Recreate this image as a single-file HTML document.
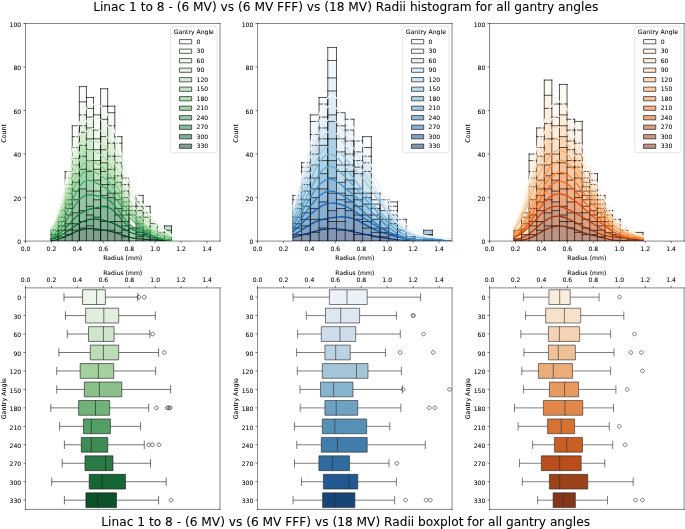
<!DOCTYPE html>
<html><head><meta charset="utf-8"><title>Radii</title><style>html,body{margin:0;padding:0;background:#fff;overflow:hidden}svg{display:block}</style></head><body>
<svg width="685" height="529" viewBox="0 0 1122.95 867.21" version="1.1">
 
 <defs>
  <style type="text/css">*{stroke-linejoin: round; stroke-linecap: butt}</style>
 </defs>
 <g id="figure_1">
  <g id="patch_1">
   <path d="M 0 867.21 
L 1122.95 867.21 
L 1122.95 0 
L 0 0 
z
" style="fill: #ffffff"/>
  </g>
  <g id="axes_1">
   <g id="patch_2">
    <path d="M 41.80 395.24 
L 360.65 395.24 
L 360.65 38.52 
L 41.80 38.52 
z
" style="fill: #ffffff"/>
   </g>
   <g id="patch_3">
    <path d="M 106.84 395.24 
L 118.46 395.24 
L 118.46 384.54 
L 106.84 384.54 
z
" clip-path="url(#pce05e1e68a)" style="fill: #00441b; fill-opacity: 0.5"/>
   </g>
   <g id="patch_4">
    <path d="M 118.46 395.24 
L 130.08 395.24 
L 130.08 377.40 
L 118.46 377.40 
z
" clip-path="url(#pce05e1e68a)" style="fill: #00441b; fill-opacity: 0.5"/>
   </g>
   <g id="patch_5">
    <path d="M 130.08 395.24 
L 141.70 395.24 
L 141.70 373.84 
L 130.08 373.84 
z
" clip-path="url(#pce05e1e68a)" style="fill: #00441b; fill-opacity: 0.5"/>
   </g>
   <g id="patch_6">
    <path d="M 141.70 395.24 
L 153.32 395.24 
L 153.32 370.27 
L 141.70 370.27 
z
" clip-path="url(#pce05e1e68a)" style="fill: #00441b; fill-opacity: 0.5"/>
   </g>
   <g id="patch_7">
    <path d="M 153.32 395.24 
L 164.94 395.24 
L 164.94 377.40 
L 153.32 377.40 
z
" clip-path="url(#pce05e1e68a)" style="fill: #00441b; fill-opacity: 0.5"/>
   </g>
   <g id="patch_8">
    <path d="M 164.94 395.24 
L 176.56 395.24 
L 176.56 377.40 
L 164.94 377.40 
z
" clip-path="url(#pce05e1e68a)" style="fill: #00441b; fill-opacity: 0.5"/>
   </g>
   <g id="patch_9">
    <path d="M 176.56 395.24 
L 188.18 395.24 
L 188.18 377.40 
L 176.56 377.40 
z
" clip-path="url(#pce05e1e68a)" style="fill: #00441b; fill-opacity: 0.5"/>
   </g>
   <g id="patch_10">
    <path d="M 188.18 395.24 
L 199.80 395.24 
L 199.80 380.97 
L 188.18 380.97 
z
" clip-path="url(#pce05e1e68a)" style="fill: #00441b; fill-opacity: 0.5"/>
   </g>
   <g id="patch_11">
    <path d="M 199.80 395.24 
L 211.42 395.24 
L 211.42 388.11 
L 199.80 388.11 
z
" clip-path="url(#pce05e1e68a)" style="fill: #00441b; fill-opacity: 0.5"/>
   </g>
   <g id="patch_12">
    <path d="M 223.04 395.24 
L 234.66 395.24 
L 234.66 388.11 
L 223.04 388.11 
z
" clip-path="url(#pce05e1e68a)" style="fill: #00441b; fill-opacity: 0.5"/>
   </g>
   <g id="patch_13">
    <path d="M 246.28 395.24 
L 257.90 395.24 
L 257.90 391.67 
L 246.28 391.67 
z
" clip-path="url(#pce05e1e68a)" style="fill: #00441b; fill-opacity: 0.5"/>
   </g>
   <g id="patch_14">
    <path d="M 95.22 395.24 
L 106.84 395.24 
L 106.84 388.11 
L 95.22 388.11 
z
" clip-path="url(#pce05e1e68a)" style="fill: #006227; fill-opacity: 0.5"/>
   </g>
   <g id="patch_15">
    <path d="M 106.84 384.54 
L 118.46 384.54 
L 118.46 377.40 
L 106.84 377.40 
z
" clip-path="url(#pce05e1e68a)" style="fill: #006227; fill-opacity: 0.5"/>
   </g>
   <g id="patch_16">
    <path d="M 118.46 377.40 
L 130.08 377.40 
L 130.08 366.70 
L 118.46 366.70 
z
" clip-path="url(#pce05e1e68a)" style="fill: #006227; fill-opacity: 0.5"/>
   </g>
   <g id="patch_17">
    <path d="M 130.08 373.84 
L 141.70 373.84 
L 141.70 363.14 
L 130.08 363.14 
z
" clip-path="url(#pce05e1e68a)" style="fill: #006227; fill-opacity: 0.5"/>
   </g>
   <g id="patch_18">
    <path d="M 141.70 370.27 
L 153.32 370.27 
L 153.32 352.43 
L 141.70 352.43 
z
" clip-path="url(#pce05e1e68a)" style="fill: #006227; fill-opacity: 0.5"/>
   </g>
   <g id="patch_19">
    <path d="M 153.32 377.40 
L 164.94 377.40 
L 164.94 356.00 
L 153.32 356.00 
z
" clip-path="url(#pce05e1e68a)" style="fill: #006227; fill-opacity: 0.5"/>
   </g>
   <g id="patch_20">
    <path d="M 164.94 377.40 
L 176.56 377.40 
L 176.56 363.14 
L 164.94 363.14 
z
" clip-path="url(#pce05e1e68a)" style="fill: #006227; fill-opacity: 0.5"/>
   </g>
   <g id="patch_21">
    <path d="M 176.56 377.40 
L 188.18 377.40 
L 188.18 363.14 
L 176.56 363.14 
z
" clip-path="url(#pce05e1e68a)" style="fill: #006227; fill-opacity: 0.5"/>
   </g>
   <g id="patch_22">
    <path d="M 188.18 380.97 
L 199.80 380.97 
L 199.80 363.14 
L 188.18 363.14 
z
" clip-path="url(#pce05e1e68a)" style="fill: #006227; fill-opacity: 0.5"/>
   </g>
   <g id="patch_23">
    <path d="M 199.80 388.11 
L 211.42 388.11 
L 211.42 377.40 
L 199.80 377.40 
z
" clip-path="url(#pce05e1e68a)" style="fill: #006227; fill-opacity: 0.5"/>
   </g>
   <g id="patch_24">
    <path d="M 223.04 388.11 
L 234.66 388.11 
L 234.66 380.97 
L 223.04 380.97 
z
" clip-path="url(#pce05e1e68a)" style="fill: #006227; fill-opacity: 0.5"/>
   </g>
   <g id="patch_25">
    <path d="M 234.66 395.24 
L 246.28 395.24 
L 246.28 384.54 
L 234.66 384.54 
z
" clip-path="url(#pce05e1e68a)" style="fill: #006227; fill-opacity: 0.5"/>
   </g>
   <g id="patch_26">
    <path d="M 257.90 395.24 
L 269.52 395.24 
L 269.52 391.67 
L 257.90 391.67 
z
" clip-path="url(#pce05e1e68a)" style="fill: #006227; fill-opacity: 0.5"/>
   </g>
   <g id="patch_27">
    <path d="M 106.84 377.40 
L 118.46 377.40 
L 118.46 366.70 
L 106.84 366.70 
z
" clip-path="url(#pce05e1e68a)" style="fill: #107a37; fill-opacity: 0.5"/>
   </g>
   <g id="patch_28">
    <path d="M 118.46 366.70 
L 130.08 366.70 
L 130.08 348.87 
L 118.46 348.87 
z
" clip-path="url(#pce05e1e68a)" style="fill: #107a37; fill-opacity: 0.5"/>
   </g>
   <g id="patch_29">
    <path d="M 130.08 363.14 
L 141.70 363.14 
L 141.70 345.30 
L 130.08 345.30 
z
" clip-path="url(#pce05e1e68a)" style="fill: #107a37; fill-opacity: 0.5"/>
   </g>
   <g id="patch_30">
    <path d="M 141.70 352.43 
L 153.32 352.43 
L 153.32 338.17 
L 141.70 338.17 
z
" clip-path="url(#pce05e1e68a)" style="fill: #107a37; fill-opacity: 0.5"/>
   </g>
   <g id="patch_31">
    <path d="M 153.32 356.00 
L 164.94 356.00 
L 164.94 341.73 
L 153.32 341.73 
z
" clip-path="url(#pce05e1e68a)" style="fill: #107a37; fill-opacity: 0.5"/>
   </g>
   <g id="patch_32">
    <path d="M 164.94 363.14 
L 176.56 363.14 
L 176.56 338.17 
L 164.94 338.17 
z
" clip-path="url(#pce05e1e68a)" style="fill: #107a37; fill-opacity: 0.5"/>
   </g>
   <g id="patch_33">
    <path d="M 176.56 363.14 
L 188.18 363.14 
L 188.18 323.90 
L 176.56 323.90 
z
" clip-path="url(#pce05e1e68a)" style="fill: #107a37; fill-opacity: 0.5"/>
   </g>
   <g id="patch_34">
    <path d="M 188.18 363.14 
L 199.80 363.14 
L 199.80 352.43 
L 188.18 352.43 
z
" clip-path="url(#pce05e1e68a)" style="fill: #107a37; fill-opacity: 0.5"/>
   </g>
   <g id="patch_35">
    <path d="M 199.80 377.40 
L 211.42 377.40 
L 211.42 370.27 
L 199.80 370.27 
z
" clip-path="url(#pce05e1e68a)" style="fill: #107a37; fill-opacity: 0.5"/>
   </g>
   <g id="patch_36">
    <path d="M 223.04 380.97 
L 234.66 380.97 
L 234.66 373.84 
L 223.04 373.84 
z
" clip-path="url(#pce05e1e68a)" style="fill: #107a37; fill-opacity: 0.5"/>
   </g>
   <g id="patch_37">
    <path d="M 234.66 384.54 
L 246.28 384.54 
L 246.28 377.40 
L 234.66 377.40 
z
" clip-path="url(#pce05e1e68a)" style="fill: #107a37; fill-opacity: 0.5"/>
   </g>
   <g id="patch_38">
    <path d="M 106.84 366.70 
L 118.46 366.70 
L 118.46 352.43 
L 106.84 352.43 
z
" clip-path="url(#pce05e1e68a)" style="fill: #289049; fill-opacity: 0.5"/>
   </g>
   <g id="patch_39">
    <path d="M 118.46 348.87 
L 130.08 348.87 
L 130.08 327.46 
L 118.46 327.46 
z
" clip-path="url(#pce05e1e68a)" style="fill: #289049; fill-opacity: 0.5"/>
   </g>
   <g id="patch_40">
    <path d="M 130.08 345.30 
L 141.70 345.30 
L 141.70 309.63 
L 130.08 309.63 
z
" clip-path="url(#pce05e1e68a)" style="fill: #289049; fill-opacity: 0.5"/>
   </g>
   <g id="patch_41">
    <path d="M 141.70 338.17 
L 153.32 338.17 
L 153.32 313.2 
L 141.70 313.2 
z
" clip-path="url(#pce05e1e68a)" style="fill: #289049; fill-opacity: 0.5"/>
   </g>
   <g id="patch_42">
    <path d="M 153.32 341.73 
L 164.94 341.73 
L 164.94 327.46 
L 153.32 327.46 
z
" clip-path="url(#pce05e1e68a)" style="fill: #289049; fill-opacity: 0.5"/>
   </g>
   <g id="patch_43">
    <path d="M 164.94 338.17 
L 176.56 338.17 
L 176.56 320.33 
L 164.94 320.33 
z
" clip-path="url(#pce05e1e68a)" style="fill: #289049; fill-opacity: 0.5"/>
   </g>
   <g id="patch_44">
    <path d="M 176.56 323.90 
L 188.18 323.90 
L 188.18 316.76 
L 176.56 316.76 
z
" clip-path="url(#pce05e1e68a)" style="fill: #289049; fill-opacity: 0.5"/>
   </g>
   <g id="patch_45">
    <path d="M 188.18 352.43 
L 199.80 352.43 
L 199.80 341.73 
L 188.18 341.73 
z
" clip-path="url(#pce05e1e68a)" style="fill: #289049; fill-opacity: 0.5"/>
   </g>
   <g id="patch_46">
    <path d="M 199.80 370.27 
L 211.42 370.27 
L 211.42 363.14 
L 199.80 363.14 
z
" clip-path="url(#pce05e1e68a)" style="fill: #289049; fill-opacity: 0.5"/>
   </g>
   <g id="patch_47">
    <path d="M 223.04 373.84 
L 234.66 373.84 
L 234.66 366.70 
L 223.04 366.70 
z
" clip-path="url(#pce05e1e68a)" style="fill: #289049; fill-opacity: 0.5"/>
   </g>
   <g id="patch_48">
    <path d="M 95.22 388.11 
L 106.84 388.11 
L 106.84 377.40 
L 95.22 377.40 
z
" clip-path="url(#pce05e1e68a)" style="fill: #3fa85b; fill-opacity: 0.5"/>
   </g>
   <g id="patch_49">
    <path d="M 106.84 352.43 
L 118.46 352.43 
L 118.46 341.73 
L 106.84 341.73 
z
" clip-path="url(#pce05e1e68a)" style="fill: #3fa85b; fill-opacity: 0.5"/>
   </g>
   <g id="patch_50">
    <path d="M 118.46 327.46 
L 130.08 327.46 
L 130.08 313.2 
L 118.46 313.2 
z
" clip-path="url(#pce05e1e68a)" style="fill: #3fa85b; fill-opacity: 0.5"/>
   </g>
   <g id="patch_51">
    <path d="M 130.08 309.63 
L 141.70 309.63 
L 141.70 277.52 
L 130.08 277.52 
z
" clip-path="url(#pce05e1e68a)" style="fill: #3fa85b; fill-opacity: 0.5"/>
   </g>
   <g id="patch_52">
    <path d="M 141.70 313.2 
L 153.32 313.2 
L 153.32 281.09 
L 141.70 281.09 
z
" clip-path="url(#pce05e1e68a)" style="fill: #3fa85b; fill-opacity: 0.5"/>
   </g>
   <g id="patch_53">
    <path d="M 153.32 327.46 
L 164.94 327.46 
L 164.94 313.2 
L 153.32 313.2 
z
" clip-path="url(#pce05e1e68a)" style="fill: #3fa85b; fill-opacity: 0.5"/>
   </g>
   <g id="patch_54">
    <path d="M 164.94 320.33 
L 176.56 320.33 
L 176.56 302.49 
L 164.94 302.49 
z
" clip-path="url(#pce05e1e68a)" style="fill: #3fa85b; fill-opacity: 0.5"/>
   </g>
   <g id="patch_55">
    <path d="M 176.56 316.76 
L 188.18 316.76 
L 188.18 302.49 
L 176.56 302.49 
z
" clip-path="url(#pce05e1e68a)" style="fill: #3fa85b; fill-opacity: 0.5"/>
   </g>
   <g id="patch_56">
    <path d="M 188.18 341.73 
L 199.80 341.73 
L 199.80 327.46 
L 188.18 327.46 
z
" clip-path="url(#pce05e1e68a)" style="fill: #3fa85b; fill-opacity: 0.5"/>
   </g>
   <g id="patch_57">
    <path d="M 199.80 363.14 
L 211.42 363.14 
L 211.42 352.43 
L 199.80 352.43 
z
" clip-path="url(#pce05e1e68a)" style="fill: #3fa85b; fill-opacity: 0.5"/>
   </g>
   <g id="patch_58">
    <path d="M 211.42 395.24 
L 223.04 395.24 
L 223.04 373.84 
L 211.42 373.84 
z
" clip-path="url(#pce05e1e68a)" style="fill: #3fa85b; fill-opacity: 0.5"/>
   </g>
   <g id="patch_59">
    <path d="M 83.60 395.24 
L 95.22 395.24 
L 95.22 384.54 
L 83.60 384.54 
z
" clip-path="url(#pce05e1e68a)" style="fill: #62bb6d; fill-opacity: 0.5"/>
   </g>
   <g id="patch_60">
    <path d="M 95.22 377.40 
L 106.84 377.40 
L 106.84 370.27 
L 95.22 370.27 
z
" clip-path="url(#pce05e1e68a)" style="fill: #62bb6d; fill-opacity: 0.5"/>
   </g>
   <g id="patch_61">
    <path d="M 106.84 341.73 
L 118.46 341.73 
L 118.46 334.60 
L 106.84 334.60 
z
" clip-path="url(#pce05e1e68a)" style="fill: #62bb6d; fill-opacity: 0.5"/>
   </g>
   <g id="patch_62">
    <path d="M 118.46 313.2 
L 130.08 313.2 
L 130.08 298.93 
L 118.46 298.93 
z
" clip-path="url(#pce05e1e68a)" style="fill: #62bb6d; fill-opacity: 0.5"/>
   </g>
   <g id="patch_63">
    <path d="M 130.08 277.52 
L 141.70 277.52 
L 141.70 256.12 
L 130.08 256.12 
z
" clip-path="url(#pce05e1e68a)" style="fill: #62bb6d; fill-opacity: 0.5"/>
   </g>
   <g id="patch_64">
    <path d="M 141.70 281.09 
L 153.32 281.09 
L 153.32 263.25 
L 141.70 263.25 
z
" clip-path="url(#pce05e1e68a)" style="fill: #62bb6d; fill-opacity: 0.5"/>
   </g>
   <g id="patch_65">
    <path d="M 153.32 313.2 
L 164.94 313.2 
L 164.94 295.36 
L 153.32 295.36 
z
" clip-path="url(#pce05e1e68a)" style="fill: #62bb6d; fill-opacity: 0.5"/>
   </g>
   <g id="patch_66">
    <path d="M 164.94 302.49 
L 176.56 302.49 
L 176.56 281.09 
L 164.94 281.09 
z
" clip-path="url(#pce05e1e68a)" style="fill: #62bb6d; fill-opacity: 0.5"/>
   </g>
   <g id="patch_67">
    <path d="M 176.56 302.49 
L 188.18 302.49 
L 188.18 291.79 
L 176.56 291.79 
z
" clip-path="url(#pce05e1e68a)" style="fill: #62bb6d; fill-opacity: 0.5"/>
   </g>
   <g id="patch_68">
    <path d="M 188.18 327.46 
L 199.80 327.46 
L 199.80 316.76 
L 188.18 316.76 
z
" clip-path="url(#pce05e1e68a)" style="fill: #62bb6d; fill-opacity: 0.5"/>
   </g>
   <g id="patch_69">
    <path d="M 199.80 352.43 
L 211.42 352.43 
L 211.42 345.30 
L 199.80 345.30 
z
" clip-path="url(#pce05e1e68a)" style="fill: #62bb6d; fill-opacity: 0.5"/>
   </g>
   <g id="patch_70">
    <path d="M 223.04 366.70 
L 234.66 366.70 
L 234.66 356.00 
L 223.04 356.00 
z
" clip-path="url(#pce05e1e68a)" style="fill: #62bb6d; fill-opacity: 0.5"/>
   </g>
   <g id="patch_71">
    <path d="M 269.52 395.24 
L 281.14 395.24 
L 281.14 377.40 
L 269.52 377.40 
z
" clip-path="url(#pce05e1e68a)" style="fill: #62bb6d; fill-opacity: 0.5"/>
   </g>
   <g id="patch_72">
    <path d="M 83.60 384.54 
L 95.22 384.54 
L 95.22 377.40 
L 83.60 377.40 
z
" clip-path="url(#pce05e1e68a)" style="fill: #84cc83; fill-opacity: 0.5"/>
   </g>
   <g id="patch_73">
    <path d="M 95.22 370.27 
L 106.84 370.27 
L 106.84 363.14 
L 95.22 363.14 
z
" clip-path="url(#pce05e1e68a)" style="fill: #84cc83; fill-opacity: 0.5"/>
   </g>
   <g id="patch_74">
    <path d="M 106.84 334.60 
L 118.46 334.60 
L 118.46 327.46 
L 106.84 327.46 
z
" clip-path="url(#pce05e1e68a)" style="fill: #84cc83; fill-opacity: 0.5"/>
   </g>
   <g id="patch_75">
    <path d="M 118.46 298.93 
L 130.08 298.93 
L 130.08 284.66 
L 118.46 284.66 
z
" clip-path="url(#pce05e1e68a)" style="fill: #84cc83; fill-opacity: 0.5"/>
   </g>
   <g id="patch_76">
    <path d="M 130.08 256.12 
L 141.70 256.12 
L 141.70 238.28 
L 130.08 238.28 
z
" clip-path="url(#pce05e1e68a)" style="fill: #84cc83; fill-opacity: 0.5"/>
   </g>
   <g id="patch_77">
    <path d="M 141.70 263.25 
L 153.32 263.25 
L 153.32 245.42 
L 141.70 245.42 
z
" clip-path="url(#pce05e1e68a)" style="fill: #84cc83; fill-opacity: 0.5"/>
   </g>
   <g id="patch_78">
    <path d="M 153.32 295.36 
L 164.94 295.36 
L 164.94 277.52 
L 153.32 277.52 
z
" clip-path="url(#pce05e1e68a)" style="fill: #84cc83; fill-opacity: 0.5"/>
   </g>
   <g id="patch_79">
    <path d="M 164.94 281.09 
L 176.56 281.09 
L 176.56 266.82 
L 164.94 266.82 
z
" clip-path="url(#pce05e1e68a)" style="fill: #84cc83; fill-opacity: 0.5"/>
   </g>
   <g id="patch_80">
    <path d="M 176.56 291.79 
L 188.18 291.79 
L 188.18 277.52 
L 176.56 277.52 
z
" clip-path="url(#pce05e1e68a)" style="fill: #84cc83; fill-opacity: 0.5"/>
   </g>
   <g id="patch_81">
    <path d="M 188.18 316.76 
L 199.80 316.76 
L 199.80 298.93 
L 188.18 298.93 
z
" clip-path="url(#pce05e1e68a)" style="fill: #84cc83; fill-opacity: 0.5"/>
   </g>
   <g id="patch_82">
    <path d="M 199.80 345.30 
L 211.42 345.30 
L 211.42 338.17 
L 199.80 338.17 
z
" clip-path="url(#pce05e1e68a)" style="fill: #84cc83; fill-opacity: 0.5"/>
   </g>
   <g id="patch_83">
    <path d="M 257.90 391.67 
L 269.52 391.67 
L 269.52 380.97 
L 257.90 380.97 
z
" clip-path="url(#pce05e1e68a)" style="fill: #84cc83; fill-opacity: 0.5"/>
   </g>
   <g id="patch_84">
    <path d="M 269.52 377.40 
L 281.14 377.40 
L 281.14 370.27 
L 269.52 370.27 
z
" clip-path="url(#pce05e1e68a)" style="fill: #84cc83; fill-opacity: 0.5"/>
   </g>
   <g id="patch_85">
    <path d="M 95.22 363.14 
L 106.84 363.14 
L 106.84 356.00 
L 95.22 356.00 
z
" clip-path="url(#pce05e1e68a)" style="fill: #a4da9e; fill-opacity: 0.5"/>
   </g>
   <g id="patch_86">
    <path d="M 106.84 327.46 
L 118.46 327.46 
L 118.46 316.76 
L 106.84 316.76 
z
" clip-path="url(#pce05e1e68a)" style="fill: #a4da9e; fill-opacity: 0.5"/>
   </g>
   <g id="patch_87">
    <path d="M 118.46 284.66 
L 130.08 284.66 
L 130.08 270.39 
L 118.46 270.39 
z
" clip-path="url(#pce05e1e68a)" style="fill: #a4da9e; fill-opacity: 0.5"/>
   </g>
   <g id="patch_88">
    <path d="M 130.08 238.28 
L 141.70 238.28 
L 141.70 216.88 
L 130.08 216.88 
z
" clip-path="url(#pce05e1e68a)" style="fill: #a4da9e; fill-opacity: 0.5"/>
   </g>
   <g id="patch_89">
    <path d="M 141.70 245.42 
L 153.32 245.42 
L 153.32 227.58 
L 141.70 227.58 
z
" clip-path="url(#pce05e1e68a)" style="fill: #a4da9e; fill-opacity: 0.5"/>
   </g>
   <g id="patch_90">
    <path d="M 153.32 277.52 
L 164.94 277.52 
L 164.94 263.25 
L 153.32 263.25 
z
" clip-path="url(#pce05e1e68a)" style="fill: #a4da9e; fill-opacity: 0.5"/>
   </g>
   <g id="patch_91">
    <path d="M 164.94 266.82 
L 176.56 266.82 
L 176.56 245.42 
L 164.94 245.42 
z
" clip-path="url(#pce05e1e68a)" style="fill: #a4da9e; fill-opacity: 0.5"/>
   </g>
   <g id="patch_92">
    <path d="M 176.56 277.52 
L 188.18 277.52 
L 188.18 256.12 
L 176.56 256.12 
z
" clip-path="url(#pce05e1e68a)" style="fill: #a4da9e; fill-opacity: 0.5"/>
   </g>
   <g id="patch_93">
    <path d="M 188.18 298.93 
L 199.80 298.93 
L 199.80 288.22 
L 188.18 288.22 
z
" clip-path="url(#pce05e1e68a)" style="fill: #a4da9e; fill-opacity: 0.5"/>
   </g>
   <g id="patch_94">
    <path d="M 199.80 338.17 
L 211.42 338.17 
L 211.42 331.03 
L 199.80 331.03 
z
" clip-path="url(#pce05e1e68a)" style="fill: #a4da9e; fill-opacity: 0.5"/>
   </g>
   <g id="patch_95">
    <path d="M 223.04 356.00 
L 234.66 356.00 
L 234.66 345.30 
L 223.04 345.30 
z
" clip-path="url(#pce05e1e68a)" style="fill: #a4da9e; fill-opacity: 0.5"/>
   </g>
   <g id="patch_96">
    <path d="M 95.22 356.00 
L 106.84 356.00 
L 106.84 345.30 
L 95.22 345.30 
z
" clip-path="url(#pce05e1e68a)" style="fill: #c1e6ba; fill-opacity: 0.5"/>
   </g>
   <g id="patch_97">
    <path d="M 106.84 316.76 
L 118.46 316.76 
L 118.46 309.63 
L 106.84 309.63 
z
" clip-path="url(#pce05e1e68a)" style="fill: #c1e6ba; fill-opacity: 0.5"/>
   </g>
   <g id="patch_98">
    <path d="M 118.46 270.39 
L 130.08 270.39 
L 130.08 259.69 
L 118.46 259.69 
z
" clip-path="url(#pce05e1e68a)" style="fill: #c1e6ba; fill-opacity: 0.5"/>
   </g>
   <g id="patch_99">
    <path d="M 130.08 216.88 
L 141.70 216.88 
L 141.70 206.18 
L 130.08 206.18 
z
" clip-path="url(#pce05e1e68a)" style="fill: #c1e6ba; fill-opacity: 0.5"/>
   </g>
   <g id="patch_100">
    <path d="M 141.70 227.58 
L 153.32 227.58 
L 153.32 209.75 
L 141.70 209.75 
z
" clip-path="url(#pce05e1e68a)" style="fill: #c1e6ba; fill-opacity: 0.5"/>
   </g>
   <g id="patch_101">
    <path d="M 153.32 263.25 
L 164.94 263.25 
L 164.94 245.42 
L 153.32 245.42 
z
" clip-path="url(#pce05e1e68a)" style="fill: #c1e6ba; fill-opacity: 0.5"/>
   </g>
   <g id="patch_102">
    <path d="M 164.94 245.42 
L 176.56 245.42 
L 176.56 224.01 
L 164.94 224.01 
z
" clip-path="url(#pce05e1e68a)" style="fill: #c1e6ba; fill-opacity: 0.5"/>
   </g>
   <g id="patch_103">
    <path d="M 176.56 256.12 
L 188.18 256.12 
L 188.18 234.72 
L 176.56 234.72 
z
" clip-path="url(#pce05e1e68a)" style="fill: #c1e6ba; fill-opacity: 0.5"/>
   </g>
   <g id="patch_104">
    <path d="M 188.18 288.22 
L 199.80 288.22 
L 199.80 266.82 
L 188.18 266.82 
z
" clip-path="url(#pce05e1e68a)" style="fill: #c1e6ba; fill-opacity: 0.5"/>
   </g>
   <g id="patch_105">
    <path d="M 199.80 331.03 
L 211.42 331.03 
L 211.42 323.90 
L 199.80 323.90 
z
" clip-path="url(#pce05e1e68a)" style="fill: #c1e6ba; fill-opacity: 0.5"/>
   </g>
   <g id="patch_106">
    <path d="M 223.04 345.30 
L 234.66 345.30 
L 234.66 338.17 
L 223.04 338.17 
z
" clip-path="url(#pce05e1e68a)" style="fill: #c1e6ba; fill-opacity: 0.5"/>
   </g>
   <g id="patch_107">
    <path d="M 234.66 377.40 
L 246.28 377.40 
L 246.28 356.00 
L 234.66 356.00 
z
" clip-path="url(#pce05e1e68a)" style="fill: #c1e6ba; fill-opacity: 0.5"/>
   </g>
   <g id="patch_108">
    <path d="M 106.84 309.63 
L 118.46 309.63 
L 118.46 302.49 
L 106.84 302.49 
z
" clip-path="url(#pce05e1e68a)" style="fill: #d8f0d2; fill-opacity: 0.5"/>
   </g>
   <g id="patch_109">
    <path d="M 118.46 259.69 
L 130.08 259.69 
L 130.08 241.85 
L 118.46 241.85 
z
" clip-path="url(#pce05e1e68a)" style="fill: #d8f0d2; fill-opacity: 0.5"/>
   </g>
   <g id="patch_110">
    <path d="M 130.08 206.18 
L 141.70 206.18 
L 141.70 188.34 
L 130.08 188.34 
z
" clip-path="url(#pce05e1e68a)" style="fill: #d8f0d2; fill-opacity: 0.5"/>
   </g>
   <g id="patch_111">
    <path d="M 141.70 209.75 
L 153.32 209.75 
L 153.32 191.91 
L 141.70 191.91 
z
" clip-path="url(#pce05e1e68a)" style="fill: #d8f0d2; fill-opacity: 0.5"/>
   </g>
   <g id="patch_112">
    <path d="M 153.32 245.42 
L 164.94 245.42 
L 164.94 227.58 
L 153.32 227.58 
z
" clip-path="url(#pce05e1e68a)" style="fill: #d8f0d2; fill-opacity: 0.5"/>
   </g>
   <g id="patch_113">
    <path d="M 164.94 224.01 
L 176.56 224.01 
L 176.56 195.48 
L 164.94 195.48 
z
" clip-path="url(#pce05e1e68a)" style="fill: #d8f0d2; fill-opacity: 0.5"/>
   </g>
   <g id="patch_114">
    <path d="M 176.56 234.72 
L 188.18 234.72 
L 188.18 206.18 
L 176.56 206.18 
z
" clip-path="url(#pce05e1e68a)" style="fill: #d8f0d2; fill-opacity: 0.5"/>
   </g>
   <g id="patch_115">
    <path d="M 188.18 266.82 
L 199.80 266.82 
L 199.80 256.12 
L 188.18 256.12 
z
" clip-path="url(#pce05e1e68a)" style="fill: #d8f0d2; fill-opacity: 0.5"/>
   </g>
   <g id="patch_116">
    <path d="M 199.80 323.90 
L 211.42 323.90 
L 211.42 313.2 
L 199.80 313.2 
z
" clip-path="url(#pce05e1e68a)" style="fill: #d8f0d2; fill-opacity: 0.5"/>
   </g>
   <g id="patch_117">
    <path d="M 211.42 373.84 
L 223.04 373.84 
L 223.04 352.43 
L 211.42 352.43 
z
" clip-path="url(#pce05e1e68a)" style="fill: #d8f0d2; fill-opacity: 0.5"/>
   </g>
   <g id="patch_118">
    <path d="M 223.04 338.17 
L 234.66 338.17 
L 234.66 331.03 
L 223.04 331.03 
z
" clip-path="url(#pce05e1e68a)" style="fill: #d8f0d2; fill-opacity: 0.5"/>
   </g>
   <g id="patch_119">
    <path d="M 234.66 356.00 
L 246.28 356.00 
L 246.28 348.87 
L 234.66 348.87 
z
" clip-path="url(#pce05e1e68a)" style="fill: #d8f0d2; fill-opacity: 0.5"/>
   </g>
   <g id="patch_120">
    <path d="M 246.28 391.67 
L 257.90 391.67 
L 257.90 366.70 
L 246.28 366.70 
z
" clip-path="url(#pce05e1e68a)" style="fill: #d8f0d2; fill-opacity: 0.5"/>
   </g>
   <g id="patch_121">
    <path d="M 106.84 302.49 
L 118.46 302.49 
L 118.46 291.79 
L 106.84 291.79 
z
" clip-path="url(#pce05e1e68a)" style="fill: #eaf7e6; fill-opacity: 0.5"/>
   </g>
   <g id="patch_122">
    <path d="M 118.46 241.85 
L 130.08 241.85 
L 130.08 224.01 
L 118.46 224.01 
z
" clip-path="url(#pce05e1e68a)" style="fill: #eaf7e6; fill-opacity: 0.5"/>
   </g>
   <g id="patch_123">
    <path d="M 130.08 188.34 
L 141.70 188.34 
L 141.70 166.94 
L 130.08 166.94 
z
" clip-path="url(#pce05e1e68a)" style="fill: #eaf7e6; fill-opacity: 0.5"/>
   </g>
   <g id="patch_124">
    <path d="M 141.70 191.91 
L 153.32 191.91 
L 153.32 177.64 
L 141.70 177.64 
z
" clip-path="url(#pce05e1e68a)" style="fill: #eaf7e6; fill-opacity: 0.5"/>
   </g>
   <g id="patch_125">
    <path d="M 153.32 227.58 
L 164.94 227.58 
L 164.94 213.31 
L 153.32 213.31 
z
" clip-path="url(#pce05e1e68a)" style="fill: #eaf7e6; fill-opacity: 0.5"/>
   </g>
   <g id="patch_126">
    <path d="M 164.94 195.48 
L 176.56 195.48 
L 176.56 174.07 
L 164.94 174.07 
z
" clip-path="url(#pce05e1e68a)" style="fill: #eaf7e6; fill-opacity: 0.5"/>
   </g>
   <g id="patch_127">
    <path d="M 176.56 206.18 
L 188.18 206.18 
L 188.18 184.78 
L 176.56 184.78 
z
" clip-path="url(#pce05e1e68a)" style="fill: #eaf7e6; fill-opacity: 0.5"/>
   </g>
   <g id="patch_128">
    <path d="M 188.18 256.12 
L 199.80 256.12 
L 199.80 234.72 
L 188.18 234.72 
z
" clip-path="url(#pce05e1e68a)" style="fill: #eaf7e6; fill-opacity: 0.5"/>
   </g>
   <g id="patch_129">
    <path d="M 199.80 313.2 
L 211.42 313.2 
L 211.42 302.49 
L 199.80 302.49 
z
" clip-path="url(#pce05e1e68a)" style="fill: #eaf7e6; fill-opacity: 0.5"/>
   </g>
   <g id="patch_130">
    <path d="M 211.42 352.43 
L 223.04 352.43 
L 223.04 345.30 
L 211.42 345.30 
z
" clip-path="url(#pce05e1e68a)" style="fill: #eaf7e6; fill-opacity: 0.5"/>
   </g>
   <g id="patch_131">
    <path d="M 223.04 331.03 
L 234.66 331.03 
L 234.66 320.33 
L 223.04 320.33 
z
" clip-path="url(#pce05e1e68a)" style="fill: #eaf7e6; fill-opacity: 0.5"/>
   </g>
   <g id="patch_132">
    <path d="M 234.66 348.87 
L 246.28 348.87 
L 246.28 338.17 
L 234.66 338.17 
z
" clip-path="url(#pce05e1e68a)" style="fill: #eaf7e6; fill-opacity: 0.5"/>
   </g>
   <g id="patch_133">
    <path d="M 106.84 291.79 
L 118.46 291.79 
L 118.46 281.09 
L 106.84 281.09 
z
" clip-path="url(#pce05e1e68a)" style="fill: #f7fcf5; fill-opacity: 0.5"/>
   </g>
   <g id="patch_134">
    <path d="M 118.46 224.01 
L 130.08 224.01 
L 130.08 206.18 
L 118.46 206.18 
z
" clip-path="url(#pce05e1e68a)" style="fill: #f7fcf5; fill-opacity: 0.5"/>
   </g>
   <g id="patch_135">
    <path d="M 130.08 166.94 
L 141.70 166.94 
L 141.70 141.97 
L 130.08 141.97 
z
" clip-path="url(#pce05e1e68a)" style="fill: #f7fcf5; fill-opacity: 0.5"/>
   </g>
   <g id="patch_136">
    <path d="M 141.70 177.64 
L 153.32 177.64 
L 153.32 159.80 
L 141.70 159.80 
z
" clip-path="url(#pce05e1e68a)" style="fill: #f7fcf5; fill-opacity: 0.5"/>
   </g>
   <g id="patch_137">
    <path d="M 153.32 213.31 
L 164.94 213.31 
L 164.94 188.34 
L 153.32 188.34 
z
" clip-path="url(#pce05e1e68a)" style="fill: #f7fcf5; fill-opacity: 0.5"/>
   </g>
   <g id="patch_138">
    <path d="M 164.94 174.07 
L 176.56 174.07 
L 176.56 145.54 
L 164.94 145.54 
z
" clip-path="url(#pce05e1e68a)" style="fill: #f7fcf5; fill-opacity: 0.5"/>
   </g>
   <g id="patch_139">
    <path d="M 176.56 184.78 
L 188.18 184.78 
L 188.18 174.07 
L 176.56 174.07 
z
" clip-path="url(#pce05e1e68a)" style="fill: #f7fcf5; fill-opacity: 0.5"/>
   </g>
   <g id="patch_140">
    <path d="M 188.18 234.72 
L 199.80 234.72 
L 199.80 224.01 
L 188.18 224.01 
z
" clip-path="url(#pce05e1e68a)" style="fill: #f7fcf5; fill-opacity: 0.5"/>
   </g>
   <g id="patch_141">
    <path d="M 199.80 302.49 
L 211.42 302.49 
L 211.42 291.79 
L 199.80 291.79 
z
" clip-path="url(#pce05e1e68a)" style="fill: #f7fcf5; fill-opacity: 0.5"/>
   </g>
   <g id="patch_142">
    <path d="M 211.42 345.30 
L 223.04 345.30 
L 223.04 338.17 
L 211.42 338.17 
z
" clip-path="url(#pce05e1e68a)" style="fill: #f7fcf5; fill-opacity: 0.5"/>
   </g>
   <g id="LineCollection_1">
    <path d="M 83.60 395.24 
L 95.22 395.24 
" clip-path="url(#pce05e1e68a)" style="fill: none; stroke: #000000; stroke-width: 1.1; stroke-linecap: square"/>
    <path d="M 83.60 384.54 
L 95.22 384.54 
" clip-path="url(#pce05e1e68a)" style="fill: none; stroke: #000000; stroke-width: 1.1; stroke-linecap: square"/>
    <path d="M 83.60 377.40 
L 95.22 377.40 
" clip-path="url(#pce05e1e68a)" style="fill: none; stroke: #000000; stroke-width: 1.1; stroke-linecap: square"/>
    <path d="M 95.22 395.24 
L 106.84 395.24 
" clip-path="url(#pce05e1e68a)" style="fill: none; stroke: #000000; stroke-width: 1.1; stroke-linecap: square"/>
    <path d="M 95.22 388.11 
L 106.84 388.11 
" clip-path="url(#pce05e1e68a)" style="fill: none; stroke: #000000; stroke-width: 1.1; stroke-linecap: square"/>
    <path d="M 95.22 377.40 
L 106.84 377.40 
" clip-path="url(#pce05e1e68a)" style="fill: none; stroke: #000000; stroke-width: 1.1; stroke-linecap: square"/>
    <path d="M 95.22 370.27 
L 106.84 370.27 
" clip-path="url(#pce05e1e68a)" style="fill: none; stroke: #000000; stroke-width: 1.1; stroke-linecap: square"/>
    <path d="M 95.22 363.14 
L 106.84 363.14 
" clip-path="url(#pce05e1e68a)" style="fill: none; stroke: #000000; stroke-width: 1.1; stroke-linecap: square"/>
    <path d="M 95.22 356.00 
L 106.84 356.00 
" clip-path="url(#pce05e1e68a)" style="fill: none; stroke: #000000; stroke-width: 1.1; stroke-linecap: square"/>
    <path d="M 95.22 345.30 
L 106.84 345.30 
" clip-path="url(#pce05e1e68a)" style="fill: none; stroke: #000000; stroke-width: 1.1; stroke-linecap: square"/>
    <path d="M 106.84 395.24 
L 118.46 395.24 
" clip-path="url(#pce05e1e68a)" style="fill: none; stroke: #000000; stroke-width: 1.1; stroke-linecap: square"/>
    <path d="M 106.84 384.54 
L 118.46 384.54 
" clip-path="url(#pce05e1e68a)" style="fill: none; stroke: #000000; stroke-width: 1.1; stroke-linecap: square"/>
    <path d="M 106.84 377.40 
L 118.46 377.40 
" clip-path="url(#pce05e1e68a)" style="fill: none; stroke: #000000; stroke-width: 1.1; stroke-linecap: square"/>
    <path d="M 106.84 366.70 
L 118.46 366.70 
" clip-path="url(#pce05e1e68a)" style="fill: none; stroke: #000000; stroke-width: 1.1; stroke-linecap: square"/>
    <path d="M 106.84 352.43 
L 118.46 352.43 
" clip-path="url(#pce05e1e68a)" style="fill: none; stroke: #000000; stroke-width: 1.1; stroke-linecap: square"/>
    <path d="M 106.84 341.73 
L 118.46 341.73 
" clip-path="url(#pce05e1e68a)" style="fill: none; stroke: #000000; stroke-width: 1.1; stroke-linecap: square"/>
    <path d="M 106.84 334.60 
L 118.46 334.60 
" clip-path="url(#pce05e1e68a)" style="fill: none; stroke: #000000; stroke-width: 1.1; stroke-linecap: square"/>
    <path d="M 106.84 327.46 
L 118.46 327.46 
" clip-path="url(#pce05e1e68a)" style="fill: none; stroke: #000000; stroke-width: 1.1; stroke-linecap: square"/>
    <path d="M 106.84 316.76 
L 118.46 316.76 
" clip-path="url(#pce05e1e68a)" style="fill: none; stroke: #000000; stroke-width: 1.1; stroke-linecap: square"/>
    <path d="M 106.84 309.63 
L 118.46 309.63 
" clip-path="url(#pce05e1e68a)" style="fill: none; stroke: #000000; stroke-width: 1.1; stroke-linecap: square"/>
    <path d="M 106.84 302.49 
L 118.46 302.49 
" clip-path="url(#pce05e1e68a)" style="fill: none; stroke: #000000; stroke-width: 1.1; stroke-linecap: square"/>
    <path d="M 106.84 291.79 
L 118.46 291.79 
" clip-path="url(#pce05e1e68a)" style="fill: none; stroke: #000000; stroke-width: 1.1; stroke-linecap: square"/>
    <path d="M 106.84 281.09 
L 118.46 281.09 
" clip-path="url(#pce05e1e68a)" style="fill: none; stroke: #000000; stroke-width: 1.1; stroke-linecap: square"/>
    <path d="M 118.46 395.24 
L 130.08 395.24 
" clip-path="url(#pce05e1e68a)" style="fill: none; stroke: #000000; stroke-width: 1.1; stroke-linecap: square"/>
    <path d="M 118.46 377.40 
L 130.08 377.40 
" clip-path="url(#pce05e1e68a)" style="fill: none; stroke: #000000; stroke-width: 1.1; stroke-linecap: square"/>
    <path d="M 118.46 366.70 
L 130.08 366.70 
" clip-path="url(#pce05e1e68a)" style="fill: none; stroke: #000000; stroke-width: 1.1; stroke-linecap: square"/>
    <path d="M 118.46 348.87 
L 130.08 348.87 
" clip-path="url(#pce05e1e68a)" style="fill: none; stroke: #000000; stroke-width: 1.1; stroke-linecap: square"/>
    <path d="M 118.46 327.46 
L 130.08 327.46 
" clip-path="url(#pce05e1e68a)" style="fill: none; stroke: #000000; stroke-width: 1.1; stroke-linecap: square"/>
    <path d="M 118.46 313.2 
L 130.08 313.2 
" clip-path="url(#pce05e1e68a)" style="fill: none; stroke: #000000; stroke-width: 1.1; stroke-linecap: square"/>
    <path d="M 118.46 298.93 
L 130.08 298.93 
" clip-path="url(#pce05e1e68a)" style="fill: none; stroke: #000000; stroke-width: 1.1; stroke-linecap: square"/>
    <path d="M 118.46 284.66 
L 130.08 284.66 
" clip-path="url(#pce05e1e68a)" style="fill: none; stroke: #000000; stroke-width: 1.1; stroke-linecap: square"/>
    <path d="M 118.46 270.39 
L 130.08 270.39 
" clip-path="url(#pce05e1e68a)" style="fill: none; stroke: #000000; stroke-width: 1.1; stroke-linecap: square"/>
    <path d="M 118.46 259.69 
L 130.08 259.69 
" clip-path="url(#pce05e1e68a)" style="fill: none; stroke: #000000; stroke-width: 1.1; stroke-linecap: square"/>
    <path d="M 118.46 241.85 
L 130.08 241.85 
" clip-path="url(#pce05e1e68a)" style="fill: none; stroke: #000000; stroke-width: 1.1; stroke-linecap: square"/>
    <path d="M 118.46 224.01 
L 130.08 224.01 
" clip-path="url(#pce05e1e68a)" style="fill: none; stroke: #000000; stroke-width: 1.1; stroke-linecap: square"/>
    <path d="M 118.46 206.18 
L 130.08 206.18 
" clip-path="url(#pce05e1e68a)" style="fill: none; stroke: #000000; stroke-width: 1.1; stroke-linecap: square"/>
    <path d="M 130.08 395.24 
L 141.70 395.24 
" clip-path="url(#pce05e1e68a)" style="fill: none; stroke: #000000; stroke-width: 1.1; stroke-linecap: square"/>
    <path d="M 130.08 373.84 
L 141.70 373.84 
" clip-path="url(#pce05e1e68a)" style="fill: none; stroke: #000000; stroke-width: 1.1; stroke-linecap: square"/>
    <path d="M 130.08 363.14 
L 141.70 363.14 
" clip-path="url(#pce05e1e68a)" style="fill: none; stroke: #000000; stroke-width: 1.1; stroke-linecap: square"/>
    <path d="M 130.08 345.30 
L 141.70 345.30 
" clip-path="url(#pce05e1e68a)" style="fill: none; stroke: #000000; stroke-width: 1.1; stroke-linecap: square"/>
    <path d="M 130.08 309.63 
L 141.70 309.63 
" clip-path="url(#pce05e1e68a)" style="fill: none; stroke: #000000; stroke-width: 1.1; stroke-linecap: square"/>
    <path d="M 130.08 277.52 
L 141.70 277.52 
" clip-path="url(#pce05e1e68a)" style="fill: none; stroke: #000000; stroke-width: 1.1; stroke-linecap: square"/>
    <path d="M 130.08 256.12 
L 141.70 256.12 
" clip-path="url(#pce05e1e68a)" style="fill: none; stroke: #000000; stroke-width: 1.1; stroke-linecap: square"/>
    <path d="M 130.08 238.28 
L 141.70 238.28 
" clip-path="url(#pce05e1e68a)" style="fill: none; stroke: #000000; stroke-width: 1.1; stroke-linecap: square"/>
    <path d="M 130.08 216.88 
L 141.70 216.88 
" clip-path="url(#pce05e1e68a)" style="fill: none; stroke: #000000; stroke-width: 1.1; stroke-linecap: square"/>
    <path d="M 130.08 206.18 
L 141.70 206.18 
" clip-path="url(#pce05e1e68a)" style="fill: none; stroke: #000000; stroke-width: 1.1; stroke-linecap: square"/>
    <path d="M 130.08 188.34 
L 141.70 188.34 
" clip-path="url(#pce05e1e68a)" style="fill: none; stroke: #000000; stroke-width: 1.1; stroke-linecap: square"/>
    <path d="M 130.08 166.94 
L 141.70 166.94 
" clip-path="url(#pce05e1e68a)" style="fill: none; stroke: #000000; stroke-width: 1.1; stroke-linecap: square"/>
    <path d="M 130.08 141.97 
L 141.70 141.97 
" clip-path="url(#pce05e1e68a)" style="fill: none; stroke: #000000; stroke-width: 1.1; stroke-linecap: square"/>
    <path d="M 141.70 395.24 
L 153.32 395.24 
" clip-path="url(#pce05e1e68a)" style="fill: none; stroke: #000000; stroke-width: 1.1; stroke-linecap: square"/>
    <path d="M 141.70 370.27 
L 153.32 370.27 
" clip-path="url(#pce05e1e68a)" style="fill: none; stroke: #000000; stroke-width: 1.1; stroke-linecap: square"/>
    <path d="M 141.70 352.43 
L 153.32 352.43 
" clip-path="url(#pce05e1e68a)" style="fill: none; stroke: #000000; stroke-width: 1.1; stroke-linecap: square"/>
    <path d="M 141.70 338.17 
L 153.32 338.17 
" clip-path="url(#pce05e1e68a)" style="fill: none; stroke: #000000; stroke-width: 1.1; stroke-linecap: square"/>
    <path d="M 141.70 313.2 
L 153.32 313.2 
" clip-path="url(#pce05e1e68a)" style="fill: none; stroke: #000000; stroke-width: 1.1; stroke-linecap: square"/>
    <path d="M 141.70 281.09 
L 153.32 281.09 
" clip-path="url(#pce05e1e68a)" style="fill: none; stroke: #000000; stroke-width: 1.1; stroke-linecap: square"/>
    <path d="M 141.70 263.25 
L 153.32 263.25 
" clip-path="url(#pce05e1e68a)" style="fill: none; stroke: #000000; stroke-width: 1.1; stroke-linecap: square"/>
    <path d="M 141.70 245.42 
L 153.32 245.42 
" clip-path="url(#pce05e1e68a)" style="fill: none; stroke: #000000; stroke-width: 1.1; stroke-linecap: square"/>
    <path d="M 141.70 227.58 
L 153.32 227.58 
" clip-path="url(#pce05e1e68a)" style="fill: none; stroke: #000000; stroke-width: 1.1; stroke-linecap: square"/>
    <path d="M 141.70 209.75 
L 153.32 209.75 
" clip-path="url(#pce05e1e68a)" style="fill: none; stroke: #000000; stroke-width: 1.1; stroke-linecap: square"/>
    <path d="M 141.70 191.91 
L 153.32 191.91 
" clip-path="url(#pce05e1e68a)" style="fill: none; stroke: #000000; stroke-width: 1.1; stroke-linecap: square"/>
    <path d="M 141.70 177.64 
L 153.32 177.64 
" clip-path="url(#pce05e1e68a)" style="fill: none; stroke: #000000; stroke-width: 1.1; stroke-linecap: square"/>
    <path d="M 141.70 159.80 
L 153.32 159.80 
" clip-path="url(#pce05e1e68a)" style="fill: none; stroke: #000000; stroke-width: 1.1; stroke-linecap: square"/>
    <path d="M 153.32 395.24 
L 164.94 395.24 
" clip-path="url(#pce05e1e68a)" style="fill: none; stroke: #000000; stroke-width: 1.1; stroke-linecap: square"/>
    <path d="M 153.32 377.40 
L 164.94 377.40 
" clip-path="url(#pce05e1e68a)" style="fill: none; stroke: #000000; stroke-width: 1.1; stroke-linecap: square"/>
    <path d="M 153.32 356.00 
L 164.94 356.00 
" clip-path="url(#pce05e1e68a)" style="fill: none; stroke: #000000; stroke-width: 1.1; stroke-linecap: square"/>
    <path d="M 153.32 341.73 
L 164.94 341.73 
" clip-path="url(#pce05e1e68a)" style="fill: none; stroke: #000000; stroke-width: 1.1; stroke-linecap: square"/>
    <path d="M 153.32 327.46 
L 164.94 327.46 
" clip-path="url(#pce05e1e68a)" style="fill: none; stroke: #000000; stroke-width: 1.1; stroke-linecap: square"/>
    <path d="M 153.32 313.2 
L 164.94 313.2 
" clip-path="url(#pce05e1e68a)" style="fill: none; stroke: #000000; stroke-width: 1.1; stroke-linecap: square"/>
    <path d="M 153.32 295.36 
L 164.94 295.36 
" clip-path="url(#pce05e1e68a)" style="fill: none; stroke: #000000; stroke-width: 1.1; stroke-linecap: square"/>
    <path d="M 153.32 277.52 
L 164.94 277.52 
" clip-path="url(#pce05e1e68a)" style="fill: none; stroke: #000000; stroke-width: 1.1; stroke-linecap: square"/>
    <path d="M 153.32 263.25 
L 164.94 263.25 
" clip-path="url(#pce05e1e68a)" style="fill: none; stroke: #000000; stroke-width: 1.1; stroke-linecap: square"/>
    <path d="M 153.32 245.42 
L 164.94 245.42 
" clip-path="url(#pce05e1e68a)" style="fill: none; stroke: #000000; stroke-width: 1.1; stroke-linecap: square"/>
    <path d="M 153.32 227.58 
L 164.94 227.58 
" clip-path="url(#pce05e1e68a)" style="fill: none; stroke: #000000; stroke-width: 1.1; stroke-linecap: square"/>
    <path d="M 153.32 213.31 
L 164.94 213.31 
" clip-path="url(#pce05e1e68a)" style="fill: none; stroke: #000000; stroke-width: 1.1; stroke-linecap: square"/>
    <path d="M 153.32 188.34 
L 164.94 188.34 
" clip-path="url(#pce05e1e68a)" style="fill: none; stroke: #000000; stroke-width: 1.1; stroke-linecap: square"/>
    <path d="M 164.94 395.24 
L 176.56 395.24 
" clip-path="url(#pce05e1e68a)" style="fill: none; stroke: #000000; stroke-width: 1.1; stroke-linecap: square"/>
    <path d="M 164.94 377.40 
L 176.56 377.40 
" clip-path="url(#pce05e1e68a)" style="fill: none; stroke: #000000; stroke-width: 1.1; stroke-linecap: square"/>
    <path d="M 164.94 363.14 
L 176.56 363.14 
" clip-path="url(#pce05e1e68a)" style="fill: none; stroke: #000000; stroke-width: 1.1; stroke-linecap: square"/>
    <path d="M 164.94 338.17 
L 176.56 338.17 
" clip-path="url(#pce05e1e68a)" style="fill: none; stroke: #000000; stroke-width: 1.1; stroke-linecap: square"/>
    <path d="M 164.94 320.33 
L 176.56 320.33 
" clip-path="url(#pce05e1e68a)" style="fill: none; stroke: #000000; stroke-width: 1.1; stroke-linecap: square"/>
    <path d="M 164.94 302.49 
L 176.56 302.49 
" clip-path="url(#pce05e1e68a)" style="fill: none; stroke: #000000; stroke-width: 1.1; stroke-linecap: square"/>
    <path d="M 164.94 281.09 
L 176.56 281.09 
" clip-path="url(#pce05e1e68a)" style="fill: none; stroke: #000000; stroke-width: 1.1; stroke-linecap: square"/>
    <path d="M 164.94 266.82 
L 176.56 266.82 
" clip-path="url(#pce05e1e68a)" style="fill: none; stroke: #000000; stroke-width: 1.1; stroke-linecap: square"/>
    <path d="M 164.94 245.42 
L 176.56 245.42 
" clip-path="url(#pce05e1e68a)" style="fill: none; stroke: #000000; stroke-width: 1.1; stroke-linecap: square"/>
    <path d="M 164.94 224.01 
L 176.56 224.01 
" clip-path="url(#pce05e1e68a)" style="fill: none; stroke: #000000; stroke-width: 1.1; stroke-linecap: square"/>
    <path d="M 164.94 195.48 
L 176.56 195.48 
" clip-path="url(#pce05e1e68a)" style="fill: none; stroke: #000000; stroke-width: 1.1; stroke-linecap: square"/>
    <path d="M 164.94 174.07 
L 176.56 174.07 
" clip-path="url(#pce05e1e68a)" style="fill: none; stroke: #000000; stroke-width: 1.1; stroke-linecap: square"/>
    <path d="M 164.94 145.54 
L 176.56 145.54 
" clip-path="url(#pce05e1e68a)" style="fill: none; stroke: #000000; stroke-width: 1.1; stroke-linecap: square"/>
    <path d="M 176.56 395.24 
L 188.18 395.24 
" clip-path="url(#pce05e1e68a)" style="fill: none; stroke: #000000; stroke-width: 1.1; stroke-linecap: square"/>
    <path d="M 176.56 377.40 
L 188.18 377.40 
" clip-path="url(#pce05e1e68a)" style="fill: none; stroke: #000000; stroke-width: 1.1; stroke-linecap: square"/>
    <path d="M 176.56 363.14 
L 188.18 363.14 
" clip-path="url(#pce05e1e68a)" style="fill: none; stroke: #000000; stroke-width: 1.1; stroke-linecap: square"/>
    <path d="M 176.56 323.90 
L 188.18 323.90 
" clip-path="url(#pce05e1e68a)" style="fill: none; stroke: #000000; stroke-width: 1.1; stroke-linecap: square"/>
    <path d="M 176.56 316.76 
L 188.18 316.76 
" clip-path="url(#pce05e1e68a)" style="fill: none; stroke: #000000; stroke-width: 1.1; stroke-linecap: square"/>
    <path d="M 176.56 302.49 
L 188.18 302.49 
" clip-path="url(#pce05e1e68a)" style="fill: none; stroke: #000000; stroke-width: 1.1; stroke-linecap: square"/>
    <path d="M 176.56 291.79 
L 188.18 291.79 
" clip-path="url(#pce05e1e68a)" style="fill: none; stroke: #000000; stroke-width: 1.1; stroke-linecap: square"/>
    <path d="M 176.56 277.52 
L 188.18 277.52 
" clip-path="url(#pce05e1e68a)" style="fill: none; stroke: #000000; stroke-width: 1.1; stroke-linecap: square"/>
    <path d="M 176.56 256.12 
L 188.18 256.12 
" clip-path="url(#pce05e1e68a)" style="fill: none; stroke: #000000; stroke-width: 1.1; stroke-linecap: square"/>
    <path d="M 176.56 234.72 
L 188.18 234.72 
" clip-path="url(#pce05e1e68a)" style="fill: none; stroke: #000000; stroke-width: 1.1; stroke-linecap: square"/>
    <path d="M 176.56 206.18 
L 188.18 206.18 
" clip-path="url(#pce05e1e68a)" style="fill: none; stroke: #000000; stroke-width: 1.1; stroke-linecap: square"/>
    <path d="M 176.56 184.78 
L 188.18 184.78 
" clip-path="url(#pce05e1e68a)" style="fill: none; stroke: #000000; stroke-width: 1.1; stroke-linecap: square"/>
    <path d="M 176.56 174.07 
L 188.18 174.07 
" clip-path="url(#pce05e1e68a)" style="fill: none; stroke: #000000; stroke-width: 1.1; stroke-linecap: square"/>
    <path d="M 188.18 395.24 
L 199.80 395.24 
" clip-path="url(#pce05e1e68a)" style="fill: none; stroke: #000000; stroke-width: 1.1; stroke-linecap: square"/>
    <path d="M 188.18 380.97 
L 199.80 380.97 
" clip-path="url(#pce05e1e68a)" style="fill: none; stroke: #000000; stroke-width: 1.1; stroke-linecap: square"/>
    <path d="M 188.18 363.14 
L 199.80 363.14 
" clip-path="url(#pce05e1e68a)" style="fill: none; stroke: #000000; stroke-width: 1.1; stroke-linecap: square"/>
    <path d="M 188.18 352.43 
L 199.80 352.43 
" clip-path="url(#pce05e1e68a)" style="fill: none; stroke: #000000; stroke-width: 1.1; stroke-linecap: square"/>
    <path d="M 188.18 341.73 
L 199.80 341.73 
" clip-path="url(#pce05e1e68a)" style="fill: none; stroke: #000000; stroke-width: 1.1; stroke-linecap: square"/>
    <path d="M 188.18 327.46 
L 199.80 327.46 
" clip-path="url(#pce05e1e68a)" style="fill: none; stroke: #000000; stroke-width: 1.1; stroke-linecap: square"/>
    <path d="M 188.18 316.76 
L 199.80 316.76 
" clip-path="url(#pce05e1e68a)" style="fill: none; stroke: #000000; stroke-width: 1.1; stroke-linecap: square"/>
    <path d="M 188.18 298.93 
L 199.80 298.93 
" clip-path="url(#pce05e1e68a)" style="fill: none; stroke: #000000; stroke-width: 1.1; stroke-linecap: square"/>
    <path d="M 188.18 288.22 
L 199.80 288.22 
" clip-path="url(#pce05e1e68a)" style="fill: none; stroke: #000000; stroke-width: 1.1; stroke-linecap: square"/>
    <path d="M 188.18 266.82 
L 199.80 266.82 
" clip-path="url(#pce05e1e68a)" style="fill: none; stroke: #000000; stroke-width: 1.1; stroke-linecap: square"/>
    <path d="M 188.18 256.12 
L 199.80 256.12 
" clip-path="url(#pce05e1e68a)" style="fill: none; stroke: #000000; stroke-width: 1.1; stroke-linecap: square"/>
    <path d="M 188.18 234.72 
L 199.80 234.72 
" clip-path="url(#pce05e1e68a)" style="fill: none; stroke: #000000; stroke-width: 1.1; stroke-linecap: square"/>
    <path d="M 188.18 224.01 
L 199.80 224.01 
" clip-path="url(#pce05e1e68a)" style="fill: none; stroke: #000000; stroke-width: 1.1; stroke-linecap: square"/>
    <path d="M 199.80 395.24 
L 211.42 395.24 
" clip-path="url(#pce05e1e68a)" style="fill: none; stroke: #000000; stroke-width: 1.1; stroke-linecap: square"/>
    <path d="M 199.80 388.11 
L 211.42 388.11 
" clip-path="url(#pce05e1e68a)" style="fill: none; stroke: #000000; stroke-width: 1.1; stroke-linecap: square"/>
    <path d="M 199.80 377.40 
L 211.42 377.40 
" clip-path="url(#pce05e1e68a)" style="fill: none; stroke: #000000; stroke-width: 1.1; stroke-linecap: square"/>
    <path d="M 199.80 370.27 
L 211.42 370.27 
" clip-path="url(#pce05e1e68a)" style="fill: none; stroke: #000000; stroke-width: 1.1; stroke-linecap: square"/>
    <path d="M 199.80 363.14 
L 211.42 363.14 
" clip-path="url(#pce05e1e68a)" style="fill: none; stroke: #000000; stroke-width: 1.1; stroke-linecap: square"/>
    <path d="M 199.80 352.43 
L 211.42 352.43 
" clip-path="url(#pce05e1e68a)" style="fill: none; stroke: #000000; stroke-width: 1.1; stroke-linecap: square"/>
    <path d="M 199.80 345.30 
L 211.42 345.30 
" clip-path="url(#pce05e1e68a)" style="fill: none; stroke: #000000; stroke-width: 1.1; stroke-linecap: square"/>
    <path d="M 199.80 338.17 
L 211.42 338.17 
" clip-path="url(#pce05e1e68a)" style="fill: none; stroke: #000000; stroke-width: 1.1; stroke-linecap: square"/>
    <path d="M 199.80 331.03 
L 211.42 331.03 
" clip-path="url(#pce05e1e68a)" style="fill: none; stroke: #000000; stroke-width: 1.1; stroke-linecap: square"/>
    <path d="M 199.80 323.90 
L 211.42 323.90 
" clip-path="url(#pce05e1e68a)" style="fill: none; stroke: #000000; stroke-width: 1.1; stroke-linecap: square"/>
    <path d="M 199.80 313.2 
L 211.42 313.2 
" clip-path="url(#pce05e1e68a)" style="fill: none; stroke: #000000; stroke-width: 1.1; stroke-linecap: square"/>
    <path d="M 199.80 302.49 
L 211.42 302.49 
" clip-path="url(#pce05e1e68a)" style="fill: none; stroke: #000000; stroke-width: 1.1; stroke-linecap: square"/>
    <path d="M 199.80 291.79 
L 211.42 291.79 
" clip-path="url(#pce05e1e68a)" style="fill: none; stroke: #000000; stroke-width: 1.1; stroke-linecap: square"/>
    <path d="M 211.42 395.24 
L 223.04 395.24 
" clip-path="url(#pce05e1e68a)" style="fill: none; stroke: #000000; stroke-width: 1.1; stroke-linecap: square"/>
    <path d="M 211.42 373.84 
L 223.04 373.84 
" clip-path="url(#pce05e1e68a)" style="fill: none; stroke: #000000; stroke-width: 1.1; stroke-linecap: square"/>
    <path d="M 211.42 352.43 
L 223.04 352.43 
" clip-path="url(#pce05e1e68a)" style="fill: none; stroke: #000000; stroke-width: 1.1; stroke-linecap: square"/>
    <path d="M 211.42 345.30 
L 223.04 345.30 
" clip-path="url(#pce05e1e68a)" style="fill: none; stroke: #000000; stroke-width: 1.1; stroke-linecap: square"/>
    <path d="M 211.42 338.17 
L 223.04 338.17 
" clip-path="url(#pce05e1e68a)" style="fill: none; stroke: #000000; stroke-width: 1.1; stroke-linecap: square"/>
    <path d="M 223.04 395.24 
L 234.66 395.24 
" clip-path="url(#pce05e1e68a)" style="fill: none; stroke: #000000; stroke-width: 1.1; stroke-linecap: square"/>
    <path d="M 223.04 388.11 
L 234.66 388.11 
" clip-path="url(#pce05e1e68a)" style="fill: none; stroke: #000000; stroke-width: 1.1; stroke-linecap: square"/>
    <path d="M 223.04 380.97 
L 234.66 380.97 
" clip-path="url(#pce05e1e68a)" style="fill: none; stroke: #000000; stroke-width: 1.1; stroke-linecap: square"/>
    <path d="M 223.04 373.84 
L 234.66 373.84 
" clip-path="url(#pce05e1e68a)" style="fill: none; stroke: #000000; stroke-width: 1.1; stroke-linecap: square"/>
    <path d="M 223.04 366.70 
L 234.66 366.70 
" clip-path="url(#pce05e1e68a)" style="fill: none; stroke: #000000; stroke-width: 1.1; stroke-linecap: square"/>
    <path d="M 223.04 356.00 
L 234.66 356.00 
" clip-path="url(#pce05e1e68a)" style="fill: none; stroke: #000000; stroke-width: 1.1; stroke-linecap: square"/>
    <path d="M 223.04 345.30 
L 234.66 345.30 
" clip-path="url(#pce05e1e68a)" style="fill: none; stroke: #000000; stroke-width: 1.1; stroke-linecap: square"/>
    <path d="M 223.04 338.17 
L 234.66 338.17 
" clip-path="url(#pce05e1e68a)" style="fill: none; stroke: #000000; stroke-width: 1.1; stroke-linecap: square"/>
    <path d="M 223.04 331.03 
L 234.66 331.03 
" clip-path="url(#pce05e1e68a)" style="fill: none; stroke: #000000; stroke-width: 1.1; stroke-linecap: square"/>
    <path d="M 223.04 320.33 
L 234.66 320.33 
" clip-path="url(#pce05e1e68a)" style="fill: none; stroke: #000000; stroke-width: 1.1; stroke-linecap: square"/>
    <path d="M 234.66 395.24 
L 246.28 395.24 
" clip-path="url(#pce05e1e68a)" style="fill: none; stroke: #000000; stroke-width: 1.1; stroke-linecap: square"/>
    <path d="M 234.66 384.54 
L 246.28 384.54 
" clip-path="url(#pce05e1e68a)" style="fill: none; stroke: #000000; stroke-width: 1.1; stroke-linecap: square"/>
    <path d="M 234.66 377.40 
L 246.28 377.40 
" clip-path="url(#pce05e1e68a)" style="fill: none; stroke: #000000; stroke-width: 1.1; stroke-linecap: square"/>
    <path d="M 234.66 356.00 
L 246.28 356.00 
" clip-path="url(#pce05e1e68a)" style="fill: none; stroke: #000000; stroke-width: 1.1; stroke-linecap: square"/>
    <path d="M 234.66 348.87 
L 246.28 348.87 
" clip-path="url(#pce05e1e68a)" style="fill: none; stroke: #000000; stroke-width: 1.1; stroke-linecap: square"/>
    <path d="M 234.66 338.17 
L 246.28 338.17 
" clip-path="url(#pce05e1e68a)" style="fill: none; stroke: #000000; stroke-width: 1.1; stroke-linecap: square"/>
    <path d="M 246.28 395.24 
L 257.90 395.24 
" clip-path="url(#pce05e1e68a)" style="fill: none; stroke: #000000; stroke-width: 1.1; stroke-linecap: square"/>
    <path d="M 246.28 391.67 
L 257.90 391.67 
" clip-path="url(#pce05e1e68a)" style="fill: none; stroke: #000000; stroke-width: 1.1; stroke-linecap: square"/>
    <path d="M 246.28 366.70 
L 257.90 366.70 
" clip-path="url(#pce05e1e68a)" style="fill: none; stroke: #000000; stroke-width: 1.1; stroke-linecap: square"/>
    <path d="M 257.90 395.24 
L 269.52 395.24 
" clip-path="url(#pce05e1e68a)" style="fill: none; stroke: #000000; stroke-width: 1.1; stroke-linecap: square"/>
    <path d="M 257.90 391.67 
L 269.52 391.67 
" clip-path="url(#pce05e1e68a)" style="fill: none; stroke: #000000; stroke-width: 1.1; stroke-linecap: square"/>
    <path d="M 257.90 380.97 
L 269.52 380.97 
" clip-path="url(#pce05e1e68a)" style="fill: none; stroke: #000000; stroke-width: 1.1; stroke-linecap: square"/>
    <path d="M 269.52 395.24 
L 281.14 395.24 
" clip-path="url(#pce05e1e68a)" style="fill: none; stroke: #000000; stroke-width: 1.1; stroke-linecap: square"/>
    <path d="M 269.52 377.40 
L 281.14 377.40 
" clip-path="url(#pce05e1e68a)" style="fill: none; stroke: #000000; stroke-width: 1.1; stroke-linecap: square"/>
    <path d="M 269.52 370.27 
L 281.14 370.27 
" clip-path="url(#pce05e1e68a)" style="fill: none; stroke: #000000; stroke-width: 1.1; stroke-linecap: square"/>
    <path d="M 83.60 395.24 
L 83.60 377.40 
" clip-path="url(#pce05e1e68a)" style="fill: none; stroke: #000000; stroke-width: 1.1; stroke-linecap: square"/>
    <path d="M 95.22 395.24 
L 95.22 377.40 
" clip-path="url(#pce05e1e68a)" style="fill: none; stroke: #000000; stroke-width: 1.1; stroke-linecap: square"/>
    <path d="M 95.22 395.24 
L 95.22 345.30 
" clip-path="url(#pce05e1e68a)" style="fill: none; stroke: #000000; stroke-width: 1.1; stroke-linecap: square"/>
    <path d="M 106.84 395.24 
L 106.84 281.09 
" clip-path="url(#pce05e1e68a)" style="fill: none; stroke: #000000; stroke-width: 1.1; stroke-linecap: square"/>
    <path d="M 118.46 395.24 
L 118.46 206.18 
" clip-path="url(#pce05e1e68a)" style="fill: none; stroke: #000000; stroke-width: 1.1; stroke-linecap: square"/>
    <path d="M 130.08 395.24 
L 130.08 206.18 
" clip-path="url(#pce05e1e68a)" style="fill: none; stroke: #000000; stroke-width: 1.1; stroke-linecap: square"/>
    <path d="M 130.08 395.24 
L 130.08 141.97 
" clip-path="url(#pce05e1e68a)" style="fill: none; stroke: #000000; stroke-width: 1.1; stroke-linecap: square"/>
    <path d="M 141.70 395.24 
L 141.70 141.97 
" clip-path="url(#pce05e1e68a)" style="fill: none; stroke: #000000; stroke-width: 1.1; stroke-linecap: square"/>
    <path d="M 153.32 395.24 
L 153.32 159.80 
" clip-path="url(#pce05e1e68a)" style="fill: none; stroke: #000000; stroke-width: 1.1; stroke-linecap: square"/>
    <path d="M 164.94 395.24 
L 164.94 188.34 
" clip-path="url(#pce05e1e68a)" style="fill: none; stroke: #000000; stroke-width: 1.1; stroke-linecap: square"/>
    <path d="M 164.94 395.24 
L 164.94 145.54 
" clip-path="url(#pce05e1e68a)" style="fill: none; stroke: #000000; stroke-width: 1.1; stroke-linecap: square"/>
    <path d="M 176.56 395.24 
L 176.56 145.54 
" clip-path="url(#pce05e1e68a)" style="fill: none; stroke: #000000; stroke-width: 1.1; stroke-linecap: square"/>
    <path d="M 188.18 395.24 
L 188.18 174.07 
" clip-path="url(#pce05e1e68a)" style="fill: none; stroke: #000000; stroke-width: 1.1; stroke-linecap: square"/>
    <path d="M 199.80 395.24 
L 199.80 224.01 
" clip-path="url(#pce05e1e68a)" style="fill: none; stroke: #000000; stroke-width: 1.1; stroke-linecap: square"/>
    <path d="M 211.42 395.24 
L 211.42 291.79 
" clip-path="url(#pce05e1e68a)" style="fill: none; stroke: #000000; stroke-width: 1.1; stroke-linecap: square"/>
    <path d="M 211.42 395.24 
L 211.42 338.17 
" clip-path="url(#pce05e1e68a)" style="fill: none; stroke: #000000; stroke-width: 1.1; stroke-linecap: square"/>
    <path d="M 223.04 395.24 
L 223.04 320.33 
" clip-path="url(#pce05e1e68a)" style="fill: none; stroke: #000000; stroke-width: 1.1; stroke-linecap: square"/>
    <path d="M 234.66 395.24 
L 234.66 320.33 
" clip-path="url(#pce05e1e68a)" style="fill: none; stroke: #000000; stroke-width: 1.1; stroke-linecap: square"/>
    <path d="M 246.28 395.24 
L 246.28 338.17 
" clip-path="url(#pce05e1e68a)" style="fill: none; stroke: #000000; stroke-width: 1.1; stroke-linecap: square"/>
    <path d="M 246.28 395.24 
L 246.28 366.70 
" clip-path="url(#pce05e1e68a)" style="fill: none; stroke: #000000; stroke-width: 1.1; stroke-linecap: square"/>
    <path d="M 257.90 395.24 
L 257.90 366.70 
" clip-path="url(#pce05e1e68a)" style="fill: none; stroke: #000000; stroke-width: 1.1; stroke-linecap: square"/>
    <path d="M 269.52 395.24 
L 269.52 370.27 
" clip-path="url(#pce05e1e68a)" style="fill: none; stroke: #000000; stroke-width: 1.1; stroke-linecap: square"/>
    <path d="M 281.14 395.24 
L 281.14 370.27 
" clip-path="url(#pce05e1e68a)" style="fill: none; stroke: #000000; stroke-width: 1.1; stroke-linecap: square"/>
   </g>
   <g id="matplotlib.axis_1">
    <g id="xtick_1">
     <g id="line2d_1">
      <defs>
       <path id="m1504cfccaf" d="M 0 0 
L 0 3.5 
" style="stroke: #000000; stroke-width: 0.8"/>
      </defs>
      <g>
       <use href="#m1504cfccaf" x="41.80" y="395.24" style="stroke: #000000; stroke-width: 0.8"/>
      </g>
     </g>
     <g id="text_1">
      <text style="stroke: #000; stroke-width: 0.10; font-size: 10px; font-family: 'DejaVu Sans', sans-serif; text-anchor: middle" x="41.80" y="410.83" transform="rotate(-0 41.80 410.83)">0.0</text>
     </g>
    </g>
    <g id="xtick_2">
     <g id="line2d_2">
      <g>
       <use href="#m1504cfccaf" x="84.31" y="395.24" style="stroke: #000000; stroke-width: 0.8"/>
      </g>
     </g>
     <g id="text_2">
      <text style="stroke: #000; stroke-width: 0.10; font-size: 10px; font-family: 'DejaVu Sans', sans-serif; text-anchor: middle" x="84.32" y="410.83" transform="rotate(-0 84.32 410.83)">0.2</text>
     </g>
    </g>
    <g id="xtick_3">
     <g id="line2d_3">
      <g>
       <use href="#m1504cfccaf" x="126.83" y="395.24" style="stroke: #000000; stroke-width: 0.8"/>
      </g>
     </g>
     <g id="text_3">
      <text style="stroke: #000; stroke-width: 0.10; font-size: 10px; font-family: 'DejaVu Sans', sans-serif; text-anchor: middle" x="126.83" y="410.83" transform="rotate(-0 126.83 410.83)">0.4</text>
     </g>
    </g>
    <g id="xtick_4">
     <g id="line2d_4">
      <g>
       <use href="#m1504cfccaf" x="169.34" y="395.24" style="stroke: #000000; stroke-width: 0.8"/>
      </g>
     </g>
     <g id="text_4">
      <text style="stroke: #000; stroke-width: 0.10; font-size: 10px; font-family: 'DejaVu Sans', sans-serif; text-anchor: middle" x="169.34" y="410.83" transform="rotate(-0 169.34 410.83)">0.6</text>
     </g>
    </g>
    <g id="xtick_5">
     <g id="line2d_5">
      <g>
       <use href="#m1504cfccaf" x="211.85" y="395.24" style="stroke: #000000; stroke-width: 0.8"/>
      </g>
     </g>
     <g id="text_5">
      <text style="stroke: #000; stroke-width: 0.10; font-size: 10px; font-family: 'DejaVu Sans', sans-serif; text-anchor: middle" x="211.86" y="410.83" transform="rotate(-0 211.86 410.83)">0.8</text>
     </g>
    </g>
    <g id="xtick_6">
     <g id="line2d_6">
      <g>
       <use href="#m1504cfccaf" x="254.37" y="395.24" style="stroke: #000000; stroke-width: 0.8"/>
      </g>
     </g>
     <g id="text_6">
      <text style="stroke: #000; stroke-width: 0.10; font-size: 10px; font-family: 'DejaVu Sans', sans-serif; text-anchor: middle" x="254.37" y="410.83" transform="rotate(-0 254.37 410.83)">1.0</text>
     </g>
    </g>
    <g id="xtick_7">
     <g id="line2d_7">
      <g>
       <use href="#m1504cfccaf" x="296.88" y="395.24" style="stroke: #000000; stroke-width: 0.8"/>
      </g>
     </g>
     <g id="text_7">
      <text style="stroke: #000; stroke-width: 0.10; font-size: 10px; font-family: 'DejaVu Sans', sans-serif; text-anchor: middle" x="296.89" y="410.83" transform="rotate(-0 296.89 410.83)">1.2</text>
     </g>
    </g>
    <g id="xtick_8">
     <g id="line2d_8">
      <g>
       <use href="#m1504cfccaf" x="339.39" y="395.24" style="stroke: #000000; stroke-width: 0.8"/>
      </g>
     </g>
     <g id="text_8">
      <text style="stroke: #000; stroke-width: 0.10; font-size: 10px; font-family: 'DejaVu Sans', sans-serif; text-anchor: middle" x="339.40" y="410.83" transform="rotate(-0 339.40 410.83)">1.4</text>
     </g>
    </g>
    <g id="text_9">
     <text style="stroke: #000; stroke-width: 0.10; font-size: 10px; font-family: 'DejaVu Sans', sans-serif; text-anchor: middle" x="201.23" y="426.06" transform="rotate(-0 201.23 426.06)">Radius (mm)</text>
    </g>
   </g>
   <g id="matplotlib.axis_2">
    <g id="ytick_1">
     <g id="line2d_9">
      <defs>
       <path id="m5d545ce8f8" d="M 0 0 
L -3.5 0 
" style="stroke: #000000; stroke-width: 0.8"/>
      </defs>
      <g>
       <use href="#m5d545ce8f8" x="41.80" y="395.24" style="stroke: #000000; stroke-width: 0.8"/>
      </g>
     </g>
     <g id="text_10">
      <text style="stroke: #000; stroke-width: 0.10; font-size: 10px; font-family: 'DejaVu Sans', sans-serif; text-anchor: end" x="34.80" y="400.68" transform="rotate(-0 34.80 400.68)">0</text>
     </g>
    </g>
    <g id="ytick_2">
     <g id="line2d_10">
      <g>
       <use href="#m5d545ce8f8" x="41.80" y="323.90" style="stroke: #000000; stroke-width: 0.8"/>
      </g>
     </g>
     <g id="text_11">
      <text style="stroke: #000; stroke-width: 0.10; font-size: 10px; font-family: 'DejaVu Sans', sans-serif; text-anchor: end" x="34.80" y="329.34" transform="rotate(-0 34.80 329.34)">20</text>
     </g>
    </g>
    <g id="ytick_3">
     <g id="line2d_11">
      <g>
       <use href="#m5d545ce8f8" x="41.80" y="252.55" style="stroke: #000000; stroke-width: 0.8"/>
      </g>
     </g>
     <g id="text_12">
      <text style="stroke: #000; stroke-width: 0.10; font-size: 10px; font-family: 'DejaVu Sans', sans-serif; text-anchor: end" x="34.80" y="258.00" transform="rotate(-0 34.80 258.00)">40</text>
     </g>
    </g>
    <g id="ytick_4">
     <g id="line2d_12">
      <g>
       <use href="#m5d545ce8f8" x="41.80" y="181.21" style="stroke: #000000; stroke-width: 0.8"/>
      </g>
     </g>
     <g id="text_13">
      <text style="stroke: #000; stroke-width: 0.10; font-size: 10px; font-family: 'DejaVu Sans', sans-serif; text-anchor: end" x="34.80" y="186.65" transform="rotate(-0 34.80 186.65)">60</text>
     </g>
    </g>
    <g id="ytick_5">
     <g id="line2d_13">
      <g>
       <use href="#m5d545ce8f8" x="41.80" y="109.86" style="stroke: #000000; stroke-width: 0.8"/>
      </g>
     </g>
     <g id="text_14">
      <text style="stroke: #000; stroke-width: 0.10; font-size: 10px; font-family: 'DejaVu Sans', sans-serif; text-anchor: end" x="34.80" y="115.31" transform="rotate(-0 34.80 115.31)">80</text>
     </g>
    </g>
    <g id="ytick_6">
     <g id="line2d_14">
      <g>
       <use href="#m5d545ce8f8" x="41.80" y="38.52" style="stroke: #000000; stroke-width: 0.8"/>
      </g>
     </g>
     <g id="text_15">
      <text style="stroke: #000; stroke-width: 0.10; font-size: 10px; font-family: 'DejaVu Sans', sans-serif; text-anchor: end" x="34.80" y="43.96" transform="rotate(-0 34.80 43.96)">100</text>
     </g>
    </g>
    <g id="text_16">
     <text style="stroke: #000; stroke-width: 0.10; font-size: 10.40px; font-family: 'DejaVu Sans', sans-serif; text-anchor: middle" x="10.13" y="218.52" transform="rotate(-90 10.13 218.52)">Count</text>
    </g>
   </g>
   <g id="line2d_15">
    <path d="M 83.60 394.45 
L 87.57 393.95 
L 91.54 393.22 
L 95.51 392.24 
L 99.48 390.98 
L 103.45 389.47 
L 108.42 387.29 
L 116.36 383.44 
L 122.32 380.64 
L 126.29 378.97 
L 130.26 377.54 
L 134.23 376.39 
L 137.21 375.73 
L 140.18 375.25 
L 143.16 374.94 
L 147.13 374.79 
L 151.10 374.88 
L 156.07 375.28 
L 162.02 376.00 
L 170.96 377.34 
L 177.91 378.60 
L 182.87 379.69 
L 187.83 381.01 
L 192.80 382.54 
L 200.74 385.27 
L 207.69 387.58 
L 212.65 388.97 
L 216.62 389.89 
L 221.58 390.77 
L 226.55 391.41 
L 233.49 392.06 
L 250.37 393.31 
L 270.22 394.64 
L 279.16 395.00 
L 281.14 395.05 
L 281.14 395.05 
" clip-path="url(#pce05e1e68a)" style="fill: none; stroke: #00441b; stroke-width: 2; stroke-linecap: square"/>
   </g>
   <g id="line2d_16">
    <path d="M 83.60 392.41 
L 87.57 391.31 
L 90.55 390.28 
L 93.53 389.07 
L 97.50 387.18 
L 101.47 384.98 
L 105.44 382.51 
L 110.40 379.14 
L 124.30 369.48 
L 128.27 367.03 
L 132.24 364.85 
L 135.22 363.43 
L 138.20 362.21 
L 141.18 361.20 
L 144.15 360.41 
L 147.13 359.84 
L 150.11 359.48 
L 153.09 359.32 
L 156.07 359.34 
L 160.04 359.61 
L 164.01 360.11 
L 168.97 360.99 
L 173.93 362.15 
L 177.91 363.29 
L 181.88 364.65 
L 185.85 366.24 
L 189.82 368.07 
L 194.78 370.66 
L 202.72 375.16 
L 208.68 378.40 
L 212.65 380.31 
L 216.62 381.94 
L 220.59 383.28 
L 224.56 384.36 
L 229.52 385.45 
L 237.47 386.87 
L 249.38 389.02 
L 268.24 392.55 
L 274.19 393.42 
L 280.15 394.08 
L 281.14 394.17 
L 281.14 394.17 
" clip-path="url(#pce05e1e68a)" style="fill: none; stroke: #006227; stroke-width: 2; stroke-linecap: square"/>
   </g>
   <g id="line2d_17">
    <path d="M 83.60 391.66 
L 86.58 390.50 
L 89.56 389.07 
L 92.54 387.32 
L 95.51 385.26 
L 98.49 382.87 
L 101.47 380.17 
L 104.45 377.21 
L 108.42 372.95 
L 120.33 359.79 
L 124.30 355.90 
L 127.28 353.29 
L 130.26 350.97 
L 133.23 348.96 
L 136.21 347.24 
L 139.19 345.79 
L 142.17 344.58 
L 146.14 343.25 
L 151.10 341.90 
L 157.06 340.53 
L 162.02 339.55 
L 165.99 338.98 
L 168.97 338.78 
L 171.95 338.87 
L 173.93 339.14 
L 175.92 339.60 
L 177.91 340.27 
L 179.89 341.17 
L 181.88 342.30 
L 183.86 343.65 
L 185.85 345.23 
L 188.82 347.97 
L 191.80 351.09 
L 195.77 355.62 
L 203.71 364.83 
L 206.69 367.95 
L 209.67 370.75 
L 212.65 373.18 
L 215.63 375.21 
L 218.60 376.87 
L 221.58 378.20 
L 224.56 379.26 
L 228.53 380.39 
L 242.43 384.01 
L 248.38 385.94 
L 260.30 389.92 
L 265.26 391.32 
L 270.22 392.46 
L 275.19 393.34 
L 280.15 393.99 
L 281.14 394.09 
L 281.14 394.09 
" clip-path="url(#pce05e1e68a)" style="fill: none; stroke: #107a37; stroke-width: 2; stroke-linecap: square"/>
   </g>
   <g id="line2d_18">
    <path d="M 83.60 390.88 
L 85.59 389.88 
L 87.57 388.69 
L 89.56 387.30 
L 91.54 385.69 
L 93.53 383.84 
L 95.51 381.75 
L 97.50 379.42 
L 100.48 375.47 
L 103.45 371.01 
L 106.43 366.12 
L 110.40 359.13 
L 120.33 341.32 
L 123.31 336.50 
L 126.29 332.16 
L 128.27 329.59 
L 130.26 327.30 
L 132.24 325.31 
L 134.23 323.63 
L 136.21 322.25 
L 138.20 321.17 
L 140.18 320.38 
L 142.17 319.84 
L 144.15 319.54 
L 146.14 319.42 
L 149.12 319.55 
L 152.10 319.91 
L 157.06 320.79 
L 164.01 322.24 
L 167.98 323.26 
L 170.96 324.24 
L 173.93 325.50 
L 175.92 326.55 
L 177.91 327.78 
L 179.89 329.20 
L 181.88 330.84 
L 183.86 332.68 
L 186.84 335.82 
L 189.82 339.35 
L 193.79 344.53 
L 205.70 360.58 
L 208.68 364.07 
L 211.66 367.14 
L 214.63 369.78 
L 216.62 371.30 
L 219.60 373.22 
L 222.58 374.79 
L 225.55 376.10 
L 230.52 377.94 
L 238.46 380.83 
L 244.41 383.27 
L 256.33 388.27 
L 261.29 390.03 
L 265.26 391.22 
L 269.23 392.21 
L 273.20 393.00 
L 278.16 393.75 
L 281.14 394.09 
L 281.14 394.09 
" clip-path="url(#pce05e1e68a)" style="fill: none; stroke: #289049; stroke-width: 2; stroke-linecap: square"/>
   </g>
   <g id="line2d_19">
    <path d="M 83.60 388.40 
L 85.59 386.93 
L 87.57 385.24 
L 89.56 383.29 
L 91.54 381.09 
L 93.53 378.61 
L 95.51 375.85 
L 97.50 372.81 
L 100.48 367.76 
L 103.45 362.14 
L 106.43 356.03 
L 110.40 347.32 
L 122.32 320.54 
L 125.29 314.58 
L 128.27 309.26 
L 130.26 306.13 
L 132.24 303.38 
L 134.23 301.04 
L 136.21 299.11 
L 138.20 297.61 
L 140.18 296.53 
L 142.17 295.85 
L 144.15 295.54 
L 146.14 295.55 
L 148.12 295.84 
L 150.11 296.37 
L 153.09 297.49 
L 157.06 299.35 
L 165.00 303.46 
L 169.96 306.21 
L 172.94 308.05 
L 175.92 310.16 
L 178.90 312.59 
L 181.88 315.40 
L 184.85 318.62 
L 187.83 322.22 
L 190.81 326.14 
L 194.78 331.75 
L 205.70 347.52 
L 209.67 352.72 
L 212.65 356.29 
L 215.63 359.56 
L 218.60 362.53 
L 221.58 365.24 
L 225.55 368.54 
L 230.52 372.29 
L 236.47 376.49 
L 242.43 380.42 
L 247.39 383.42 
L 251.36 385.59 
L 255.33 387.51 
L 259.30 389.17 
L 263.27 390.56 
L 267.25 391.70 
L 271.22 392.61 
L 275.19 393.32 
L 280.15 393.98 
L 281.14 394.08 
L 281.14 394.08 
" clip-path="url(#pce05e1e68a)" style="fill: none; stroke: #3fa85b; stroke-width: 2; stroke-linecap: square"/>
   </g>
   <g id="line2d_20">
    <path d="M 83.60 383.51 
L 85.59 381.69 
L 87.57 379.62 
L 89.56 377.29 
L 91.54 374.69 
L 93.53 371.82 
L 95.51 368.65 
L 98.49 363.38 
L 101.47 357.50 
L 104.45 351.06 
L 108.42 341.78 
L 113.38 329.47 
L 120.33 312.22 
L 123.31 305.31 
L 126.29 298.95 
L 128.27 295.11 
L 130.26 291.62 
L 132.24 288.54 
L 134.23 285.88 
L 136.21 283.68 
L 138.20 281.92 
L 140.18 280.61 
L 142.17 279.74 
L 144.15 279.26 
L 146.14 279.14 
L 148.12 279.34 
L 150.11 279.81 
L 152.10 280.50 
L 155.07 281.84 
L 159.04 283.98 
L 164.01 286.98 
L 167.98 289.59 
L 170.96 291.75 
L 173.93 294.16 
L 176.91 296.90 
L 179.89 300.03 
L 182.87 303.59 
L 185.85 307.57 
L 188.82 311.93 
L 192.80 318.21 
L 199.74 329.81 
L 204.71 337.93 
L 208.68 343.98 
L 211.66 348.16 
L 214.63 352.00 
L 217.61 355.51 
L 220.59 358.71 
L 223.57 361.64 
L 227.54 365.22 
L 231.51 368.50 
L 236.47 372.32 
L 241.44 375.85 
L 245.41 378.43 
L 249.38 380.76 
L 253.35 382.80 
L 257.32 384.56 
L 261.29 386.03 
L 265.26 387.26 
L 269.23 388.27 
L 274.19 389.32 
L 280.15 390.35 
L 281.14 390.50 
L 281.14 390.50 
" clip-path="url(#pce05e1e68a)" style="fill: none; stroke: #62bb6d; stroke-width: 2; stroke-linecap: square"/>
   </g>
   <g id="line2d_21">
    <path d="M 83.60 379.46 
L 85.59 377.28 
L 87.57 374.85 
L 89.56 372.15 
L 91.54 369.17 
L 93.53 365.90 
L 96.51 360.44 
L 99.48 354.34 
L 102.46 347.62 
L 105.44 340.37 
L 109.41 330.05 
L 123.31 293.01 
L 126.29 286.07 
L 128.27 281.86 
L 130.26 278.03 
L 132.24 274.62 
L 134.23 271.66 
L 136.21 269.17 
L 138.20 267.16 
L 140.18 265.63 
L 142.17 264.55 
L 144.15 263.90 
L 146.14 263.64 
L 148.12 263.73 
L 150.11 264.12 
L 152.10 264.75 
L 154.08 265.58 
L 157.06 267.10 
L 161.03 269.47 
L 165.00 272.14 
L 168.97 275.12 
L 171.95 277.65 
L 174.93 280.51 
L 177.91 283.78 
L 180.88 287.51 
L 183.86 291.73 
L 186.84 296.42 
L 189.82 301.52 
L 193.79 308.82 
L 207.69 335.06 
L 210.66 340.11 
L 213.64 344.79 
L 216.62 349.08 
L 219.60 352.99 
L 222.58 356.54 
L 225.55 359.77 
L 228.53 362.72 
L 232.50 366.29 
L 236.47 369.51 
L 240.44 372.41 
L 244.41 374.99 
L 248.38 377.25 
L 252.36 379.18 
L 256.33 380.82 
L 260.30 382.20 
L 265.26 383.66 
L 271.22 385.16 
L 281.14 387.44 
L 281.14 387.44 
" clip-path="url(#pce05e1e68a)" style="fill: none; stroke: #84cc83; stroke-width: 2; stroke-linecap: square"/>
   </g>
   <g id="line2d_22">
    <path d="M 83.60 377.49 
L 85.59 374.94 
L 87.57 372.09 
L 89.56 368.93 
L 91.54 365.45 
L 93.53 361.64 
L 96.51 355.31 
L 99.48 348.27 
L 102.46 340.57 
L 105.44 332.30 
L 109.41 320.60 
L 122.32 281.76 
L 125.29 273.78 
L 128.27 266.59 
L 130.26 262.32 
L 132.24 258.52 
L 134.23 255.22 
L 136.21 252.44 
L 138.20 250.18 
L 140.18 248.44 
L 142.17 247.20 
L 144.15 246.42 
L 146.14 246.06 
L 148.12 246.07 
L 150.11 246.39 
L 152.10 246.97 
L 154.08 247.75 
L 157.06 249.20 
L 160.04 250.90 
L 164.01 253.46 
L 166.99 255.62 
L 169.96 258.07 
L 172.94 260.91 
L 174.93 263.07 
L 176.91 265.47 
L 178.90 268.14 
L 180.88 271.09 
L 182.87 274.32 
L 185.85 279.68 
L 188.82 285.59 
L 192.80 294.15 
L 199.74 309.99 
L 204.71 321.05 
L 208.68 329.25 
L 211.66 334.90 
L 214.63 340.05 
L 217.61 344.73 
L 220.59 348.96 
L 223.57 352.79 
L 226.55 356.29 
L 230.52 360.56 
L 234.49 364.48 
L 238.46 368.09 
L 242.43 371.39 
L 246.40 374.35 
L 249.38 376.33 
L 252.36 378.08 
L 255.33 379.61 
L 258.31 380.95 
L 262.28 382.45 
L 266.25 383.71 
L 271.22 385.06 
L 280.15 387.20 
L 281.14 387.43 
L 281.14 387.43 
" clip-path="url(#pce05e1e68a)" style="fill: none; stroke: #a4da9e; stroke-width: 2; stroke-linecap: square"/>
   </g>
   <g id="line2d_23">
    <path d="M 83.60 374.93 
L 85.59 372.03 
L 87.57 368.81 
L 89.56 365.27 
L 91.54 361.39 
L 94.52 354.94 
L 97.50 347.74 
L 100.48 339.84 
L 103.45 331.32 
L 107.43 319.16 
L 113.38 299.91 
L 119.34 280.65 
L 123.31 268.57 
L 126.29 260.25 
L 129.26 252.76 
L 131.25 248.31 
L 133.23 244.34 
L 135.22 240.87 
L 137.21 237.93 
L 139.19 235.50 
L 141.18 233.58 
L 143.16 232.14 
L 145.15 231.15 
L 147.13 230.56 
L 149.12 230.31 
L 151.10 230.37 
L 153.09 230.67 
L 155.07 231.17 
L 158.05 232.22 
L 161.03 233.56 
L 164.01 235.15 
L 166.99 237.06 
L 168.97 238.54 
L 170.96 240.23 
L 172.94 242.17 
L 174.93 244.38 
L 176.91 246.90 
L 178.90 249.74 
L 180.88 252.93 
L 182.87 256.47 
L 184.85 260.34 
L 187.83 266.73 
L 190.81 273.73 
L 194.78 283.72 
L 204.71 309.25 
L 207.69 316.31 
L 210.66 322.83 
L 213.64 328.77 
L 216.62 334.08 
L 219.60 338.81 
L 222.58 343.03 
L 225.55 346.81 
L 228.53 350.27 
L 232.50 354.54 
L 237.47 359.55 
L 243.42 365.22 
L 248.38 369.61 
L 252.36 372.82 
L 256.33 375.71 
L 260.30 378.24 
L 264.27 380.43 
L 268.24 382.30 
L 272.21 383.92 
L 277.17 385.66 
L 281.14 386.88 
L 281.14 386.88 
" clip-path="url(#pce05e1e68a)" style="fill: none; stroke: #c1e6ba; stroke-width: 2; stroke-linecap: square"/>
   </g>
   <g id="line2d_24">
    <path d="M 83.60 373.92 
L 85.59 370.80 
L 87.57 367.31 
L 89.56 363.46 
L 91.54 359.23 
L 93.53 354.61 
L 96.51 346.98 
L 99.48 338.52 
L 102.46 329.31 
L 105.44 319.45 
L 109.41 305.54 
L 122.32 259.42 
L 125.29 249.83 
L 128.27 241.08 
L 130.26 235.81 
L 132.24 231.03 
L 134.23 226.77 
L 136.21 223.06 
L 138.20 219.89 
L 140.18 217.26 
L 142.17 215.15 
L 144.15 213.52 
L 146.14 212.33 
L 148.12 211.53 
L 150.11 211.07 
L 152.10 210.89 
L 154.08 210.95 
L 156.07 211.21 
L 158.05 211.64 
L 161.03 212.57 
L 163.02 213.38 
L 165.00 214.37 
L 166.99 215.54 
L 168.97 216.95 
L 170.96 218.63 
L 172.94 220.61 
L 174.93 222.94 
L 176.91 225.63 
L 178.90 228.72 
L 180.88 232.21 
L 182.87 236.10 
L 184.85 240.36 
L 187.83 247.41 
L 190.81 255.11 
L 194.78 266.07 
L 203.71 291.10 
L 206.69 298.85 
L 209.67 306.04 
L 212.65 312.61 
L 215.63 318.51 
L 218.60 323.78 
L 221.58 328.47 
L 224.56 332.67 
L 227.54 336.50 
L 231.51 341.19 
L 236.47 346.69 
L 245.41 356.19 
L 252.36 363.29 
L 257.32 368.05 
L 261.29 371.61 
L 265.26 374.89 
L 269.23 377.85 
L 273.20 380.50 
L 277.17 382.83 
L 281.14 384.87 
L 281.14 384.87 
" clip-path="url(#pce05e1e68a)" style="fill: none; stroke: #d8f0d2; stroke-width: 2; stroke-linecap: square"/>
   </g>
   <g id="line2d_25">
    <path d="M 83.60 372.89 
L 85.59 369.50 
L 87.57 365.72 
L 89.56 361.51 
L 91.54 356.87 
L 93.53 351.79 
L 95.51 346.28 
L 98.49 337.20 
L 101.47 327.23 
L 104.45 316.48 
L 108.42 301.18 
L 116.36 269.15 
L 120.33 253.55 
L 123.31 242.52 
L 126.29 232.33 
L 128.27 226.11 
L 130.26 220.40 
L 132.24 215.26 
L 134.23 210.70 
L 136.21 206.74 
L 138.20 203.38 
L 140.18 200.60 
L 142.17 198.37 
L 144.15 196.64 
L 146.14 195.37 
L 148.12 194.50 
L 150.11 193.95 
L 152.10 193.69 
L 154.08 193.65 
L 156.07 193.79 
L 159.04 194.28 
L 162.02 195.08 
L 164.01 195.81 
L 165.99 196.71 
L 167.98 197.83 
L 169.96 199.22 
L 171.95 200.92 
L 173.93 202.97 
L 175.92 205.42 
L 177.91 208.30 
L 179.89 211.63 
L 181.88 215.42 
L 183.86 219.66 
L 185.85 224.32 
L 188.82 232.05 
L 191.80 240.50 
L 195.77 252.50 
L 203.71 276.87 
L 206.69 285.44 
L 209.67 293.41 
L 212.65 300.71 
L 215.63 307.28 
L 218.60 313.16 
L 221.58 318.41 
L 224.56 323.14 
L 227.54 327.48 
L 231.51 332.88 
L 239.45 343.17 
L 251.36 358.34 
L 256.33 364.26 
L 260.30 368.63 
L 264.27 372.60 
L 267.25 375.29 
L 270.22 377.73 
L 273.20 379.93 
L 276.18 381.88 
L 279.16 383.62 
L 281.14 384.67 
L 281.14 384.67 
" clip-path="url(#pce05e1e68a)" style="fill: none; stroke: #eaf7e6; stroke-width: 2; stroke-linecap: square"/>
   </g>
   <g id="line2d_26">
    <path d="M 83.60 372.42 
L 85.59 368.86 
L 87.57 364.85 
L 89.56 360.36 
L 91.54 355.36 
L 93.53 349.86 
L 95.51 343.83 
L 97.50 337.28 
L 100.48 326.54 
L 103.45 314.78 
L 106.43 302.16 
L 110.40 284.38 
L 120.33 239.22 
L 123.31 226.72 
L 126.29 215.21 
L 128.27 208.21 
L 130.26 201.81 
L 132.24 196.06 
L 134.23 190.98 
L 136.21 186.56 
L 138.20 182.81 
L 140.18 179.70 
L 142.17 177.18 
L 144.15 175.19 
L 146.14 173.68 
L 148.12 172.59 
L 150.11 171.84 
L 152.10 171.39 
L 154.08 171.19 
L 156.07 171.21 
L 158.05 171.44 
L 160.04 171.88 
L 162.02 172.55 
L 164.01 173.47 
L 165.99 174.68 
L 167.98 176.22 
L 169.96 178.14 
L 171.95 180.47 
L 173.93 183.25 
L 175.92 186.50 
L 177.91 190.22 
L 179.89 194.42 
L 181.88 199.08 
L 183.86 204.17 
L 186.84 212.53 
L 189.82 221.60 
L 193.79 234.46 
L 204.71 270.46 
L 208.68 282.47 
L 211.66 290.78 
L 214.63 298.43 
L 217.61 305.40 
L 220.59 311.74 
L 223.57 317.50 
L 226.55 322.78 
L 229.52 327.67 
L 233.49 333.77 
L 238.46 340.94 
L 244.41 349.15 
L 250.37 356.97 
L 254.34 361.88 
L 258.31 366.46 
L 262.28 370.65 
L 265.26 373.52 
L 268.24 376.13 
L 271.22 378.49 
L 274.19 380.60 
L 277.17 382.48 
L 280.15 384.15 
L 281.14 384.67 
L 281.14 384.67 
" clip-path="url(#pce05e1e68a)" style="fill: none; stroke: #f7fcf5; stroke-width: 2; stroke-linecap: square"/>
   </g>
   <g id="patch_143">
    <path d="M 41.80 395.24 
L 41.80 38.52 
" style="fill: none; stroke: #000000; stroke-width: 0.8; stroke-linejoin: miter; stroke-linecap: square"/>
   </g>
   <g id="patch_144">
    <path d="M 360.65 395.24 
L 360.65 38.52 
" style="fill: none; stroke: #000000; stroke-width: 0.8; stroke-linejoin: miter; stroke-linecap: square"/>
   </g>
   <g id="patch_145">
    <path d="M 41.80 395.24 
L 360.65 395.24 
" style="fill: none; stroke: #000000; stroke-width: 0.8; stroke-linejoin: miter; stroke-linecap: square"/>
   </g>
   <g id="patch_146">
    <path d="M 41.80 38.52 
L 360.65 38.52 
" style="fill: none; stroke: #000000; stroke-width: 0.8; stroke-linejoin: miter; stroke-linecap: square"/>
   </g>
   <g id="legend_1">
    <g id="patch_147">
     <path d="M 281.85 250.30 
L 353.65 250.30 
Q 355.65 250.30 355.65 248.30 
L 355.65 45.52 
Q 355.65 43.52 353.65 43.52 
L 281.85 43.52 
Q 279.85 43.52 279.85 45.52 
L 279.85 248.30 
Q 279.85 250.30 281.85 250.30 
z
" style="fill: #ffffff; opacity: 0.8; stroke: #cccccc; stroke-linejoin: miter"/>
    </g>
    <g id="text_17">
     <text style="stroke: #000; stroke-width: 0.10; font-size: 10px; font-family: 'DejaVu Sans', sans-serif; text-anchor: start" x="284.86" y="56.12" transform="rotate(-0 284.86 56.12)">Gantry Angle</text>
    </g>
    <g id="patch_148">
     <path d="M 294.21 71.86 
L 314.21 71.86 
L 314.21 64.86 
L 294.21 64.86 
z
" style="fill: #f7fcf5; fill-opacity: 0.5; stroke: #000000; stroke-linejoin: miter"/>
    </g>
    <g id="text_18">
     <text style="stroke: #000; stroke-width: 0.10; font-size: 10px; font-family: 'DejaVu Sans', sans-serif; text-anchor: start" x="322.21" y="71.87" transform="rotate(-0 322.21 71.87)">0</text>
    </g>
    <g id="patch_149">
     <path d="M 294.21 87.44 
L 314.21 87.44 
L 314.21 80.44 
L 294.21 80.44 
z
" style="fill: #eaf7e6; fill-opacity: 0.5; stroke: #000000; stroke-linejoin: miter"/>
    </g>
    <g id="text_19">
     <text style="stroke: #000; stroke-width: 0.10; font-size: 10px; font-family: 'DejaVu Sans', sans-serif; text-anchor: start" x="322.21" y="87.44" transform="rotate(-0 322.21 87.44)">30</text>
    </g>
    <g id="patch_150">
     <path d="M 294.21 103.02 
L 314.21 103.02 
L 314.21 96.02 
L 294.21 96.02 
z
" style="fill: #d8f0d2; fill-opacity: 0.5; stroke: #000000; stroke-linejoin: miter"/>
    </g>
    <g id="text_20">
     <text style="stroke: #000; stroke-width: 0.10; font-size: 10px; font-family: 'DejaVu Sans', sans-serif; text-anchor: start" x="322.21" y="103.02" transform="rotate(-0 322.21 103.02)">60</text>
    </g>
    <g id="patch_151">
     <path d="M 294.21 118.59 
L 314.21 118.59 
L 314.21 111.59 
L 294.21 111.59 
z
" style="fill: #c1e6ba; fill-opacity: 0.5; stroke: #000000; stroke-linejoin: miter"/>
    </g>
    <g id="text_21">
     <text style="stroke: #000; stroke-width: 0.10; font-size: 10px; font-family: 'DejaVu Sans', sans-serif; text-anchor: start" x="322.21" y="118.60" transform="rotate(-0 322.21 118.60)">90</text>
    </g>
    <g id="patch_152">
     <path d="M 294.21 134.17 
L 314.21 134.17 
L 314.21 127.17 
L 294.21 127.17 
z
" style="fill: #a4da9e; fill-opacity: 0.5; stroke: #000000; stroke-linejoin: miter"/>
    </g>
    <g id="text_22">
     <text style="stroke: #000; stroke-width: 0.10; font-size: 10px; font-family: 'DejaVu Sans', sans-serif; text-anchor: start" x="322.21" y="134.18" transform="rotate(-0 322.21 134.18)">120</text>
    </g>
    <g id="patch_153">
     <path d="M 294.21 149.75 
L 314.21 149.75 
L 314.21 142.75 
L 294.21 142.75 
z
" style="fill: #84cc83; fill-opacity: 0.5; stroke: #000000; stroke-linejoin: miter"/>
    </g>
    <g id="text_23">
     <text style="stroke: #000; stroke-width: 0.10; font-size: 10px; font-family: 'DejaVu Sans', sans-serif; text-anchor: start" x="322.21" y="149.76" transform="rotate(-0 322.21 149.76)">150</text>
    </g>
    <g id="patch_154">
     <path d="M 294.21 165.33 
L 314.21 165.33 
L 314.21 158.33 
L 294.21 158.33 
z
" style="fill: #62bb6d; fill-opacity: 0.5; stroke: #000000; stroke-linejoin: miter"/>
    </g>
    <g id="text_24">
     <text style="stroke: #000; stroke-width: 0.10; font-size: 10px; font-family: 'DejaVu Sans', sans-serif; text-anchor: start" x="322.21" y="165.33" transform="rotate(-0 322.21 165.33)">180</text>
    </g>
    <g id="patch_155">
     <path d="M 294.21 180.91 
L 314.21 180.91 
L 314.21 173.91 
L 294.21 173.91 
z
" style="fill: #3fa85b; fill-opacity: 0.5; stroke: #000000; stroke-linejoin: miter"/>
    </g>
    <g id="text_25">
     <text style="stroke: #000; stroke-width: 0.10; font-size: 10px; font-family: 'DejaVu Sans', sans-serif; text-anchor: start" x="322.21" y="180.91" transform="rotate(-0 322.21 180.91)">210</text>
    </g>
    <g id="patch_156">
     <path d="M 294.21 196.49 
L 314.21 196.49 
L 314.21 189.49 
L 294.21 189.49 
z
" style="fill: #289049; fill-opacity: 0.5; stroke: #000000; stroke-linejoin: miter"/>
    </g>
    <g id="text_26">
     <text style="stroke: #000; stroke-width: 0.10; font-size: 10px; font-family: 'DejaVu Sans', sans-serif; text-anchor: start" x="322.21" y="196.49" transform="rotate(-0 322.21 196.49)">240</text>
    </g>
    <g id="patch_157">
     <path d="M 294.21 212.06 
L 314.21 212.06 
L 314.21 205.06 
L 294.21 205.06 
z
" style="fill: #107a37; fill-opacity: 0.5; stroke: #000000; stroke-linejoin: miter"/>
    </g>
    <g id="text_27">
     <text style="stroke: #000; stroke-width: 0.10; font-size: 10px; font-family: 'DejaVu Sans', sans-serif; text-anchor: start" x="322.21" y="212.07" transform="rotate(-0 322.21 212.07)">270</text>
    </g>
    <g id="patch_158">
     <path d="M 294.21 227.64 
L 314.21 227.64 
L 314.21 220.64 
L 294.21 220.64 
z
" style="fill: #006227; fill-opacity: 0.5; stroke: #000000; stroke-linejoin: miter"/>
    </g>
    <g id="text_28">
     <text style="stroke: #000; stroke-width: 0.10; font-size: 10px; font-family: 'DejaVu Sans', sans-serif; text-anchor: start" x="322.21" y="227.65" transform="rotate(-0 322.21 227.65)">300</text>
    </g>
    <g id="patch_159">
     <path d="M 294.21 243.22 
L 314.21 243.22 
L 314.21 236.22 
L 294.21 236.22 
z
" style="fill: #00441b; fill-opacity: 0.5; stroke: #000000; stroke-linejoin: miter"/>
    </g>
    <g id="text_29">
     <text style="stroke: #000; stroke-width: 0.10; font-size: 10px; font-family: 'DejaVu Sans', sans-serif; text-anchor: start" x="322.21" y="243.22" transform="rotate(-0 322.21 243.22)">330</text>
    </g>
   </g>
  </g>
  <g id="axes_2">
   <g id="patch_160">
    <path d="M 41.80 835.08 
L 360.65 835.08 
L 360.65 471.96 
L 41.80 471.96 
z
" style="fill: #ffffff"/>
   </g>
   <g id="matplotlib.axis_3">
    <g id="xtick_9">
     <g id="line2d_27">
      <defs>
       <path id="m92da7aff10" d="M 0 0 
L 0 -3.5 
" style="stroke: #000000; stroke-width: 0.8"/>
      </defs>
      <g>
       <use href="#m92da7aff10" x="41.80" y="471.96" style="stroke: #000000; stroke-width: 0.8"/>
      </g>
     </g>
     <g id="text_30">
      <text style="stroke: #000; stroke-width: 0.10; font-size: 10px; font-family: 'DejaVu Sans', sans-serif; text-anchor: middle" x="41.80" y="462.72" transform="rotate(-0 41.80 462.72)">0.0</text>
     </g>
    </g>
    <g id="xtick_10">
     <g id="line2d_28">
      <g>
       <use href="#m92da7aff10" x="84.31" y="471.96" style="stroke: #000000; stroke-width: 0.8"/>
      </g>
     </g>
     <g id="text_31">
      <text style="stroke: #000; stroke-width: 0.10; font-size: 10px; font-family: 'DejaVu Sans', sans-serif; text-anchor: middle" x="84.32" y="462.72" transform="rotate(-0 84.32 462.72)">0.2</text>
     </g>
    </g>
    <g id="xtick_11">
     <g id="line2d_29">
      <g>
       <use href="#m92da7aff10" x="126.83" y="471.96" style="stroke: #000000; stroke-width: 0.8"/>
      </g>
     </g>
     <g id="text_32">
      <text style="stroke: #000; stroke-width: 0.10; font-size: 10px; font-family: 'DejaVu Sans', sans-serif; text-anchor: middle" x="126.83" y="462.72" transform="rotate(-0 126.83 462.72)">0.4</text>
     </g>
    </g>
    <g id="xtick_12">
     <g id="line2d_30">
      <g>
       <use href="#m92da7aff10" x="169.34" y="471.96" style="stroke: #000000; stroke-width: 0.8"/>
      </g>
     </g>
     <g id="text_33">
      <text style="stroke: #000; stroke-width: 0.10; font-size: 10px; font-family: 'DejaVu Sans', sans-serif; text-anchor: middle" x="169.34" y="462.72" transform="rotate(-0 169.34 462.72)">0.6</text>
     </g>
    </g>
    <g id="xtick_13">
     <g id="line2d_31">
      <g>
       <use href="#m92da7aff10" x="211.85" y="471.96" style="stroke: #000000; stroke-width: 0.8"/>
      </g>
     </g>
     <g id="text_34">
      <text style="stroke: #000; stroke-width: 0.10; font-size: 10px; font-family: 'DejaVu Sans', sans-serif; text-anchor: middle" x="211.86" y="462.72" transform="rotate(-0 211.86 462.72)">0.8</text>
     </g>
    </g>
    <g id="xtick_14">
     <g id="line2d_32">
      <g>
       <use href="#m92da7aff10" x="254.37" y="471.96" style="stroke: #000000; stroke-width: 0.8"/>
      </g>
     </g>
     <g id="text_35">
      <text style="stroke: #000; stroke-width: 0.10; font-size: 10px; font-family: 'DejaVu Sans', sans-serif; text-anchor: middle" x="254.37" y="462.72" transform="rotate(-0 254.37 462.72)">1.0</text>
     </g>
    </g>
    <g id="xtick_15">
     <g id="line2d_33">
      <g>
       <use href="#m92da7aff10" x="296.88" y="471.96" style="stroke: #000000; stroke-width: 0.8"/>
      </g>
     </g>
     <g id="text_36">
      <text style="stroke: #000; stroke-width: 0.10; font-size: 10px; font-family: 'DejaVu Sans', sans-serif; text-anchor: middle" x="296.89" y="462.72" transform="rotate(-0 296.89 462.72)">1.2</text>
     </g>
    </g>
    <g id="xtick_16">
     <g id="line2d_34">
      <g>
       <use href="#m92da7aff10" x="339.39" y="471.96" style="stroke: #000000; stroke-width: 0.8"/>
      </g>
     </g>
     <g id="text_37">
      <text style="stroke: #000; stroke-width: 0.10; font-size: 10px; font-family: 'DejaVu Sans', sans-serif; text-anchor: middle" x="339.40" y="462.72" transform="rotate(-0 339.40 462.72)">1.4</text>
     </g>
    </g>
    <g id="text_38">
     <text style="stroke: #000; stroke-width: 0.10; font-size: 10px; font-family: 'DejaVu Sans', sans-serif; text-anchor: middle" x="201.23" y="450.63" transform="rotate(-0 201.23 450.63)">Radius (mm)</text>
    </g>
   </g>
   <g id="matplotlib.axis_4">
    <g id="ytick_7">
     <g id="line2d_35">
      <g>
       <use href="#m5d545ce8f8" x="41.80" y="487.09" style="stroke: #000000; stroke-width: 0.8"/>
      </g>
     </g>
     <g id="text_39">
      <text style="stroke: #000; stroke-width: 0.10; font-size: 10px; font-family: 'DejaVu Sans', sans-serif; text-anchor: end" x="34.80" y="492.37" transform="rotate(-0 34.80 492.37)">0</text>
     </g>
    </g>
    <g id="ytick_8">
     <g id="line2d_36">
      <g>
       <use href="#m5d545ce8f8" x="41.80" y="517.35" style="stroke: #000000; stroke-width: 0.8"/>
      </g>
     </g>
     <g id="text_40">
      <text style="stroke: #000; stroke-width: 0.10; font-size: 10px; font-family: 'DejaVu Sans', sans-serif; text-anchor: end" x="34.80" y="522.63" transform="rotate(-0 34.80 522.63)">30</text>
     </g>
    </g>
    <g id="ytick_9">
     <g id="line2d_37">
      <g>
       <use href="#m5d545ce8f8" x="41.80" y="547.61" style="stroke: #000000; stroke-width: 0.8"/>
      </g>
     </g>
     <g id="text_41">
      <text style="stroke: #000; stroke-width: 0.10; font-size: 10px; font-family: 'DejaVu Sans', sans-serif; text-anchor: end" x="34.80" y="552.89" transform="rotate(-0 34.80 552.89)">60</text>
     </g>
    </g>
    <g id="ytick_10">
     <g id="line2d_38">
      <g>
       <use href="#m5d545ce8f8" x="41.80" y="577.87" style="stroke: #000000; stroke-width: 0.8"/>
      </g>
     </g>
     <g id="text_42">
      <text style="stroke: #000; stroke-width: 0.10; font-size: 10px; font-family: 'DejaVu Sans', sans-serif; text-anchor: end" x="34.80" y="583.15" transform="rotate(-0 34.80 583.15)">90</text>
     </g>
    </g>
    <g id="ytick_11">
     <g id="line2d_39">
      <g>
       <use href="#m5d545ce8f8" x="41.80" y="608.13" style="stroke: #000000; stroke-width: 0.8"/>
      </g>
     </g>
     <g id="text_43">
      <text style="stroke: #000; stroke-width: 0.10; font-size: 10px; font-family: 'DejaVu Sans', sans-serif; text-anchor: end" x="34.80" y="613.41" transform="rotate(-0 34.80 613.41)">120</text>
     </g>
    </g>
    <g id="ytick_12">
     <g id="line2d_40">
      <g>
       <use href="#m5d545ce8f8" x="41.80" y="638.39" style="stroke: #000000; stroke-width: 0.8"/>
      </g>
     </g>
     <g id="text_44">
      <text style="stroke: #000; stroke-width: 0.10; font-size: 10px; font-family: 'DejaVu Sans', sans-serif; text-anchor: end" x="34.80" y="643.67" transform="rotate(-0 34.80 643.67)">150</text>
     </g>
    </g>
    <g id="ytick_13">
     <g id="line2d_41">
      <g>
       <use href="#m5d545ce8f8" x="41.80" y="668.65" style="stroke: #000000; stroke-width: 0.8"/>
      </g>
     </g>
     <g id="text_45">
      <text style="stroke: #000; stroke-width: 0.10; font-size: 10px; font-family: 'DejaVu Sans', sans-serif; text-anchor: end" x="34.80" y="673.93" transform="rotate(-0 34.80 673.93)">180</text>
     </g>
    </g>
    <g id="ytick_14">
     <g id="line2d_42">
      <g>
       <use href="#m5d545ce8f8" x="41.80" y="698.91" style="stroke: #000000; stroke-width: 0.8"/>
      </g>
     </g>
     <g id="text_46">
      <text style="stroke: #000; stroke-width: 0.10; font-size: 10px; font-family: 'DejaVu Sans', sans-serif; text-anchor: end" x="34.80" y="704.19" transform="rotate(-0 34.80 704.19)">210</text>
     </g>
    </g>
    <g id="ytick_15">
     <g id="line2d_43">
      <g>
       <use href="#m5d545ce8f8" x="41.80" y="729.17" style="stroke: #000000; stroke-width: 0.8"/>
      </g>
     </g>
     <g id="text_47">
      <text style="stroke: #000; stroke-width: 0.10; font-size: 10px; font-family: 'DejaVu Sans', sans-serif; text-anchor: end" x="34.80" y="734.45" transform="rotate(-0 34.80 734.45)">240</text>
     </g>
    </g>
    <g id="ytick_16">
     <g id="line2d_44">
      <g>
       <use href="#m5d545ce8f8" x="41.80" y="759.43" style="stroke: #000000; stroke-width: 0.8"/>
      </g>
     </g>
     <g id="text_48">
      <text style="stroke: #000; stroke-width: 0.10; font-size: 10px; font-family: 'DejaVu Sans', sans-serif; text-anchor: end" x="34.80" y="764.71" transform="rotate(-0 34.80 764.71)">270</text>
     </g>
    </g>
    <g id="ytick_17">
     <g id="line2d_45">
      <g>
       <use href="#m5d545ce8f8" x="41.80" y="789.69" style="stroke: #000000; stroke-width: 0.8"/>
      </g>
     </g>
     <g id="text_49">
      <text style="stroke: #000; stroke-width: 0.10; font-size: 10px; font-family: 'DejaVu Sans', sans-serif; text-anchor: end" x="34.80" y="794.97" transform="rotate(-0 34.80 794.97)">300</text>
     </g>
    </g>
    <g id="ytick_18">
     <g id="line2d_46">
      <g>
       <use href="#m5d545ce8f8" x="41.80" y="819.95" style="stroke: #000000; stroke-width: 0.8"/>
      </g>
     </g>
     <g id="text_50">
      <text style="stroke: #000; stroke-width: 0.10; font-size: 10px; font-family: 'DejaVu Sans', sans-serif; text-anchor: end" x="34.80" y="825.23" transform="rotate(-0 34.80 825.23)">330</text>
     </g>
    </g>
    <g id="text_51">
     <text style="stroke: #000; stroke-width: 0.10; font-size: 10.30px; font-family: 'DejaVu Sans', sans-serif; text-anchor: middle" x="9.96" y="653.52" transform="rotate(-90 9.96 653.52)">Gantry Angle</text>
    </g>
   </g>
   <g id="patch_161">
    <path d="M 135.40 474.99 
L 135.40 499.20 
L 172.78 499.20 
L 172.78 474.99 
L 135.40 474.99 
z
" clip-path="url(#pdde371724e)" style="fill: #edf6ea; stroke: #1c1c1c; stroke-linejoin: miter"/>
   </g>
   <g id="line2d_47">
    <path d="M 135.40 487.09 
L 104.91 487.09 
" clip-path="url(#pdde371724e)" style="fill: none; stroke: #1c1c1c"/>
   </g>
   <g id="line2d_48">
    <path d="M 172.78 487.09 
L 225.90 487.09 
" clip-path="url(#pdde371724e)" style="fill: none; stroke: #1c1c1c"/>
   </g>
   <g id="line2d_49">
    <path d="M 104.91 481.04 
L 104.91 493.14 
" clip-path="url(#pdde371724e)" style="fill: none; stroke: #1c1c1c; stroke-linecap: square"/>
   </g>
   <g id="line2d_50">
    <path d="M 225.90 481.04 
L 225.90 493.14 
" clip-path="url(#pdde371724e)" style="fill: none; stroke: #1c1c1c; stroke-linecap: square"/>
   </g>
   <g id="line2d_51">
    <defs>
     <path id="m97e8ec0f62" d="M 0 3 
C 0.79 3 1.55 2.68 2.12 2.12 
C 2.68 1.55 3 0.79 3 0 
C 3 -0.79 2.68 -1.55 2.12 -2.12 
C 1.55 -2.68 0.79 -3 0 -3 
C -0.79 -3 -1.55 -2.68 -2.12 -2.12 
C -2.68 -1.55 -3 -0.79 -3 0 
C -3 0.79 -2.68 1.55 -2.12 2.12 
C -1.55 2.68 -0.79 3 0 3 
z
" style="stroke: #1c1c1c"/>
    </defs>
    <g clip-path="url(#pdde371724e)">
     <use href="#m97e8ec0f62" x="227.70" y="487.09" style="fill-opacity: 0; stroke: #1c1c1c"/>
     <use href="#m97e8ec0f62" x="236.55" y="487.09" style="fill-opacity: 0; stroke: #1c1c1c"/>
    </g>
   </g>
   <g id="patch_162">
    <path d="M 140.40 505.25 
L 140.40 529.46 
L 194.59 529.46 
L 194.59 505.25 
L 140.40 505.25 
z
" clip-path="url(#pdde371724e)" style="fill: #e0efdc; stroke: #1c1c1c; stroke-linejoin: miter"/>
   </g>
   <g id="line2d_52">
    <path d="M 140.40 517.35 
L 107.37 517.35 
" clip-path="url(#pdde371724e)" style="fill: none; stroke: #1c1c1c"/>
   </g>
   <g id="line2d_53">
    <path d="M 194.59 517.35 
L 254.59 517.35 
" clip-path="url(#pdde371724e)" style="fill: none; stroke: #1c1c1c"/>
   </g>
   <g id="line2d_54">
    <path d="M 107.37 511.30 
L 107.37 523.40 
" clip-path="url(#pdde371724e)" style="fill: none; stroke: #1c1c1c; stroke-linecap: square"/>
   </g>
   <g id="line2d_55">
    <path d="M 254.59 511.30 
L 254.59 523.40 
" clip-path="url(#pdde371724e)" style="fill: none; stroke: #1c1c1c; stroke-linecap: square"/>
   </g>
   <g id="line2d_56"/>
   <g id="patch_163">
    <path d="M 145.08 535.51 
L 145.08 559.71 
L 187.04 559.71 
L 187.04 535.51 
L 145.08 535.51 
z
" clip-path="url(#pdde371724e)" style="fill: #cfe6ca; stroke: #1c1c1c; stroke-linejoin: miter"/>
   </g>
   <g id="line2d_57">
    <path d="M 145.08 547.61 
L 110.32 547.61 
" clip-path="url(#pdde371724e)" style="fill: none; stroke: #1c1c1c"/>
   </g>
   <g id="line2d_58">
    <path d="M 187.04 547.61 
L 245.57 547.61 
" clip-path="url(#pdde371724e)" style="fill: none; stroke: #1c1c1c"/>
   </g>
   <g id="line2d_59">
    <path d="M 110.32 541.56 
L 110.32 553.66 
" clip-path="url(#pdde371724e)" style="fill: none; stroke: #1c1c1c; stroke-linecap: square"/>
   </g>
   <g id="line2d_60">
    <path d="M 245.57 541.56 
L 245.57 553.66 
" clip-path="url(#pdde371724e)" style="fill: none; stroke: #1c1c1c; stroke-linecap: square"/>
   </g>
   <g id="line2d_61">
    <g clip-path="url(#pdde371724e)">
     <use href="#m97e8ec0f62" x="250.32" y="547.61" style="fill-opacity: 0; stroke: #1c1c1c"/>
    </g>
   </g>
   <g id="patch_164">
    <path d="M 147.95 565.77 
L 147.95 589.97 
L 194.59 589.97 
L 194.59 565.77 
L 147.95 565.77 
z
" clip-path="url(#pdde371724e)" style="fill: #bbdcb6; stroke: #1c1c1c; stroke-linejoin: miter"/>
   </g>
   <g id="line2d_62">
    <path d="M 147.95 577.87 
L 96.55 577.87 
" clip-path="url(#pdde371724e)" style="fill: none; stroke: #1c1c1c"/>
   </g>
   <g id="line2d_63">
    <path d="M 194.59 577.87 
L 260 577.87 
" clip-path="url(#pdde371724e)" style="fill: none; stroke: #1c1c1c"/>
   </g>
   <g id="line2d_64">
    <path d="M 96.55 571.82 
L 96.55 583.92 
" clip-path="url(#pdde371724e)" style="fill: none; stroke: #1c1c1c; stroke-linecap: square"/>
   </g>
   <g id="line2d_65">
    <path d="M 260 571.82 
L 260 583.92 
" clip-path="url(#pdde371724e)" style="fill: none; stroke: #1c1c1c; stroke-linecap: square"/>
   </g>
   <g id="line2d_66">
    <g clip-path="url(#pdde371724e)">
     <use href="#m97e8ec0f62" x="269.34" y="577.87" style="fill-opacity: 0; stroke: #1c1c1c"/>
    </g>
   </g>
   <g id="patch_165">
    <path d="M 131.47 596.03 
L 131.47 620.23 
L 186.39 620.23 
L 186.39 596.03 
L 131.47 596.03 
z
" clip-path="url(#pdde371724e)" style="fill: #a4d0a0; stroke: #1c1c1c; stroke-linejoin: miter"/>
   </g>
   <g id="line2d_67">
    <path d="M 131.47 608.13 
L 93.03 608.13 
" clip-path="url(#pdde371724e)" style="fill: none; stroke: #1c1c1c"/>
   </g>
   <g id="line2d_68">
    <path d="M 186.39 608.13 
L 255.24 608.13 
" clip-path="url(#pdde371724e)" style="fill: none; stroke: #1c1c1c"/>
   </g>
   <g id="line2d_69">
    <path d="M 93.03 602.08 
L 93.03 614.18 
" clip-path="url(#pdde371724e)" style="fill: none; stroke: #1c1c1c; stroke-linecap: square"/>
   </g>
   <g id="line2d_70">
    <path d="M 255.24 602.08 
L 255.24 614.18 
" clip-path="url(#pdde371724e)" style="fill: none; stroke: #1c1c1c; stroke-linecap: square"/>
   </g>
   <g id="line2d_71"/>
   <g id="patch_166">
    <path d="M 138.19 626.29 
L 138.19 650.49 
L 199.67 650.49 
L 199.67 626.29 
L 138.19 626.29 
z
" clip-path="url(#pdde371724e)" style="fill: #8ac18a; stroke: #1c1c1c; stroke-linejoin: miter"/>
   </g>
   <g id="line2d_72">
    <path d="M 138.19 638.39 
L 93.03 638.39 
" clip-path="url(#pdde371724e)" style="fill: none; stroke: #1c1c1c"/>
   </g>
   <g id="line2d_73">
    <path d="M 199.67 638.39 
L 279.67 638.39 
" clip-path="url(#pdde371724e)" style="fill: none; stroke: #1c1c1c"/>
   </g>
   <g id="line2d_74">
    <path d="M 93.03 632.34 
L 93.03 644.44 
" clip-path="url(#pdde371724e)" style="fill: none; stroke: #1c1c1c; stroke-linecap: square"/>
   </g>
   <g id="line2d_75">
    <path d="M 279.67 632.34 
L 279.67 644.44 
" clip-path="url(#pdde371724e)" style="fill: none; stroke: #1c1c1c; stroke-linecap: square"/>
   </g>
   <g id="line2d_76"/>
   <g id="patch_167">
    <path d="M 128.85 656.55 
L 128.85 680.75 
L 179.83 680.75 
L 179.83 656.55 
L 128.85 656.55 
z
" clip-path="url(#pdde371724e)" style="fill: #70b277; stroke: #1c1c1c; stroke-linejoin: miter"/>
   </g>
   <g id="line2d_77">
    <path d="M 128.85 668.65 
L 83.27 668.65 
" clip-path="url(#pdde371724e)" style="fill: none; stroke: #1c1c1c"/>
   </g>
   <g id="line2d_78">
    <path d="M 179.83 668.65 
L 243.77 668.65 
" clip-path="url(#pdde371724e)" style="fill: none; stroke: #1c1c1c"/>
   </g>
   <g id="line2d_79">
    <path d="M 83.27 662.60 
L 83.27 674.70 
" clip-path="url(#pdde371724e)" style="fill: none; stroke: #1c1c1c; stroke-linecap: square"/>
   </g>
   <g id="line2d_80">
    <path d="M 243.77 662.60 
L 243.77 674.70 
" clip-path="url(#pdde371724e)" style="fill: none; stroke: #1c1c1c; stroke-linecap: square"/>
   </g>
   <g id="line2d_81">
    <g clip-path="url(#pdde371724e)">
     <use href="#m97e8ec0f62" x="256.39" y="668.65" style="fill-opacity: 0; stroke: #1c1c1c"/>
     <use href="#m97e8ec0f62" x="274.26" y="668.65" style="fill-opacity: 0; stroke: #1c1c1c"/>
     <use href="#m97e8ec0f62" x="276.88" y="668.65" style="fill-opacity: 0; stroke: #1c1c1c"/>
     <use href="#m97e8ec0f62" x="279.01" y="668.65" style="fill-opacity: 0; stroke: #1c1c1c"/>
    </g>
   </g>
   <g id="patch_168">
    <path d="M 136.88 686.81 
L 136.88 711.01 
L 180.98 711.01 
L 180.98 686.81 
L 136.88 686.81 
z
" clip-path="url(#pdde371724e)" style="fill: #52a065; stroke: #1c1c1c; stroke-linejoin: miter"/>
   </g>
   <g id="line2d_82">
    <path d="M 136.88 698.91 
L 97.70 698.91 
" clip-path="url(#pdde371724e)" style="fill: none; stroke: #1c1c1c"/>
   </g>
   <g id="line2d_83">
    <path d="M 180.98 698.91 
L 230.49 698.91 
" clip-path="url(#pdde371724e)" style="fill: none; stroke: #1c1c1c"/>
   </g>
   <g id="line2d_84">
    <path d="M 97.70 692.86 
L 97.70 704.96 
" clip-path="url(#pdde371724e)" style="fill: none; stroke: #1c1c1c; stroke-linecap: square"/>
   </g>
   <g id="line2d_85">
    <path d="M 230.49 692.86 
L 230.49 704.96 
" clip-path="url(#pdde371724e)" style="fill: none; stroke: #1c1c1c; stroke-linecap: square"/>
   </g>
   <g id="line2d_86"/>
   <g id="patch_169">
    <path d="M 133.27 717.06 
L 133.27 741.27 
L 176.72 741.27 
L 176.72 717.06 
L 133.27 717.06 
z
" clip-path="url(#pdde371724e)" style="fill: #3e8c55; stroke: #1c1c1c; stroke-linejoin: miter"/>
   </g>
   <g id="line2d_87">
    <path d="M 133.27 729.17 
L 105.57 729.17 
" clip-path="url(#pdde371724e)" style="fill: none; stroke: #1c1c1c"/>
   </g>
   <g id="line2d_88">
    <path d="M 176.72 729.17 
L 236.55 729.17 
" clip-path="url(#pdde371724e)" style="fill: none; stroke: #1c1c1c"/>
   </g>
   <g id="line2d_89">
    <path d="M 105.57 723.12 
L 105.57 735.22 
" clip-path="url(#pdde371724e)" style="fill: none; stroke: #1c1c1c; stroke-linecap: square"/>
   </g>
   <g id="line2d_90">
    <path d="M 236.55 723.12 
L 236.55 735.22 
" clip-path="url(#pdde371724e)" style="fill: none; stroke: #1c1c1c; stroke-linecap: square"/>
   </g>
   <g id="line2d_91">
    <g clip-path="url(#pdde371724e)">
     <use href="#m97e8ec0f62" x="243.77" y="729.17" style="fill-opacity: 0; stroke: #1c1c1c"/>
     <use href="#m97e8ec0f62" x="249.83" y="729.17" style="fill-opacity: 0; stroke: #1c1c1c"/>
     <use href="#m97e8ec0f62" x="260.65" y="729.17" style="fill-opacity: 0; stroke: #1c1c1c"/>
    </g>
   </g>
   <g id="patch_170">
    <path d="M 139.34 747.32 
L 139.34 771.53 
L 185.24 771.53 
L 185.24 747.32 
L 139.34 747.32 
z
" clip-path="url(#pdde371724e)" style="fill: #2b7945; stroke: #1c1c1c; stroke-linejoin: miter"/>
   </g>
   <g id="line2d_92">
    <path d="M 139.34 759.43 
L 101.96 759.43 
" clip-path="url(#pdde371724e)" style="fill: none; stroke: #1c1c1c"/>
   </g>
   <g id="line2d_93">
    <path d="M 185.24 759.43 
L 246.72 759.43 
" clip-path="url(#pdde371724e)" style="fill: none; stroke: #1c1c1c"/>
   </g>
   <g id="line2d_94">
    <path d="M 101.96 753.38 
L 101.96 765.48 
" clip-path="url(#pdde371724e)" style="fill: none; stroke: #1c1c1c; stroke-linecap: square"/>
   </g>
   <g id="line2d_95">
    <path d="M 246.72 753.38 
L 246.72 765.48 
" clip-path="url(#pdde371724e)" style="fill: none; stroke: #1c1c1c; stroke-linecap: square"/>
   </g>
   <g id="line2d_96"/>
   <g id="patch_171">
    <path d="M 146.22 777.58 
L 146.22 801.79 
L 205.73 801.79 
L 205.73 777.58 
L 146.22 777.58 
z
" clip-path="url(#pdde371724e)" style="fill: #156635; stroke: #1c1c1c; stroke-linejoin: miter"/>
   </g>
   <g id="line2d_97">
    <path d="M 146.22 789.69 
L 84.75 789.69 
" clip-path="url(#pdde371724e)" style="fill: none; stroke: #1c1c1c"/>
   </g>
   <g id="line2d_98">
    <path d="M 205.73 789.69 
L 272.45 789.69 
" clip-path="url(#pdde371724e)" style="fill: none; stroke: #1c1c1c"/>
   </g>
   <g id="line2d_99">
    <path d="M 84.75 783.64 
L 84.75 795.74 
" clip-path="url(#pdde371724e)" style="fill: none; stroke: #1c1c1c; stroke-linecap: square"/>
   </g>
   <g id="line2d_100">
    <path d="M 272.45 783.64 
L 272.45 795.74 
" clip-path="url(#pdde371724e)" style="fill: none; stroke: #1c1c1c; stroke-linecap: square"/>
   </g>
   <g id="line2d_101"/>
   <g id="patch_172">
    <path d="M 140.81 807.84 
L 140.81 832.05 
L 190.98 832.05 
L 190.98 807.84 
L 140.81 807.84 
z
" clip-path="url(#pdde371724e)" style="fill: #0c5127; stroke: #1c1c1c; stroke-linejoin: miter"/>
   </g>
   <g id="line2d_102">
    <path d="M 140.81 819.95 
L 105.57 819.95 
" clip-path="url(#pdde371724e)" style="fill: none; stroke: #1c1c1c"/>
   </g>
   <g id="line2d_103">
    <path d="M 190.98 819.95 
L 260 819.95 
" clip-path="url(#pdde371724e)" style="fill: none; stroke: #1c1c1c"/>
   </g>
   <g id="line2d_104">
    <path d="M 105.57 813.90 
L 105.57 826.00 
" clip-path="url(#pdde371724e)" style="fill: none; stroke: #1c1c1c; stroke-linecap: square"/>
   </g>
   <g id="line2d_105">
    <path d="M 260 813.90 
L 260 826.00 
" clip-path="url(#pdde371724e)" style="fill: none; stroke: #1c1c1c; stroke-linecap: square"/>
   </g>
   <g id="line2d_106">
    <g clip-path="url(#pdde371724e)">
     <use href="#m97e8ec0f62" x="280.32" y="819.95" style="fill-opacity: 0; stroke: #1c1c1c"/>
    </g>
   </g>
   <g id="line2d_107">
    <path d="M 158.36 474.99 
L 158.36 499.20 
" clip-path="url(#pdde371724e)" style="fill: none; stroke: #1c1c1c"/>
   </g>
   <g id="line2d_108">
    <path d="M 170.16 505.25 
L 170.16 529.46 
" clip-path="url(#pdde371724e)" style="fill: none; stroke: #1c1c1c"/>
   </g>
   <g id="line2d_109">
    <path d="M 169.50 535.51 
L 169.50 559.71 
" clip-path="url(#pdde371724e)" style="fill: none; stroke: #1c1c1c"/>
   </g>
   <g id="line2d_110">
    <path d="M 169.50 565.77 
L 169.50 589.97 
" clip-path="url(#pdde371724e)" style="fill: none; stroke: #1c1c1c"/>
   </g>
   <g id="line2d_111">
    <path d="M 161.22 596.03 
L 161.22 620.23 
" clip-path="url(#pdde371724e)" style="fill: none; stroke: #1c1c1c"/>
   </g>
   <g id="line2d_112">
    <path d="M 162.95 626.29 
L 162.95 650.49 
" clip-path="url(#pdde371724e)" style="fill: none; stroke: #1c1c1c"/>
   </g>
   <g id="line2d_113">
    <path d="M 156.55 656.55 
L 156.55 680.75 
" clip-path="url(#pdde371724e)" style="fill: none; stroke: #1c1c1c"/>
   </g>
   <g id="line2d_114">
    <path d="M 149.67 686.81 
L 149.67 711.01 
" clip-path="url(#pdde371724e)" style="fill: none; stroke: #1c1c1c"/>
   </g>
   <g id="line2d_115">
    <path d="M 149.67 717.06 
L 149.67 741.27 
" clip-path="url(#pdde371724e)" style="fill: none; stroke: #1c1c1c"/>
   </g>
   <g id="line2d_116">
    <path d="M 173.11 747.32 
L 173.11 771.53 
" clip-path="url(#pdde371724e)" style="fill: none; stroke: #1c1c1c"/>
   </g>
   <g id="line2d_117">
    <path d="M 167.37 777.58 
L 167.37 801.79 
" clip-path="url(#pdde371724e)" style="fill: none; stroke: #1c1c1c"/>
   </g>
   <g id="line2d_118">
    <path d="M 160.16 807.84 
L 160.16 832.05 
" clip-path="url(#pdde371724e)" style="fill: none; stroke: #1c1c1c"/>
   </g>
   <g id="patch_173">
    <path d="M 41.80 835.08 
L 41.80 471.96 
" style="fill: none; stroke: #000000; stroke-width: 0.8; stroke-linejoin: miter; stroke-linecap: square"/>
   </g>
   <g id="patch_174">
    <path d="M 360.65 835.08 
L 360.65 471.96 
" style="fill: none; stroke: #000000; stroke-width: 0.8; stroke-linejoin: miter; stroke-linecap: square"/>
   </g>
   <g id="patch_175">
    <path d="M 41.80 835.08 
L 360.65 835.08 
" style="fill: none; stroke: #000000; stroke-width: 0.8; stroke-linejoin: miter; stroke-linecap: square"/>
   </g>
   <g id="patch_176">
    <path d="M 41.80 471.96 
L 360.65 471.96 
" style="fill: none; stroke: #000000; stroke-width: 0.8; stroke-linejoin: miter; stroke-linecap: square"/>
   </g>
  </g>
  <g id="axes_3">
   <g id="patch_177">
    <path d="M 422.21 395.24 
L 741.06 395.24 
L 741.06 38.52 
L 422.21 38.52 
z
" style="fill: #ffffff"/>
   </g>
   <g id="patch_178">
    <path d="M 480.16 395.24 
L 494.45 395.24 
L 494.45 384.54 
L 480.16 384.54 
z
" clip-path="url(#p01abf23111)" style="fill: #08306b; fill-opacity: 0.5"/>
   </g>
   <g id="patch_179">
    <path d="M 494.45 395.24 
L 508.74 395.24 
L 508.74 384.54 
L 494.45 384.54 
z
" clip-path="url(#p01abf23111)" style="fill: #08306b; fill-opacity: 0.5"/>
   </g>
   <g id="patch_180">
    <path d="M 508.74 395.24 
L 523.03 395.24 
L 523.03 380.97 
L 508.74 380.97 
z
" clip-path="url(#p01abf23111)" style="fill: #08306b; fill-opacity: 0.5"/>
   </g>
   <g id="patch_181">
    <path d="M 523.03 395.24 
L 537.32 395.24 
L 537.32 373.84 
L 523.03 373.84 
z
" clip-path="url(#p01abf23111)" style="fill: #08306b; fill-opacity: 0.5"/>
   </g>
   <g id="patch_182">
    <path d="M 537.32 395.24 
L 551.61 395.24 
L 551.61 363.14 
L 537.32 363.14 
z
" clip-path="url(#p01abf23111)" style="fill: #08306b; fill-opacity: 0.5"/>
   </g>
   <g id="patch_183">
    <path d="M 551.61 395.24 
L 565.90 395.24 
L 565.90 377.40 
L 551.61 377.40 
z
" clip-path="url(#p01abf23111)" style="fill: #08306b; fill-opacity: 0.5"/>
   </g>
   <g id="patch_184">
    <path d="M 565.90 395.24 
L 580.19 395.24 
L 580.19 377.40 
L 565.90 377.40 
z
" clip-path="url(#p01abf23111)" style="fill: #08306b; fill-opacity: 0.5"/>
   </g>
   <g id="patch_185">
    <path d="M 580.19 395.24 
L 594.48 395.24 
L 594.48 384.54 
L 580.19 384.54 
z
" clip-path="url(#p01abf23111)" style="fill: #08306b; fill-opacity: 0.5"/>
   </g>
   <g id="patch_186">
    <path d="M 594.48 395.24 
L 608.77 395.24 
L 608.77 384.54 
L 594.48 384.54 
z
" clip-path="url(#p01abf23111)" style="fill: #08306b; fill-opacity: 0.5"/>
   </g>
   <g id="patch_187">
    <path d="M 608.77 395.24 
L 623.06 395.24 
L 623.06 388.11 
L 608.77 388.11 
z
" clip-path="url(#p01abf23111)" style="fill: #08306b; fill-opacity: 0.5"/>
   </g>
   <g id="patch_188">
    <path d="M 623.06 395.24 
L 637.34 395.24 
L 637.34 388.11 
L 623.06 388.11 
z
" clip-path="url(#p01abf23111)" style="fill: #08306b; fill-opacity: 0.5"/>
   </g>
   <g id="patch_189">
    <path d="M 694.50 395.24 
L 708.79 395.24 
L 708.79 384.54 
L 694.50 384.54 
z
" clip-path="url(#p01abf23111)" style="fill: #08306b; fill-opacity: 0.5"/>
   </g>
   <g id="patch_190">
    <path d="M 494.45 384.54 
L 508.74 384.54 
L 508.74 370.27 
L 494.45 370.27 
z
" clip-path="url(#p01abf23111)" style="fill: #08488e; fill-opacity: 0.5"/>
   </g>
   <g id="patch_191">
    <path d="M 508.74 380.97 
L 523.03 380.97 
L 523.03 359.57 
L 508.74 359.57 
z
" clip-path="url(#p01abf23111)" style="fill: #08488e; fill-opacity: 0.5"/>
   </g>
   <g id="patch_192">
    <path d="M 523.03 373.84 
L 537.32 373.84 
L 537.32 359.57 
L 523.03 359.57 
z
" clip-path="url(#p01abf23111)" style="fill: #08488e; fill-opacity: 0.5"/>
   </g>
   <g id="patch_193">
    <path d="M 537.32 363.14 
L 551.61 363.14 
L 551.61 345.30 
L 537.32 345.30 
z
" clip-path="url(#p01abf23111)" style="fill: #08488e; fill-opacity: 0.5"/>
   </g>
   <g id="patch_194">
    <path d="M 551.61 377.40 
L 565.90 377.40 
L 565.90 363.14 
L 551.61 363.14 
z
" clip-path="url(#p01abf23111)" style="fill: #08488e; fill-opacity: 0.5"/>
   </g>
   <g id="patch_195">
    <path d="M 565.90 377.40 
L 580.19 377.40 
L 580.19 345.30 
L 565.90 345.30 
z
" clip-path="url(#p01abf23111)" style="fill: #08488e; fill-opacity: 0.5"/>
   </g>
   <g id="patch_196">
    <path d="M 580.19 384.54 
L 594.48 384.54 
L 594.48 359.57 
L 580.19 359.57 
z
" clip-path="url(#p01abf23111)" style="fill: #08488e; fill-opacity: 0.5"/>
   </g>
   <g id="patch_197">
    <path d="M 594.48 384.54 
L 608.77 384.54 
L 608.77 373.84 
L 594.48 373.84 
z
" clip-path="url(#p01abf23111)" style="fill: #08488e; fill-opacity: 0.5"/>
   </g>
   <g id="patch_198">
    <path d="M 608.77 388.11 
L 623.06 388.11 
L 623.06 380.97 
L 608.77 380.97 
z
" clip-path="url(#p01abf23111)" style="fill: #08488e; fill-opacity: 0.5"/>
   </g>
   <g id="patch_199">
    <path d="M 623.06 388.11 
L 637.34 388.11 
L 637.34 380.97 
L 623.06 380.97 
z
" clip-path="url(#p01abf23111)" style="fill: #08488e; fill-opacity: 0.5"/>
   </g>
   <g id="patch_200">
    <path d="M 637.34 395.24 
L 651.63 395.24 
L 651.63 384.54 
L 637.34 384.54 
z
" clip-path="url(#p01abf23111)" style="fill: #08488e; fill-opacity: 0.5"/>
   </g>
   <g id="patch_201">
    <path d="M 480.16 384.54 
L 494.45 384.54 
L 494.45 373.84 
L 480.16 373.84 
z
" clip-path="url(#p01abf23111)" style="fill: #135fa7; fill-opacity: 0.5"/>
   </g>
   <g id="patch_202">
    <path d="M 494.45 370.27 
L 508.74 370.27 
L 508.74 359.57 
L 494.45 359.57 
z
" clip-path="url(#p01abf23111)" style="fill: #135fa7; fill-opacity: 0.5"/>
   </g>
   <g id="patch_203">
    <path d="M 508.74 359.57 
L 523.03 359.57 
L 523.03 341.73 
L 508.74 341.73 
z
" clip-path="url(#p01abf23111)" style="fill: #135fa7; fill-opacity: 0.5"/>
   </g>
   <g id="patch_204">
    <path d="M 523.03 359.57 
L 537.32 359.57 
L 537.32 331.03 
L 523.03 331.03 
z
" clip-path="url(#p01abf23111)" style="fill: #135fa7; fill-opacity: 0.5"/>
   </g>
   <g id="patch_205">
    <path d="M 537.32 345.30 
L 551.61 345.30 
L 551.61 316.76 
L 537.32 316.76 
z
" clip-path="url(#p01abf23111)" style="fill: #135fa7; fill-opacity: 0.5"/>
   </g>
   <g id="patch_206">
    <path d="M 551.61 363.14 
L 565.90 363.14 
L 565.90 341.73 
L 551.61 341.73 
z
" clip-path="url(#p01abf23111)" style="fill: #135fa7; fill-opacity: 0.5"/>
   </g>
   <g id="patch_207">
    <path d="M 565.90 345.30 
L 580.19 345.30 
L 580.19 331.03 
L 565.90 331.03 
z
" clip-path="url(#p01abf23111)" style="fill: #135fa7; fill-opacity: 0.5"/>
   </g>
   <g id="patch_208">
    <path d="M 580.19 359.57 
L 594.48 359.57 
L 594.48 352.43 
L 580.19 352.43 
z
" clip-path="url(#p01abf23111)" style="fill: #135fa7; fill-opacity: 0.5"/>
   </g>
   <g id="patch_209">
    <path d="M 594.48 373.84 
L 608.77 373.84 
L 608.77 363.14 
L 594.48 363.14 
z
" clip-path="url(#p01abf23111)" style="fill: #135fa7; fill-opacity: 0.5"/>
   </g>
   <g id="patch_210">
    <path d="M 608.77 380.97 
L 623.06 380.97 
L 623.06 373.84 
L 608.77 373.84 
z
" clip-path="url(#p01abf23111)" style="fill: #135fa7; fill-opacity: 0.5"/>
   </g>
   <g id="patch_211">
    <path d="M 623.06 380.97 
L 637.34 380.97 
L 637.34 373.84 
L 623.06 373.84 
z
" clip-path="url(#p01abf23111)" style="fill: #135fa7; fill-opacity: 0.5"/>
   </g>
   <g id="patch_212">
    <path d="M 480.16 373.84 
L 494.45 373.84 
L 494.45 366.70 
L 480.16 366.70 
z
" clip-path="url(#p01abf23111)" style="fill: #2676b8; fill-opacity: 0.5"/>
   </g>
   <g id="patch_213">
    <path d="M 494.45 359.57 
L 508.74 359.57 
L 508.74 348.87 
L 494.45 348.87 
z
" clip-path="url(#p01abf23111)" style="fill: #2676b8; fill-opacity: 0.5"/>
   </g>
   <g id="patch_214">
    <path d="M 508.74 341.73 
L 523.03 341.73 
L 523.03 323.90 
L 508.74 323.90 
z
" clip-path="url(#p01abf23111)" style="fill: #2676b8; fill-opacity: 0.5"/>
   </g>
   <g id="patch_215">
    <path d="M 523.03 331.03 
L 537.32 331.03 
L 537.32 309.63 
L 523.03 309.63 
z
" clip-path="url(#p01abf23111)" style="fill: #2676b8; fill-opacity: 0.5"/>
   </g>
   <g id="patch_216">
    <path d="M 537.32 316.76 
L 551.61 316.76 
L 551.61 291.79 
L 537.32 291.79 
z
" clip-path="url(#p01abf23111)" style="fill: #2676b8; fill-opacity: 0.5"/>
   </g>
   <g id="patch_217">
    <path d="M 551.61 341.73 
L 565.90 341.73 
L 565.90 327.46 
L 551.61 327.46 
z
" clip-path="url(#p01abf23111)" style="fill: #2676b8; fill-opacity: 0.5"/>
   </g>
   <g id="patch_218">
    <path d="M 565.90 331.03 
L 580.19 331.03 
L 580.19 320.33 
L 565.90 320.33 
z
" clip-path="url(#p01abf23111)" style="fill: #2676b8; fill-opacity: 0.5"/>
   </g>
   <g id="patch_219">
    <path d="M 580.19 352.43 
L 594.48 352.43 
L 594.48 338.17 
L 580.19 338.17 
z
" clip-path="url(#p01abf23111)" style="fill: #2676b8; fill-opacity: 0.5"/>
   </g>
   <g id="patch_220">
    <path d="M 594.48 363.14 
L 608.77 363.14 
L 608.77 352.43 
L 594.48 352.43 
z
" clip-path="url(#p01abf23111)" style="fill: #2676b8; fill-opacity: 0.5"/>
   </g>
   <g id="patch_221">
    <path d="M 480.16 366.70 
L 494.45 366.70 
L 494.45 356.00 
L 480.16 356.00 
z
" clip-path="url(#p01abf23111)" style="fill: #3f8fc5; fill-opacity: 0.5"/>
   </g>
   <g id="patch_222">
    <path d="M 494.45 348.87 
L 508.74 348.87 
L 508.74 338.17 
L 494.45 338.17 
z
" clip-path="url(#p01abf23111)" style="fill: #3f8fc5; fill-opacity: 0.5"/>
   </g>
   <g id="patch_223">
    <path d="M 508.74 323.90 
L 523.03 323.90 
L 523.03 309.63 
L 508.74 309.63 
z
" clip-path="url(#p01abf23111)" style="fill: #3f8fc5; fill-opacity: 0.5"/>
   </g>
   <g id="patch_224">
    <path d="M 523.03 309.63 
L 537.32 309.63 
L 537.32 284.66 
L 523.03 284.66 
z
" clip-path="url(#p01abf23111)" style="fill: #3f8fc5; fill-opacity: 0.5"/>
   </g>
   <g id="patch_225">
    <path d="M 537.32 291.79 
L 551.61 291.79 
L 551.61 263.25 
L 537.32 263.25 
z
" clip-path="url(#p01abf23111)" style="fill: #3f8fc5; fill-opacity: 0.5"/>
   </g>
   <g id="patch_226">
    <path d="M 551.61 327.46 
L 565.90 327.46 
L 565.90 316.76 
L 551.61 316.76 
z
" clip-path="url(#p01abf23111)" style="fill: #3f8fc5; fill-opacity: 0.5"/>
   </g>
   <g id="patch_227">
    <path d="M 565.90 320.33 
L 580.19 320.33 
L 580.19 309.63 
L 565.90 309.63 
z
" clip-path="url(#p01abf23111)" style="fill: #3f8fc5; fill-opacity: 0.5"/>
   </g>
   <g id="patch_228">
    <path d="M 580.19 338.17 
L 594.48 338.17 
L 594.48 327.46 
L 580.19 327.46 
z
" clip-path="url(#p01abf23111)" style="fill: #3f8fc5; fill-opacity: 0.5"/>
   </g>
   <g id="patch_229">
    <path d="M 594.48 352.43 
L 608.77 352.43 
L 608.77 334.60 
L 594.48 334.60 
z
" clip-path="url(#p01abf23111)" style="fill: #3f8fc5; fill-opacity: 0.5"/>
   </g>
   <g id="patch_230">
    <path d="M 608.77 373.84 
L 623.06 373.84 
L 623.06 359.57 
L 608.77 359.57 
z
" clip-path="url(#p01abf23111)" style="fill: #3f8fc5; fill-opacity: 0.5"/>
   </g>
   <g id="patch_231">
    <path d="M 623.06 373.84 
L 637.34 373.84 
L 637.34 359.57 
L 623.06 359.57 
z
" clip-path="url(#p01abf23111)" style="fill: #3f8fc5; fill-opacity: 0.5"/>
   </g>
   <g id="patch_232">
    <path d="M 494.45 338.17 
L 508.74 338.17 
L 508.74 327.46 
L 494.45 327.46 
z
" clip-path="url(#p01abf23111)" style="fill: #5ca4d0; fill-opacity: 0.5"/>
   </g>
   <g id="patch_233">
    <path d="M 508.74 309.63 
L 523.03 309.63 
L 523.03 291.79 
L 508.74 291.79 
z
" clip-path="url(#p01abf23111)" style="fill: #5ca4d0; fill-opacity: 0.5"/>
   </g>
   <g id="patch_234">
    <path d="M 523.03 284.66 
L 537.32 284.66 
L 537.32 263.25 
L 523.03 263.25 
z
" clip-path="url(#p01abf23111)" style="fill: #5ca4d0; fill-opacity: 0.5"/>
   </g>
   <g id="patch_235">
    <path d="M 537.32 263.25 
L 551.61 263.25 
L 551.61 227.58 
L 537.32 227.58 
z
" clip-path="url(#p01abf23111)" style="fill: #5ca4d0; fill-opacity: 0.5"/>
   </g>
   <g id="patch_236">
    <path d="M 551.61 316.76 
L 565.90 316.76 
L 565.90 298.93 
L 551.61 298.93 
z
" clip-path="url(#p01abf23111)" style="fill: #5ca4d0; fill-opacity: 0.5"/>
   </g>
   <g id="patch_237">
    <path d="M 565.90 309.63 
L 580.19 309.63 
L 580.19 295.36 
L 565.90 295.36 
z
" clip-path="url(#p01abf23111)" style="fill: #5ca4d0; fill-opacity: 0.5"/>
   </g>
   <g id="patch_238">
    <path d="M 580.19 327.46 
L 594.48 327.46 
L 594.48 316.76 
L 580.19 316.76 
z
" clip-path="url(#p01abf23111)" style="fill: #5ca4d0; fill-opacity: 0.5"/>
   </g>
   <g id="patch_239">
    <path d="M 594.48 334.60 
L 608.77 334.60 
L 608.77 323.90 
L 594.48 323.90 
z
" clip-path="url(#p01abf23111)" style="fill: #5ca4d0; fill-opacity: 0.5"/>
   </g>
   <g id="patch_240">
    <path d="M 608.77 359.57 
L 623.06 359.57 
L 623.06 352.43 
L 608.77 352.43 
z
" clip-path="url(#p01abf23111)" style="fill: #5ca4d0; fill-opacity: 0.5"/>
   </g>
   <g id="patch_241">
    <path d="M 637.34 384.54 
L 651.63 384.54 
L 651.63 366.70 
L 637.34 366.70 
z
" clip-path="url(#p01abf23111)" style="fill: #5ca4d0; fill-opacity: 0.5"/>
   </g>
   <g id="patch_242">
    <path d="M 694.50 384.54 
L 708.79 384.54 
L 708.79 377.40 
L 694.50 377.40 
z
" clip-path="url(#p01abf23111)" style="fill: #5ca4d0; fill-opacity: 0.5"/>
   </g>
   <g id="patch_243">
    <path d="M 708.79 395.24 
L 723.08 395.24 
L 723.08 391.67 
L 708.79 391.67 
z
" clip-path="url(#p01abf23111)" style="fill: #5ca4d0; fill-opacity: 0.5"/>
   </g>
   <g id="patch_244">
    <path d="M 494.45 327.46 
L 508.74 327.46 
L 508.74 313.2 
L 494.45 313.2 
z
" clip-path="url(#p01abf23111)" style="fill: #7db8da; fill-opacity: 0.5"/>
   </g>
   <g id="patch_245">
    <path d="M 508.74 291.79 
L 523.03 291.79 
L 523.03 270.39 
L 508.74 270.39 
z
" clip-path="url(#p01abf23111)" style="fill: #7db8da; fill-opacity: 0.5"/>
   </g>
   <g id="patch_246">
    <path d="M 523.03 263.25 
L 537.32 263.25 
L 537.32 238.28 
L 523.03 238.28 
z
" clip-path="url(#p01abf23111)" style="fill: #7db8da; fill-opacity: 0.5"/>
   </g>
   <g id="patch_247">
    <path d="M 537.32 227.58 
L 551.61 227.58 
L 551.61 199.04 
L 537.32 199.04 
z
" clip-path="url(#p01abf23111)" style="fill: #7db8da; fill-opacity: 0.5"/>
   </g>
   <g id="patch_248">
    <path d="M 551.61 298.93 
L 565.90 298.93 
L 565.90 281.09 
L 551.61 281.09 
z
" clip-path="url(#p01abf23111)" style="fill: #7db8da; fill-opacity: 0.5"/>
   </g>
   <g id="patch_249">
    <path d="M 565.90 295.36 
L 580.19 295.36 
L 580.19 281.09 
L 565.90 281.09 
z
" clip-path="url(#p01abf23111)" style="fill: #7db8da; fill-opacity: 0.5"/>
   </g>
   <g id="patch_250">
    <path d="M 580.19 316.76 
L 594.48 316.76 
L 594.48 309.63 
L 580.19 309.63 
z
" clip-path="url(#p01abf23111)" style="fill: #7db8da; fill-opacity: 0.5"/>
   </g>
   <g id="patch_251">
    <path d="M 594.48 323.90 
L 608.77 323.90 
L 608.77 316.76 
L 594.48 316.76 
z
" clip-path="url(#p01abf23111)" style="fill: #7db8da; fill-opacity: 0.5"/>
   </g>
   <g id="patch_252">
    <path d="M 637.34 366.70 
L 651.63 366.70 
L 651.63 359.57 
L 637.34 359.57 
z
" clip-path="url(#p01abf23111)" style="fill: #7db8da; fill-opacity: 0.5"/>
   </g>
   <g id="patch_253">
    <path d="M 651.63 395.24 
L 665.92 395.24 
L 665.92 377.40 
L 651.63 377.40 
z
" clip-path="url(#p01abf23111)" style="fill: #7db8da; fill-opacity: 0.5"/>
   </g>
   <g id="patch_254">
    <path d="M 723.08 395.24 
L 737.37 395.24 
L 737.37 391.67 
L 723.08 391.67 
z
" clip-path="url(#p01abf23111)" style="fill: #7db8da; fill-opacity: 0.5"/>
   </g>
   <g id="patch_255">
    <path d="M 480.16 356.00 
L 494.45 356.00 
L 494.45 341.73 
L 480.16 341.73 
z
" clip-path="url(#p01abf23111)" style="fill: #a1cbe2; fill-opacity: 0.5"/>
   </g>
   <g id="patch_256">
    <path d="M 494.45 313.2 
L 508.74 313.2 
L 508.74 302.49 
L 494.45 302.49 
z
" clip-path="url(#p01abf23111)" style="fill: #a1cbe2; fill-opacity: 0.5"/>
   </g>
   <g id="patch_257">
    <path d="M 508.74 270.39 
L 523.03 270.39 
L 523.03 252.55 
L 508.74 252.55 
z
" clip-path="url(#p01abf23111)" style="fill: #a1cbe2; fill-opacity: 0.5"/>
   </g>
   <g id="patch_258">
    <path d="M 523.03 238.28 
L 537.32 238.28 
L 537.32 227.58 
L 523.03 227.58 
z
" clip-path="url(#p01abf23111)" style="fill: #a1cbe2; fill-opacity: 0.5"/>
   </g>
   <g id="patch_259">
    <path d="M 537.32 199.04 
L 551.61 199.04 
L 551.61 188.34 
L 537.32 188.34 
z
" clip-path="url(#p01abf23111)" style="fill: #a1cbe2; fill-opacity: 0.5"/>
   </g>
   <g id="patch_260">
    <path d="M 551.61 281.09 
L 565.90 281.09 
L 565.90 270.39 
L 551.61 270.39 
z
" clip-path="url(#p01abf23111)" style="fill: #a1cbe2; fill-opacity: 0.5"/>
   </g>
   <g id="patch_261">
    <path d="M 565.90 281.09 
L 580.19 281.09 
L 580.19 270.39 
L 565.90 270.39 
z
" clip-path="url(#p01abf23111)" style="fill: #a1cbe2; fill-opacity: 0.5"/>
   </g>
   <g id="patch_262">
    <path d="M 580.19 309.63 
L 594.48 309.63 
L 594.48 284.66 
L 580.19 284.66 
z
" clip-path="url(#p01abf23111)" style="fill: #a1cbe2; fill-opacity: 0.5"/>
   </g>
   <g id="patch_263">
    <path d="M 594.48 316.76 
L 608.77 316.76 
L 608.77 281.09 
L 594.48 281.09 
z
" clip-path="url(#p01abf23111)" style="fill: #a1cbe2; fill-opacity: 0.5"/>
   </g>
   <g id="patch_264">
    <path d="M 608.77 352.43 
L 623.06 352.43 
L 623.06 341.73 
L 608.77 341.73 
z
" clip-path="url(#p01abf23111)" style="fill: #a1cbe2; fill-opacity: 0.5"/>
   </g>
   <g id="patch_265">
    <path d="M 623.06 359.57 
L 637.34 359.57 
L 637.34 345.30 
L 623.06 345.30 
z
" clip-path="url(#p01abf23111)" style="fill: #a1cbe2; fill-opacity: 0.5"/>
   </g>
   <g id="patch_266">
    <path d="M 637.34 359.57 
L 651.63 359.57 
L 651.63 352.43 
L 637.34 352.43 
z
" clip-path="url(#p01abf23111)" style="fill: #a1cbe2; fill-opacity: 0.5"/>
   </g>
   <g id="patch_267">
    <path d="M 480.16 341.73 
L 494.45 341.73 
L 494.45 334.60 
L 480.16 334.60 
z
" clip-path="url(#p01abf23111)" style="fill: #bfd8ed; fill-opacity: 0.5"/>
   </g>
   <g id="patch_268">
    <path d="M 494.45 302.49 
L 508.74 302.49 
L 508.74 291.79 
L 494.45 291.79 
z
" clip-path="url(#p01abf23111)" style="fill: #bfd8ed; fill-opacity: 0.5"/>
   </g>
   <g id="patch_269">
    <path d="M 508.74 252.55 
L 523.03 252.55 
L 523.03 238.28 
L 508.74 238.28 
z
" clip-path="url(#p01abf23111)" style="fill: #bfd8ed; fill-opacity: 0.5"/>
   </g>
   <g id="patch_270">
    <path d="M 523.03 227.58 
L 537.32 227.58 
L 537.32 209.75 
L 523.03 209.75 
z
" clip-path="url(#p01abf23111)" style="fill: #bfd8ed; fill-opacity: 0.5"/>
   </g>
   <g id="patch_271">
    <path d="M 537.32 188.34 
L 551.61 188.34 
L 551.61 149.10 
L 537.32 149.10 
z
" clip-path="url(#p01abf23111)" style="fill: #bfd8ed; fill-opacity: 0.5"/>
   </g>
   <g id="patch_272">
    <path d="M 551.61 270.39 
L 565.90 270.39 
L 565.90 248.99 
L 551.61 248.99 
z
" clip-path="url(#p01abf23111)" style="fill: #bfd8ed; fill-opacity: 0.5"/>
   </g>
   <g id="patch_273">
    <path d="M 565.90 270.39 
L 580.19 270.39 
L 580.19 252.55 
L 565.90 252.55 
z
" clip-path="url(#p01abf23111)" style="fill: #bfd8ed; fill-opacity: 0.5"/>
   </g>
   <g id="patch_274">
    <path d="M 580.19 284.66 
L 594.48 284.66 
L 594.48 273.96 
L 580.19 273.96 
z
" clip-path="url(#p01abf23111)" style="fill: #bfd8ed; fill-opacity: 0.5"/>
   </g>
   <g id="patch_275">
    <path d="M 594.48 281.09 
L 608.77 281.09 
L 608.77 266.82 
L 594.48 266.82 
z
" clip-path="url(#p01abf23111)" style="fill: #bfd8ed; fill-opacity: 0.5"/>
   </g>
   <g id="patch_276">
    <path d="M 608.77 341.73 
L 623.06 341.73 
L 623.06 334.60 
L 608.77 334.60 
z
" clip-path="url(#p01abf23111)" style="fill: #bfd8ed; fill-opacity: 0.5"/>
   </g>
   <g id="patch_277">
    <path d="M 480.16 334.60 
L 494.45 334.60 
L 494.45 327.46 
L 480.16 327.46 
z
" clip-path="url(#p01abf23111)" style="fill: #d3e4f3; fill-opacity: 0.5"/>
   </g>
   <g id="patch_278">
    <path d="M 494.45 291.79 
L 508.74 291.79 
L 508.74 281.09 
L 494.45 281.09 
z
" clip-path="url(#p01abf23111)" style="fill: #d3e4f3; fill-opacity: 0.5"/>
   </g>
   <g id="patch_279">
    <path d="M 508.74 238.28 
L 523.03 238.28 
L 523.03 220.45 
L 508.74 220.45 
z
" clip-path="url(#p01abf23111)" style="fill: #d3e4f3; fill-opacity: 0.5"/>
   </g>
   <g id="patch_280">
    <path d="M 523.03 209.75 
L 537.32 209.75 
L 537.32 191.91 
L 523.03 191.91 
z
" clip-path="url(#p01abf23111)" style="fill: #d3e4f3; fill-opacity: 0.5"/>
   </g>
   <g id="patch_281">
    <path d="M 537.32 149.10 
L 551.61 149.10 
L 551.61 127.70 
L 537.32 127.70 
z
" clip-path="url(#p01abf23111)" style="fill: #d3e4f3; fill-opacity: 0.5"/>
   </g>
   <g id="patch_282">
    <path d="M 551.61 248.99 
L 565.90 248.99 
L 565.90 227.58 
L 551.61 227.58 
z
" clip-path="url(#p01abf23111)" style="fill: #d3e4f3; fill-opacity: 0.5"/>
   </g>
   <g id="patch_283">
    <path d="M 565.90 252.55 
L 580.19 252.55 
L 580.19 231.15 
L 565.90 231.15 
z
" clip-path="url(#p01abf23111)" style="fill: #d3e4f3; fill-opacity: 0.5"/>
   </g>
   <g id="patch_284">
    <path d="M 580.19 273.96 
L 594.48 273.96 
L 594.48 263.25 
L 580.19 263.25 
z
" clip-path="url(#p01abf23111)" style="fill: #d3e4f3; fill-opacity: 0.5"/>
   </g>
   <g id="patch_285">
    <path d="M 594.48 266.82 
L 608.77 266.82 
L 608.77 256.12 
L 594.48 256.12 
z
" clip-path="url(#p01abf23111)" style="fill: #d3e4f3; fill-opacity: 0.5"/>
   </g>
   <g id="patch_286">
    <path d="M 608.77 334.60 
L 623.06 334.60 
L 623.06 327.46 
L 608.77 327.46 
z
" clip-path="url(#p01abf23111)" style="fill: #d3e4f3; fill-opacity: 0.5"/>
   </g>
   <g id="patch_287">
    <path d="M 637.34 352.43 
L 651.63 352.43 
L 651.63 345.30 
L 637.34 345.30 
z
" clip-path="url(#p01abf23111)" style="fill: #d3e4f3; fill-opacity: 0.5"/>
   </g>
   <g id="patch_288">
    <path d="M 494.45 281.09 
L 508.74 281.09 
L 508.74 273.96 
L 494.45 273.96 
z
" clip-path="url(#p01abf23111)" style="fill: #e5eff9; fill-opacity: 0.5"/>
   </g>
   <g id="patch_289">
    <path d="M 508.74 220.45 
L 523.03 220.45 
L 523.03 199.04 
L 508.74 199.04 
z
" clip-path="url(#p01abf23111)" style="fill: #e5eff9; fill-opacity: 0.5"/>
   </g>
   <g id="patch_290">
    <path d="M 523.03 191.91 
L 537.32 191.91 
L 537.32 170.51 
L 523.03 170.51 
z
" clip-path="url(#p01abf23111)" style="fill: #e5eff9; fill-opacity: 0.5"/>
   </g>
   <g id="patch_291">
    <path d="M 537.32 127.70 
L 551.61 127.70 
L 551.61 99.16 
L 537.32 99.16 
z
" clip-path="url(#p01abf23111)" style="fill: #e5eff9; fill-opacity: 0.5"/>
   </g>
   <g id="patch_292">
    <path d="M 551.61 227.58 
L 565.90 227.58 
L 565.90 206.18 
L 551.61 206.18 
z
" clip-path="url(#p01abf23111)" style="fill: #e5eff9; fill-opacity: 0.5"/>
   </g>
   <g id="patch_293">
    <path d="M 565.90 231.15 
L 580.19 231.15 
L 580.19 213.31 
L 565.90 213.31 
z
" clip-path="url(#p01abf23111)" style="fill: #e5eff9; fill-opacity: 0.5"/>
   </g>
   <g id="patch_294">
    <path d="M 580.19 263.25 
L 594.48 263.25 
L 594.48 248.99 
L 580.19 248.99 
z
" clip-path="url(#p01abf23111)" style="fill: #e5eff9; fill-opacity: 0.5"/>
   </g>
   <g id="patch_295">
    <path d="M 594.48 256.12 
L 608.77 256.12 
L 608.77 241.85 
L 594.48 241.85 
z
" clip-path="url(#p01abf23111)" style="fill: #e5eff9; fill-opacity: 0.5"/>
   </g>
   <g id="patch_296">
    <path d="M 608.77 327.46 
L 623.06 327.46 
L 623.06 316.76 
L 608.77 316.76 
z
" clip-path="url(#p01abf23111)" style="fill: #e5eff9; fill-opacity: 0.5"/>
   </g>
   <g id="patch_297">
    <path d="M 623.06 345.30 
L 637.34 345.30 
L 637.34 327.46 
L 623.06 327.46 
z
" clip-path="url(#p01abf23111)" style="fill: #e5eff9; fill-opacity: 0.5"/>
   </g>
   <g id="patch_298">
    <path d="M 637.34 345.30 
L 651.63 345.30 
L 651.63 338.17 
L 637.34 338.17 
z
" clip-path="url(#p01abf23111)" style="fill: #e5eff9; fill-opacity: 0.5"/>
   </g>
   <g id="patch_299">
    <path d="M 665.92 395.24 
L 680.21 395.24 
L 680.21 391.67 
L 665.92 391.67 
z
" clip-path="url(#p01abf23111)" style="fill: #e5eff9; fill-opacity: 0.5"/>
   </g>
   <g id="patch_300">
    <path d="M 480.16 327.46 
L 494.45 327.46 
L 494.45 320.33 
L 480.16 320.33 
z
" clip-path="url(#p01abf23111)" style="fill: #f7fbff; fill-opacity: 0.5"/>
   </g>
   <g id="patch_301">
    <path d="M 494.45 273.96 
L 508.74 273.96 
L 508.74 266.82 
L 494.45 266.82 
z
" clip-path="url(#p01abf23111)" style="fill: #f7fbff; fill-opacity: 0.5"/>
   </g>
   <g id="patch_302">
    <path d="M 508.74 199.04 
L 523.03 199.04 
L 523.03 188.34 
L 508.74 188.34 
z
" clip-path="url(#p01abf23111)" style="fill: #f7fbff; fill-opacity: 0.5"/>
   </g>
   <g id="patch_303">
    <path d="M 523.03 170.51 
L 537.32 170.51 
L 537.32 159.80 
L 523.03 159.80 
z
" clip-path="url(#p01abf23111)" style="fill: #f7fbff; fill-opacity: 0.5"/>
   </g>
   <g id="patch_304">
    <path d="M 537.32 99.16 
L 551.61 99.16 
L 551.61 77.76 
L 537.32 77.76 
z
" clip-path="url(#p01abf23111)" style="fill: #f7fbff; fill-opacity: 0.5"/>
   </g>
   <g id="patch_305">
    <path d="M 551.61 206.18 
L 565.90 206.18 
L 565.90 184.78 
L 551.61 184.78 
z
" clip-path="url(#p01abf23111)" style="fill: #f7fbff; fill-opacity: 0.5"/>
   </g>
   <g id="patch_306">
    <path d="M 565.90 213.31 
L 580.19 213.31 
L 580.19 195.48 
L 565.90 195.48 
z
" clip-path="url(#p01abf23111)" style="fill: #f7fbff; fill-opacity: 0.5"/>
   </g>
   <g id="patch_307">
    <path d="M 580.19 248.99 
L 594.48 248.99 
L 594.48 231.15 
L 580.19 231.15 
z
" clip-path="url(#p01abf23111)" style="fill: #f7fbff; fill-opacity: 0.5"/>
   </g>
   <g id="patch_308">
    <path d="M 594.48 241.85 
L 608.77 241.85 
L 608.77 224.01 
L 594.48 224.01 
z
" clip-path="url(#p01abf23111)" style="fill: #f7fbff; fill-opacity: 0.5"/>
   </g>
   <g id="patch_309">
    <path d="M 637.34 338.17 
L 651.63 338.17 
L 651.63 331.03 
L 637.34 331.03 
z
" clip-path="url(#p01abf23111)" style="fill: #f7fbff; fill-opacity: 0.5"/>
   </g>
   <g id="patch_310">
    <path d="M 651.63 377.40 
L 665.92 377.40 
L 665.92 359.57 
L 651.63 359.57 
z
" clip-path="url(#p01abf23111)" style="fill: #f7fbff; fill-opacity: 0.5"/>
   </g>
   <g id="patch_311">
    <path d="M 665.92 391.67 
L 680.21 391.67 
L 680.21 388.11 
L 665.92 388.11 
z
" clip-path="url(#p01abf23111)" style="fill: #f7fbff; fill-opacity: 0.5"/>
   </g>
   <g id="LineCollection_2">
    <path d="M 480.16 395.24 
L 494.45 395.24 
" clip-path="url(#p01abf23111)" style="fill: none; stroke: #000000; stroke-width: 1.1; stroke-linecap: square"/>
    <path d="M 480.16 384.54 
L 494.45 384.54 
" clip-path="url(#p01abf23111)" style="fill: none; stroke: #000000; stroke-width: 1.1; stroke-linecap: square"/>
    <path d="M 480.16 373.84 
L 494.45 373.84 
" clip-path="url(#p01abf23111)" style="fill: none; stroke: #000000; stroke-width: 1.1; stroke-linecap: square"/>
    <path d="M 480.16 366.70 
L 494.45 366.70 
" clip-path="url(#p01abf23111)" style="fill: none; stroke: #000000; stroke-width: 1.1; stroke-linecap: square"/>
    <path d="M 480.16 356.00 
L 494.45 356.00 
" clip-path="url(#p01abf23111)" style="fill: none; stroke: #000000; stroke-width: 1.1; stroke-linecap: square"/>
    <path d="M 480.16 341.73 
L 494.45 341.73 
" clip-path="url(#p01abf23111)" style="fill: none; stroke: #000000; stroke-width: 1.1; stroke-linecap: square"/>
    <path d="M 480.16 334.60 
L 494.45 334.60 
" clip-path="url(#p01abf23111)" style="fill: none; stroke: #000000; stroke-width: 1.1; stroke-linecap: square"/>
    <path d="M 480.16 327.46 
L 494.45 327.46 
" clip-path="url(#p01abf23111)" style="fill: none; stroke: #000000; stroke-width: 1.1; stroke-linecap: square"/>
    <path d="M 480.16 320.33 
L 494.45 320.33 
" clip-path="url(#p01abf23111)" style="fill: none; stroke: #000000; stroke-width: 1.1; stroke-linecap: square"/>
    <path d="M 494.45 395.24 
L 508.74 395.24 
" clip-path="url(#p01abf23111)" style="fill: none; stroke: #000000; stroke-width: 1.1; stroke-linecap: square"/>
    <path d="M 494.45 384.54 
L 508.74 384.54 
" clip-path="url(#p01abf23111)" style="fill: none; stroke: #000000; stroke-width: 1.1; stroke-linecap: square"/>
    <path d="M 494.45 370.27 
L 508.74 370.27 
" clip-path="url(#p01abf23111)" style="fill: none; stroke: #000000; stroke-width: 1.1; stroke-linecap: square"/>
    <path d="M 494.45 359.57 
L 508.74 359.57 
" clip-path="url(#p01abf23111)" style="fill: none; stroke: #000000; stroke-width: 1.1; stroke-linecap: square"/>
    <path d="M 494.45 348.87 
L 508.74 348.87 
" clip-path="url(#p01abf23111)" style="fill: none; stroke: #000000; stroke-width: 1.1; stroke-linecap: square"/>
    <path d="M 494.45 338.17 
L 508.74 338.17 
" clip-path="url(#p01abf23111)" style="fill: none; stroke: #000000; stroke-width: 1.1; stroke-linecap: square"/>
    <path d="M 494.45 327.46 
L 508.74 327.46 
" clip-path="url(#p01abf23111)" style="fill: none; stroke: #000000; stroke-width: 1.1; stroke-linecap: square"/>
    <path d="M 494.45 313.2 
L 508.74 313.2 
" clip-path="url(#p01abf23111)" style="fill: none; stroke: #000000; stroke-width: 1.1; stroke-linecap: square"/>
    <path d="M 494.45 302.49 
L 508.74 302.49 
" clip-path="url(#p01abf23111)" style="fill: none; stroke: #000000; stroke-width: 1.1; stroke-linecap: square"/>
    <path d="M 494.45 291.79 
L 508.74 291.79 
" clip-path="url(#p01abf23111)" style="fill: none; stroke: #000000; stroke-width: 1.1; stroke-linecap: square"/>
    <path d="M 494.45 281.09 
L 508.74 281.09 
" clip-path="url(#p01abf23111)" style="fill: none; stroke: #000000; stroke-width: 1.1; stroke-linecap: square"/>
    <path d="M 494.45 273.96 
L 508.74 273.96 
" clip-path="url(#p01abf23111)" style="fill: none; stroke: #000000; stroke-width: 1.1; stroke-linecap: square"/>
    <path d="M 494.45 266.82 
L 508.74 266.82 
" clip-path="url(#p01abf23111)" style="fill: none; stroke: #000000; stroke-width: 1.1; stroke-linecap: square"/>
    <path d="M 508.74 395.24 
L 523.03 395.24 
" clip-path="url(#p01abf23111)" style="fill: none; stroke: #000000; stroke-width: 1.1; stroke-linecap: square"/>
    <path d="M 508.74 380.97 
L 523.03 380.97 
" clip-path="url(#p01abf23111)" style="fill: none; stroke: #000000; stroke-width: 1.1; stroke-linecap: square"/>
    <path d="M 508.74 359.57 
L 523.03 359.57 
" clip-path="url(#p01abf23111)" style="fill: none; stroke: #000000; stroke-width: 1.1; stroke-linecap: square"/>
    <path d="M 508.74 341.73 
L 523.03 341.73 
" clip-path="url(#p01abf23111)" style="fill: none; stroke: #000000; stroke-width: 1.1; stroke-linecap: square"/>
    <path d="M 508.74 323.90 
L 523.03 323.90 
" clip-path="url(#p01abf23111)" style="fill: none; stroke: #000000; stroke-width: 1.1; stroke-linecap: square"/>
    <path d="M 508.74 309.63 
L 523.03 309.63 
" clip-path="url(#p01abf23111)" style="fill: none; stroke: #000000; stroke-width: 1.1; stroke-linecap: square"/>
    <path d="M 508.74 291.79 
L 523.03 291.79 
" clip-path="url(#p01abf23111)" style="fill: none; stroke: #000000; stroke-width: 1.1; stroke-linecap: square"/>
    <path d="M 508.74 270.39 
L 523.03 270.39 
" clip-path="url(#p01abf23111)" style="fill: none; stroke: #000000; stroke-width: 1.1; stroke-linecap: square"/>
    <path d="M 508.74 252.55 
L 523.03 252.55 
" clip-path="url(#p01abf23111)" style="fill: none; stroke: #000000; stroke-width: 1.1; stroke-linecap: square"/>
    <path d="M 508.74 238.28 
L 523.03 238.28 
" clip-path="url(#p01abf23111)" style="fill: none; stroke: #000000; stroke-width: 1.1; stroke-linecap: square"/>
    <path d="M 508.74 220.45 
L 523.03 220.45 
" clip-path="url(#p01abf23111)" style="fill: none; stroke: #000000; stroke-width: 1.1; stroke-linecap: square"/>
    <path d="M 508.74 199.04 
L 523.03 199.04 
" clip-path="url(#p01abf23111)" style="fill: none; stroke: #000000; stroke-width: 1.1; stroke-linecap: square"/>
    <path d="M 508.74 188.34 
L 523.03 188.34 
" clip-path="url(#p01abf23111)" style="fill: none; stroke: #000000; stroke-width: 1.1; stroke-linecap: square"/>
    <path d="M 523.03 395.24 
L 537.32 395.24 
" clip-path="url(#p01abf23111)" style="fill: none; stroke: #000000; stroke-width: 1.1; stroke-linecap: square"/>
    <path d="M 523.03 373.84 
L 537.32 373.84 
" clip-path="url(#p01abf23111)" style="fill: none; stroke: #000000; stroke-width: 1.1; stroke-linecap: square"/>
    <path d="M 523.03 359.57 
L 537.32 359.57 
" clip-path="url(#p01abf23111)" style="fill: none; stroke: #000000; stroke-width: 1.1; stroke-linecap: square"/>
    <path d="M 523.03 331.03 
L 537.32 331.03 
" clip-path="url(#p01abf23111)" style="fill: none; stroke: #000000; stroke-width: 1.1; stroke-linecap: square"/>
    <path d="M 523.03 309.63 
L 537.32 309.63 
" clip-path="url(#p01abf23111)" style="fill: none; stroke: #000000; stroke-width: 1.1; stroke-linecap: square"/>
    <path d="M 523.03 284.66 
L 537.32 284.66 
" clip-path="url(#p01abf23111)" style="fill: none; stroke: #000000; stroke-width: 1.1; stroke-linecap: square"/>
    <path d="M 523.03 263.25 
L 537.32 263.25 
" clip-path="url(#p01abf23111)" style="fill: none; stroke: #000000; stroke-width: 1.1; stroke-linecap: square"/>
    <path d="M 523.03 238.28 
L 537.32 238.28 
" clip-path="url(#p01abf23111)" style="fill: none; stroke: #000000; stroke-width: 1.1; stroke-linecap: square"/>
    <path d="M 523.03 227.58 
L 537.32 227.58 
" clip-path="url(#p01abf23111)" style="fill: none; stroke: #000000; stroke-width: 1.1; stroke-linecap: square"/>
    <path d="M 523.03 209.75 
L 537.32 209.75 
" clip-path="url(#p01abf23111)" style="fill: none; stroke: #000000; stroke-width: 1.1; stroke-linecap: square"/>
    <path d="M 523.03 191.91 
L 537.32 191.91 
" clip-path="url(#p01abf23111)" style="fill: none; stroke: #000000; stroke-width: 1.1; stroke-linecap: square"/>
    <path d="M 523.03 170.51 
L 537.32 170.51 
" clip-path="url(#p01abf23111)" style="fill: none; stroke: #000000; stroke-width: 1.1; stroke-linecap: square"/>
    <path d="M 523.03 159.80 
L 537.32 159.80 
" clip-path="url(#p01abf23111)" style="fill: none; stroke: #000000; stroke-width: 1.1; stroke-linecap: square"/>
    <path d="M 537.32 395.24 
L 551.61 395.24 
" clip-path="url(#p01abf23111)" style="fill: none; stroke: #000000; stroke-width: 1.1; stroke-linecap: square"/>
    <path d="M 537.32 363.14 
L 551.61 363.14 
" clip-path="url(#p01abf23111)" style="fill: none; stroke: #000000; stroke-width: 1.1; stroke-linecap: square"/>
    <path d="M 537.32 345.30 
L 551.61 345.30 
" clip-path="url(#p01abf23111)" style="fill: none; stroke: #000000; stroke-width: 1.1; stroke-linecap: square"/>
    <path d="M 537.32 316.76 
L 551.61 316.76 
" clip-path="url(#p01abf23111)" style="fill: none; stroke: #000000; stroke-width: 1.1; stroke-linecap: square"/>
    <path d="M 537.32 291.79 
L 551.61 291.79 
" clip-path="url(#p01abf23111)" style="fill: none; stroke: #000000; stroke-width: 1.1; stroke-linecap: square"/>
    <path d="M 537.32 263.25 
L 551.61 263.25 
" clip-path="url(#p01abf23111)" style="fill: none; stroke: #000000; stroke-width: 1.1; stroke-linecap: square"/>
    <path d="M 537.32 227.58 
L 551.61 227.58 
" clip-path="url(#p01abf23111)" style="fill: none; stroke: #000000; stroke-width: 1.1; stroke-linecap: square"/>
    <path d="M 537.32 199.04 
L 551.61 199.04 
" clip-path="url(#p01abf23111)" style="fill: none; stroke: #000000; stroke-width: 1.1; stroke-linecap: square"/>
    <path d="M 537.32 188.34 
L 551.61 188.34 
" clip-path="url(#p01abf23111)" style="fill: none; stroke: #000000; stroke-width: 1.1; stroke-linecap: square"/>
    <path d="M 537.32 149.10 
L 551.61 149.10 
" clip-path="url(#p01abf23111)" style="fill: none; stroke: #000000; stroke-width: 1.1; stroke-linecap: square"/>
    <path d="M 537.32 127.70 
L 551.61 127.70 
" clip-path="url(#p01abf23111)" style="fill: none; stroke: #000000; stroke-width: 1.1; stroke-linecap: square"/>
    <path d="M 537.32 99.16 
L 551.61 99.16 
" clip-path="url(#p01abf23111)" style="fill: none; stroke: #000000; stroke-width: 1.1; stroke-linecap: square"/>
    <path d="M 537.32 77.76 
L 551.61 77.76 
" clip-path="url(#p01abf23111)" style="fill: none; stroke: #000000; stroke-width: 1.1; stroke-linecap: square"/>
    <path d="M 551.61 395.24 
L 565.90 395.24 
" clip-path="url(#p01abf23111)" style="fill: none; stroke: #000000; stroke-width: 1.1; stroke-linecap: square"/>
    <path d="M 551.61 377.40 
L 565.90 377.40 
" clip-path="url(#p01abf23111)" style="fill: none; stroke: #000000; stroke-width: 1.1; stroke-linecap: square"/>
    <path d="M 551.61 363.14 
L 565.90 363.14 
" clip-path="url(#p01abf23111)" style="fill: none; stroke: #000000; stroke-width: 1.1; stroke-linecap: square"/>
    <path d="M 551.61 341.73 
L 565.90 341.73 
" clip-path="url(#p01abf23111)" style="fill: none; stroke: #000000; stroke-width: 1.1; stroke-linecap: square"/>
    <path d="M 551.61 327.46 
L 565.90 327.46 
" clip-path="url(#p01abf23111)" style="fill: none; stroke: #000000; stroke-width: 1.1; stroke-linecap: square"/>
    <path d="M 551.61 316.76 
L 565.90 316.76 
" clip-path="url(#p01abf23111)" style="fill: none; stroke: #000000; stroke-width: 1.1; stroke-linecap: square"/>
    <path d="M 551.61 298.93 
L 565.90 298.93 
" clip-path="url(#p01abf23111)" style="fill: none; stroke: #000000; stroke-width: 1.1; stroke-linecap: square"/>
    <path d="M 551.61 281.09 
L 565.90 281.09 
" clip-path="url(#p01abf23111)" style="fill: none; stroke: #000000; stroke-width: 1.1; stroke-linecap: square"/>
    <path d="M 551.61 270.39 
L 565.90 270.39 
" clip-path="url(#p01abf23111)" style="fill: none; stroke: #000000; stroke-width: 1.1; stroke-linecap: square"/>
    <path d="M 551.61 248.99 
L 565.90 248.99 
" clip-path="url(#p01abf23111)" style="fill: none; stroke: #000000; stroke-width: 1.1; stroke-linecap: square"/>
    <path d="M 551.61 227.58 
L 565.90 227.58 
" clip-path="url(#p01abf23111)" style="fill: none; stroke: #000000; stroke-width: 1.1; stroke-linecap: square"/>
    <path d="M 551.61 206.18 
L 565.90 206.18 
" clip-path="url(#p01abf23111)" style="fill: none; stroke: #000000; stroke-width: 1.1; stroke-linecap: square"/>
    <path d="M 551.61 184.78 
L 565.90 184.78 
" clip-path="url(#p01abf23111)" style="fill: none; stroke: #000000; stroke-width: 1.1; stroke-linecap: square"/>
    <path d="M 565.90 395.24 
L 580.19 395.24 
" clip-path="url(#p01abf23111)" style="fill: none; stroke: #000000; stroke-width: 1.1; stroke-linecap: square"/>
    <path d="M 565.90 377.40 
L 580.19 377.40 
" clip-path="url(#p01abf23111)" style="fill: none; stroke: #000000; stroke-width: 1.1; stroke-linecap: square"/>
    <path d="M 565.90 345.30 
L 580.19 345.30 
" clip-path="url(#p01abf23111)" style="fill: none; stroke: #000000; stroke-width: 1.1; stroke-linecap: square"/>
    <path d="M 565.90 331.03 
L 580.19 331.03 
" clip-path="url(#p01abf23111)" style="fill: none; stroke: #000000; stroke-width: 1.1; stroke-linecap: square"/>
    <path d="M 565.90 320.33 
L 580.19 320.33 
" clip-path="url(#p01abf23111)" style="fill: none; stroke: #000000; stroke-width: 1.1; stroke-linecap: square"/>
    <path d="M 565.90 309.63 
L 580.19 309.63 
" clip-path="url(#p01abf23111)" style="fill: none; stroke: #000000; stroke-width: 1.1; stroke-linecap: square"/>
    <path d="M 565.90 295.36 
L 580.19 295.36 
" clip-path="url(#p01abf23111)" style="fill: none; stroke: #000000; stroke-width: 1.1; stroke-linecap: square"/>
    <path d="M 565.90 281.09 
L 580.19 281.09 
" clip-path="url(#p01abf23111)" style="fill: none; stroke: #000000; stroke-width: 1.1; stroke-linecap: square"/>
    <path d="M 565.90 270.39 
L 580.19 270.39 
" clip-path="url(#p01abf23111)" style="fill: none; stroke: #000000; stroke-width: 1.1; stroke-linecap: square"/>
    <path d="M 565.90 252.55 
L 580.19 252.55 
" clip-path="url(#p01abf23111)" style="fill: none; stroke: #000000; stroke-width: 1.1; stroke-linecap: square"/>
    <path d="M 565.90 231.15 
L 580.19 231.15 
" clip-path="url(#p01abf23111)" style="fill: none; stroke: #000000; stroke-width: 1.1; stroke-linecap: square"/>
    <path d="M 565.90 213.31 
L 580.19 213.31 
" clip-path="url(#p01abf23111)" style="fill: none; stroke: #000000; stroke-width: 1.1; stroke-linecap: square"/>
    <path d="M 565.90 195.48 
L 580.19 195.48 
" clip-path="url(#p01abf23111)" style="fill: none; stroke: #000000; stroke-width: 1.1; stroke-linecap: square"/>
    <path d="M 580.19 395.24 
L 594.48 395.24 
" clip-path="url(#p01abf23111)" style="fill: none; stroke: #000000; stroke-width: 1.1; stroke-linecap: square"/>
    <path d="M 580.19 384.54 
L 594.48 384.54 
" clip-path="url(#p01abf23111)" style="fill: none; stroke: #000000; stroke-width: 1.1; stroke-linecap: square"/>
    <path d="M 580.19 359.57 
L 594.48 359.57 
" clip-path="url(#p01abf23111)" style="fill: none; stroke: #000000; stroke-width: 1.1; stroke-linecap: square"/>
    <path d="M 580.19 352.43 
L 594.48 352.43 
" clip-path="url(#p01abf23111)" style="fill: none; stroke: #000000; stroke-width: 1.1; stroke-linecap: square"/>
    <path d="M 580.19 338.17 
L 594.48 338.17 
" clip-path="url(#p01abf23111)" style="fill: none; stroke: #000000; stroke-width: 1.1; stroke-linecap: square"/>
    <path d="M 580.19 327.46 
L 594.48 327.46 
" clip-path="url(#p01abf23111)" style="fill: none; stroke: #000000; stroke-width: 1.1; stroke-linecap: square"/>
    <path d="M 580.19 316.76 
L 594.48 316.76 
" clip-path="url(#p01abf23111)" style="fill: none; stroke: #000000; stroke-width: 1.1; stroke-linecap: square"/>
    <path d="M 580.19 309.63 
L 594.48 309.63 
" clip-path="url(#p01abf23111)" style="fill: none; stroke: #000000; stroke-width: 1.1; stroke-linecap: square"/>
    <path d="M 580.19 284.66 
L 594.48 284.66 
" clip-path="url(#p01abf23111)" style="fill: none; stroke: #000000; stroke-width: 1.1; stroke-linecap: square"/>
    <path d="M 580.19 273.96 
L 594.48 273.96 
" clip-path="url(#p01abf23111)" style="fill: none; stroke: #000000; stroke-width: 1.1; stroke-linecap: square"/>
    <path d="M 580.19 263.25 
L 594.48 263.25 
" clip-path="url(#p01abf23111)" style="fill: none; stroke: #000000; stroke-width: 1.1; stroke-linecap: square"/>
    <path d="M 580.19 248.99 
L 594.48 248.99 
" clip-path="url(#p01abf23111)" style="fill: none; stroke: #000000; stroke-width: 1.1; stroke-linecap: square"/>
    <path d="M 580.19 231.15 
L 594.48 231.15 
" clip-path="url(#p01abf23111)" style="fill: none; stroke: #000000; stroke-width: 1.1; stroke-linecap: square"/>
    <path d="M 594.48 395.24 
L 608.77 395.24 
" clip-path="url(#p01abf23111)" style="fill: none; stroke: #000000; stroke-width: 1.1; stroke-linecap: square"/>
    <path d="M 594.48 384.54 
L 608.77 384.54 
" clip-path="url(#p01abf23111)" style="fill: none; stroke: #000000; stroke-width: 1.1; stroke-linecap: square"/>
    <path d="M 594.48 373.84 
L 608.77 373.84 
" clip-path="url(#p01abf23111)" style="fill: none; stroke: #000000; stroke-width: 1.1; stroke-linecap: square"/>
    <path d="M 594.48 363.14 
L 608.77 363.14 
" clip-path="url(#p01abf23111)" style="fill: none; stroke: #000000; stroke-width: 1.1; stroke-linecap: square"/>
    <path d="M 594.48 352.43 
L 608.77 352.43 
" clip-path="url(#p01abf23111)" style="fill: none; stroke: #000000; stroke-width: 1.1; stroke-linecap: square"/>
    <path d="M 594.48 334.60 
L 608.77 334.60 
" clip-path="url(#p01abf23111)" style="fill: none; stroke: #000000; stroke-width: 1.1; stroke-linecap: square"/>
    <path d="M 594.48 323.90 
L 608.77 323.90 
" clip-path="url(#p01abf23111)" style="fill: none; stroke: #000000; stroke-width: 1.1; stroke-linecap: square"/>
    <path d="M 594.48 316.76 
L 608.77 316.76 
" clip-path="url(#p01abf23111)" style="fill: none; stroke: #000000; stroke-width: 1.1; stroke-linecap: square"/>
    <path d="M 594.48 281.09 
L 608.77 281.09 
" clip-path="url(#p01abf23111)" style="fill: none; stroke: #000000; stroke-width: 1.1; stroke-linecap: square"/>
    <path d="M 594.48 266.82 
L 608.77 266.82 
" clip-path="url(#p01abf23111)" style="fill: none; stroke: #000000; stroke-width: 1.1; stroke-linecap: square"/>
    <path d="M 594.48 256.12 
L 608.77 256.12 
" clip-path="url(#p01abf23111)" style="fill: none; stroke: #000000; stroke-width: 1.1; stroke-linecap: square"/>
    <path d="M 594.48 241.85 
L 608.77 241.85 
" clip-path="url(#p01abf23111)" style="fill: none; stroke: #000000; stroke-width: 1.1; stroke-linecap: square"/>
    <path d="M 594.48 224.01 
L 608.77 224.01 
" clip-path="url(#p01abf23111)" style="fill: none; stroke: #000000; stroke-width: 1.1; stroke-linecap: square"/>
    <path d="M 608.77 395.24 
L 623.06 395.24 
" clip-path="url(#p01abf23111)" style="fill: none; stroke: #000000; stroke-width: 1.1; stroke-linecap: square"/>
    <path d="M 608.77 388.11 
L 623.06 388.11 
" clip-path="url(#p01abf23111)" style="fill: none; stroke: #000000; stroke-width: 1.1; stroke-linecap: square"/>
    <path d="M 608.77 380.97 
L 623.06 380.97 
" clip-path="url(#p01abf23111)" style="fill: none; stroke: #000000; stroke-width: 1.1; stroke-linecap: square"/>
    <path d="M 608.77 373.84 
L 623.06 373.84 
" clip-path="url(#p01abf23111)" style="fill: none; stroke: #000000; stroke-width: 1.1; stroke-linecap: square"/>
    <path d="M 608.77 359.57 
L 623.06 359.57 
" clip-path="url(#p01abf23111)" style="fill: none; stroke: #000000; stroke-width: 1.1; stroke-linecap: square"/>
    <path d="M 608.77 352.43 
L 623.06 352.43 
" clip-path="url(#p01abf23111)" style="fill: none; stroke: #000000; stroke-width: 1.1; stroke-linecap: square"/>
    <path d="M 608.77 341.73 
L 623.06 341.73 
" clip-path="url(#p01abf23111)" style="fill: none; stroke: #000000; stroke-width: 1.1; stroke-linecap: square"/>
    <path d="M 608.77 334.60 
L 623.06 334.60 
" clip-path="url(#p01abf23111)" style="fill: none; stroke: #000000; stroke-width: 1.1; stroke-linecap: square"/>
    <path d="M 608.77 327.46 
L 623.06 327.46 
" clip-path="url(#p01abf23111)" style="fill: none; stroke: #000000; stroke-width: 1.1; stroke-linecap: square"/>
    <path d="M 608.77 316.76 
L 623.06 316.76 
" clip-path="url(#p01abf23111)" style="fill: none; stroke: #000000; stroke-width: 1.1; stroke-linecap: square"/>
    <path d="M 623.06 395.24 
L 637.34 395.24 
" clip-path="url(#p01abf23111)" style="fill: none; stroke: #000000; stroke-width: 1.1; stroke-linecap: square"/>
    <path d="M 623.06 388.11 
L 637.34 388.11 
" clip-path="url(#p01abf23111)" style="fill: none; stroke: #000000; stroke-width: 1.1; stroke-linecap: square"/>
    <path d="M 623.06 380.97 
L 637.34 380.97 
" clip-path="url(#p01abf23111)" style="fill: none; stroke: #000000; stroke-width: 1.1; stroke-linecap: square"/>
    <path d="M 623.06 373.84 
L 637.34 373.84 
" clip-path="url(#p01abf23111)" style="fill: none; stroke: #000000; stroke-width: 1.1; stroke-linecap: square"/>
    <path d="M 623.06 359.57 
L 637.34 359.57 
" clip-path="url(#p01abf23111)" style="fill: none; stroke: #000000; stroke-width: 1.1; stroke-linecap: square"/>
    <path d="M 623.06 345.30 
L 637.34 345.30 
" clip-path="url(#p01abf23111)" style="fill: none; stroke: #000000; stroke-width: 1.1; stroke-linecap: square"/>
    <path d="M 623.06 327.46 
L 637.34 327.46 
" clip-path="url(#p01abf23111)" style="fill: none; stroke: #000000; stroke-width: 1.1; stroke-linecap: square"/>
    <path d="M 637.34 395.24 
L 651.63 395.24 
" clip-path="url(#p01abf23111)" style="fill: none; stroke: #000000; stroke-width: 1.1; stroke-linecap: square"/>
    <path d="M 637.34 384.54 
L 651.63 384.54 
" clip-path="url(#p01abf23111)" style="fill: none; stroke: #000000; stroke-width: 1.1; stroke-linecap: square"/>
    <path d="M 637.34 366.70 
L 651.63 366.70 
" clip-path="url(#p01abf23111)" style="fill: none; stroke: #000000; stroke-width: 1.1; stroke-linecap: square"/>
    <path d="M 637.34 359.57 
L 651.63 359.57 
" clip-path="url(#p01abf23111)" style="fill: none; stroke: #000000; stroke-width: 1.1; stroke-linecap: square"/>
    <path d="M 637.34 352.43 
L 651.63 352.43 
" clip-path="url(#p01abf23111)" style="fill: none; stroke: #000000; stroke-width: 1.1; stroke-linecap: square"/>
    <path d="M 637.34 345.30 
L 651.63 345.30 
" clip-path="url(#p01abf23111)" style="fill: none; stroke: #000000; stroke-width: 1.1; stroke-linecap: square"/>
    <path d="M 637.34 338.17 
L 651.63 338.17 
" clip-path="url(#p01abf23111)" style="fill: none; stroke: #000000; stroke-width: 1.1; stroke-linecap: square"/>
    <path d="M 637.34 331.03 
L 651.63 331.03 
" clip-path="url(#p01abf23111)" style="fill: none; stroke: #000000; stroke-width: 1.1; stroke-linecap: square"/>
    <path d="M 651.63 395.24 
L 665.92 395.24 
" clip-path="url(#p01abf23111)" style="fill: none; stroke: #000000; stroke-width: 1.1; stroke-linecap: square"/>
    <path d="M 651.63 377.40 
L 665.92 377.40 
" clip-path="url(#p01abf23111)" style="fill: none; stroke: #000000; stroke-width: 1.1; stroke-linecap: square"/>
    <path d="M 651.63 359.57 
L 665.92 359.57 
" clip-path="url(#p01abf23111)" style="fill: none; stroke: #000000; stroke-width: 1.1; stroke-linecap: square"/>
    <path d="M 665.92 395.24 
L 680.21 395.24 
" clip-path="url(#p01abf23111)" style="fill: none; stroke: #000000; stroke-width: 1.1; stroke-linecap: square"/>
    <path d="M 665.92 391.67 
L 680.21 391.67 
" clip-path="url(#p01abf23111)" style="fill: none; stroke: #000000; stroke-width: 1.1; stroke-linecap: square"/>
    <path d="M 665.92 388.11 
L 680.21 388.11 
" clip-path="url(#p01abf23111)" style="fill: none; stroke: #000000; stroke-width: 1.1; stroke-linecap: square"/>
    <path d="M 694.50 395.24 
L 708.79 395.24 
" clip-path="url(#p01abf23111)" style="fill: none; stroke: #000000; stroke-width: 1.1; stroke-linecap: square"/>
    <path d="M 694.50 384.54 
L 708.79 384.54 
" clip-path="url(#p01abf23111)" style="fill: none; stroke: #000000; stroke-width: 1.1; stroke-linecap: square"/>
    <path d="M 694.50 377.40 
L 708.79 377.40 
" clip-path="url(#p01abf23111)" style="fill: none; stroke: #000000; stroke-width: 1.1; stroke-linecap: square"/>
    <path d="M 708.79 395.24 
L 723.08 395.24 
" clip-path="url(#p01abf23111)" style="fill: none; stroke: #000000; stroke-width: 1.1; stroke-linecap: square"/>
    <path d="M 708.79 391.67 
L 723.08 391.67 
" clip-path="url(#p01abf23111)" style="fill: none; stroke: #000000; stroke-width: 1.1; stroke-linecap: square"/>
    <path d="M 723.08 395.24 
L 737.37 395.24 
" clip-path="url(#p01abf23111)" style="fill: none; stroke: #000000; stroke-width: 1.1; stroke-linecap: square"/>
    <path d="M 723.08 391.67 
L 737.37 391.67 
" clip-path="url(#p01abf23111)" style="fill: none; stroke: #000000; stroke-width: 1.1; stroke-linecap: square"/>
    <path d="M 480.16 395.24 
L 480.16 320.33 
" clip-path="url(#p01abf23111)" style="fill: none; stroke: #000000; stroke-width: 1.1; stroke-linecap: square"/>
    <path d="M 494.45 395.24 
L 494.45 266.82 
" clip-path="url(#p01abf23111)" style="fill: none; stroke: #000000; stroke-width: 1.1; stroke-linecap: square"/>
    <path d="M 508.74 395.24 
L 508.74 266.82 
" clip-path="url(#p01abf23111)" style="fill: none; stroke: #000000; stroke-width: 1.1; stroke-linecap: square"/>
    <path d="M 508.74 395.24 
L 508.74 188.34 
" clip-path="url(#p01abf23111)" style="fill: none; stroke: #000000; stroke-width: 1.1; stroke-linecap: square"/>
    <path d="M 523.03 395.24 
L 523.03 159.80 
" clip-path="url(#p01abf23111)" style="fill: none; stroke: #000000; stroke-width: 1.1; stroke-linecap: square"/>
    <path d="M 537.32 395.24 
L 537.32 159.80 
" clip-path="url(#p01abf23111)" style="fill: none; stroke: #000000; stroke-width: 1.1; stroke-linecap: square"/>
    <path d="M 537.32 395.24 
L 537.32 77.76 
" clip-path="url(#p01abf23111)" style="fill: none; stroke: #000000; stroke-width: 1.1; stroke-linecap: square"/>
    <path d="M 551.61 395.24 
L 551.61 77.76 
" clip-path="url(#p01abf23111)" style="fill: none; stroke: #000000; stroke-width: 1.1; stroke-linecap: square"/>
    <path d="M 565.90 395.24 
L 565.90 184.78 
" clip-path="url(#p01abf23111)" style="fill: none; stroke: #000000; stroke-width: 1.1; stroke-linecap: square"/>
    <path d="M 580.19 395.24 
L 580.19 195.48 
" clip-path="url(#p01abf23111)" style="fill: none; stroke: #000000; stroke-width: 1.1; stroke-linecap: square"/>
    <path d="M 580.19 395.24 
L 580.19 231.15 
" clip-path="url(#p01abf23111)" style="fill: none; stroke: #000000; stroke-width: 1.1; stroke-linecap: square"/>
    <path d="M 594.48 395.24 
L 594.48 224.01 
" clip-path="url(#p01abf23111)" style="fill: none; stroke: #000000; stroke-width: 1.1; stroke-linecap: square"/>
    <path d="M 608.77 395.24 
L 608.77 224.01 
" clip-path="url(#p01abf23111)" style="fill: none; stroke: #000000; stroke-width: 1.1; stroke-linecap: square"/>
    <path d="M 623.06 395.24 
L 623.06 316.76 
" clip-path="url(#p01abf23111)" style="fill: none; stroke: #000000; stroke-width: 1.1; stroke-linecap: square"/>
    <path d="M 623.06 395.24 
L 623.06 327.46 
" clip-path="url(#p01abf23111)" style="fill: none; stroke: #000000; stroke-width: 1.1; stroke-linecap: square"/>
    <path d="M 637.34 395.24 
L 637.34 327.46 
" clip-path="url(#p01abf23111)" style="fill: none; stroke: #000000; stroke-width: 1.1; stroke-linecap: square"/>
    <path d="M 651.63 395.24 
L 651.63 331.03 
" clip-path="url(#p01abf23111)" style="fill: none; stroke: #000000; stroke-width: 1.1; stroke-linecap: square"/>
    <path d="M 651.63 395.24 
L 651.63 359.57 
" clip-path="url(#p01abf23111)" style="fill: none; stroke: #000000; stroke-width: 1.1; stroke-linecap: square"/>
    <path d="M 665.92 395.24 
L 665.92 359.57 
" clip-path="url(#p01abf23111)" style="fill: none; stroke: #000000; stroke-width: 1.1; stroke-linecap: square"/>
    <path d="M 680.21 395.24 
L 680.21 388.11 
" clip-path="url(#p01abf23111)" style="fill: none; stroke: #000000; stroke-width: 1.1; stroke-linecap: square"/>
    <path d="M 694.50 395.24 
L 694.50 377.40 
" clip-path="url(#p01abf23111)" style="fill: none; stroke: #000000; stroke-width: 1.1; stroke-linecap: square"/>
    <path d="M 708.79 395.24 
L 708.79 377.40 
" clip-path="url(#p01abf23111)" style="fill: none; stroke: #000000; stroke-width: 1.1; stroke-linecap: square"/>
    <path d="M 723.08 395.24 
L 723.08 391.67 
" clip-path="url(#p01abf23111)" style="fill: none; stroke: #000000; stroke-width: 1.1; stroke-linecap: square"/>
    <path d="M 723.08 395.24 
L 723.08 391.67 
" clip-path="url(#p01abf23111)" style="fill: none; stroke: #000000; stroke-width: 1.1; stroke-linecap: square"/>
    <path d="M 737.37 395.24 
L 737.37 391.67 
" clip-path="url(#p01abf23111)" style="fill: none; stroke: #000000; stroke-width: 1.1; stroke-linecap: square"/>
   </g>
   <g id="matplotlib.axis_5">
    <g id="xtick_17">
     <g id="line2d_119">
      <g>
       <use href="#m1504cfccaf" x="422.21" y="395.24" style="stroke: #000000; stroke-width: 0.8"/>
      </g>
     </g>
     <g id="text_52">
      <text style="stroke: #000; stroke-width: 0.10; font-size: 10px; font-family: 'DejaVu Sans', sans-serif; text-anchor: middle" x="422.21" y="410.83" transform="rotate(-0 422.21 410.83)">0.0</text>
     </g>
    </g>
    <g id="xtick_18">
     <g id="line2d_120">
      <g>
       <use href="#m1504cfccaf" x="464.72" y="395.24" style="stroke: #000000; stroke-width: 0.8"/>
      </g>
     </g>
     <g id="text_53">
      <text style="stroke: #000; stroke-width: 0.10; font-size: 10px; font-family: 'DejaVu Sans', sans-serif; text-anchor: middle" x="464.73" y="410.83" transform="rotate(-0 464.73 410.83)">0.2</text>
     </g>
    </g>
    <g id="xtick_19">
     <g id="line2d_121">
      <g>
       <use href="#m1504cfccaf" x="507.24" y="395.24" style="stroke: #000000; stroke-width: 0.8"/>
      </g>
     </g>
     <g id="text_54">
      <text style="stroke: #000; stroke-width: 0.10; font-size: 10px; font-family: 'DejaVu Sans', sans-serif; text-anchor: middle" x="507.24" y="410.83" transform="rotate(-0 507.24 410.83)">0.4</text>
     </g>
    </g>
    <g id="xtick_20">
     <g id="line2d_122">
      <g>
       <use href="#m1504cfccaf" x="549.75" y="395.24" style="stroke: #000000; stroke-width: 0.8"/>
      </g>
     </g>
     <g id="text_55">
      <text style="stroke: #000; stroke-width: 0.10; font-size: 10px; font-family: 'DejaVu Sans', sans-serif; text-anchor: middle" x="549.75" y="410.83" transform="rotate(-0 549.75 410.83)">0.6</text>
     </g>
    </g>
    <g id="xtick_21">
     <g id="line2d_123">
      <g>
       <use href="#m1504cfccaf" x="592.26" y="395.24" style="stroke: #000000; stroke-width: 0.8"/>
      </g>
     </g>
     <g id="text_56">
      <text style="stroke: #000; stroke-width: 0.10; font-size: 10px; font-family: 'DejaVu Sans', sans-serif; text-anchor: middle" x="592.27" y="410.83" transform="rotate(-0 592.27 410.83)">0.8</text>
     </g>
    </g>
    <g id="xtick_22">
     <g id="line2d_124">
      <g>
       <use href="#m1504cfccaf" x="634.78" y="395.24" style="stroke: #000000; stroke-width: 0.8"/>
      </g>
     </g>
     <g id="text_57">
      <text style="stroke: #000; stroke-width: 0.10; font-size: 10px; font-family: 'DejaVu Sans', sans-serif; text-anchor: middle" x="634.78" y="410.83" transform="rotate(-0 634.78 410.83)">1.0</text>
     </g>
    </g>
    <g id="xtick_23">
     <g id="line2d_125">
      <g>
       <use href="#m1504cfccaf" x="677.29" y="395.24" style="stroke: #000000; stroke-width: 0.8"/>
      </g>
     </g>
     <g id="text_58">
      <text style="stroke: #000; stroke-width: 0.10; font-size: 10px; font-family: 'DejaVu Sans', sans-serif; text-anchor: middle" x="677.30" y="410.83" transform="rotate(-0 677.30 410.83)">1.2</text>
     </g>
    </g>
    <g id="xtick_24">
     <g id="line2d_126">
      <g>
       <use href="#m1504cfccaf" x="719.80" y="395.24" style="stroke: #000000; stroke-width: 0.8"/>
      </g>
     </g>
     <g id="text_59">
      <text style="stroke: #000; stroke-width: 0.10; font-size: 10px; font-family: 'DejaVu Sans', sans-serif; text-anchor: middle" x="719.81" y="410.83" transform="rotate(-0 719.81 410.83)">1.4</text>
     </g>
    </g>
    <g id="text_60">
     <text style="stroke: #000; stroke-width: 0.10; font-size: 10px; font-family: 'DejaVu Sans', sans-serif; text-anchor: middle" x="581.64" y="426.06" transform="rotate(-0 581.64 426.06)">Radius (mm)</text>
    </g>
   </g>
   <g id="matplotlib.axis_6">
    <g id="ytick_19">
     <g id="line2d_127">
      <g>
       <use href="#m5d545ce8f8" x="422.21" y="395.24" style="stroke: #000000; stroke-width: 0.8"/>
      </g>
     </g>
     <g id="text_61">
      <text style="stroke: #000; stroke-width: 0.10; font-size: 10px; font-family: 'DejaVu Sans', sans-serif; text-anchor: end" x="415.21" y="400.68" transform="rotate(-0 415.21 400.68)">0</text>
     </g>
    </g>
    <g id="ytick_20">
     <g id="line2d_128">
      <g>
       <use href="#m5d545ce8f8" x="422.21" y="323.90" style="stroke: #000000; stroke-width: 0.8"/>
      </g>
     </g>
     <g id="text_62">
      <text style="stroke: #000; stroke-width: 0.10; font-size: 10px; font-family: 'DejaVu Sans', sans-serif; text-anchor: end" x="415.21" y="329.34" transform="rotate(-0 415.21 329.34)">20</text>
     </g>
    </g>
    <g id="ytick_21">
     <g id="line2d_129">
      <g>
       <use href="#m5d545ce8f8" x="422.21" y="252.55" style="stroke: #000000; stroke-width: 0.8"/>
      </g>
     </g>
     <g id="text_63">
      <text style="stroke: #000; stroke-width: 0.10; font-size: 10px; font-family: 'DejaVu Sans', sans-serif; text-anchor: end" x="415.21" y="258.00" transform="rotate(-0 415.21 258.00)">40</text>
     </g>
    </g>
    <g id="ytick_22">
     <g id="line2d_130">
      <g>
       <use href="#m5d545ce8f8" x="422.21" y="181.21" style="stroke: #000000; stroke-width: 0.8"/>
      </g>
     </g>
     <g id="text_64">
      <text style="stroke: #000; stroke-width: 0.10; font-size: 10px; font-family: 'DejaVu Sans', sans-serif; text-anchor: end" x="415.21" y="186.65" transform="rotate(-0 415.21 186.65)">60</text>
     </g>
    </g>
    <g id="ytick_23">
     <g id="line2d_131">
      <g>
       <use href="#m5d545ce8f8" x="422.21" y="109.86" style="stroke: #000000; stroke-width: 0.8"/>
      </g>
     </g>
     <g id="text_65">
      <text style="stroke: #000; stroke-width: 0.10; font-size: 10px; font-family: 'DejaVu Sans', sans-serif; text-anchor: end" x="415.21" y="115.31" transform="rotate(-0 415.21 115.31)">80</text>
     </g>
    </g>
    <g id="ytick_24">
     <g id="line2d_132">
      <g>
       <use href="#m5d545ce8f8" x="422.21" y="38.52" style="stroke: #000000; stroke-width: 0.8"/>
      </g>
     </g>
     <g id="text_66">
      <text style="stroke: #000; stroke-width: 0.10; font-size: 10px; font-family: 'DejaVu Sans', sans-serif; text-anchor: end" x="415.21" y="43.96" transform="rotate(-0 415.21 43.96)">100</text>
     </g>
    </g>
    <g id="text_67">
     <text style="stroke: #000; stroke-width: 0.10; font-size: 10.40px; font-family: 'DejaVu Sans', sans-serif; text-anchor: middle" x="390.54" y="218.52" transform="rotate(-90 390.54 218.52)">Count</text>
    </g>
   </g>
   <g id="line2d_133">
    <path d="M 480.16 389.14 
L 487.91 387.18 
L 498.25 384.32 
L 517.64 378.88 
L 524.10 377.31 
L 529.28 376.26 
L 534.45 375.47 
L 538.32 375.07 
L 542.20 374.84 
L 546.08 374.80 
L 549.96 374.94 
L 555.13 375.40 
L 560.30 376.11 
L 566.76 377.29 
L 575.81 379.25 
L 595.19 383.54 
L 606.83 385.84 
L 622.34 388.66 
L 635.26 390.81 
L 643.02 391.90 
L 649.48 392.64 
L 655.94 393.17 
L 662.41 393.47 
L 668.87 393.54 
L 676.62 393.40 
L 701.18 392.70 
L 708.94 392.83 
L 717.98 393.23 
L 737.37 394.39 
L 737.37 394.39 
" clip-path="url(#p01abf23111)" style="fill: none; stroke: #08306b; stroke-width: 2; stroke-linecap: square"/>
   </g>
   <g id="line2d_134">
    <path d="M 480.16 385.61 
L 484.04 383.54 
L 489.21 380.46 
L 495.67 376.29 
L 504.72 370.42 
L 509.89 367.37 
L 513.76 365.33 
L 517.64 363.53 
L 521.52 361.98 
L 525.40 360.67 
L 529.28 359.58 
L 534.45 358.41 
L 539.62 357.51 
L 546.08 356.64 
L 552.54 356.01 
L 557.71 355.71 
L 561.59 355.65 
L 565.47 355.79 
L 569.34 356.17 
L 573.22 356.84 
L 577.10 357.84 
L 580.98 359.16 
L 584.85 360.79 
L 588.73 362.69 
L 593.90 365.50 
L 606.83 372.75 
L 612.00 375.32 
L 617.17 377.57 
L 622.34 379.52 
L 627.51 381.24 
L 635.26 383.58 
L 652.07 388.34 
L 658.53 389.95 
L 663.70 391.01 
L 668.87 391.81 
L 674.04 392.34 
L 679.21 392.62 
L 685.67 392.72 
L 707.64 392.78 
L 716.69 393.16 
L 737.37 394.39 
L 737.37 394.39 
" clip-path="url(#p01abf23111)" style="fill: none; stroke: #08488e; stroke-width: 2; stroke-linecap: square"/>
   </g>
   <g id="line2d_135">
    <path d="M 480.16 379.81 
L 484.04 376.54 
L 487.91 372.99 
L 493.08 367.95 
L 511.18 349.82 
L 515.06 346.34 
L 518.93 343.17 
L 522.81 340.37 
L 525.40 338.73 
L 527.98 337.29 
L 530.57 336.05 
L 533.15 335.03 
L 535.74 334.22 
L 538.32 333.62 
L 540.91 333.22 
L 543.49 333.02 
L 546.08 333.00 
L 548.66 333.16 
L 551.25 333.48 
L 555.13 334.25 
L 559.00 335.32 
L 562.88 336.67 
L 566.76 338.29 
L 570.64 340.17 
L 574.51 342.29 
L 578.39 344.62 
L 583.56 348.03 
L 590.02 352.59 
L 601.66 360.86 
L 606.83 364.29 
L 612.00 367.46 
L 617.17 370.39 
L 623.63 373.78 
L 632.68 378.23 
L 643.02 383.08 
L 649.48 385.88 
L 654.65 387.87 
L 658.53 389.15 
L 662.41 390.24 
L 666.28 391.10 
L 670.16 391.76 
L 674.04 392.21 
L 679.21 392.56 
L 685.67 392.70 
L 710.23 392.86 
L 719.28 393.31 
L 737.37 394.39 
L 737.37 394.39 
" clip-path="url(#p01abf23111)" style="fill: none; stroke: #135fa7; stroke-width: 2; stroke-linecap: square"/>
   </g>
   <g id="line2d_136">
    <path d="M 480.16 375.32 
L 484.04 370.91 
L 487.91 366.13 
L 493.08 359.35 
L 502.13 346.93 
L 508.59 338.21 
L 512.47 333.26 
L 516.35 328.66 
L 520.23 324.49 
L 522.81 322.01 
L 525.40 319.80 
L 527.98 317.88 
L 530.57 316.27 
L 533.15 315.00 
L 535.74 314.06 
L 538.32 313.46 
L 540.91 313.20 
L 543.49 313.26 
L 546.08 313.62 
L 548.66 314.25 
L 551.25 315.13 
L 553.83 316.22 
L 557.71 318.17 
L 561.59 320.40 
L 566.76 323.67 
L 571.93 327.18 
L 577.10 330.93 
L 582.27 334.95 
L 587.44 339.31 
L 592.61 344.00 
L 599.07 350.22 
L 609.41 360.21 
L 614.58 364.83 
L 618.46 368.00 
L 622.34 370.91 
L 626.21 373.56 
L 630.09 375.99 
L 635.26 378.95 
L 640.43 381.65 
L 645.60 384.12 
L 650.77 386.36 
L 655.94 388.30 
L 659.82 389.53 
L 663.70 390.55 
L 667.58 391.34 
L 671.45 391.93 
L 675.33 392.33 
L 680.50 392.61 
L 686.96 392.70 
L 707.64 392.78 
L 716.69 393.16 
L 737.37 394.39 
L 737.37 394.39 
" clip-path="url(#p01abf23111)" style="fill: none; stroke: #2676b8; stroke-width: 2; stroke-linecap: square"/>
   </g>
   <g id="line2d_137">
    <path d="M 480.16 369.51 
L 484.04 364.06 
L 487.91 358.19 
L 493.08 349.90 
L 502.13 334.75 
L 508.59 324.06 
L 512.47 317.95 
L 516.35 312.24 
L 518.93 308.72 
L 521.52 305.49 
L 524.10 302.57 
L 526.69 300.02 
L 529.28 297.87 
L 531.86 296.14 
L 534.45 294.86 
L 537.03 294.04 
L 538.32 293.81 
L 540.91 293.66 
L 543.49 293.96 
L 546.08 294.65 
L 548.66 295.70 
L 551.25 297.07 
L 553.83 298.69 
L 557.71 301.49 
L 562.88 305.62 
L 588.73 327.11 
L 593.90 331.76 
L 600.36 337.93 
L 610.70 348.26 
L 618.46 355.90 
L 624.92 361.96 
L 631.38 367.72 
L 637.85 373.18 
L 643.02 377.27 
L 646.90 380.12 
L 650.77 382.73 
L 654.65 385.05 
L 658.53 387.05 
L 662.41 388.72 
L 666.28 390.04 
L 670.16 391.03 
L 674.04 391.73 
L 677.92 392.19 
L 683.09 392.51 
L 689.55 392.63 
L 707.64 392.77 
L 716.69 393.16 
L 737.37 394.39 
L 737.37 394.39 
" clip-path="url(#p01abf23111)" style="fill: none; stroke: #3f8fc5; stroke-width: 2; stroke-linecap: square"/>
   </g>
   <g id="line2d_138">
    <path d="M 480.16 365.37 
L 484.04 358.97 
L 487.91 352.04 
L 491.79 344.68 
L 496.96 334.41 
L 511.18 305.83 
L 515.06 298.62 
L 518.93 291.99 
L 521.52 287.98 
L 524.10 284.35 
L 526.69 281.15 
L 529.28 278.43 
L 531.86 276.23 
L 533.15 275.33 
L 534.45 274.56 
L 535.74 273.94 
L 537.03 273.45 
L 538.32 273.10 
L 539.62 272.89 
L 540.91 272.82 
L 542.20 272.88 
L 543.49 273.07 
L 544.79 273.38 
L 547.37 274.36 
L 549.96 275.76 
L 552.54 277.54 
L 555.13 279.62 
L 557.71 281.94 
L 561.59 285.75 
L 568.05 292.53 
L 593.90 320.26 
L 602.95 330.54 
L 613.29 342.27 
L 619.75 349.22 
L 626.21 355.79 
L 632.68 362.01 
L 639.14 367.92 
L 644.31 372.37 
L 649.48 376.50 
L 653.36 379.30 
L 657.24 381.79 
L 661.11 383.94 
L 664.99 385.72 
L 667.58 386.71 
L 671.45 387.89 
L 675.33 388.74 
L 679.21 389.31 
L 683.09 389.65 
L 688.26 389.86 
L 710.23 390.39 
L 716.69 390.91 
L 725.74 391.90 
L 737.37 393.24 
L 737.37 393.24 
" clip-path="url(#p01abf23111)" style="fill: none; stroke: #5ca4d0; stroke-width: 2; stroke-linecap: square"/>
   </g>
   <g id="line2d_139">
    <path d="M 480.16 360.19 
L 484.04 352.70 
L 487.91 344.57 
L 491.79 335.93 
L 496.96 323.87 
L 509.89 293.25 
L 513.76 284.67 
L 517.64 276.73 
L 520.23 271.88 
L 522.81 267.48 
L 525.40 263.56 
L 527.98 260.18 
L 530.57 257.39 
L 531.86 256.22 
L 533.15 255.21 
L 534.45 254.37 
L 535.74 253.68 
L 537.03 253.16 
L 538.32 252.80 
L 539.62 252.60 
L 540.91 252.56 
L 542.20 252.67 
L 543.49 252.94 
L 544.79 253.35 
L 546.08 253.90 
L 547.37 254.59 
L 549.96 256.33 
L 552.54 258.52 
L 555.13 261.07 
L 557.71 263.93 
L 561.59 268.63 
L 566.76 275.36 
L 608.12 330.41 
L 613.29 336.76 
L 618.46 342.68 
L 623.63 348.16 
L 628.80 353.24 
L 633.97 358.00 
L 640.43 363.60 
L 645.60 367.82 
L 650.77 371.78 
L 654.65 374.52 
L 658.53 377.03 
L 662.41 379.27 
L 666.28 381.23 
L 670.16 382.90 
L 674.04 384.28 
L 677.92 385.39 
L 681.79 386.27 
L 685.67 386.95 
L 690.84 387.63 
L 698.60 388.36 
L 714.11 389.72 
L 725.74 391.03 
L 737.37 392.40 
L 737.37 392.40 
" clip-path="url(#p01abf23111)" style="fill: none; stroke: #7db8da; stroke-width: 2; stroke-linecap: square"/>
   </g>
   <g id="line2d_140">
    <path d="M 480.16 353.46 
L 484.04 345.03 
L 487.91 335.98 
L 493.08 323.25 
L 508.59 284.21 
L 512.47 275.19 
L 516.35 266.85 
L 518.93 261.76 
L 521.52 257.11 
L 524.10 252.96 
L 526.69 249.35 
L 529.28 246.31 
L 531.86 243.89 
L 533.15 242.91 
L 534.45 242.09 
L 535.74 241.43 
L 537.03 240.92 
L 538.32 240.58 
L 539.62 240.38 
L 540.91 240.34 
L 542.20 240.45 
L 543.49 240.69 
L 544.79 241.07 
L 546.08 241.58 
L 548.66 242.95 
L 551.25 244.74 
L 553.83 246.88 
L 556.42 249.28 
L 560.30 253.24 
L 566.76 260.30 
L 587.44 283.26 
L 592.61 289.55 
L 596.49 294.58 
L 601.66 301.69 
L 608.12 311.03 
L 619.75 327.93 
L 624.92 335.08 
L 630.09 341.92 
L 635.26 348.43 
L 640.43 354.64 
L 645.60 360.51 
L 649.48 364.65 
L 653.36 368.51 
L 657.24 372.04 
L 661.11 375.21 
L 664.99 377.99 
L 667.58 379.62 
L 670.16 381.07 
L 672.75 382.34 
L 676.62 383.94 
L 680.50 385.21 
L 684.38 386.19 
L 688.26 386.94 
L 693.43 387.69 
L 701.18 388.49 
L 717.98 390.13 
L 737.37 392.40 
L 737.37 392.40 
" clip-path="url(#p01abf23111)" style="fill: none; stroke: #a1cbe2; stroke-width: 2; stroke-linecap: square"/>
   </g>
   <g id="line2d_141">
    <path d="M 480.16 349.11 
L 484.04 339.62 
L 487.91 329.45 
L 493.08 315.18 
L 511.18 264.37 
L 515.06 254.36 
L 518.93 245.02 
L 521.52 239.27 
L 524.10 233.97 
L 526.69 229.19 
L 529.28 225.00 
L 531.86 221.47 
L 533.15 219.97 
L 534.45 218.66 
L 535.74 217.53 
L 537.03 216.61 
L 538.32 215.88 
L 539.62 215.35 
L 540.91 215.02 
L 542.20 214.90 
L 543.49 214.97 
L 544.79 215.24 
L 546.08 215.69 
L 547.37 216.33 
L 548.66 217.14 
L 549.96 218.10 
L 552.54 220.48 
L 555.13 223.36 
L 557.71 226.63 
L 561.59 232.05 
L 568.05 241.66 
L 574.51 251.18 
L 580.98 260.32 
L 591.32 274.85 
L 596.49 282.58 
L 601.66 290.83 
L 606.83 299.56 
L 624.92 330.85 
L 630.09 339.02 
L 633.97 344.75 
L 637.85 350.15 
L 641.72 355.21 
L 645.60 359.93 
L 649.48 364.30 
L 653.36 368.31 
L 657.24 371.94 
L 661.11 375.16 
L 663.70 377.08 
L 666.28 378.81 
L 668.87 380.35 
L 671.45 381.72 
L 674.04 382.91 
L 677.92 384.40 
L 681.79 385.57 
L 685.67 386.47 
L 689.55 387.15 
L 694.72 387.84 
L 702.47 388.61 
L 716.69 389.99 
L 732.20 391.80 
L 737.37 392.40 
L 737.37 392.40 
" clip-path="url(#p01abf23111)" style="fill: none; stroke: #bfd8ed; stroke-width: 2; stroke-linecap: square"/>
   </g>
   <g id="line2d_142">
    <path d="M 480.16 344.31 
L 484.04 333.77 
L 487.91 322.48 
L 493.08 306.64 
L 509.89 254.24 
L 513.76 243.02 
L 517.64 232.48 
L 520.23 225.94 
L 522.81 219.86 
L 525.40 214.30 
L 527.98 209.34 
L 530.57 205.05 
L 533.15 201.48 
L 534.45 199.99 
L 535.74 198.70 
L 537.03 197.62 
L 538.32 196.74 
L 539.62 196.08 
L 540.91 195.64 
L 542.20 195.40 
L 543.49 195.38 
L 544.79 195.56 
L 546.08 195.95 
L 547.37 196.53 
L 548.66 197.30 
L 549.96 198.24 
L 551.25 199.35 
L 553.83 202.02 
L 556.42 205.21 
L 559.00 208.81 
L 562.88 214.76 
L 568.05 223.24 
L 595.19 268.89 
L 600.36 278.33 
L 605.53 288.22 
L 622.34 320.86 
L 626.21 327.83 
L 630.09 334.41 
L 633.97 340.60 
L 637.85 346.40 
L 641.72 351.83 
L 645.60 356.91 
L 649.48 361.63 
L 653.36 366.00 
L 657.24 369.98 
L 661.11 373.55 
L 663.70 375.69 
L 666.28 377.63 
L 668.87 379.37 
L 671.45 380.91 
L 674.04 382.26 
L 676.62 383.42 
L 679.21 384.42 
L 683.09 385.62 
L 686.96 386.54 
L 690.84 387.24 
L 696.01 387.93 
L 705.06 388.83 
L 717.98 390.13 
L 737.37 392.40 
L 737.37 392.40 
" clip-path="url(#p01abf23111)" style="fill: none; stroke: #d3e4f3; stroke-width: 2; stroke-linecap: square"/>
   </g>
   <g id="line2d_143">
    <path d="M 480.16 341.62 
L 482.74 334.09 
L 486.62 321.98 
L 490.50 309.09 
L 495.67 291.07 
L 509.89 240.72 
L 513.76 227.83 
L 517.64 215.74 
L 520.23 208.23 
L 522.81 201.26 
L 525.40 194.90 
L 527.98 189.22 
L 530.57 184.31 
L 533.15 180.22 
L 534.45 178.51 
L 535.74 177.02 
L 537.03 175.77 
L 538.32 174.76 
L 539.62 173.98 
L 540.91 173.44 
L 542.20 173.15 
L 543.49 173.08 
L 544.79 173.25 
L 546.08 173.65 
L 547.37 174.26 
L 548.66 175.09 
L 549.96 176.11 
L 551.25 177.31 
L 553.83 180.24 
L 556.42 183.75 
L 559.00 187.73 
L 562.88 194.33 
L 568.05 203.79 
L 582.27 230.18 
L 593.90 251.56 
L 600.36 264.00 
L 606.83 276.99 
L 622.34 308.57 
L 627.51 318.51 
L 632.68 327.95 
L 637.85 336.88 
L 643.02 345.27 
L 646.90 351.20 
L 650.77 356.75 
L 654.65 361.90 
L 658.53 366.58 
L 661.11 369.42 
L 663.70 372.02 
L 666.28 374.38 
L 668.87 376.50 
L 671.45 378.38 
L 674.04 380.03 
L 676.62 381.47 
L 679.21 382.71 
L 681.79 383.77 
L 685.67 385.07 
L 689.55 386.08 
L 693.43 386.87 
L 698.60 387.70 
L 706.35 388.68 
L 737.37 392.39 
L 737.37 392.39 
" clip-path="url(#p01abf23111)" style="fill: none; stroke: #e5eff9; stroke-width: 2; stroke-linecap: square"/>
   </g>
   <g id="line2d_144">
    <path d="M 480.16 337.59 
L 482.74 329.63 
L 486.62 316.87 
L 490.50 303.29 
L 495.67 284.31 
L 511.18 226.56 
L 515.06 213.11 
L 518.93 200.52 
L 521.52 192.72 
L 524.10 185.49 
L 526.69 178.92 
L 529.28 173.07 
L 531.86 168.03 
L 533.15 165.83 
L 534.45 163.86 
L 535.74 162.12 
L 537.03 160.63 
L 538.32 159.37 
L 539.62 158.36 
L 540.91 157.60 
L 542.20 157.09 
L 543.49 156.82 
L 544.79 156.79 
L 546.08 157.00 
L 547.37 157.44 
L 548.66 158.10 
L 549.96 158.97 
L 551.25 160.04 
L 552.54 161.30 
L 555.13 164.32 
L 557.71 167.93 
L 560.30 172.01 
L 562.88 176.44 
L 566.76 183.56 
L 573.22 196.07 
L 584.85 219.14 
L 591.32 232.35 
L 596.49 243.33 
L 602.95 257.65 
L 619.75 295.57 
L 624.92 306.37 
L 628.80 313.99 
L 632.68 321.18 
L 636.55 327.97 
L 640.43 334.38 
L 644.31 340.45 
L 648.19 346.19 
L 652.07 351.60 
L 655.94 356.66 
L 659.82 361.34 
L 663.70 365.60 
L 667.58 369.44 
L 671.45 372.82 
L 674.04 374.84 
L 676.62 376.66 
L 680.50 379.06 
L 684.38 381.08 
L 688.26 382.77 
L 692.13 384.19 
L 696.01 385.37 
L 701.18 386.67 
L 706.35 387.75 
L 714.11 389.11 
L 724.45 390.67 
L 734.79 392.05 
L 737.37 392.36 
L 737.37 392.36 
" clip-path="url(#p01abf23111)" style="fill: none; stroke: #f7fbff; stroke-width: 2; stroke-linecap: square"/>
   </g>
   <g id="patch_312">
    <path d="M 422.21 395.24 
L 422.21 38.52 
" style="fill: none; stroke: #000000; stroke-width: 0.8; stroke-linejoin: miter; stroke-linecap: square"/>
   </g>
   <g id="patch_313">
    <path d="M 741.06 395.24 
L 741.06 38.52 
" style="fill: none; stroke: #000000; stroke-width: 0.8; stroke-linejoin: miter; stroke-linecap: square"/>
   </g>
   <g id="patch_314">
    <path d="M 422.21 395.24 
L 741.06 395.24 
" style="fill: none; stroke: #000000; stroke-width: 0.8; stroke-linejoin: miter; stroke-linecap: square"/>
   </g>
   <g id="patch_315">
    <path d="M 422.21 38.52 
L 741.06 38.52 
" style="fill: none; stroke: #000000; stroke-width: 0.8; stroke-linejoin: miter; stroke-linecap: square"/>
   </g>
   <g id="legend_2">
    <g id="patch_316">
     <path d="M 662.26 250.30 
L 734.06 250.30 
Q 736.06 250.30 736.06 248.30 
L 736.06 45.52 
Q 736.06 43.52 734.06 43.52 
L 662.26 43.52 
Q 660.26 43.52 660.26 45.52 
L 660.26 248.30 
Q 660.26 250.30 662.26 250.30 
z
" style="fill: #ffffff; opacity: 0.8; stroke: #cccccc; stroke-linejoin: miter"/>
    </g>
    <g id="text_68">
     <text style="stroke: #000; stroke-width: 0.10; font-size: 10px; font-family: 'DejaVu Sans', sans-serif; text-anchor: start" x="665.27" y="56.12" transform="rotate(-0 665.27 56.12)">Gantry Angle</text>
    </g>
    <g id="patch_317">
     <path d="M 674.62 71.86 
L 694.62 71.86 
L 694.62 64.86 
L 674.62 64.86 
z
" style="fill: #f7fbff; fill-opacity: 0.5; stroke: #000000; stroke-linejoin: miter"/>
    </g>
    <g id="text_69">
     <text style="stroke: #000; stroke-width: 0.10; font-size: 10px; font-family: 'DejaVu Sans', sans-serif; text-anchor: start" x="702.62" y="71.87" transform="rotate(-0 702.62 71.87)">0</text>
    </g>
    <g id="patch_318">
     <path d="M 674.62 87.44 
L 694.62 87.44 
L 694.62 80.44 
L 674.62 80.44 
z
" style="fill: #e5eff9; fill-opacity: 0.5; stroke: #000000; stroke-linejoin: miter"/>
    </g>
    <g id="text_70">
     <text style="stroke: #000; stroke-width: 0.10; font-size: 10px; font-family: 'DejaVu Sans', sans-serif; text-anchor: start" x="702.62" y="87.44" transform="rotate(-0 702.62 87.44)">30</text>
    </g>
    <g id="patch_319">
     <path d="M 674.62 103.02 
L 694.62 103.02 
L 694.62 96.02 
L 674.62 96.02 
z
" style="fill: #d3e4f3; fill-opacity: 0.5; stroke: #000000; stroke-linejoin: miter"/>
    </g>
    <g id="text_71">
     <text style="stroke: #000; stroke-width: 0.10; font-size: 10px; font-family: 'DejaVu Sans', sans-serif; text-anchor: start" x="702.62" y="103.02" transform="rotate(-0 702.62 103.02)">60</text>
    </g>
    <g id="patch_320">
     <path d="M 674.62 118.59 
L 694.62 118.59 
L 694.62 111.59 
L 674.62 111.59 
z
" style="fill: #bfd8ed; fill-opacity: 0.5; stroke: #000000; stroke-linejoin: miter"/>
    </g>
    <g id="text_72">
     <text style="stroke: #000; stroke-width: 0.10; font-size: 10px; font-family: 'DejaVu Sans', sans-serif; text-anchor: start" x="702.62" y="118.60" transform="rotate(-0 702.62 118.60)">90</text>
    </g>
    <g id="patch_321">
     <path d="M 674.62 134.17 
L 694.62 134.17 
L 694.62 127.17 
L 674.62 127.17 
z
" style="fill: #a1cbe2; fill-opacity: 0.5; stroke: #000000; stroke-linejoin: miter"/>
    </g>
    <g id="text_73">
     <text style="stroke: #000; stroke-width: 0.10; font-size: 10px; font-family: 'DejaVu Sans', sans-serif; text-anchor: start" x="702.62" y="134.18" transform="rotate(-0 702.62 134.18)">120</text>
    </g>
    <g id="patch_322">
     <path d="M 674.62 149.75 
L 694.62 149.75 
L 694.62 142.75 
L 674.62 142.75 
z
" style="fill: #7db8da; fill-opacity: 0.5; stroke: #000000; stroke-linejoin: miter"/>
    </g>
    <g id="text_74">
     <text style="stroke: #000; stroke-width: 0.10; font-size: 10px; font-family: 'DejaVu Sans', sans-serif; text-anchor: start" x="702.62" y="149.76" transform="rotate(-0 702.62 149.76)">150</text>
    </g>
    <g id="patch_323">
     <path d="M 674.62 165.33 
L 694.62 165.33 
L 694.62 158.33 
L 674.62 158.33 
z
" style="fill: #5ca4d0; fill-opacity: 0.5; stroke: #000000; stroke-linejoin: miter"/>
    </g>
    <g id="text_75">
     <text style="stroke: #000; stroke-width: 0.10; font-size: 10px; font-family: 'DejaVu Sans', sans-serif; text-anchor: start" x="702.62" y="165.33" transform="rotate(-0 702.62 165.33)">180</text>
    </g>
    <g id="patch_324">
     <path d="M 674.62 180.91 
L 694.62 180.91 
L 694.62 173.91 
L 674.62 173.91 
z
" style="fill: #3f8fc5; fill-opacity: 0.5; stroke: #000000; stroke-linejoin: miter"/>
    </g>
    <g id="text_76">
     <text style="stroke: #000; stroke-width: 0.10; font-size: 10px; font-family: 'DejaVu Sans', sans-serif; text-anchor: start" x="702.62" y="180.91" transform="rotate(-0 702.62 180.91)">210</text>
    </g>
    <g id="patch_325">
     <path d="M 674.62 196.49 
L 694.62 196.49 
L 694.62 189.49 
L 674.62 189.49 
z
" style="fill: #2676b8; fill-opacity: 0.5; stroke: #000000; stroke-linejoin: miter"/>
    </g>
    <g id="text_77">
     <text style="stroke: #000; stroke-width: 0.10; font-size: 10px; font-family: 'DejaVu Sans', sans-serif; text-anchor: start" x="702.62" y="196.49" transform="rotate(-0 702.62 196.49)">240</text>
    </g>
    <g id="patch_326">
     <path d="M 674.62 212.06 
L 694.62 212.06 
L 694.62 205.06 
L 674.62 205.06 
z
" style="fill: #135fa7; fill-opacity: 0.5; stroke: #000000; stroke-linejoin: miter"/>
    </g>
    <g id="text_78">
     <text style="stroke: #000; stroke-width: 0.10; font-size: 10px; font-family: 'DejaVu Sans', sans-serif; text-anchor: start" x="702.62" y="212.07" transform="rotate(-0 702.62 212.07)">270</text>
    </g>
    <g id="patch_327">
     <path d="M 674.62 227.64 
L 694.62 227.64 
L 694.62 220.64 
L 674.62 220.64 
z
" style="fill: #08488e; fill-opacity: 0.5; stroke: #000000; stroke-linejoin: miter"/>
    </g>
    <g id="text_79">
     <text style="stroke: #000; stroke-width: 0.10; font-size: 10px; font-family: 'DejaVu Sans', sans-serif; text-anchor: start" x="702.62" y="227.65" transform="rotate(-0 702.62 227.65)">300</text>
    </g>
    <g id="patch_328">
     <path d="M 674.62 243.22 
L 694.62 243.22 
L 694.62 236.22 
L 674.62 236.22 
z
" style="fill: #08306b; fill-opacity: 0.5; stroke: #000000; stroke-linejoin: miter"/>
    </g>
    <g id="text_80">
     <text style="stroke: #000; stroke-width: 0.10; font-size: 10px; font-family: 'DejaVu Sans', sans-serif; text-anchor: start" x="702.62" y="243.22" transform="rotate(-0 702.62 243.22)">330</text>
    </g>
   </g>
  </g>
  <g id="axes_4">
   <g id="patch_329">
    <path d="M 422.21 835.08 
L 741.06 835.08 
L 741.06 471.96 
L 422.21 471.96 
z
" style="fill: #ffffff"/>
   </g>
   <g id="matplotlib.axis_7">
    <g id="xtick_25">
     <g id="line2d_145">
      <g>
       <use href="#m92da7aff10" x="422.21" y="471.96" style="stroke: #000000; stroke-width: 0.8"/>
      </g>
     </g>
     <g id="text_81">
      <text style="stroke: #000; stroke-width: 0.10; font-size: 10px; font-family: 'DejaVu Sans', sans-serif; text-anchor: middle" x="422.21" y="462.72" transform="rotate(-0 422.21 462.72)">0.0</text>
     </g>
    </g>
    <g id="xtick_26">
     <g id="line2d_146">
      <g>
       <use href="#m92da7aff10" x="464.72" y="471.96" style="stroke: #000000; stroke-width: 0.8"/>
      </g>
     </g>
     <g id="text_82">
      <text style="stroke: #000; stroke-width: 0.10; font-size: 10px; font-family: 'DejaVu Sans', sans-serif; text-anchor: middle" x="464.73" y="462.72" transform="rotate(-0 464.73 462.72)">0.2</text>
     </g>
    </g>
    <g id="xtick_27">
     <g id="line2d_147">
      <g>
       <use href="#m92da7aff10" x="507.24" y="471.96" style="stroke: #000000; stroke-width: 0.8"/>
      </g>
     </g>
     <g id="text_83">
      <text style="stroke: #000; stroke-width: 0.10; font-size: 10px; font-family: 'DejaVu Sans', sans-serif; text-anchor: middle" x="507.24" y="462.72" transform="rotate(-0 507.24 462.72)">0.4</text>
     </g>
    </g>
    <g id="xtick_28">
     <g id="line2d_148">
      <g>
       <use href="#m92da7aff10" x="549.75" y="471.96" style="stroke: #000000; stroke-width: 0.8"/>
      </g>
     </g>
     <g id="text_84">
      <text style="stroke: #000; stroke-width: 0.10; font-size: 10px; font-family: 'DejaVu Sans', sans-serif; text-anchor: middle" x="549.75" y="462.72" transform="rotate(-0 549.75 462.72)">0.6</text>
     </g>
    </g>
    <g id="xtick_29">
     <g id="line2d_149">
      <g>
       <use href="#m92da7aff10" x="592.26" y="471.96" style="stroke: #000000; stroke-width: 0.8"/>
      </g>
     </g>
     <g id="text_85">
      <text style="stroke: #000; stroke-width: 0.10; font-size: 10px; font-family: 'DejaVu Sans', sans-serif; text-anchor: middle" x="592.27" y="462.72" transform="rotate(-0 592.27 462.72)">0.8</text>
     </g>
    </g>
    <g id="xtick_30">
     <g id="line2d_150">
      <g>
       <use href="#m92da7aff10" x="634.78" y="471.96" style="stroke: #000000; stroke-width: 0.8"/>
      </g>
     </g>
     <g id="text_86">
      <text style="stroke: #000; stroke-width: 0.10; font-size: 10px; font-family: 'DejaVu Sans', sans-serif; text-anchor: middle" x="634.78" y="462.72" transform="rotate(-0 634.78 462.72)">1.0</text>
     </g>
    </g>
    <g id="xtick_31">
     <g id="line2d_151">
      <g>
       <use href="#m92da7aff10" x="677.29" y="471.96" style="stroke: #000000; stroke-width: 0.8"/>
      </g>
     </g>
     <g id="text_87">
      <text style="stroke: #000; stroke-width: 0.10; font-size: 10px; font-family: 'DejaVu Sans', sans-serif; text-anchor: middle" x="677.30" y="462.72" transform="rotate(-0 677.30 462.72)">1.2</text>
     </g>
    </g>
    <g id="xtick_32">
     <g id="line2d_152">
      <g>
       <use href="#m92da7aff10" x="719.80" y="471.96" style="stroke: #000000; stroke-width: 0.8"/>
      </g>
     </g>
     <g id="text_88">
      <text style="stroke: #000; stroke-width: 0.10; font-size: 10px; font-family: 'DejaVu Sans', sans-serif; text-anchor: middle" x="719.81" y="462.72" transform="rotate(-0 719.81 462.72)">1.4</text>
     </g>
    </g>
    <g id="text_89">
     <text style="stroke: #000; stroke-width: 0.10; font-size: 10px; font-family: 'DejaVu Sans', sans-serif; text-anchor: middle" x="581.64" y="450.63" transform="rotate(-0 581.64 450.63)">Radius (mm)</text>
    </g>
   </g>
   <g id="matplotlib.axis_8">
    <g id="ytick_25">
     <g id="line2d_153">
      <g>
       <use href="#m5d545ce8f8" x="422.21" y="487.09" style="stroke: #000000; stroke-width: 0.8"/>
      </g>
     </g>
     <g id="text_90">
      <text style="stroke: #000; stroke-width: 0.10; font-size: 10px; font-family: 'DejaVu Sans', sans-serif; text-anchor: end" x="415.21" y="492.37" transform="rotate(-0 415.21 492.37)">0</text>
     </g>
    </g>
    <g id="ytick_26">
     <g id="line2d_154">
      <g>
       <use href="#m5d545ce8f8" x="422.21" y="517.35" style="stroke: #000000; stroke-width: 0.8"/>
      </g>
     </g>
     <g id="text_91">
      <text style="stroke: #000; stroke-width: 0.10; font-size: 10px; font-family: 'DejaVu Sans', sans-serif; text-anchor: end" x="415.21" y="522.63" transform="rotate(-0 415.21 522.63)">30</text>
     </g>
    </g>
    <g id="ytick_27">
     <g id="line2d_155">
      <g>
       <use href="#m5d545ce8f8" x="422.21" y="547.61" style="stroke: #000000; stroke-width: 0.8"/>
      </g>
     </g>
     <g id="text_92">
      <text style="stroke: #000; stroke-width: 0.10; font-size: 10px; font-family: 'DejaVu Sans', sans-serif; text-anchor: end" x="415.21" y="552.89" transform="rotate(-0 415.21 552.89)">60</text>
     </g>
    </g>
    <g id="ytick_28">
     <g id="line2d_156">
      <g>
       <use href="#m5d545ce8f8" x="422.21" y="577.87" style="stroke: #000000; stroke-width: 0.8"/>
      </g>
     </g>
     <g id="text_93">
      <text style="stroke: #000; stroke-width: 0.10; font-size: 10px; font-family: 'DejaVu Sans', sans-serif; text-anchor: end" x="415.21" y="583.15" transform="rotate(-0 415.21 583.15)">90</text>
     </g>
    </g>
    <g id="ytick_29">
     <g id="line2d_157">
      <g>
       <use href="#m5d545ce8f8" x="422.21" y="608.13" style="stroke: #000000; stroke-width: 0.8"/>
      </g>
     </g>
     <g id="text_94">
      <text style="stroke: #000; stroke-width: 0.10; font-size: 10px; font-family: 'DejaVu Sans', sans-serif; text-anchor: end" x="415.21" y="613.41" transform="rotate(-0 415.21 613.41)">120</text>
     </g>
    </g>
    <g id="ytick_30">
     <g id="line2d_158">
      <g>
       <use href="#m5d545ce8f8" x="422.21" y="638.39" style="stroke: #000000; stroke-width: 0.8"/>
      </g>
     </g>
     <g id="text_95">
      <text style="stroke: #000; stroke-width: 0.10; font-size: 10px; font-family: 'DejaVu Sans', sans-serif; text-anchor: end" x="415.21" y="643.67" transform="rotate(-0 415.21 643.67)">150</text>
     </g>
    </g>
    <g id="ytick_31">
     <g id="line2d_159">
      <g>
       <use href="#m5d545ce8f8" x="422.21" y="668.65" style="stroke: #000000; stroke-width: 0.8"/>
      </g>
     </g>
     <g id="text_96">
      <text style="stroke: #000; stroke-width: 0.10; font-size: 10px; font-family: 'DejaVu Sans', sans-serif; text-anchor: end" x="415.21" y="673.93" transform="rotate(-0 415.21 673.93)">180</text>
     </g>
    </g>
    <g id="ytick_32">
     <g id="line2d_160">
      <g>
       <use href="#m5d545ce8f8" x="422.21" y="698.91" style="stroke: #000000; stroke-width: 0.8"/>
      </g>
     </g>
     <g id="text_97">
      <text style="stroke: #000; stroke-width: 0.10; font-size: 10px; font-family: 'DejaVu Sans', sans-serif; text-anchor: end" x="415.21" y="704.19" transform="rotate(-0 415.21 704.19)">210</text>
     </g>
    </g>
    <g id="ytick_33">
     <g id="line2d_161">
      <g>
       <use href="#m5d545ce8f8" x="422.21" y="729.17" style="stroke: #000000; stroke-width: 0.8"/>
      </g>
     </g>
     <g id="text_98">
      <text style="stroke: #000; stroke-width: 0.10; font-size: 10px; font-family: 'DejaVu Sans', sans-serif; text-anchor: end" x="415.21" y="734.45" transform="rotate(-0 415.21 734.45)">240</text>
     </g>
    </g>
    <g id="ytick_34">
     <g id="line2d_162">
      <g>
       <use href="#m5d545ce8f8" x="422.21" y="759.43" style="stroke: #000000; stroke-width: 0.8"/>
      </g>
     </g>
     <g id="text_99">
      <text style="stroke: #000; stroke-width: 0.10; font-size: 10px; font-family: 'DejaVu Sans', sans-serif; text-anchor: end" x="415.21" y="764.71" transform="rotate(-0 415.21 764.71)">270</text>
     </g>
    </g>
    <g id="ytick_35">
     <g id="line2d_163">
      <g>
       <use href="#m5d545ce8f8" x="422.21" y="789.69" style="stroke: #000000; stroke-width: 0.8"/>
      </g>
     </g>
     <g id="text_100">
      <text style="stroke: #000; stroke-width: 0.10; font-size: 10px; font-family: 'DejaVu Sans', sans-serif; text-anchor: end" x="415.21" y="794.97" transform="rotate(-0 415.21 794.97)">300</text>
     </g>
    </g>
    <g id="ytick_36">
     <g id="line2d_164">
      <g>
       <use href="#m5d545ce8f8" x="422.21" y="819.95" style="stroke: #000000; stroke-width: 0.8"/>
      </g>
     </g>
     <g id="text_101">
      <text style="stroke: #000; stroke-width: 0.10; font-size: 10px; font-family: 'DejaVu Sans', sans-serif; text-anchor: end" x="415.21" y="825.23" transform="rotate(-0 415.21 825.23)">330</text>
     </g>
    </g>
    <g id="text_102">
     <text style="stroke: #000; stroke-width: 0.10; font-size: 10.30px; font-family: 'DejaVu Sans', sans-serif; text-anchor: middle" x="390.37" y="653.52" transform="rotate(-90 390.37 653.52)">Gantry Angle</text>
    </g>
   </g>
   <g id="patch_330">
    <path d="M 540 474.99 
L 540 499.20 
L 601.96 499.20 
L 601.96 474.99 
L 540 474.99 
z
" clip-path="url(#pe8e8a788a5)" style="fill: #eaf1f8; stroke: #2b2b2b; stroke-linejoin: miter"/>
   </g>
   <g id="line2d_165">
    <path d="M 540 487.09 
L 480.49 487.09 
" clip-path="url(#pe8e8a788a5)" style="fill: none; stroke: #2b2b2b"/>
   </g>
   <g id="line2d_166">
    <path d="M 601.96 487.09 
L 689.50 487.09 
" clip-path="url(#pe8e8a788a5)" style="fill: none; stroke: #2b2b2b"/>
   </g>
   <g id="line2d_167">
    <path d="M 480.49 481.04 
L 480.49 493.14 
" clip-path="url(#pe8e8a788a5)" style="fill: none; stroke: #2b2b2b; stroke-linecap: square"/>
   </g>
   <g id="line2d_168">
    <path d="M 689.50 481.04 
L 689.50 493.14 
" clip-path="url(#pe8e8a788a5)" style="fill: none; stroke: #2b2b2b; stroke-linecap: square"/>
   </g>
   <g id="line2d_169"/>
   <g id="patch_331">
    <path d="M 533.60 505.25 
L 533.60 529.46 
L 589.50 529.46 
L 589.50 505.25 
L 533.60 505.25 
z
" clip-path="url(#pe8e8a788a5)" style="fill: #dce7f2; stroke: #2b2b2b; stroke-linejoin: miter"/>
   </g>
   <g id="line2d_170">
    <path d="M 533.60 517.35 
L 502.13 517.35 
" clip-path="url(#pe8e8a788a5)" style="fill: none; stroke: #2b2b2b"/>
   </g>
   <g id="line2d_171">
    <path d="M 589.50 517.35 
L 649.83 517.35 
" clip-path="url(#pe8e8a788a5)" style="fill: none; stroke: #2b2b2b"/>
   </g>
   <g id="line2d_172">
    <path d="M 502.13 511.30 
L 502.13 523.40 
" clip-path="url(#pe8e8a788a5)" style="fill: none; stroke: #2b2b2b; stroke-linecap: square"/>
   </g>
   <g id="line2d_173">
    <path d="M 649.83 511.30 
L 649.83 523.40 
" clip-path="url(#pe8e8a788a5)" style="fill: none; stroke: #2b2b2b; stroke-linecap: square"/>
   </g>
   <g id="line2d_174">
    <defs>
     <path id="mb9970c75a4" d="M 0 3 
C 0.79 3 1.55 2.68 2.12 2.12 
C 2.68 1.55 3 0.79 3 0 
C 3 -0.79 2.68 -1.55 2.12 -2.12 
C 1.55 -2.68 0.79 -3 0 -3 
C -0.79 -3 -1.55 -2.68 -2.12 -2.12 
C -2.68 -1.55 -3 -0.79 -3 0 
C -3 0.79 -2.68 1.55 -2.12 2.12 
C -1.55 2.68 -0.79 3 0 3 
z
" style="stroke: #2b2b2b"/>
    </defs>
    <g clip-path="url(#pe8e8a788a5)">
     <use href="#mb9970c75a4" x="677.04" y="517.35" style="fill-opacity: 0; stroke: #2b2b2b"/>
     <use href="#mb9970c75a4" x="677.70" y="517.35" style="fill-opacity: 0; stroke: #2b2b2b"/>
    </g>
   </g>
   <g id="patch_332">
    <path d="M 526.72 535.51 
L 526.72 559.71 
L 583.11 559.71 
L 583.11 535.51 
L 526.72 535.51 
z
" clip-path="url(#pe8e8a788a5)" style="fill: #ceddeb; stroke: #2b2b2b; stroke-linejoin: miter"/>
   </g>
   <g id="line2d_175">
    <path d="M 526.72 547.61 
L 487.86 547.61 
" clip-path="url(#pe8e8a788a5)" style="fill: none; stroke: #2b2b2b"/>
   </g>
   <g id="line2d_176">
    <path d="M 583.11 547.61 
L 656.22 547.61 
" clip-path="url(#pe8e8a788a5)" style="fill: none; stroke: #2b2b2b"/>
   </g>
   <g id="line2d_177">
    <path d="M 487.86 541.56 
L 487.86 553.66 
" clip-path="url(#pe8e8a788a5)" style="fill: none; stroke: #2b2b2b; stroke-linecap: square"/>
   </g>
   <g id="line2d_178">
    <path d="M 656.22 541.56 
L 656.22 553.66 
" clip-path="url(#pe8e8a788a5)" style="fill: none; stroke: #2b2b2b; stroke-linecap: square"/>
   </g>
   <g id="line2d_179">
    <g clip-path="url(#pe8e8a788a5)">
     <use href="#mb9970c75a4" x="694.59" y="547.61" style="fill-opacity: 0; stroke: #2b2b2b"/>
    </g>
   </g>
   <g id="patch_333">
    <path d="M 532.62 565.77 
L 532.62 589.97 
L 574.09 589.97 
L 574.09 565.77 
L 532.62 565.77 
z
" clip-path="url(#pe8e8a788a5)" style="fill: #bbd2e2; stroke: #2b2b2b; stroke-linejoin: miter"/>
   </g>
   <g id="line2d_180">
    <path d="M 532.62 577.87 
L 486.22 577.87 
" clip-path="url(#pe8e8a788a5)" style="fill: none; stroke: #2b2b2b"/>
   </g>
   <g id="line2d_181">
    <path d="M 574.09 577.87 
L 631.80 577.87 
" clip-path="url(#pe8e8a788a5)" style="fill: none; stroke: #2b2b2b"/>
   </g>
   <g id="line2d_182">
    <path d="M 486.22 571.82 
L 486.22 583.92 
" clip-path="url(#pe8e8a788a5)" style="fill: none; stroke: #2b2b2b; stroke-linecap: square"/>
   </g>
   <g id="line2d_183">
    <path d="M 631.80 571.82 
L 631.80 583.92 
" clip-path="url(#pe8e8a788a5)" style="fill: none; stroke: #2b2b2b; stroke-linecap: square"/>
   </g>
   <g id="line2d_184">
    <g clip-path="url(#pe8e8a788a5)">
     <use href="#mb9970c75a4" x="655.90" y="577.87" style="fill-opacity: 0; stroke: #2b2b2b"/>
     <use href="#mb9970c75a4" x="710.16" y="577.87" style="fill-opacity: 0; stroke: #2b2b2b"/>
    </g>
   </g>
   <g id="patch_334">
    <path d="M 528.36 596.03 
L 528.36 620.23 
L 603.27 620.23 
L 603.27 596.03 
L 528.36 596.03 
z
" clip-path="url(#pe8e8a788a5)" style="fill: #a3c5d7; stroke: #2b2b2b; stroke-linejoin: miter"/>
   </g>
   <g id="line2d_185">
    <path d="M 528.36 608.13 
L 487.37 608.13 
" clip-path="url(#pe8e8a788a5)" style="fill: none; stroke: #2b2b2b"/>
   </g>
   <g id="line2d_186">
    <path d="M 603.27 608.13 
L 658.03 608.13 
" clip-path="url(#pe8e8a788a5)" style="fill: none; stroke: #2b2b2b"/>
   </g>
   <g id="line2d_187">
    <path d="M 487.37 602.08 
L 487.37 614.18 
" clip-path="url(#pe8e8a788a5)" style="fill: none; stroke: #2b2b2b; stroke-linecap: square"/>
   </g>
   <g id="line2d_188">
    <path d="M 658.03 602.08 
L 658.03 614.18 
" clip-path="url(#pe8e8a788a5)" style="fill: none; stroke: #2b2b2b; stroke-linecap: square"/>
   </g>
   <g id="line2d_189"/>
   <g id="patch_335">
    <path d="M 525.40 626.29 
L 525.40 650.49 
L 578.68 650.49 
L 578.68 626.29 
L 525.40 626.29 
z
" clip-path="url(#pe8e8a788a5)" style="fill: #86b3cd; stroke: #2b2b2b; stroke-linejoin: miter"/>
   </g>
   <g id="line2d_190">
    <path d="M 525.40 638.39 
L 491.80 638.39 
" clip-path="url(#pe8e8a788a5)" style="fill: none; stroke: #2b2b2b"/>
   </g>
   <g id="line2d_191">
    <path d="M 578.68 638.39 
L 659.67 638.39 
" clip-path="url(#pe8e8a788a5)" style="fill: none; stroke: #2b2b2b"/>
   </g>
   <g id="line2d_192">
    <path d="M 491.80 632.34 
L 491.80 644.44 
" clip-path="url(#pe8e8a788a5)" style="fill: none; stroke: #2b2b2b; stroke-linecap: square"/>
   </g>
   <g id="line2d_193">
    <path d="M 659.67 632.34 
L 659.67 644.44 
" clip-path="url(#pe8e8a788a5)" style="fill: none; stroke: #2b2b2b; stroke-linecap: square"/>
   </g>
   <g id="line2d_194">
    <g clip-path="url(#pe8e8a788a5)">
     <use href="#mb9970c75a4" x="660.98" y="638.39" style="fill-opacity: 0; stroke: #2b2b2b"/>
     <use href="#mb9970c75a4" x="736.88" y="638.39" style="fill-opacity: 0; stroke: #2b2b2b"/>
    </g>
   </g>
   <g id="patch_336">
    <path d="M 532.62 656.55 
L 532.62 680.75 
L 586.55 680.75 
L 586.55 656.55 
L 532.62 656.55 
z
" clip-path="url(#pe8e8a788a5)" style="fill: #6da2c3; stroke: #2b2b2b; stroke-linejoin: miter"/>
   </g>
   <g id="line2d_195">
    <path d="M 532.62 668.65 
L 492.13 668.65 
" clip-path="url(#pe8e8a788a5)" style="fill: none; stroke: #2b2b2b"/>
   </g>
   <g id="line2d_196">
    <path d="M 586.55 668.65 
L 657.21 668.65 
" clip-path="url(#pe8e8a788a5)" style="fill: none; stroke: #2b2b2b"/>
   </g>
   <g id="line2d_197">
    <path d="M 492.13 662.60 
L 492.13 674.70 
" clip-path="url(#pe8e8a788a5)" style="fill: none; stroke: #2b2b2b; stroke-linecap: square"/>
   </g>
   <g id="line2d_198">
    <path d="M 657.21 662.60 
L 657.21 674.70 
" clip-path="url(#pe8e8a788a5)" style="fill: none; stroke: #2b2b2b; stroke-linecap: square"/>
   </g>
   <g id="line2d_199">
    <g clip-path="url(#pe8e8a788a5)">
     <use href="#mb9970c75a4" x="703.60" y="668.65" style="fill-opacity: 0; stroke: #2b2b2b"/>
     <use href="#mb9970c75a4" x="713.11" y="668.65" style="fill-opacity: 0; stroke: #2b2b2b"/>
    </g>
   </g>
   <g id="patch_337">
    <path d="M 528.36 686.81 
L 528.36 711.01 
L 601.14 711.01 
L 601.14 686.81 
L 528.36 686.81 
z
" clip-path="url(#pe8e8a788a5)" style="fill: #5591b7; stroke: #2b2b2b; stroke-linejoin: miter"/>
   </g>
   <g id="line2d_200">
    <path d="M 528.36 698.91 
L 482.78 698.91 
" clip-path="url(#pe8e8a788a5)" style="fill: none; stroke: #2b2b2b"/>
   </g>
   <g id="line2d_201">
    <path d="M 601.14 698.91 
L 639.01 698.91 
" clip-path="url(#pe8e8a788a5)" style="fill: none; stroke: #2b2b2b"/>
   </g>
   <g id="line2d_202">
    <path d="M 482.78 692.86 
L 482.78 704.96 
" clip-path="url(#pe8e8a788a5)" style="fill: none; stroke: #2b2b2b; stroke-linecap: square"/>
   </g>
   <g id="line2d_203">
    <path d="M 639.01 692.86 
L 639.01 704.96 
" clip-path="url(#pe8e8a788a5)" style="fill: none; stroke: #2b2b2b; stroke-linecap: square"/>
   </g>
   <g id="line2d_204"/>
   <g id="patch_338">
    <path d="M 526.72 717.06 
L 526.72 741.27 
L 601.96 741.27 
L 601.96 717.06 
L 526.72 717.06 
z
" clip-path="url(#pe8e8a788a5)" style="fill: #417dab; stroke: #2b2b2b; stroke-linejoin: miter"/>
   </g>
   <g id="line2d_205">
    <path d="M 526.72 729.17 
L 486.55 729.17 
" clip-path="url(#pe8e8a788a5)" style="fill: none; stroke: #2b2b2b"/>
   </g>
   <g id="line2d_206">
    <path d="M 601.96 729.17 
L 697.21 729.17 
" clip-path="url(#pe8e8a788a5)" style="fill: none; stroke: #2b2b2b"/>
   </g>
   <g id="line2d_207">
    <path d="M 486.55 723.12 
L 486.55 735.22 
" clip-path="url(#pe8e8a788a5)" style="fill: none; stroke: #2b2b2b; stroke-linecap: square"/>
   </g>
   <g id="line2d_208">
    <path d="M 697.21 723.12 
L 697.21 735.22 
" clip-path="url(#pe8e8a788a5)" style="fill: none; stroke: #2b2b2b; stroke-linecap: square"/>
   </g>
   <g id="line2d_209"/>
   <g id="patch_339">
    <path d="M 522.78 747.32 
L 522.78 771.53 
L 573.11 771.53 
L 573.11 747.32 
L 522.78 747.32 
z
" clip-path="url(#pe8e8a788a5)" style="fill: #306b9f; stroke: #2b2b2b; stroke-linejoin: miter"/>
   </g>
   <g id="line2d_210">
    <path d="M 522.78 759.43 
L 482.78 759.43 
" clip-path="url(#pe8e8a788a5)" style="fill: none; stroke: #2b2b2b"/>
   </g>
   <g id="line2d_211">
    <path d="M 573.11 759.43 
L 637.70 759.43 
" clip-path="url(#pe8e8a788a5)" style="fill: none; stroke: #2b2b2b"/>
   </g>
   <g id="line2d_212">
    <path d="M 482.78 753.38 
L 482.78 765.48 
" clip-path="url(#pe8e8a788a5)" style="fill: none; stroke: #2b2b2b; stroke-linecap: square"/>
   </g>
   <g id="line2d_213">
    <path d="M 637.70 753.38 
L 637.70 765.48 
" clip-path="url(#pe8e8a788a5)" style="fill: none; stroke: #2b2b2b; stroke-linecap: square"/>
   </g>
   <g id="line2d_214">
    <g clip-path="url(#pe8e8a788a5)">
     <use href="#mb9970c75a4" x="650.65" y="759.43" style="fill-opacity: 0; stroke: #2b2b2b"/>
    </g>
   </g>
   <g id="patch_340">
    <path d="M 530.16 777.58 
L 530.16 801.79 
L 586.55 801.79 
L 586.55 777.58 
L 530.16 777.58 
z
" clip-path="url(#pe8e8a788a5)" style="fill: #20588f; stroke: #2b2b2b; stroke-linejoin: miter"/>
   </g>
   <g id="line2d_215">
    <path d="M 530.16 789.69 
L 494.26 789.69 
" clip-path="url(#pe8e8a788a5)" style="fill: none; stroke: #2b2b2b"/>
   </g>
   <g id="line2d_216">
    <path d="M 586.55 789.69 
L 649.83 789.69 
" clip-path="url(#pe8e8a788a5)" style="fill: none; stroke: #2b2b2b"/>
   </g>
   <g id="line2d_217">
    <path d="M 494.26 783.64 
L 494.26 795.74 
" clip-path="url(#pe8e8a788a5)" style="fill: none; stroke: #2b2b2b; stroke-linecap: square"/>
   </g>
   <g id="line2d_218">
    <path d="M 649.83 783.64 
L 649.83 795.74 
" clip-path="url(#pe8e8a788a5)" style="fill: none; stroke: #2b2b2b; stroke-linecap: square"/>
   </g>
   <g id="line2d_219"/>
   <g id="patch_341">
    <path d="M 528.85 807.84 
L 528.85 832.05 
L 581.80 832.05 
L 581.80 807.84 
L 528.85 807.84 
z
" clip-path="url(#pe8e8a788a5)" style="fill: #184578; stroke: #2b2b2b; stroke-linejoin: miter"/>
   </g>
   <g id="line2d_220">
    <path d="M 528.85 819.95 
L 480.49 819.95 
" clip-path="url(#pe8e8a788a5)" style="fill: none; stroke: #2b2b2b"/>
   </g>
   <g id="line2d_221">
    <path d="M 581.80 819.95 
L 646.88 819.95 
" clip-path="url(#pe8e8a788a5)" style="fill: none; stroke: #2b2b2b"/>
   </g>
   <g id="line2d_222">
    <path d="M 480.49 813.90 
L 480.49 826.00 
" clip-path="url(#pe8e8a788a5)" style="fill: none; stroke: #2b2b2b; stroke-linecap: square"/>
   </g>
   <g id="line2d_223">
    <path d="M 646.88 813.90 
L 646.88 826.00 
" clip-path="url(#pe8e8a788a5)" style="fill: none; stroke: #2b2b2b; stroke-linecap: square"/>
   </g>
   <g id="line2d_224">
    <g clip-path="url(#pe8e8a788a5)">
     <use href="#mb9970c75a4" x="664.91" y="819.95" style="fill-opacity: 0; stroke: #2b2b2b"/>
     <use href="#mb9970c75a4" x="698.52" y="819.95" style="fill-opacity: 0; stroke: #2b2b2b"/>
     <use href="#mb9970c75a4" x="705.40" y="819.95" style="fill-opacity: 0; stroke: #2b2b2b"/>
    </g>
   </g>
   <g id="line2d_225">
    <path d="M 568.85 474.99 
L 568.85 499.20 
" clip-path="url(#pe8e8a788a5)" style="fill: none; stroke: #2b2b2b"/>
   </g>
   <g id="line2d_226">
    <path d="M 558.52 505.25 
L 558.52 529.46 
" clip-path="url(#pe8e8a788a5)" style="fill: none; stroke: #2b2b2b"/>
   </g>
   <g id="line2d_227">
    <path d="M 557.21 535.51 
L 557.21 559.71 
" clip-path="url(#pe8e8a788a5)" style="fill: none; stroke: #2b2b2b"/>
   </g>
   <g id="line2d_228">
    <path d="M 550.32 565.77 
L 550.32 589.97 
" clip-path="url(#pe8e8a788a5)" style="fill: none; stroke: #2b2b2b"/>
   </g>
   <g id="line2d_229">
    <path d="M 584.42 596.03 
L 584.42 620.23 
" clip-path="url(#pe8e8a788a5)" style="fill: none; stroke: #2b2b2b"/>
   </g>
   <g id="line2d_230">
    <path d="M 546.88 626.29 
L 546.88 650.49 
" clip-path="url(#pe8e8a788a5)" style="fill: none; stroke: #2b2b2b"/>
   </g>
   <g id="line2d_231">
    <path d="M 551.14 656.55 
L 551.14 680.75 
" clip-path="url(#pe8e8a788a5)" style="fill: none; stroke: #2b2b2b"/>
   </g>
   <g id="line2d_232">
    <path d="M 549.01 686.81 
L 549.01 711.01 
" clip-path="url(#pe8e8a788a5)" style="fill: none; stroke: #2b2b2b"/>
   </g>
   <g id="line2d_233">
    <path d="M 553.27 717.06 
L 553.27 741.27 
" clip-path="url(#pe8e8a788a5)" style="fill: none; stroke: #2b2b2b"/>
   </g>
   <g id="line2d_234">
    <path d="M 545.08 747.32 
L 545.08 771.53 
" clip-path="url(#pe8e8a788a5)" style="fill: none; stroke: #2b2b2b"/>
   </g>
   <g id="line2d_235">
    <path d="M 571.80 777.58 
L 571.80 801.79 
" clip-path="url(#pe8e8a788a5)" style="fill: none; stroke: #2b2b2b"/>
   </g>
   <g id="line2d_236">
    <path d="M 549.01 807.84 
L 549.01 832.05 
" clip-path="url(#pe8e8a788a5)" style="fill: none; stroke: #2b2b2b"/>
   </g>
   <g id="patch_342">
    <path d="M 422.21 835.08 
L 422.21 471.96 
" style="fill: none; stroke: #000000; stroke-width: 0.8; stroke-linejoin: miter; stroke-linecap: square"/>
   </g>
   <g id="patch_343">
    <path d="M 741.06 835.08 
L 741.06 471.96 
" style="fill: none; stroke: #000000; stroke-width: 0.8; stroke-linejoin: miter; stroke-linecap: square"/>
   </g>
   <g id="patch_344">
    <path d="M 422.21 835.08 
L 741.06 835.08 
" style="fill: none; stroke: #000000; stroke-width: 0.8; stroke-linejoin: miter; stroke-linecap: square"/>
   </g>
   <g id="patch_345">
    <path d="M 422.21 471.96 
L 741.06 471.96 
" style="fill: none; stroke: #000000; stroke-width: 0.8; stroke-linejoin: miter; stroke-linecap: square"/>
   </g>
  </g>
  <g id="axes_5">
   <g id="patch_346">
    <path d="M 802.62 395.24 
L 1121.47 395.24 
L 1121.47 38.52 
L 802.62 38.52 
z
" style="fill: #ffffff"/>
   </g>
   <g id="patch_347">
    <path d="M 879.80 395.24 
L 892.25 395.24 
L 892.25 377.40 
L 879.80 377.40 
z
" clip-path="url(#p7c38246ff5)" style="fill: #7f2704; fill-opacity: 0.5"/>
   </g>
   <g id="patch_348">
    <path d="M 892.25 395.24 
L 904.70 395.24 
L 904.70 370.27 
L 892.25 370.27 
z
" clip-path="url(#p7c38246ff5)" style="fill: #7f2704; fill-opacity: 0.5"/>
   </g>
   <g id="patch_349">
    <path d="M 904.70 395.24 
L 917.15 395.24 
L 917.15 370.27 
L 904.70 370.27 
z
" clip-path="url(#p7c38246ff5)" style="fill: #7f2704; fill-opacity: 0.5"/>
   </g>
   <g id="patch_350">
    <path d="M 917.15 395.24 
L 929.60 395.24 
L 929.60 363.14 
L 917.15 363.14 
z
" clip-path="url(#p7c38246ff5)" style="fill: #7f2704; fill-opacity: 0.5"/>
   </g>
   <g id="patch_351">
    <path d="M 929.60 395.24 
L 942.05 395.24 
L 942.05 373.84 
L 929.60 373.84 
z
" clip-path="url(#p7c38246ff5)" style="fill: #7f2704; fill-opacity: 0.5"/>
   </g>
   <g id="patch_352">
    <path d="M 942.05 395.24 
L 954.50 395.24 
L 954.50 380.97 
L 942.05 380.97 
z
" clip-path="url(#p7c38246ff5)" style="fill: #7f2704; fill-opacity: 0.5"/>
   </g>
   <g id="patch_353">
    <path d="M 954.50 395.24 
L 966.95 395.24 
L 966.95 384.54 
L 954.50 384.54 
z
" clip-path="url(#p7c38246ff5)" style="fill: #7f2704; fill-opacity: 0.5"/>
   </g>
   <g id="patch_354">
    <path d="M 966.95 395.24 
L 979.40 395.24 
L 979.40 384.54 
L 966.95 384.54 
z
" clip-path="url(#p7c38246ff5)" style="fill: #7f2704; fill-opacity: 0.5"/>
   </g>
   <g id="patch_355">
    <path d="M 979.40 395.24 
L 991.85 395.24 
L 991.85 388.11 
L 979.40 388.11 
z
" clip-path="url(#p7c38246ff5)" style="fill: #7f2704; fill-opacity: 0.5"/>
   </g>
   <g id="patch_356">
    <path d="M 1041.64 395.24 
L 1054.09 395.24 
L 1054.09 388.11 
L 1041.64 388.11 
z
" clip-path="url(#p7c38246ff5)" style="fill: #7f2704; fill-opacity: 0.5"/>
   </g>
   <g id="patch_357">
    <path d="M 867.35 395.24 
L 879.80 395.24 
L 879.80 384.54 
L 867.35 384.54 
z
" clip-path="url(#p7c38246ff5)" style="fill: #9b3203; fill-opacity: 0.5"/>
   </g>
   <g id="patch_358">
    <path d="M 879.80 377.40 
L 892.25 377.40 
L 892.25 363.14 
L 879.80 363.14 
z
" clip-path="url(#p7c38246ff5)" style="fill: #9b3203; fill-opacity: 0.5"/>
   </g>
   <g id="patch_359">
    <path d="M 892.25 370.27 
L 904.70 370.27 
L 904.70 348.87 
L 892.25 348.87 
z
" clip-path="url(#p7c38246ff5)" style="fill: #9b3203; fill-opacity: 0.5"/>
   </g>
   <g id="patch_360">
    <path d="M 904.70 370.27 
L 917.15 370.27 
L 917.15 345.30 
L 904.70 345.30 
z
" clip-path="url(#p7c38246ff5)" style="fill: #9b3203; fill-opacity: 0.5"/>
   </g>
   <g id="patch_361">
    <path d="M 917.15 363.14 
L 929.60 363.14 
L 929.60 352.43 
L 917.15 352.43 
z
" clip-path="url(#p7c38246ff5)" style="fill: #9b3203; fill-opacity: 0.5"/>
   </g>
   <g id="patch_362">
    <path d="M 929.60 373.84 
L 942.05 373.84 
L 942.05 363.14 
L 929.60 363.14 
z
" clip-path="url(#p7c38246ff5)" style="fill: #9b3203; fill-opacity: 0.5"/>
   </g>
   <g id="patch_363">
    <path d="M 942.05 380.97 
L 954.50 380.97 
L 954.50 366.70 
L 942.05 366.70 
z
" clip-path="url(#p7c38246ff5)" style="fill: #9b3203; fill-opacity: 0.5"/>
   </g>
   <g id="patch_364">
    <path d="M 954.50 384.54 
L 966.95 384.54 
L 966.95 373.84 
L 954.50 373.84 
z
" clip-path="url(#p7c38246ff5)" style="fill: #9b3203; fill-opacity: 0.5"/>
   </g>
   <g id="patch_365">
    <path d="M 966.95 384.54 
L 979.40 384.54 
L 979.40 377.40 
L 966.95 377.40 
z
" clip-path="url(#p7c38246ff5)" style="fill: #9b3203; fill-opacity: 0.5"/>
   </g>
   <g id="patch_366">
    <path d="M 1004.30 395.24 
L 1016.75 395.24 
L 1016.75 384.54 
L 1004.30 384.54 
z
" clip-path="url(#p7c38246ff5)" style="fill: #9b3203; fill-opacity: 0.5"/>
   </g>
   <g id="patch_367">
    <path d="M 1016.75 395.24 
L 1029.19 395.24 
L 1029.19 388.11 
L 1016.75 388.11 
z
" clip-path="url(#p7c38246ff5)" style="fill: #9b3203; fill-opacity: 0.5"/>
   </g>
   <g id="patch_368">
    <path d="M 1029.19 395.24 
L 1041.64 395.24 
L 1041.64 391.67 
L 1029.19 391.67 
z
" clip-path="url(#p7c38246ff5)" style="fill: #9b3203; fill-opacity: 0.5"/>
   </g>
   <g id="patch_369">
    <path d="M 842.45 395.24 
L 854.90 395.24 
L 854.90 391.67 
L 842.45 391.67 
z
" clip-path="url(#p7c38246ff5)" style="fill: #bd3e02; fill-opacity: 0.5"/>
   </g>
   <g id="patch_370">
    <path d="M 854.90 395.24 
L 867.35 395.24 
L 867.35 384.54 
L 854.90 384.54 
z
" clip-path="url(#p7c38246ff5)" style="fill: #bd3e02; fill-opacity: 0.5"/>
   </g>
   <g id="patch_371">
    <path d="M 867.35 384.54 
L 879.80 384.54 
L 879.80 370.27 
L 867.35 370.27 
z
" clip-path="url(#p7c38246ff5)" style="fill: #bd3e02; fill-opacity: 0.5"/>
   </g>
   <g id="patch_372">
    <path d="M 879.80 363.14 
L 892.25 363.14 
L 892.25 345.30 
L 879.80 345.30 
z
" clip-path="url(#p7c38246ff5)" style="fill: #bd3e02; fill-opacity: 0.5"/>
   </g>
   <g id="patch_373">
    <path d="M 892.25 348.87 
L 904.70 348.87 
L 904.70 327.46 
L 892.25 327.46 
z
" clip-path="url(#p7c38246ff5)" style="fill: #bd3e02; fill-opacity: 0.5"/>
   </g>
   <g id="patch_374">
    <path d="M 904.70 345.30 
L 917.15 345.30 
L 917.15 331.03 
L 904.70 331.03 
z
" clip-path="url(#p7c38246ff5)" style="fill: #bd3e02; fill-opacity: 0.5"/>
   </g>
   <g id="patch_375">
    <path d="M 917.15 352.43 
L 929.60 352.43 
L 929.60 338.17 
L 917.15 338.17 
z
" clip-path="url(#p7c38246ff5)" style="fill: #bd3e02; fill-opacity: 0.5"/>
   </g>
   <g id="patch_376">
    <path d="M 929.60 363.14 
L 942.05 363.14 
L 942.05 348.87 
L 929.60 348.87 
z
" clip-path="url(#p7c38246ff5)" style="fill: #bd3e02; fill-opacity: 0.5"/>
   </g>
   <g id="patch_377">
    <path d="M 942.05 366.70 
L 954.50 366.70 
L 954.50 348.87 
L 942.05 348.87 
z
" clip-path="url(#p7c38246ff5)" style="fill: #bd3e02; fill-opacity: 0.5"/>
   </g>
   <g id="patch_378">
    <path d="M 954.50 373.84 
L 966.95 373.84 
L 966.95 359.57 
L 954.50 359.57 
z
" clip-path="url(#p7c38246ff5)" style="fill: #bd3e02; fill-opacity: 0.5"/>
   </g>
   <g id="patch_379">
    <path d="M 966.95 377.40 
L 979.40 377.40 
L 979.40 363.14 
L 966.95 363.14 
z
" clip-path="url(#p7c38246ff5)" style="fill: #bd3e02; fill-opacity: 0.5"/>
   </g>
   <g id="patch_380">
    <path d="M 979.40 388.11 
L 991.85 388.11 
L 991.85 377.40 
L 979.40 377.40 
z
" clip-path="url(#p7c38246ff5)" style="fill: #bd3e02; fill-opacity: 0.5"/>
   </g>
   <g id="patch_381">
    <path d="M 867.35 370.27 
L 879.80 370.27 
L 879.80 363.14 
L 867.35 363.14 
z
" clip-path="url(#p7c38246ff5)" style="fill: #dd4d04; fill-opacity: 0.5"/>
   </g>
   <g id="patch_382">
    <path d="M 879.80 345.30 
L 892.25 345.30 
L 892.25 331.03 
L 879.80 331.03 
z
" clip-path="url(#p7c38246ff5)" style="fill: #dd4d04; fill-opacity: 0.5"/>
   </g>
   <g id="patch_383">
    <path d="M 892.25 327.46 
L 904.70 327.46 
L 904.70 309.63 
L 892.25 309.63 
z
" clip-path="url(#p7c38246ff5)" style="fill: #dd4d04; fill-opacity: 0.5"/>
   </g>
   <g id="patch_384">
    <path d="M 904.70 331.03 
L 917.15 331.03 
L 917.15 313.2 
L 904.70 313.2 
z
" clip-path="url(#p7c38246ff5)" style="fill: #dd4d04; fill-opacity: 0.5"/>
   </g>
   <g id="patch_385">
    <path d="M 917.15 338.17 
L 929.60 338.17 
L 929.60 309.63 
L 917.15 309.63 
z
" clip-path="url(#p7c38246ff5)" style="fill: #dd4d04; fill-opacity: 0.5"/>
   </g>
   <g id="patch_386">
    <path d="M 929.60 348.87 
L 942.05 348.87 
L 942.05 331.03 
L 929.60 331.03 
z
" clip-path="url(#p7c38246ff5)" style="fill: #dd4d04; fill-opacity: 0.5"/>
   </g>
   <g id="patch_387">
    <path d="M 942.05 348.87 
L 954.50 348.87 
L 954.50 323.90 
L 942.05 323.90 
z
" clip-path="url(#p7c38246ff5)" style="fill: #dd4d04; fill-opacity: 0.5"/>
   </g>
   <g id="patch_388">
    <path d="M 954.50 359.57 
L 966.95 359.57 
L 966.95 348.87 
L 954.50 348.87 
z
" clip-path="url(#p7c38246ff5)" style="fill: #dd4d04; fill-opacity: 0.5"/>
   </g>
   <g id="patch_389">
    <path d="M 966.95 363.14 
L 979.40 363.14 
L 979.40 352.43 
L 966.95 352.43 
z
" clip-path="url(#p7c38246ff5)" style="fill: #dd4d04; fill-opacity: 0.5"/>
   </g>
   <g id="patch_390">
    <path d="M 979.40 377.40 
L 991.85 377.40 
L 991.85 370.27 
L 979.40 370.27 
z
" clip-path="url(#p7c38246ff5)" style="fill: #dd4d04; fill-opacity: 0.5"/>
   </g>
   <g id="patch_391">
    <path d="M 991.85 395.24 
L 1004.30 395.24 
L 1004.30 380.97 
L 991.85 380.97 
z
" clip-path="url(#p7c38246ff5)" style="fill: #dd4d04; fill-opacity: 0.5"/>
   </g>
   <g id="patch_392">
    <path d="M 867.35 363.14 
L 879.80 363.14 
L 879.80 352.43 
L 867.35 352.43 
z
" clip-path="url(#p7c38246ff5)" style="fill: #ef6612; fill-opacity: 0.5"/>
   </g>
   <g id="patch_393">
    <path d="M 879.80 331.03 
L 892.25 331.03 
L 892.25 320.33 
L 879.80 320.33 
z
" clip-path="url(#p7c38246ff5)" style="fill: #ef6612; fill-opacity: 0.5"/>
   </g>
   <g id="patch_394">
    <path d="M 892.25 309.63 
L 904.70 309.63 
L 904.70 288.22 
L 892.25 288.22 
z
" clip-path="url(#p7c38246ff5)" style="fill: #ef6612; fill-opacity: 0.5"/>
   </g>
   <g id="patch_395">
    <path d="M 904.70 313.2 
L 917.15 313.2 
L 917.15 295.36 
L 904.70 295.36 
z
" clip-path="url(#p7c38246ff5)" style="fill: #ef6612; fill-opacity: 0.5"/>
   </g>
   <g id="patch_396">
    <path d="M 917.15 309.63 
L 929.60 309.63 
L 929.60 284.66 
L 917.15 284.66 
z
" clip-path="url(#p7c38246ff5)" style="fill: #ef6612; fill-opacity: 0.5"/>
   </g>
   <g id="patch_397">
    <path d="M 929.60 331.03 
L 942.05 331.03 
L 942.05 309.63 
L 929.60 309.63 
z
" clip-path="url(#p7c38246ff5)" style="fill: #ef6612; fill-opacity: 0.5"/>
   </g>
   <g id="patch_398">
    <path d="M 942.05 323.90 
L 954.50 323.90 
L 954.50 313.2 
L 942.05 313.2 
z
" clip-path="url(#p7c38246ff5)" style="fill: #ef6612; fill-opacity: 0.5"/>
   </g>
   <g id="patch_399">
    <path d="M 954.50 348.87 
L 966.95 348.87 
L 966.95 338.17 
L 954.50 338.17 
z
" clip-path="url(#p7c38246ff5)" style="fill: #ef6612; fill-opacity: 0.5"/>
   </g>
   <g id="patch_400">
    <path d="M 966.95 352.43 
L 979.40 352.43 
L 979.40 345.30 
L 966.95 345.30 
z
" clip-path="url(#p7c38246ff5)" style="fill: #ef6612; fill-opacity: 0.5"/>
   </g>
   <g id="patch_401">
    <path d="M 979.40 370.27 
L 991.85 370.27 
L 991.85 363.14 
L 979.40 363.14 
z
" clip-path="url(#p7c38246ff5)" style="fill: #ef6612; fill-opacity: 0.5"/>
   </g>
   <g id="patch_402">
    <path d="M 842.45 391.67 
L 854.90 391.67 
L 854.90 377.40 
L 842.45 377.40 
z
" clip-path="url(#p7c38246ff5)" style="fill: #f9802d; fill-opacity: 0.5"/>
   </g>
   <g id="patch_403">
    <path d="M 867.35 352.43 
L 879.80 352.43 
L 879.80 341.73 
L 867.35 341.73 
z
" clip-path="url(#p7c38246ff5)" style="fill: #f9802d; fill-opacity: 0.5"/>
   </g>
   <g id="patch_404">
    <path d="M 879.80 320.33 
L 892.25 320.33 
L 892.25 309.63 
L 879.80 309.63 
z
" clip-path="url(#p7c38246ff5)" style="fill: #f9802d; fill-opacity: 0.5"/>
   </g>
   <g id="patch_405">
    <path d="M 892.25 288.22 
L 904.70 288.22 
L 904.70 270.39 
L 892.25 270.39 
z
" clip-path="url(#p7c38246ff5)" style="fill: #f9802d; fill-opacity: 0.5"/>
   </g>
   <g id="patch_406">
    <path d="M 904.70 295.36 
L 917.15 295.36 
L 917.15 284.66 
L 904.70 284.66 
z
" clip-path="url(#p7c38246ff5)" style="fill: #f9802d; fill-opacity: 0.5"/>
   </g>
   <g id="patch_407">
    <path d="M 917.15 284.66 
L 929.60 284.66 
L 929.60 266.82 
L 917.15 266.82 
z
" clip-path="url(#p7c38246ff5)" style="fill: #f9802d; fill-opacity: 0.5"/>
   </g>
   <g id="patch_408">
    <path d="M 929.60 309.63 
L 942.05 309.63 
L 942.05 295.36 
L 929.60 295.36 
z
" clip-path="url(#p7c38246ff5)" style="fill: #f9802d; fill-opacity: 0.5"/>
   </g>
   <g id="patch_409">
    <path d="M 942.05 313.2 
L 954.50 313.2 
L 954.50 291.79 
L 942.05 291.79 
z
" clip-path="url(#p7c38246ff5)" style="fill: #f9802d; fill-opacity: 0.5"/>
   </g>
   <g id="patch_410">
    <path d="M 954.50 338.17 
L 966.95 338.17 
L 966.95 327.46 
L 954.50 327.46 
z
" clip-path="url(#p7c38246ff5)" style="fill: #f9802d; fill-opacity: 0.5"/>
   </g>
   <g id="patch_411">
    <path d="M 966.95 345.30 
L 979.40 345.30 
L 979.40 334.60 
L 966.95 334.60 
z
" clip-path="url(#p7c38246ff5)" style="fill: #f9802d; fill-opacity: 0.5"/>
   </g>
   <g id="patch_412">
    <path d="M 979.40 363.14 
L 991.85 363.14 
L 991.85 356.00 
L 979.40 356.00 
z
" clip-path="url(#p7c38246ff5)" style="fill: #f9802d; fill-opacity: 0.5"/>
   </g>
   <g id="patch_413">
    <path d="M 991.85 380.97 
L 1004.30 380.97 
L 1004.30 370.27 
L 991.85 370.27 
z
" clip-path="url(#p7c38246ff5)" style="fill: #f9802d; fill-opacity: 0.5"/>
   </g>
   <g id="patch_414">
    <path d="M 867.35 341.73 
L 879.80 341.73 
L 879.80 327.46 
L 867.35 327.46 
z
" clip-path="url(#p7c38246ff5)" style="fill: #fd994d; fill-opacity: 0.5"/>
   </g>
   <g id="patch_415">
    <path d="M 879.80 309.63 
L 892.25 309.63 
L 892.25 295.36 
L 879.80 295.36 
z
" clip-path="url(#p7c38246ff5)" style="fill: #fd994d; fill-opacity: 0.5"/>
   </g>
   <g id="patch_416">
    <path d="M 892.25 270.39 
L 904.70 270.39 
L 904.70 252.55 
L 892.25 252.55 
z
" clip-path="url(#p7c38246ff5)" style="fill: #fd994d; fill-opacity: 0.5"/>
   </g>
   <g id="patch_417">
    <path d="M 904.70 284.66 
L 917.15 284.66 
L 917.15 266.82 
L 904.70 266.82 
z
" clip-path="url(#p7c38246ff5)" style="fill: #fd994d; fill-opacity: 0.5"/>
   </g>
   <g id="patch_418">
    <path d="M 917.15 266.82 
L 929.60 266.82 
L 929.60 241.85 
L 917.15 241.85 
z
" clip-path="url(#p7c38246ff5)" style="fill: #fd994d; fill-opacity: 0.5"/>
   </g>
   <g id="patch_419">
    <path d="M 929.60 295.36 
L 942.05 295.36 
L 942.05 273.96 
L 929.60 273.96 
z
" clip-path="url(#p7c38246ff5)" style="fill: #fd994d; fill-opacity: 0.5"/>
   </g>
   <g id="patch_420">
    <path d="M 942.05 291.79 
L 954.50 291.79 
L 954.50 273.96 
L 942.05 273.96 
z
" clip-path="url(#p7c38246ff5)" style="fill: #fd994d; fill-opacity: 0.5"/>
   </g>
   <g id="patch_421">
    <path d="M 954.50 327.46 
L 966.95 327.46 
L 966.95 320.33 
L 954.50 320.33 
z
" clip-path="url(#p7c38246ff5)" style="fill: #fd994d; fill-opacity: 0.5"/>
   </g>
   <g id="patch_422">
    <path d="M 966.95 334.60 
L 979.40 334.60 
L 979.40 327.46 
L 966.95 327.46 
z
" clip-path="url(#p7c38246ff5)" style="fill: #fd994d; fill-opacity: 0.5"/>
   </g>
   <g id="patch_423">
    <path d="M 979.40 356.00 
L 991.85 356.00 
L 991.85 348.87 
L 979.40 348.87 
z
" clip-path="url(#p7c38246ff5)" style="fill: #fd994d; fill-opacity: 0.5"/>
   </g>
   <g id="patch_424">
    <path d="M 991.85 370.27 
L 1004.30 370.27 
L 1004.30 363.14 
L 991.85 363.14 
z
" clip-path="url(#p7c38246ff5)" style="fill: #fd994d; fill-opacity: 0.5"/>
   </g>
   <g id="patch_425">
    <path d="M 1016.75 388.11 
L 1029.19 388.11 
L 1029.19 377.40 
L 1016.75 377.40 
z
" clip-path="url(#p7c38246ff5)" style="fill: #fd994d; fill-opacity: 0.5"/>
   </g>
   <g id="patch_426">
    <path d="M 854.90 384.54 
L 867.35 384.54 
L 867.35 366.70 
L 854.90 366.70 
z
" clip-path="url(#p7c38246ff5)" style="fill: #fdb170; fill-opacity: 0.5"/>
   </g>
   <g id="patch_427">
    <path d="M 867.35 327.46 
L 879.80 327.46 
L 879.80 306.06 
L 867.35 306.06 
z
" clip-path="url(#p7c38246ff5)" style="fill: #fdb170; fill-opacity: 0.5"/>
   </g>
   <g id="patch_428">
    <path d="M 879.80 295.36 
L 892.25 295.36 
L 892.25 270.39 
L 879.80 270.39 
z
" clip-path="url(#p7c38246ff5)" style="fill: #fdb170; fill-opacity: 0.5"/>
   </g>
   <g id="patch_429">
    <path d="M 892.25 252.55 
L 904.70 252.55 
L 904.70 227.58 
L 892.25 227.58 
z
" clip-path="url(#p7c38246ff5)" style="fill: #fdb170; fill-opacity: 0.5"/>
   </g>
   <g id="patch_430">
    <path d="M 904.70 266.82 
L 917.15 266.82 
L 917.15 252.55 
L 904.70 252.55 
z
" clip-path="url(#p7c38246ff5)" style="fill: #fdb170; fill-opacity: 0.5"/>
   </g>
   <g id="patch_431">
    <path d="M 917.15 241.85 
L 929.60 241.85 
L 929.60 224.01 
L 917.15 224.01 
z
" clip-path="url(#p7c38246ff5)" style="fill: #fdb170; fill-opacity: 0.5"/>
   </g>
   <g id="patch_432">
    <path d="M 929.60 273.96 
L 942.05 273.96 
L 942.05 263.25 
L 929.60 263.25 
z
" clip-path="url(#p7c38246ff5)" style="fill: #fdb170; fill-opacity: 0.5"/>
   </g>
   <g id="patch_433">
    <path d="M 942.05 273.96 
L 954.50 273.96 
L 954.50 263.25 
L 942.05 263.25 
z
" clip-path="url(#p7c38246ff5)" style="fill: #fdb170; fill-opacity: 0.5"/>
   </g>
   <g id="patch_434">
    <path d="M 954.50 320.33 
L 966.95 320.33 
L 966.95 313.2 
L 954.50 313.2 
z
" clip-path="url(#p7c38246ff5)" style="fill: #fdb170; fill-opacity: 0.5"/>
   </g>
   <g id="patch_435">
    <path d="M 966.95 327.46 
L 979.40 327.46 
L 979.40 320.33 
L 966.95 320.33 
z
" clip-path="url(#p7c38246ff5)" style="fill: #fdb170; fill-opacity: 0.5"/>
   </g>
   <g id="patch_436">
    <path d="M 979.40 348.87 
L 991.85 348.87 
L 991.85 341.73 
L 979.40 341.73 
z
" clip-path="url(#p7c38246ff5)" style="fill: #fdb170; fill-opacity: 0.5"/>
   </g>
   <g id="patch_437">
    <path d="M 1041.64 388.11 
L 1054.09 388.11 
L 1054.09 380.97 
L 1041.64 380.97 
z
" clip-path="url(#p7c38246ff5)" style="fill: #fdb170; fill-opacity: 0.5"/>
   </g>
   <g id="patch_438">
    <path d="M 867.35 306.06 
L 879.80 306.06 
L 879.80 291.79 
L 867.35 291.79 
z
" clip-path="url(#p7c38246ff5)" style="fill: #fdca99; fill-opacity: 0.5"/>
   </g>
   <g id="patch_439">
    <path d="M 879.80 270.39 
L 892.25 270.39 
L 892.25 256.12 
L 879.80 256.12 
z
" clip-path="url(#p7c38246ff5)" style="fill: #fdca99; fill-opacity: 0.5"/>
   </g>
   <g id="patch_440">
    <path d="M 892.25 227.58 
L 904.70 227.58 
L 904.70 202.61 
L 892.25 202.61 
z
" clip-path="url(#p7c38246ff5)" style="fill: #fdca99; fill-opacity: 0.5"/>
   </g>
   <g id="patch_441">
    <path d="M 904.70 252.55 
L 917.15 252.55 
L 917.15 227.58 
L 904.70 227.58 
z
" clip-path="url(#p7c38246ff5)" style="fill: #fdca99; fill-opacity: 0.5"/>
   </g>
   <g id="patch_442">
    <path d="M 917.15 224.01 
L 929.60 224.01 
L 929.60 206.18 
L 917.15 206.18 
z
" clip-path="url(#p7c38246ff5)" style="fill: #fdca99; fill-opacity: 0.5"/>
   </g>
   <g id="patch_443">
    <path d="M 929.60 263.25 
L 942.05 263.25 
L 942.05 245.42 
L 929.60 245.42 
z
" clip-path="url(#p7c38246ff5)" style="fill: #fdca99; fill-opacity: 0.5"/>
   </g>
   <g id="patch_444">
    <path d="M 942.05 263.25 
L 954.50 263.25 
L 954.50 252.55 
L 942.05 252.55 
z
" clip-path="url(#p7c38246ff5)" style="fill: #fdca99; fill-opacity: 0.5"/>
   </g>
   <g id="patch_445">
    <path d="M 954.50 313.2 
L 966.95 313.2 
L 966.95 306.06 
L 954.50 306.06 
z
" clip-path="url(#p7c38246ff5)" style="fill: #fdca99; fill-opacity: 0.5"/>
   </g>
   <g id="patch_446">
    <path d="M 966.95 320.33 
L 979.40 320.33 
L 979.40 313.2 
L 966.95 313.2 
z
" clip-path="url(#p7c38246ff5)" style="fill: #fdca99; fill-opacity: 0.5"/>
   </g>
   <g id="patch_447">
    <path d="M 979.40 341.73 
L 991.85 341.73 
L 991.85 334.60 
L 979.40 334.60 
z
" clip-path="url(#p7c38246ff5)" style="fill: #fdca99; fill-opacity: 0.5"/>
   </g>
   <g id="patch_448">
    <path d="M 991.85 363.14 
L 1004.30 363.14 
L 1004.30 352.43 
L 991.85 352.43 
z
" clip-path="url(#p7c38246ff5)" style="fill: #fdca99; fill-opacity: 0.5"/>
   </g>
   <g id="patch_449">
    <path d="M 1029.19 391.67 
L 1041.64 391.67 
L 1041.64 384.54 
L 1029.19 384.54 
z
" clip-path="url(#p7c38246ff5)" style="fill: #fdca99; fill-opacity: 0.5"/>
   </g>
   <g id="patch_450">
    <path d="M 854.90 366.70 
L 867.35 366.70 
L 867.35 356.00 
L 854.90 356.00 
z
" clip-path="url(#p7c38246ff5)" style="fill: #fedcbb; fill-opacity: 0.5"/>
   </g>
   <g id="patch_451">
    <path d="M 867.35 291.79 
L 879.80 291.79 
L 879.80 281.09 
L 867.35 281.09 
z
" clip-path="url(#p7c38246ff5)" style="fill: #fedcbb; fill-opacity: 0.5"/>
   </g>
   <g id="patch_452">
    <path d="M 879.80 256.12 
L 892.25 256.12 
L 892.25 241.85 
L 879.80 241.85 
z
" clip-path="url(#p7c38246ff5)" style="fill: #fedcbb; fill-opacity: 0.5"/>
   </g>
   <g id="patch_453">
    <path d="M 892.25 202.61 
L 904.70 202.61 
L 904.70 177.64 
L 892.25 177.64 
z
" clip-path="url(#p7c38246ff5)" style="fill: #fedcbb; fill-opacity: 0.5"/>
   </g>
   <g id="patch_454">
    <path d="M 904.70 227.58 
L 917.15 227.58 
L 917.15 206.18 
L 904.70 206.18 
z
" clip-path="url(#p7c38246ff5)" style="fill: #fedcbb; fill-opacity: 0.5"/>
   </g>
   <g id="patch_455">
    <path d="M 917.15 206.18 
L 929.60 206.18 
L 929.60 188.34 
L 917.15 188.34 
z
" clip-path="url(#p7c38246ff5)" style="fill: #fedcbb; fill-opacity: 0.5"/>
   </g>
   <g id="patch_456">
    <path d="M 929.60 245.42 
L 942.05 245.42 
L 942.05 231.15 
L 929.60 231.15 
z
" clip-path="url(#p7c38246ff5)" style="fill: #fedcbb; fill-opacity: 0.5"/>
   </g>
   <g id="patch_457">
    <path d="M 942.05 252.55 
L 954.50 252.55 
L 954.50 234.72 
L 942.05 234.72 
z
" clip-path="url(#p7c38246ff5)" style="fill: #fedcbb; fill-opacity: 0.5"/>
   </g>
   <g id="patch_458">
    <path d="M 954.50 306.06 
L 966.95 306.06 
L 966.95 298.93 
L 954.50 298.93 
z
" clip-path="url(#p7c38246ff5)" style="fill: #fedcbb; fill-opacity: 0.5"/>
   </g>
   <g id="patch_459">
    <path d="M 966.95 313.2 
L 979.40 313.2 
L 979.40 302.49 
L 966.95 302.49 
z
" clip-path="url(#p7c38246ff5)" style="fill: #fedcbb; fill-opacity: 0.5"/>
   </g>
   <g id="patch_460">
    <path d="M 979.40 334.60 
L 991.85 334.60 
L 991.85 327.46 
L 979.40 327.46 
z
" clip-path="url(#p7c38246ff5)" style="fill: #fedcbb; fill-opacity: 0.5"/>
   </g>
   <g id="patch_461">
    <path d="M 991.85 352.43 
L 1004.30 352.43 
L 1004.30 345.30 
L 991.85 345.30 
z
" clip-path="url(#p7c38246ff5)" style="fill: #fedcbb; fill-opacity: 0.5"/>
   </g>
   <g id="patch_462">
    <path d="M 854.90 356.00 
L 867.35 356.00 
L 867.35 348.87 
L 854.90 348.87 
z
" clip-path="url(#p7c38246ff5)" style="fill: #feead6; fill-opacity: 0.5"/>
   </g>
   <g id="patch_463">
    <path d="M 867.35 281.09 
L 879.80 281.09 
L 879.80 263.25 
L 867.35 263.25 
z
" clip-path="url(#p7c38246ff5)" style="fill: #feead6; fill-opacity: 0.5"/>
   </g>
   <g id="patch_464">
    <path d="M 879.80 241.85 
L 892.25 241.85 
L 892.25 224.01 
L 879.80 224.01 
z
" clip-path="url(#p7c38246ff5)" style="fill: #feead6; fill-opacity: 0.5"/>
   </g>
   <g id="patch_465">
    <path d="M 892.25 177.64 
L 904.70 177.64 
L 904.70 156.24 
L 892.25 156.24 
z
" clip-path="url(#p7c38246ff5)" style="fill: #feead6; fill-opacity: 0.5"/>
   </g>
   <g id="patch_466">
    <path d="M 904.70 206.18 
L 917.15 206.18 
L 917.15 191.91 
L 904.70 191.91 
z
" clip-path="url(#p7c38246ff5)" style="fill: #feead6; fill-opacity: 0.5"/>
   </g>
   <g id="patch_467">
    <path d="M 917.15 188.34 
L 929.60 188.34 
L 929.60 170.51 
L 917.15 170.51 
z
" clip-path="url(#p7c38246ff5)" style="fill: #feead6; fill-opacity: 0.5"/>
   </g>
   <g id="patch_468">
    <path d="M 929.60 231.15 
L 942.05 231.15 
L 942.05 213.31 
L 929.60 213.31 
z
" clip-path="url(#p7c38246ff5)" style="fill: #feead6; fill-opacity: 0.5"/>
   </g>
   <g id="patch_469">
    <path d="M 942.05 234.72 
L 954.50 234.72 
L 954.50 213.31 
L 942.05 213.31 
z
" clip-path="url(#p7c38246ff5)" style="fill: #feead6; fill-opacity: 0.5"/>
   </g>
   <g id="patch_470">
    <path d="M 954.50 298.93 
L 966.95 298.93 
L 966.95 291.79 
L 954.50 291.79 
z
" clip-path="url(#p7c38246ff5)" style="fill: #feead6; fill-opacity: 0.5"/>
   </g>
   <g id="patch_471">
    <path d="M 966.95 302.49 
L 979.40 302.49 
L 979.40 295.36 
L 966.95 295.36 
z
" clip-path="url(#p7c38246ff5)" style="fill: #feead6; fill-opacity: 0.5"/>
   </g>
   <g id="patch_472">
    <path d="M 979.40 327.46 
L 991.85 327.46 
L 991.85 320.33 
L 979.40 320.33 
z
" clip-path="url(#p7c38246ff5)" style="fill: #feead6; fill-opacity: 0.5"/>
   </g>
   <g id="patch_473">
    <path d="M 1004.30 384.54 
L 1016.75 384.54 
L 1016.75 359.57 
L 1004.30 359.57 
z
" clip-path="url(#p7c38246ff5)" style="fill: #feead6; fill-opacity: 0.5"/>
   </g>
   <g id="patch_474">
    <path d="M 867.35 263.25 
L 879.80 263.25 
L 879.80 252.55 
L 867.35 252.55 
z
" clip-path="url(#p7c38246ff5)" style="fill: #fff5eb; fill-opacity: 0.5"/>
   </g>
   <g id="patch_475">
    <path d="M 879.80 224.01 
L 892.25 224.01 
L 892.25 209.75 
L 879.80 209.75 
z
" clip-path="url(#p7c38246ff5)" style="fill: #fff5eb; fill-opacity: 0.5"/>
   </g>
   <g id="patch_476">
    <path d="M 892.25 156.24 
L 904.70 156.24 
L 904.70 131.27 
L 892.25 131.27 
z
" clip-path="url(#p7c38246ff5)" style="fill: #fff5eb; fill-opacity: 0.5"/>
   </g>
   <g id="patch_477">
    <path d="M 904.70 191.91 
L 917.15 191.91 
L 917.15 170.51 
L 904.70 170.51 
z
" clip-path="url(#p7c38246ff5)" style="fill: #fff5eb; fill-opacity: 0.5"/>
   </g>
   <g id="patch_478">
    <path d="M 917.15 170.51 
L 929.60 170.51 
L 929.60 138.40 
L 917.15 138.40 
z
" clip-path="url(#p7c38246ff5)" style="fill: #fff5eb; fill-opacity: 0.5"/>
   </g>
   <g id="patch_479">
    <path d="M 929.60 213.31 
L 942.05 213.31 
L 942.05 195.48 
L 929.60 195.48 
z
" clip-path="url(#p7c38246ff5)" style="fill: #fff5eb; fill-opacity: 0.5"/>
   </g>
   <g id="patch_480">
    <path d="M 942.05 213.31 
L 954.50 213.31 
L 954.50 199.04 
L 942.05 199.04 
z
" clip-path="url(#p7c38246ff5)" style="fill: #fff5eb; fill-opacity: 0.5"/>
   </g>
   <g id="patch_481">
    <path d="M 954.50 291.79 
L 966.95 291.79 
L 966.95 281.09 
L 954.50 281.09 
z
" clip-path="url(#p7c38246ff5)" style="fill: #fff5eb; fill-opacity: 0.5"/>
   </g>
   <g id="patch_482">
    <path d="M 966.95 295.36 
L 979.40 295.36 
L 979.40 284.66 
L 966.95 284.66 
z
" clip-path="url(#p7c38246ff5)" style="fill: #fff5eb; fill-opacity: 0.5"/>
   </g>
   <g id="LineCollection_3">
    <path d="M 842.45 395.24 
L 854.90 395.24 
" clip-path="url(#p7c38246ff5)" style="fill: none; stroke: #000000; stroke-width: 1.1; stroke-linecap: square"/>
    <path d="M 842.45 391.67 
L 854.90 391.67 
" clip-path="url(#p7c38246ff5)" style="fill: none; stroke: #000000; stroke-width: 1.1; stroke-linecap: square"/>
    <path d="M 842.45 377.40 
L 854.90 377.40 
" clip-path="url(#p7c38246ff5)" style="fill: none; stroke: #000000; stroke-width: 1.1; stroke-linecap: square"/>
    <path d="M 854.90 395.24 
L 867.35 395.24 
" clip-path="url(#p7c38246ff5)" style="fill: none; stroke: #000000; stroke-width: 1.1; stroke-linecap: square"/>
    <path d="M 854.90 384.54 
L 867.35 384.54 
" clip-path="url(#p7c38246ff5)" style="fill: none; stroke: #000000; stroke-width: 1.1; stroke-linecap: square"/>
    <path d="M 854.90 366.70 
L 867.35 366.70 
" clip-path="url(#p7c38246ff5)" style="fill: none; stroke: #000000; stroke-width: 1.1; stroke-linecap: square"/>
    <path d="M 854.90 356.00 
L 867.35 356.00 
" clip-path="url(#p7c38246ff5)" style="fill: none; stroke: #000000; stroke-width: 1.1; stroke-linecap: square"/>
    <path d="M 854.90 348.87 
L 867.35 348.87 
" clip-path="url(#p7c38246ff5)" style="fill: none; stroke: #000000; stroke-width: 1.1; stroke-linecap: square"/>
    <path d="M 867.35 395.24 
L 879.80 395.24 
" clip-path="url(#p7c38246ff5)" style="fill: none; stroke: #000000; stroke-width: 1.1; stroke-linecap: square"/>
    <path d="M 867.35 384.54 
L 879.80 384.54 
" clip-path="url(#p7c38246ff5)" style="fill: none; stroke: #000000; stroke-width: 1.1; stroke-linecap: square"/>
    <path d="M 867.35 370.27 
L 879.80 370.27 
" clip-path="url(#p7c38246ff5)" style="fill: none; stroke: #000000; stroke-width: 1.1; stroke-linecap: square"/>
    <path d="M 867.35 363.14 
L 879.80 363.14 
" clip-path="url(#p7c38246ff5)" style="fill: none; stroke: #000000; stroke-width: 1.1; stroke-linecap: square"/>
    <path d="M 867.35 352.43 
L 879.80 352.43 
" clip-path="url(#p7c38246ff5)" style="fill: none; stroke: #000000; stroke-width: 1.1; stroke-linecap: square"/>
    <path d="M 867.35 341.73 
L 879.80 341.73 
" clip-path="url(#p7c38246ff5)" style="fill: none; stroke: #000000; stroke-width: 1.1; stroke-linecap: square"/>
    <path d="M 867.35 327.46 
L 879.80 327.46 
" clip-path="url(#p7c38246ff5)" style="fill: none; stroke: #000000; stroke-width: 1.1; stroke-linecap: square"/>
    <path d="M 867.35 306.06 
L 879.80 306.06 
" clip-path="url(#p7c38246ff5)" style="fill: none; stroke: #000000; stroke-width: 1.1; stroke-linecap: square"/>
    <path d="M 867.35 291.79 
L 879.80 291.79 
" clip-path="url(#p7c38246ff5)" style="fill: none; stroke: #000000; stroke-width: 1.1; stroke-linecap: square"/>
    <path d="M 867.35 281.09 
L 879.80 281.09 
" clip-path="url(#p7c38246ff5)" style="fill: none; stroke: #000000; stroke-width: 1.1; stroke-linecap: square"/>
    <path d="M 867.35 263.25 
L 879.80 263.25 
" clip-path="url(#p7c38246ff5)" style="fill: none; stroke: #000000; stroke-width: 1.1; stroke-linecap: square"/>
    <path d="M 867.35 252.55 
L 879.80 252.55 
" clip-path="url(#p7c38246ff5)" style="fill: none; stroke: #000000; stroke-width: 1.1; stroke-linecap: square"/>
    <path d="M 879.80 395.24 
L 892.25 395.24 
" clip-path="url(#p7c38246ff5)" style="fill: none; stroke: #000000; stroke-width: 1.1; stroke-linecap: square"/>
    <path d="M 879.80 377.40 
L 892.25 377.40 
" clip-path="url(#p7c38246ff5)" style="fill: none; stroke: #000000; stroke-width: 1.1; stroke-linecap: square"/>
    <path d="M 879.80 363.14 
L 892.25 363.14 
" clip-path="url(#p7c38246ff5)" style="fill: none; stroke: #000000; stroke-width: 1.1; stroke-linecap: square"/>
    <path d="M 879.80 345.30 
L 892.25 345.30 
" clip-path="url(#p7c38246ff5)" style="fill: none; stroke: #000000; stroke-width: 1.1; stroke-linecap: square"/>
    <path d="M 879.80 331.03 
L 892.25 331.03 
" clip-path="url(#p7c38246ff5)" style="fill: none; stroke: #000000; stroke-width: 1.1; stroke-linecap: square"/>
    <path d="M 879.80 320.33 
L 892.25 320.33 
" clip-path="url(#p7c38246ff5)" style="fill: none; stroke: #000000; stroke-width: 1.1; stroke-linecap: square"/>
    <path d="M 879.80 309.63 
L 892.25 309.63 
" clip-path="url(#p7c38246ff5)" style="fill: none; stroke: #000000; stroke-width: 1.1; stroke-linecap: square"/>
    <path d="M 879.80 295.36 
L 892.25 295.36 
" clip-path="url(#p7c38246ff5)" style="fill: none; stroke: #000000; stroke-width: 1.1; stroke-linecap: square"/>
    <path d="M 879.80 270.39 
L 892.25 270.39 
" clip-path="url(#p7c38246ff5)" style="fill: none; stroke: #000000; stroke-width: 1.1; stroke-linecap: square"/>
    <path d="M 879.80 256.12 
L 892.25 256.12 
" clip-path="url(#p7c38246ff5)" style="fill: none; stroke: #000000; stroke-width: 1.1; stroke-linecap: square"/>
    <path d="M 879.80 241.85 
L 892.25 241.85 
" clip-path="url(#p7c38246ff5)" style="fill: none; stroke: #000000; stroke-width: 1.1; stroke-linecap: square"/>
    <path d="M 879.80 224.01 
L 892.25 224.01 
" clip-path="url(#p7c38246ff5)" style="fill: none; stroke: #000000; stroke-width: 1.1; stroke-linecap: square"/>
    <path d="M 879.80 209.75 
L 892.25 209.75 
" clip-path="url(#p7c38246ff5)" style="fill: none; stroke: #000000; stroke-width: 1.1; stroke-linecap: square"/>
    <path d="M 892.25 395.24 
L 904.70 395.24 
" clip-path="url(#p7c38246ff5)" style="fill: none; stroke: #000000; stroke-width: 1.1; stroke-linecap: square"/>
    <path d="M 892.25 370.27 
L 904.70 370.27 
" clip-path="url(#p7c38246ff5)" style="fill: none; stroke: #000000; stroke-width: 1.1; stroke-linecap: square"/>
    <path d="M 892.25 348.87 
L 904.70 348.87 
" clip-path="url(#p7c38246ff5)" style="fill: none; stroke: #000000; stroke-width: 1.1; stroke-linecap: square"/>
    <path d="M 892.25 327.46 
L 904.70 327.46 
" clip-path="url(#p7c38246ff5)" style="fill: none; stroke: #000000; stroke-width: 1.1; stroke-linecap: square"/>
    <path d="M 892.25 309.63 
L 904.70 309.63 
" clip-path="url(#p7c38246ff5)" style="fill: none; stroke: #000000; stroke-width: 1.1; stroke-linecap: square"/>
    <path d="M 892.25 288.22 
L 904.70 288.22 
" clip-path="url(#p7c38246ff5)" style="fill: none; stroke: #000000; stroke-width: 1.1; stroke-linecap: square"/>
    <path d="M 892.25 270.39 
L 904.70 270.39 
" clip-path="url(#p7c38246ff5)" style="fill: none; stroke: #000000; stroke-width: 1.1; stroke-linecap: square"/>
    <path d="M 892.25 252.55 
L 904.70 252.55 
" clip-path="url(#p7c38246ff5)" style="fill: none; stroke: #000000; stroke-width: 1.1; stroke-linecap: square"/>
    <path d="M 892.25 227.58 
L 904.70 227.58 
" clip-path="url(#p7c38246ff5)" style="fill: none; stroke: #000000; stroke-width: 1.1; stroke-linecap: square"/>
    <path d="M 892.25 202.61 
L 904.70 202.61 
" clip-path="url(#p7c38246ff5)" style="fill: none; stroke: #000000; stroke-width: 1.1; stroke-linecap: square"/>
    <path d="M 892.25 177.64 
L 904.70 177.64 
" clip-path="url(#p7c38246ff5)" style="fill: none; stroke: #000000; stroke-width: 1.1; stroke-linecap: square"/>
    <path d="M 892.25 156.24 
L 904.70 156.24 
" clip-path="url(#p7c38246ff5)" style="fill: none; stroke: #000000; stroke-width: 1.1; stroke-linecap: square"/>
    <path d="M 892.25 131.27 
L 904.70 131.27 
" clip-path="url(#p7c38246ff5)" style="fill: none; stroke: #000000; stroke-width: 1.1; stroke-linecap: square"/>
    <path d="M 904.70 395.24 
L 917.15 395.24 
" clip-path="url(#p7c38246ff5)" style="fill: none; stroke: #000000; stroke-width: 1.1; stroke-linecap: square"/>
    <path d="M 904.70 370.27 
L 917.15 370.27 
" clip-path="url(#p7c38246ff5)" style="fill: none; stroke: #000000; stroke-width: 1.1; stroke-linecap: square"/>
    <path d="M 904.70 345.30 
L 917.15 345.30 
" clip-path="url(#p7c38246ff5)" style="fill: none; stroke: #000000; stroke-width: 1.1; stroke-linecap: square"/>
    <path d="M 904.70 331.03 
L 917.15 331.03 
" clip-path="url(#p7c38246ff5)" style="fill: none; stroke: #000000; stroke-width: 1.1; stroke-linecap: square"/>
    <path d="M 904.70 313.2 
L 917.15 313.2 
" clip-path="url(#p7c38246ff5)" style="fill: none; stroke: #000000; stroke-width: 1.1; stroke-linecap: square"/>
    <path d="M 904.70 295.36 
L 917.15 295.36 
" clip-path="url(#p7c38246ff5)" style="fill: none; stroke: #000000; stroke-width: 1.1; stroke-linecap: square"/>
    <path d="M 904.70 284.66 
L 917.15 284.66 
" clip-path="url(#p7c38246ff5)" style="fill: none; stroke: #000000; stroke-width: 1.1; stroke-linecap: square"/>
    <path d="M 904.70 266.82 
L 917.15 266.82 
" clip-path="url(#p7c38246ff5)" style="fill: none; stroke: #000000; stroke-width: 1.1; stroke-linecap: square"/>
    <path d="M 904.70 252.55 
L 917.15 252.55 
" clip-path="url(#p7c38246ff5)" style="fill: none; stroke: #000000; stroke-width: 1.1; stroke-linecap: square"/>
    <path d="M 904.70 227.58 
L 917.15 227.58 
" clip-path="url(#p7c38246ff5)" style="fill: none; stroke: #000000; stroke-width: 1.1; stroke-linecap: square"/>
    <path d="M 904.70 206.18 
L 917.15 206.18 
" clip-path="url(#p7c38246ff5)" style="fill: none; stroke: #000000; stroke-width: 1.1; stroke-linecap: square"/>
    <path d="M 904.70 191.91 
L 917.15 191.91 
" clip-path="url(#p7c38246ff5)" style="fill: none; stroke: #000000; stroke-width: 1.1; stroke-linecap: square"/>
    <path d="M 904.70 170.51 
L 917.15 170.51 
" clip-path="url(#p7c38246ff5)" style="fill: none; stroke: #000000; stroke-width: 1.1; stroke-linecap: square"/>
    <path d="M 917.15 395.24 
L 929.60 395.24 
" clip-path="url(#p7c38246ff5)" style="fill: none; stroke: #000000; stroke-width: 1.1; stroke-linecap: square"/>
    <path d="M 917.15 363.14 
L 929.60 363.14 
" clip-path="url(#p7c38246ff5)" style="fill: none; stroke: #000000; stroke-width: 1.1; stroke-linecap: square"/>
    <path d="M 917.15 352.43 
L 929.60 352.43 
" clip-path="url(#p7c38246ff5)" style="fill: none; stroke: #000000; stroke-width: 1.1; stroke-linecap: square"/>
    <path d="M 917.15 338.17 
L 929.60 338.17 
" clip-path="url(#p7c38246ff5)" style="fill: none; stroke: #000000; stroke-width: 1.1; stroke-linecap: square"/>
    <path d="M 917.15 309.63 
L 929.60 309.63 
" clip-path="url(#p7c38246ff5)" style="fill: none; stroke: #000000; stroke-width: 1.1; stroke-linecap: square"/>
    <path d="M 917.15 284.66 
L 929.60 284.66 
" clip-path="url(#p7c38246ff5)" style="fill: none; stroke: #000000; stroke-width: 1.1; stroke-linecap: square"/>
    <path d="M 917.15 266.82 
L 929.60 266.82 
" clip-path="url(#p7c38246ff5)" style="fill: none; stroke: #000000; stroke-width: 1.1; stroke-linecap: square"/>
    <path d="M 917.15 241.85 
L 929.60 241.85 
" clip-path="url(#p7c38246ff5)" style="fill: none; stroke: #000000; stroke-width: 1.1; stroke-linecap: square"/>
    <path d="M 917.15 224.01 
L 929.60 224.01 
" clip-path="url(#p7c38246ff5)" style="fill: none; stroke: #000000; stroke-width: 1.1; stroke-linecap: square"/>
    <path d="M 917.15 206.18 
L 929.60 206.18 
" clip-path="url(#p7c38246ff5)" style="fill: none; stroke: #000000; stroke-width: 1.1; stroke-linecap: square"/>
    <path d="M 917.15 188.34 
L 929.60 188.34 
" clip-path="url(#p7c38246ff5)" style="fill: none; stroke: #000000; stroke-width: 1.1; stroke-linecap: square"/>
    <path d="M 917.15 170.51 
L 929.60 170.51 
" clip-path="url(#p7c38246ff5)" style="fill: none; stroke: #000000; stroke-width: 1.1; stroke-linecap: square"/>
    <path d="M 917.15 138.40 
L 929.60 138.40 
" clip-path="url(#p7c38246ff5)" style="fill: none; stroke: #000000; stroke-width: 1.1; stroke-linecap: square"/>
    <path d="M 929.60 395.24 
L 942.05 395.24 
" clip-path="url(#p7c38246ff5)" style="fill: none; stroke: #000000; stroke-width: 1.1; stroke-linecap: square"/>
    <path d="M 929.60 373.84 
L 942.05 373.84 
" clip-path="url(#p7c38246ff5)" style="fill: none; stroke: #000000; stroke-width: 1.1; stroke-linecap: square"/>
    <path d="M 929.60 363.14 
L 942.05 363.14 
" clip-path="url(#p7c38246ff5)" style="fill: none; stroke: #000000; stroke-width: 1.1; stroke-linecap: square"/>
    <path d="M 929.60 348.87 
L 942.05 348.87 
" clip-path="url(#p7c38246ff5)" style="fill: none; stroke: #000000; stroke-width: 1.1; stroke-linecap: square"/>
    <path d="M 929.60 331.03 
L 942.05 331.03 
" clip-path="url(#p7c38246ff5)" style="fill: none; stroke: #000000; stroke-width: 1.1; stroke-linecap: square"/>
    <path d="M 929.60 309.63 
L 942.05 309.63 
" clip-path="url(#p7c38246ff5)" style="fill: none; stroke: #000000; stroke-width: 1.1; stroke-linecap: square"/>
    <path d="M 929.60 295.36 
L 942.05 295.36 
" clip-path="url(#p7c38246ff5)" style="fill: none; stroke: #000000; stroke-width: 1.1; stroke-linecap: square"/>
    <path d="M 929.60 273.96 
L 942.05 273.96 
" clip-path="url(#p7c38246ff5)" style="fill: none; stroke: #000000; stroke-width: 1.1; stroke-linecap: square"/>
    <path d="M 929.60 263.25 
L 942.05 263.25 
" clip-path="url(#p7c38246ff5)" style="fill: none; stroke: #000000; stroke-width: 1.1; stroke-linecap: square"/>
    <path d="M 929.60 245.42 
L 942.05 245.42 
" clip-path="url(#p7c38246ff5)" style="fill: none; stroke: #000000; stroke-width: 1.1; stroke-linecap: square"/>
    <path d="M 929.60 231.15 
L 942.05 231.15 
" clip-path="url(#p7c38246ff5)" style="fill: none; stroke: #000000; stroke-width: 1.1; stroke-linecap: square"/>
    <path d="M 929.60 213.31 
L 942.05 213.31 
" clip-path="url(#p7c38246ff5)" style="fill: none; stroke: #000000; stroke-width: 1.1; stroke-linecap: square"/>
    <path d="M 929.60 195.48 
L 942.05 195.48 
" clip-path="url(#p7c38246ff5)" style="fill: none; stroke: #000000; stroke-width: 1.1; stroke-linecap: square"/>
    <path d="M 942.05 395.24 
L 954.50 395.24 
" clip-path="url(#p7c38246ff5)" style="fill: none; stroke: #000000; stroke-width: 1.1; stroke-linecap: square"/>
    <path d="M 942.05 380.97 
L 954.50 380.97 
" clip-path="url(#p7c38246ff5)" style="fill: none; stroke: #000000; stroke-width: 1.1; stroke-linecap: square"/>
    <path d="M 942.05 366.70 
L 954.50 366.70 
" clip-path="url(#p7c38246ff5)" style="fill: none; stroke: #000000; stroke-width: 1.1; stroke-linecap: square"/>
    <path d="M 942.05 348.87 
L 954.50 348.87 
" clip-path="url(#p7c38246ff5)" style="fill: none; stroke: #000000; stroke-width: 1.1; stroke-linecap: square"/>
    <path d="M 942.05 323.90 
L 954.50 323.90 
" clip-path="url(#p7c38246ff5)" style="fill: none; stroke: #000000; stroke-width: 1.1; stroke-linecap: square"/>
    <path d="M 942.05 313.2 
L 954.50 313.2 
" clip-path="url(#p7c38246ff5)" style="fill: none; stroke: #000000; stroke-width: 1.1; stroke-linecap: square"/>
    <path d="M 942.05 291.79 
L 954.50 291.79 
" clip-path="url(#p7c38246ff5)" style="fill: none; stroke: #000000; stroke-width: 1.1; stroke-linecap: square"/>
    <path d="M 942.05 273.96 
L 954.50 273.96 
" clip-path="url(#p7c38246ff5)" style="fill: none; stroke: #000000; stroke-width: 1.1; stroke-linecap: square"/>
    <path d="M 942.05 263.25 
L 954.50 263.25 
" clip-path="url(#p7c38246ff5)" style="fill: none; stroke: #000000; stroke-width: 1.1; stroke-linecap: square"/>
    <path d="M 942.05 252.55 
L 954.50 252.55 
" clip-path="url(#p7c38246ff5)" style="fill: none; stroke: #000000; stroke-width: 1.1; stroke-linecap: square"/>
    <path d="M 942.05 234.72 
L 954.50 234.72 
" clip-path="url(#p7c38246ff5)" style="fill: none; stroke: #000000; stroke-width: 1.1; stroke-linecap: square"/>
    <path d="M 942.05 213.31 
L 954.50 213.31 
" clip-path="url(#p7c38246ff5)" style="fill: none; stroke: #000000; stroke-width: 1.1; stroke-linecap: square"/>
    <path d="M 942.05 199.04 
L 954.50 199.04 
" clip-path="url(#p7c38246ff5)" style="fill: none; stroke: #000000; stroke-width: 1.1; stroke-linecap: square"/>
    <path d="M 954.50 395.24 
L 966.95 395.24 
" clip-path="url(#p7c38246ff5)" style="fill: none; stroke: #000000; stroke-width: 1.1; stroke-linecap: square"/>
    <path d="M 954.50 384.54 
L 966.95 384.54 
" clip-path="url(#p7c38246ff5)" style="fill: none; stroke: #000000; stroke-width: 1.1; stroke-linecap: square"/>
    <path d="M 954.50 373.84 
L 966.95 373.84 
" clip-path="url(#p7c38246ff5)" style="fill: none; stroke: #000000; stroke-width: 1.1; stroke-linecap: square"/>
    <path d="M 954.50 359.57 
L 966.95 359.57 
" clip-path="url(#p7c38246ff5)" style="fill: none; stroke: #000000; stroke-width: 1.1; stroke-linecap: square"/>
    <path d="M 954.50 348.87 
L 966.95 348.87 
" clip-path="url(#p7c38246ff5)" style="fill: none; stroke: #000000; stroke-width: 1.1; stroke-linecap: square"/>
    <path d="M 954.50 338.17 
L 966.95 338.17 
" clip-path="url(#p7c38246ff5)" style="fill: none; stroke: #000000; stroke-width: 1.1; stroke-linecap: square"/>
    <path d="M 954.50 327.46 
L 966.95 327.46 
" clip-path="url(#p7c38246ff5)" style="fill: none; stroke: #000000; stroke-width: 1.1; stroke-linecap: square"/>
    <path d="M 954.50 320.33 
L 966.95 320.33 
" clip-path="url(#p7c38246ff5)" style="fill: none; stroke: #000000; stroke-width: 1.1; stroke-linecap: square"/>
    <path d="M 954.50 313.2 
L 966.95 313.2 
" clip-path="url(#p7c38246ff5)" style="fill: none; stroke: #000000; stroke-width: 1.1; stroke-linecap: square"/>
    <path d="M 954.50 306.06 
L 966.95 306.06 
" clip-path="url(#p7c38246ff5)" style="fill: none; stroke: #000000; stroke-width: 1.1; stroke-linecap: square"/>
    <path d="M 954.50 298.93 
L 966.95 298.93 
" clip-path="url(#p7c38246ff5)" style="fill: none; stroke: #000000; stroke-width: 1.1; stroke-linecap: square"/>
    <path d="M 954.50 291.79 
L 966.95 291.79 
" clip-path="url(#p7c38246ff5)" style="fill: none; stroke: #000000; stroke-width: 1.1; stroke-linecap: square"/>
    <path d="M 954.50 281.09 
L 966.95 281.09 
" clip-path="url(#p7c38246ff5)" style="fill: none; stroke: #000000; stroke-width: 1.1; stroke-linecap: square"/>
    <path d="M 966.95 395.24 
L 979.40 395.24 
" clip-path="url(#p7c38246ff5)" style="fill: none; stroke: #000000; stroke-width: 1.1; stroke-linecap: square"/>
    <path d="M 966.95 384.54 
L 979.40 384.54 
" clip-path="url(#p7c38246ff5)" style="fill: none; stroke: #000000; stroke-width: 1.1; stroke-linecap: square"/>
    <path d="M 966.95 377.40 
L 979.40 377.40 
" clip-path="url(#p7c38246ff5)" style="fill: none; stroke: #000000; stroke-width: 1.1; stroke-linecap: square"/>
    <path d="M 966.95 363.14 
L 979.40 363.14 
" clip-path="url(#p7c38246ff5)" style="fill: none; stroke: #000000; stroke-width: 1.1; stroke-linecap: square"/>
    <path d="M 966.95 352.43 
L 979.40 352.43 
" clip-path="url(#p7c38246ff5)" style="fill: none; stroke: #000000; stroke-width: 1.1; stroke-linecap: square"/>
    <path d="M 966.95 345.30 
L 979.40 345.30 
" clip-path="url(#p7c38246ff5)" style="fill: none; stroke: #000000; stroke-width: 1.1; stroke-linecap: square"/>
    <path d="M 966.95 334.60 
L 979.40 334.60 
" clip-path="url(#p7c38246ff5)" style="fill: none; stroke: #000000; stroke-width: 1.1; stroke-linecap: square"/>
    <path d="M 966.95 327.46 
L 979.40 327.46 
" clip-path="url(#p7c38246ff5)" style="fill: none; stroke: #000000; stroke-width: 1.1; stroke-linecap: square"/>
    <path d="M 966.95 320.33 
L 979.40 320.33 
" clip-path="url(#p7c38246ff5)" style="fill: none; stroke: #000000; stroke-width: 1.1; stroke-linecap: square"/>
    <path d="M 966.95 313.2 
L 979.40 313.2 
" clip-path="url(#p7c38246ff5)" style="fill: none; stroke: #000000; stroke-width: 1.1; stroke-linecap: square"/>
    <path d="M 966.95 302.49 
L 979.40 302.49 
" clip-path="url(#p7c38246ff5)" style="fill: none; stroke: #000000; stroke-width: 1.1; stroke-linecap: square"/>
    <path d="M 966.95 295.36 
L 979.40 295.36 
" clip-path="url(#p7c38246ff5)" style="fill: none; stroke: #000000; stroke-width: 1.1; stroke-linecap: square"/>
    <path d="M 966.95 284.66 
L 979.40 284.66 
" clip-path="url(#p7c38246ff5)" style="fill: none; stroke: #000000; stroke-width: 1.1; stroke-linecap: square"/>
    <path d="M 979.40 395.24 
L 991.85 395.24 
" clip-path="url(#p7c38246ff5)" style="fill: none; stroke: #000000; stroke-width: 1.1; stroke-linecap: square"/>
    <path d="M 979.40 388.11 
L 991.85 388.11 
" clip-path="url(#p7c38246ff5)" style="fill: none; stroke: #000000; stroke-width: 1.1; stroke-linecap: square"/>
    <path d="M 979.40 377.40 
L 991.85 377.40 
" clip-path="url(#p7c38246ff5)" style="fill: none; stroke: #000000; stroke-width: 1.1; stroke-linecap: square"/>
    <path d="M 979.40 370.27 
L 991.85 370.27 
" clip-path="url(#p7c38246ff5)" style="fill: none; stroke: #000000; stroke-width: 1.1; stroke-linecap: square"/>
    <path d="M 979.40 363.14 
L 991.85 363.14 
" clip-path="url(#p7c38246ff5)" style="fill: none; stroke: #000000; stroke-width: 1.1; stroke-linecap: square"/>
    <path d="M 979.40 356.00 
L 991.85 356.00 
" clip-path="url(#p7c38246ff5)" style="fill: none; stroke: #000000; stroke-width: 1.1; stroke-linecap: square"/>
    <path d="M 979.40 348.87 
L 991.85 348.87 
" clip-path="url(#p7c38246ff5)" style="fill: none; stroke: #000000; stroke-width: 1.1; stroke-linecap: square"/>
    <path d="M 979.40 341.73 
L 991.85 341.73 
" clip-path="url(#p7c38246ff5)" style="fill: none; stroke: #000000; stroke-width: 1.1; stroke-linecap: square"/>
    <path d="M 979.40 334.60 
L 991.85 334.60 
" clip-path="url(#p7c38246ff5)" style="fill: none; stroke: #000000; stroke-width: 1.1; stroke-linecap: square"/>
    <path d="M 979.40 327.46 
L 991.85 327.46 
" clip-path="url(#p7c38246ff5)" style="fill: none; stroke: #000000; stroke-width: 1.1; stroke-linecap: square"/>
    <path d="M 979.40 320.33 
L 991.85 320.33 
" clip-path="url(#p7c38246ff5)" style="fill: none; stroke: #000000; stroke-width: 1.1; stroke-linecap: square"/>
    <path d="M 991.85 395.24 
L 1004.30 395.24 
" clip-path="url(#p7c38246ff5)" style="fill: none; stroke: #000000; stroke-width: 1.1; stroke-linecap: square"/>
    <path d="M 991.85 380.97 
L 1004.30 380.97 
" clip-path="url(#p7c38246ff5)" style="fill: none; stroke: #000000; stroke-width: 1.1; stroke-linecap: square"/>
    <path d="M 991.85 370.27 
L 1004.30 370.27 
" clip-path="url(#p7c38246ff5)" style="fill: none; stroke: #000000; stroke-width: 1.1; stroke-linecap: square"/>
    <path d="M 991.85 363.14 
L 1004.30 363.14 
" clip-path="url(#p7c38246ff5)" style="fill: none; stroke: #000000; stroke-width: 1.1; stroke-linecap: square"/>
    <path d="M 991.85 352.43 
L 1004.30 352.43 
" clip-path="url(#p7c38246ff5)" style="fill: none; stroke: #000000; stroke-width: 1.1; stroke-linecap: square"/>
    <path d="M 991.85 345.30 
L 1004.30 345.30 
" clip-path="url(#p7c38246ff5)" style="fill: none; stroke: #000000; stroke-width: 1.1; stroke-linecap: square"/>
    <path d="M 1004.30 395.24 
L 1016.75 395.24 
" clip-path="url(#p7c38246ff5)" style="fill: none; stroke: #000000; stroke-width: 1.1; stroke-linecap: square"/>
    <path d="M 1004.30 384.54 
L 1016.75 384.54 
" clip-path="url(#p7c38246ff5)" style="fill: none; stroke: #000000; stroke-width: 1.1; stroke-linecap: square"/>
    <path d="M 1004.30 359.57 
L 1016.75 359.57 
" clip-path="url(#p7c38246ff5)" style="fill: none; stroke: #000000; stroke-width: 1.1; stroke-linecap: square"/>
    <path d="M 1016.75 395.24 
L 1029.19 395.24 
" clip-path="url(#p7c38246ff5)" style="fill: none; stroke: #000000; stroke-width: 1.1; stroke-linecap: square"/>
    <path d="M 1016.75 388.11 
L 1029.19 388.11 
" clip-path="url(#p7c38246ff5)" style="fill: none; stroke: #000000; stroke-width: 1.1; stroke-linecap: square"/>
    <path d="M 1016.75 377.40 
L 1029.19 377.40 
" clip-path="url(#p7c38246ff5)" style="fill: none; stroke: #000000; stroke-width: 1.1; stroke-linecap: square"/>
    <path d="M 1029.19 395.24 
L 1041.64 395.24 
" clip-path="url(#p7c38246ff5)" style="fill: none; stroke: #000000; stroke-width: 1.1; stroke-linecap: square"/>
    <path d="M 1029.19 391.67 
L 1041.64 391.67 
" clip-path="url(#p7c38246ff5)" style="fill: none; stroke: #000000; stroke-width: 1.1; stroke-linecap: square"/>
    <path d="M 1029.19 384.54 
L 1041.64 384.54 
" clip-path="url(#p7c38246ff5)" style="fill: none; stroke: #000000; stroke-width: 1.1; stroke-linecap: square"/>
    <path d="M 1041.64 395.24 
L 1054.09 395.24 
" clip-path="url(#p7c38246ff5)" style="fill: none; stroke: #000000; stroke-width: 1.1; stroke-linecap: square"/>
    <path d="M 1041.64 388.11 
L 1054.09 388.11 
" clip-path="url(#p7c38246ff5)" style="fill: none; stroke: #000000; stroke-width: 1.1; stroke-linecap: square"/>
    <path d="M 1041.64 380.97 
L 1054.09 380.97 
" clip-path="url(#p7c38246ff5)" style="fill: none; stroke: #000000; stroke-width: 1.1; stroke-linecap: square"/>
    <path d="M 842.45 395.24 
L 842.45 377.40 
" clip-path="url(#p7c38246ff5)" style="fill: none; stroke: #000000; stroke-width: 1.1; stroke-linecap: square"/>
    <path d="M 854.90 395.24 
L 854.90 348.87 
" clip-path="url(#p7c38246ff5)" style="fill: none; stroke: #000000; stroke-width: 1.1; stroke-linecap: square"/>
    <path d="M 867.35 395.24 
L 867.35 252.55 
" clip-path="url(#p7c38246ff5)" style="fill: none; stroke: #000000; stroke-width: 1.1; stroke-linecap: square"/>
    <path d="M 879.80 395.24 
L 879.80 209.75 
" clip-path="url(#p7c38246ff5)" style="fill: none; stroke: #000000; stroke-width: 1.1; stroke-linecap: square"/>
    <path d="M 892.25 395.24 
L 892.25 131.27 
" clip-path="url(#p7c38246ff5)" style="fill: none; stroke: #000000; stroke-width: 1.1; stroke-linecap: square"/>
    <path d="M 904.70 395.24 
L 904.70 131.27 
" clip-path="url(#p7c38246ff5)" style="fill: none; stroke: #000000; stroke-width: 1.1; stroke-linecap: square"/>
    <path d="M 917.15 395.24 
L 917.15 138.40 
" clip-path="url(#p7c38246ff5)" style="fill: none; stroke: #000000; stroke-width: 1.1; stroke-linecap: square"/>
    <path d="M 929.60 395.24 
L 929.60 138.40 
" clip-path="url(#p7c38246ff5)" style="fill: none; stroke: #000000; stroke-width: 1.1; stroke-linecap: square"/>
    <path d="M 942.05 395.24 
L 942.05 195.48 
" clip-path="url(#p7c38246ff5)" style="fill: none; stroke: #000000; stroke-width: 1.1; stroke-linecap: square"/>
    <path d="M 954.50 395.24 
L 954.50 199.04 
" clip-path="url(#p7c38246ff5)" style="fill: none; stroke: #000000; stroke-width: 1.1; stroke-linecap: square"/>
    <path d="M 966.95 395.24 
L 966.95 281.09 
" clip-path="url(#p7c38246ff5)" style="fill: none; stroke: #000000; stroke-width: 1.1; stroke-linecap: square"/>
    <path d="M 979.40 395.24 
L 979.40 284.66 
" clip-path="url(#p7c38246ff5)" style="fill: none; stroke: #000000; stroke-width: 1.1; stroke-linecap: square"/>
    <path d="M 991.85 395.24 
L 991.85 320.33 
" clip-path="url(#p7c38246ff5)" style="fill: none; stroke: #000000; stroke-width: 1.1; stroke-linecap: square"/>
    <path d="M 1004.30 395.24 
L 1004.30 345.30 
" clip-path="url(#p7c38246ff5)" style="fill: none; stroke: #000000; stroke-width: 1.1; stroke-linecap: square"/>
    <path d="M 1016.75 395.24 
L 1016.75 359.57 
" clip-path="url(#p7c38246ff5)" style="fill: none; stroke: #000000; stroke-width: 1.1; stroke-linecap: square"/>
    <path d="M 1029.19 395.24 
L 1029.19 377.40 
" clip-path="url(#p7c38246ff5)" style="fill: none; stroke: #000000; stroke-width: 1.1; stroke-linecap: square"/>
    <path d="M 1041.64 395.24 
L 1041.64 380.97 
" clip-path="url(#p7c38246ff5)" style="fill: none; stroke: #000000; stroke-width: 1.1; stroke-linecap: square"/>
    <path d="M 1054.09 395.24 
L 1054.09 380.97 
" clip-path="url(#p7c38246ff5)" style="fill: none; stroke: #000000; stroke-width: 1.1; stroke-linecap: square"/>
   </g>
   <g id="matplotlib.axis_9">
    <g id="xtick_33">
     <g id="line2d_237">
      <g>
       <use href="#m1504cfccaf" x="802.62" y="395.24" style="stroke: #000000; stroke-width: 0.8"/>
      </g>
     </g>
     <g id="text_103">
      <text style="stroke: #000; stroke-width: 0.10; font-size: 10px; font-family: 'DejaVu Sans', sans-serif; text-anchor: middle" x="802.62" y="410.83" transform="rotate(-0 802.62 410.83)">0.0</text>
     </g>
    </g>
    <g id="xtick_34">
     <g id="line2d_238">
      <g>
       <use href="#m1504cfccaf" x="845.13" y="395.24" style="stroke: #000000; stroke-width: 0.8"/>
      </g>
     </g>
     <g id="text_104">
      <text style="stroke: #000; stroke-width: 0.10; font-size: 10px; font-family: 'DejaVu Sans', sans-serif; text-anchor: middle" x="845.14" y="410.83" transform="rotate(-0 845.14 410.83)">0.2</text>
     </g>
    </g>
    <g id="xtick_35">
     <g id="line2d_239">
      <g>
       <use href="#m1504cfccaf" x="887.65" y="395.24" style="stroke: #000000; stroke-width: 0.8"/>
      </g>
     </g>
     <g id="text_105">
      <text style="stroke: #000; stroke-width: 0.10; font-size: 10px; font-family: 'DejaVu Sans', sans-serif; text-anchor: middle" x="887.65" y="410.83" transform="rotate(-0 887.65 410.83)">0.4</text>
     </g>
    </g>
    <g id="xtick_36">
     <g id="line2d_240">
      <g>
       <use href="#m1504cfccaf" x="930.16" y="395.24" style="stroke: #000000; stroke-width: 0.8"/>
      </g>
     </g>
     <g id="text_106">
      <text style="stroke: #000; stroke-width: 0.10; font-size: 10px; font-family: 'DejaVu Sans', sans-serif; text-anchor: middle" x="930.16" y="410.83" transform="rotate(-0 930.16 410.83)">0.6</text>
     </g>
    </g>
    <g id="xtick_37">
     <g id="line2d_241">
      <g>
       <use href="#m1504cfccaf" x="972.67" y="395.24" style="stroke: #000000; stroke-width: 0.8"/>
      </g>
     </g>
     <g id="text_107">
      <text style="stroke: #000; stroke-width: 0.10; font-size: 10px; font-family: 'DejaVu Sans', sans-serif; text-anchor: middle" x="972.68" y="410.83" transform="rotate(-0 972.68 410.83)">0.8</text>
     </g>
    </g>
    <g id="xtick_38">
     <g id="line2d_242">
      <g>
       <use href="#m1504cfccaf" x="1015.19" y="395.24" style="stroke: #000000; stroke-width: 0.8"/>
      </g>
     </g>
     <g id="text_108">
      <text style="stroke: #000; stroke-width: 0.10; font-size: 10px; font-family: 'DejaVu Sans', sans-serif; text-anchor: middle" x="1015.19" y="410.83" transform="rotate(-0 1015.19 410.83)">1.0</text>
     </g>
    </g>
    <g id="xtick_39">
     <g id="line2d_243">
      <g>
       <use href="#m1504cfccaf" x="1057.70" y="395.24" style="stroke: #000000; stroke-width: 0.8"/>
      </g>
     </g>
     <g id="text_109">
      <text style="stroke: #000; stroke-width: 0.10; font-size: 10px; font-family: 'DejaVu Sans', sans-serif; text-anchor: middle" x="1057.70" y="410.83" transform="rotate(-0 1057.70 410.83)">1.2</text>
     </g>
    </g>
    <g id="xtick_40">
     <g id="line2d_244">
      <g>
       <use href="#m1504cfccaf" x="1100.21" y="395.24" style="stroke: #000000; stroke-width: 0.8"/>
      </g>
     </g>
     <g id="text_110">
      <text style="stroke: #000; stroke-width: 0.10; font-size: 10px; font-family: 'DejaVu Sans', sans-serif; text-anchor: middle" x="1100.22" y="410.83" transform="rotate(-0 1100.22 410.83)">1.4</text>
     </g>
    </g>
    <g id="text_111">
     <text style="stroke: #000; stroke-width: 0.10; font-size: 10px; font-family: 'DejaVu Sans', sans-serif; text-anchor: middle" x="962.05" y="426.06" transform="rotate(-0 962.05 426.06)">Radius (mm)</text>
    </g>
   </g>
   <g id="matplotlib.axis_10">
    <g id="ytick_37">
     <g id="line2d_245">
      <g>
       <use href="#m5d545ce8f8" x="802.62" y="395.24" style="stroke: #000000; stroke-width: 0.8"/>
      </g>
     </g>
     <g id="text_112">
      <text style="stroke: #000; stroke-width: 0.10; font-size: 10px; font-family: 'DejaVu Sans', sans-serif; text-anchor: end" x="795.62" y="400.68" transform="rotate(-0 795.62 400.68)">0</text>
     </g>
    </g>
    <g id="ytick_38">
     <g id="line2d_246">
      <g>
       <use href="#m5d545ce8f8" x="802.62" y="323.90" style="stroke: #000000; stroke-width: 0.8"/>
      </g>
     </g>
     <g id="text_113">
      <text style="stroke: #000; stroke-width: 0.10; font-size: 10px; font-family: 'DejaVu Sans', sans-serif; text-anchor: end" x="795.62" y="329.34" transform="rotate(-0 795.62 329.34)">20</text>
     </g>
    </g>
    <g id="ytick_39">
     <g id="line2d_247">
      <g>
       <use href="#m5d545ce8f8" x="802.62" y="252.55" style="stroke: #000000; stroke-width: 0.8"/>
      </g>
     </g>
     <g id="text_114">
      <text style="stroke: #000; stroke-width: 0.10; font-size: 10px; font-family: 'DejaVu Sans', sans-serif; text-anchor: end" x="795.62" y="258.00" transform="rotate(-0 795.62 258.00)">40</text>
     </g>
    </g>
    <g id="ytick_40">
     <g id="line2d_248">
      <g>
       <use href="#m5d545ce8f8" x="802.62" y="181.21" style="stroke: #000000; stroke-width: 0.8"/>
      </g>
     </g>
     <g id="text_115">
      <text style="stroke: #000; stroke-width: 0.10; font-size: 10px; font-family: 'DejaVu Sans', sans-serif; text-anchor: end" x="795.62" y="186.65" transform="rotate(-0 795.62 186.65)">60</text>
     </g>
    </g>
    <g id="ytick_41">
     <g id="line2d_249">
      <g>
       <use href="#m5d545ce8f8" x="802.62" y="109.86" style="stroke: #000000; stroke-width: 0.8"/>
      </g>
     </g>
     <g id="text_116">
      <text style="stroke: #000; stroke-width: 0.10; font-size: 10px; font-family: 'DejaVu Sans', sans-serif; text-anchor: end" x="795.62" y="115.31" transform="rotate(-0 795.62 115.31)">80</text>
     </g>
    </g>
    <g id="ytick_42">
     <g id="line2d_250">
      <g>
       <use href="#m5d545ce8f8" x="802.62" y="38.52" style="stroke: #000000; stroke-width: 0.8"/>
      </g>
     </g>
     <g id="text_117">
      <text style="stroke: #000; stroke-width: 0.10; font-size: 10px; font-family: 'DejaVu Sans', sans-serif; text-anchor: end" x="795.62" y="43.96" transform="rotate(-0 795.62 43.96)">100</text>
     </g>
    </g>
    <g id="text_118">
     <text style="stroke: #000; stroke-width: 0.10; font-size: 10.40px; font-family: 'DejaVu Sans', sans-serif; text-anchor: middle" x="770.95" y="218.52" transform="rotate(-90 770.95 218.52)">Count</text>
    </g>
   </g>
   <g id="line2d_251">
    <path d="M 842.45 394.98 
L 847.77 394.68 
L 852.03 394.26 
L 856.28 393.63 
L 860.53 392.72 
L 863.72 391.83 
L 866.91 390.74 
L 870.11 389.46 
L 874.36 387.48 
L 878.61 385.24 
L 895.63 375.95 
L 899.88 374.10 
L 903.07 372.93 
L 906.26 371.99 
L 909.46 371.27 
L 912.65 370.78 
L 915.84 370.54 
L 919.03 370.55 
L 922.22 370.79 
L 925.41 371.27 
L 928.60 371.95 
L 932.85 373.13 
L 938.17 374.91 
L 956.25 381.35 
L 962.63 383.23 
L 971.14 385.48 
L 995.60 391.63 
L 1000.92 392.69 
L 1006.24 393.51 
L 1010.49 393.95 
L 1014.74 394.22 
L 1020.06 394.31 
L 1025.38 394.18 
L 1033.89 393.71 
L 1042.39 393.28 
L 1048.78 393.19 
L 1054.09 393.32 
L 1054.09 393.32 
" clip-path="url(#p7c38246ff5)" style="fill: none; stroke: #7f2704; stroke-width: 2; stroke-linecap: square"/>
   </g>
   <g id="line2d_252">
    <path d="M 842.45 393.43 
L 846.71 392.60 
L 849.90 391.78 
L 853.09 390.77 
L 856.28 389.54 
L 859.47 388.07 
L 862.66 386.35 
L 865.85 384.36 
L 869.04 382.13 
L 873.30 378.81 
L 878.61 374.29 
L 888.19 366.02 
L 892.44 362.72 
L 895.63 360.53 
L 898.82 358.64 
L 902.01 357.08 
L 905.20 355.88 
L 907.33 355.28 
L 909.46 354.85 
L 911.58 354.57 
L 913.71 354.45 
L 915.84 354.49 
L 919.03 354.82 
L 922.22 355.45 
L 925.41 356.37 
L 928.60 357.52 
L 932.85 359.36 
L 938.17 361.99 
L 959.44 372.95 
L 966.89 376.35 
L 975.39 379.97 
L 981.77 382.48 
L 987.09 384.36 
L 992.41 385.98 
L 996.66 387.05 
L 1000.92 387.90 
L 1005.17 388.54 
L 1010.49 389.09 
L 1016.87 389.48 
L 1027.51 389.82 
L 1037.08 390.20 
L 1043.46 390.65 
L 1049.84 391.30 
L 1054.09 391.84 
L 1054.09 391.84 
" clip-path="url(#p7c38246ff5)" style="fill: none; stroke: #9b3203; stroke-width: 2; stroke-linecap: square"/>
   </g>
   <g id="line2d_253">
    <path d="M 842.45 389.52 
L 845.64 388.10 
L 848.84 386.44 
L 852.03 384.54 
L 855.22 382.38 
L 858.41 379.97 
L 861.60 377.29 
L 864.79 374.37 
L 869.04 370.13 
L 874.36 364.44 
L 883.93 354.04 
L 888.19 349.83 
L 891.38 347.00 
L 894.57 344.53 
L 896.69 343.10 
L 898.82 341.86 
L 900.95 340.81 
L 903.07 339.94 
L 905.20 339.27 
L 907.33 338.79 
L 909.46 338.48 
L 911.58 338.34 
L 913.71 338.36 
L 916.90 338.68 
L 920.09 339.30 
L 923.28 340.19 
L 926.47 341.30 
L 930.73 343.08 
L 934.98 345.11 
L 940.30 347.88 
L 948.81 352.60 
L 959.44 358.73 
L 966.89 363.25 
L 974.33 368.06 
L 990.28 378.60 
L 994.54 381.07 
L 998.79 383.24 
L 1001.98 384.63 
L 1005.17 385.81 
L 1008.36 386.79 
L 1011.55 387.58 
L 1015.81 388.38 
L 1020.06 388.94 
L 1025.38 389.41 
L 1047.71 391.05 
L 1054.09 391.83 
L 1054.09 391.83 
" clip-path="url(#p7c38246ff5)" style="fill: none; stroke: #bd3e02; stroke-width: 2; stroke-linecap: square"/>
   </g>
   <g id="line2d_254">
    <path d="M 842.45 389.02 
L 845.64 387.35 
L 848.84 385.36 
L 852.03 383.02 
L 855.22 380.30 
L 858.41 377.20 
L 861.60 373.71 
L 864.79 369.84 
L 867.98 365.65 
L 872.23 359.65 
L 887.12 338.03 
L 890.31 333.96 
L 893.50 330.29 
L 896.69 327.06 
L 898.82 325.18 
L 900.95 323.51 
L 903.07 322.06 
L 905.20 320.84 
L 907.33 319.83 
L 909.46 319.04 
L 911.58 318.45 
L 913.71 318.07 
L 915.84 317.90 
L 917.96 317.91 
L 920.09 318.11 
L 922.22 318.50 
L 924.34 319.05 
L 927.54 320.18 
L 930.73 321.64 
L 933.92 323.38 
L 937.11 325.38 
L 941.36 328.38 
L 945.61 331.67 
L 950.93 336.09 
L 958.38 342.63 
L 974.33 356.74 
L 982.84 363.89 
L 990.28 369.83 
L 995.60 373.84 
L 1000.92 377.56 
L 1005.17 380.24 
L 1009.43 382.60 
L 1012.62 384.13 
L 1015.81 385.45 
L 1019.00 386.56 
L 1022.19 387.47 
L 1026.44 388.40 
L 1030.70 389.09 
L 1037.08 389.86 
L 1051.97 391.54 
L 1054.09 391.82 
L 1054.09 391.82 
" clip-path="url(#p7c38246ff5)" style="fill: none; stroke: #dd4d04; stroke-width: 2; stroke-linecap: square"/>
   </g>
   <g id="line2d_255">
    <path d="M 842.45 388.55 
L 844.58 387.31 
L 846.71 385.88 
L 848.84 384.26 
L 850.96 382.43 
L 853.09 380.37 
L 855.22 378.08 
L 857.34 375.56 
L 860.53 371.34 
L 863.72 366.61 
L 866.91 361.43 
L 871.17 353.96 
L 876.49 344.07 
L 883.93 330.23 
L 888.19 322.87 
L 891.38 317.81 
L 894.57 313.23 
L 896.69 310.48 
L 898.82 307.99 
L 900.95 305.75 
L 903.07 303.79 
L 905.20 302.08 
L 907.33 300.65 
L 909.46 299.47 
L 911.58 298.56 
L 913.71 297.92 
L 915.84 297.53 
L 917.96 297.41 
L 920.09 297.56 
L 922.22 297.96 
L 924.34 298.62 
L 926.47 299.54 
L 928.60 300.70 
L 930.73 302.10 
L 932.85 303.71 
L 936.04 306.48 
L 939.23 309.61 
L 943.49 314.19 
L 948.81 320.31 
L 962.63 336.38 
L 970.08 344.60 
L 979.65 354.79 
L 989.22 364.69 
L 994.54 369.91 
L 998.79 373.81 
L 1001.98 376.50 
L 1005.17 378.95 
L 1008.36 381.13 
L 1011.55 383.02 
L 1014.74 384.63 
L 1017.93 385.96 
L 1021.12 387.03 
L 1024.31 387.88 
L 1028.57 388.73 
L 1033.89 389.49 
L 1044.52 390.64 
L 1053.03 391.68 
L 1054.09 391.82 
L 1054.09 391.82 
" clip-path="url(#p7c38246ff5)" style="fill: none; stroke: #ef6612; stroke-width: 2; stroke-linecap: square"/>
   </g>
   <g id="line2d_256">
    <path d="M 842.45 384.05 
L 845.64 381.63 
L 847.77 379.80 
L 849.90 377.76 
L 852.03 375.51 
L 854.15 373.03 
L 856.28 370.32 
L 859.47 365.81 
L 862.66 360.78 
L 865.85 355.25 
L 869.04 349.31 
L 873.30 340.90 
L 886.06 315.18 
L 889.25 309.33 
L 892.44 303.95 
L 895.63 299.11 
L 897.76 296.21 
L 899.88 293.58 
L 902.01 291.24 
L 904.14 289.18 
L 906.26 287.39 
L 908.39 285.89 
L 910.52 284.66 
L 912.65 283.71 
L 914.77 283.03 
L 916.90 282.63 
L 919.03 282.50 
L 921.15 282.65 
L 923.28 283.08 
L 925.41 283.77 
L 927.54 284.73 
L 929.66 285.96 
L 931.79 287.42 
L 933.92 289.12 
L 937.11 292.06 
L 940.30 295.39 
L 943.49 299.04 
L 947.74 304.26 
L 954.12 312.51 
L 967.95 330.50 
L 977.52 342.53 
L 989.22 356.87 
L 995.60 364.34 
L 999.85 369.00 
L 1003.04 372.25 
L 1006.24 375.24 
L 1009.43 377.93 
L 1012.62 380.31 
L 1015.81 382.36 
L 1019.00 384.09 
L 1022.19 385.52 
L 1025.38 386.69 
L 1028.57 387.62 
L 1032.82 388.59 
L 1038.14 389.51 
L 1048.78 391.00 
L 1054.09 391.76 
L 1054.09 391.76 
" clip-path="url(#p7c38246ff5)" style="fill: none; stroke: #f9802d; stroke-width: 2; stroke-linecap: square"/>
   </g>
   <g id="line2d_257">
    <path d="M 842.45 382.69 
L 844.58 380.83 
L 846.71 378.75 
L 848.84 376.43 
L 850.96 373.86 
L 853.09 371.02 
L 855.22 367.90 
L 857.34 364.50 
L 860.53 358.89 
L 863.72 352.69 
L 866.91 345.96 
L 871.17 336.36 
L 878.61 318.70 
L 883.93 306.30 
L 888.19 297.02 
L 891.38 290.63 
L 894.57 284.81 
L 896.69 281.29 
L 898.82 278.06 
L 900.95 275.14 
L 903.07 272.53 
L 905.20 270.23 
L 907.33 268.24 
L 909.46 266.55 
L 911.58 265.19 
L 913.71 264.13 
L 915.84 263.40 
L 917.96 262.98 
L 920.09 262.90 
L 922.22 263.14 
L 924.34 263.72 
L 926.47 264.63 
L 928.60 265.87 
L 930.73 267.43 
L 932.85 269.29 
L 934.98 271.43 
L 937.11 273.83 
L 940.30 277.86 
L 943.49 282.31 
L 947.74 288.71 
L 954.12 298.86 
L 963.69 314.10 
L 970.08 323.77 
L 976.46 332.96 
L 982.84 341.78 
L 989.22 350.27 
L 994.54 357.03 
L 998.79 362.12 
L 1003.04 366.82 
L 1006.24 370.04 
L 1009.43 372.95 
L 1012.62 375.56 
L 1015.81 377.84 
L 1019.00 379.83 
L 1022.19 381.54 
L 1025.38 383.00 
L 1028.57 384.27 
L 1032.82 385.71 
L 1038.14 387.23 
L 1045.59 389.08 
L 1054.09 390.98 
L 1054.09 390.98 
" clip-path="url(#p7c38246ff5)" style="fill: none; stroke: #fd994d; stroke-width: 2; stroke-linecap: square"/>
   </g>
   <g id="line2d_258">
    <path d="M 842.45 377.28 
L 844.58 374.69 
L 846.71 371.83 
L 848.84 368.70 
L 850.96 365.27 
L 853.09 361.56 
L 856.28 355.43 
L 859.47 348.67 
L 862.66 341.32 
L 866.91 330.79 
L 872.23 316.85 
L 879.68 297.21 
L 883.93 286.63 
L 887.12 279.28 
L 890.31 272.56 
L 892.44 268.47 
L 894.57 264.72 
L 896.69 261.31 
L 898.82 258.26 
L 900.95 255.57 
L 903.07 253.23 
L 905.20 251.24 
L 907.33 249.60 
L 909.46 248.30 
L 911.58 247.34 
L 913.71 246.70 
L 915.84 246.40 
L 917.96 246.44 
L 920.09 246.80 
L 922.22 247.51 
L 924.34 248.54 
L 926.47 249.91 
L 928.60 251.60 
L 930.73 253.60 
L 932.85 255.90 
L 934.98 258.47 
L 938.17 262.79 
L 941.36 267.58 
L 945.61 274.51 
L 950.93 283.71 
L 963.69 306.07 
L 970.08 316.69 
L 976.46 326.85 
L 983.90 338.26 
L 990.28 347.67 
L 995.60 355.12 
L 999.85 360.68 
L 1003.04 364.53 
L 1006.24 368.07 
L 1009.43 371.24 
L 1012.62 374.05 
L 1015.81 376.48 
L 1019.00 378.55 
L 1022.19 380.29 
L 1025.38 381.75 
L 1028.57 382.97 
L 1032.82 384.31 
L 1038.14 385.69 
L 1049.84 388.37 
L 1054.09 389.35 
L 1054.09 389.35 
" clip-path="url(#p7c38246ff5)" style="fill: none; stroke: #fdb170; stroke-width: 2; stroke-linecap: square"/>
   </g>
   <g id="line2d_259">
    <path d="M 842.45 375.77 
L 844.58 372.86 
L 846.71 369.65 
L 848.84 366.10 
L 850.96 362.22 
L 853.09 357.99 
L 856.28 351.00 
L 859.47 343.27 
L 862.66 334.86 
L 865.85 325.87 
L 870.11 313.23 
L 881.80 277.92 
L 884.99 269.04 
L 888.19 260.79 
L 891.38 253.32 
L 893.50 248.81 
L 895.63 244.72 
L 897.76 241.04 
L 899.88 237.79 
L 902.01 234.97 
L 904.14 232.58 
L 906.26 230.61 
L 908.39 229.07 
L 910.52 227.93 
L 912.65 227.20 
L 914.77 226.88 
L 916.90 226.95 
L 919.03 227.41 
L 921.15 228.26 
L 923.28 229.50 
L 925.41 231.11 
L 927.54 233.09 
L 929.66 235.42 
L 931.79 238.08 
L 933.92 241.04 
L 937.11 246.00 
L 940.30 251.47 
L 944.55 259.36 
L 950.93 271.90 
L 959.44 288.66 
L 964.76 298.66 
L 970.08 308.17 
L 975.39 317.22 
L 981.77 327.66 
L 989.22 339.44 
L 994.54 347.55 
L 998.79 353.70 
L 1003.04 359.42 
L 1006.24 363.34 
L 1009.43 366.89 
L 1012.62 370.05 
L 1015.81 372.80 
L 1019.00 375.16 
L 1022.19 377.15 
L 1025.38 378.83 
L 1028.57 380.25 
L 1032.82 381.83 
L 1038.14 383.51 
L 1054.09 388.14 
L 1054.09 388.14 
" clip-path="url(#p7c38246ff5)" style="fill: none; stroke: #fdca99; stroke-width: 2; stroke-linecap: square"/>
   </g>
   <g id="line2d_260">
    <path d="M 842.45 373.15 
L 844.58 369.80 
L 846.71 366.09 
L 848.84 362.01 
L 850.96 357.56 
L 853.09 352.73 
L 856.28 344.80 
L 859.47 336.07 
L 862.66 326.64 
L 866.91 313.15 
L 872.23 295.35 
L 880.74 266.83 
L 883.93 256.77 
L 887.12 247.36 
L 890.31 238.76 
L 892.44 233.55 
L 894.57 228.78 
L 896.69 224.49 
L 898.82 220.68 
L 900.95 217.38 
L 903.07 214.57 
L 905.20 212.26 
L 907.33 210.44 
L 909.46 209.11 
L 911.58 208.24 
L 913.71 207.84 
L 915.84 207.89 
L 917.96 208.37 
L 920.09 209.29 
L 922.22 210.62 
L 924.34 212.35 
L 926.47 214.48 
L 928.60 216.98 
L 930.73 219.83 
L 932.85 223.01 
L 936.04 228.32 
L 939.23 234.21 
L 942.42 240.54 
L 946.68 249.47 
L 963.69 285.85 
L 969.01 296.35 
L 974.33 306.34 
L 980.71 317.85 
L 990.28 334.62 
L 996.66 345.39 
L 1000.92 352.17 
L 1004.11 356.92 
L 1007.30 361.32 
L 1010.49 365.30 
L 1013.68 368.83 
L 1016.87 371.91 
L 1020.06 374.53 
L 1023.25 376.75 
L 1026.44 378.60 
L 1029.63 380.15 
L 1032.82 381.47 
L 1037.08 382.98 
L 1043.46 384.97 
L 1054.09 388.13 
L 1054.09 388.13 
" clip-path="url(#p7c38246ff5)" style="fill: none; stroke: #fedcbb; stroke-width: 2; stroke-linecap: square"/>
   </g>
   <g id="line2d_261">
    <path d="M 842.45 369.97 
L 844.58 366.13 
L 846.71 361.89 
L 848.84 357.25 
L 850.96 352.19 
L 853.09 346.73 
L 856.28 337.79 
L 859.47 328.01 
L 862.66 317.49 
L 866.91 302.57 
L 873.30 279.12 
L 879.68 255.93 
L 882.87 244.97 
L 886.06 234.70 
L 889.25 225.30 
L 891.38 219.59 
L 893.50 214.35 
L 895.63 209.62 
L 897.76 205.41 
L 899.88 201.73 
L 902.01 198.58 
L 904.14 195.95 
L 906.26 193.85 
L 908.39 192.25 
L 910.52 191.14 
L 911.58 190.77 
L 912.65 190.52 
L 913.71 190.38 
L 914.77 190.36 
L 915.84 190.46 
L 917.96 190.99 
L 920.09 191.96 
L 922.22 193.36 
L 924.34 195.18 
L 926.47 197.41 
L 928.60 200.04 
L 930.73 203.04 
L 932.85 206.39 
L 934.98 210.07 
L 938.17 216.14 
L 941.36 222.78 
L 945.61 232.28 
L 950.93 244.79 
L 960.50 267.46 
L 965.82 279.41 
L 970.08 288.47 
L 974.33 297.09 
L 979.65 307.33 
L 986.03 319.02 
L 992.41 330.25 
L 997.73 339.20 
L 1001.98 345.97 
L 1006.24 352.29 
L 1009.43 356.65 
L 1012.62 360.67 
L 1015.81 364.31 
L 1019.00 367.57 
L 1022.19 370.47 
L 1025.38 373.04 
L 1028.57 375.31 
L 1031.76 377.32 
L 1036.01 379.68 
L 1040.27 381.77 
L 1045.59 384.11 
L 1051.97 386.65 
L 1054.09 387.44 
L 1054.09 387.44 
" clip-path="url(#p7c38246ff5)" style="fill: none; stroke: #feead6; stroke-width: 2; stroke-linecap: square"/>
   </g>
   <g id="line2d_262">
    <path d="M 842.45 369.66 
L 844.58 365.68 
L 846.71 361.26 
L 848.84 356.38 
L 850.96 351.02 
L 853.09 345.18 
L 855.22 338.86 
L 858.41 328.49 
L 861.60 317.16 
L 864.79 304.99 
L 869.04 287.80 
L 881.80 235.12 
L 884.99 223.00 
L 888.19 211.77 
L 891.38 201.59 
L 893.50 195.45 
L 895.63 189.88 
L 897.76 184.89 
L 899.88 180.48 
L 902.01 176.67 
L 904.14 173.45 
L 906.26 170.82 
L 908.39 168.76 
L 909.46 167.94 
L 910.52 167.26 
L 911.58 166.73 
L 912.65 166.33 
L 913.71 166.08 
L 914.77 165.97 
L 915.84 166.00 
L 916.90 166.17 
L 917.96 166.48 
L 919.03 166.93 
L 920.09 167.52 
L 921.15 168.25 
L 923.28 170.14 
L 925.41 172.57 
L 927.54 175.54 
L 929.66 179.00 
L 931.79 182.92 
L 933.92 187.26 
L 937.11 194.43 
L 940.30 202.23 
L 944.55 213.29 
L 963.69 264.12 
L 969.01 277.26 
L 974.33 289.86 
L 979.65 301.95 
L 984.96 313.49 
L 989.22 322.27 
L 993.47 330.57 
L 997.73 338.35 
L 1000.92 343.79 
L 1004.11 348.89 
L 1007.30 353.61 
L 1010.49 357.94 
L 1013.68 361.88 
L 1016.87 365.42 
L 1020.06 368.57 
L 1023.25 371.36 
L 1026.44 373.83 
L 1029.63 376.01 
L 1032.82 377.94 
L 1037.08 380.23 
L 1041.33 382.26 
L 1046.65 384.55 
L 1053.03 387.05 
L 1054.09 387.44 
L 1054.09 387.44 
" clip-path="url(#p7c38246ff5)" style="fill: none; stroke: #fff5eb; stroke-width: 2; stroke-linecap: square"/>
   </g>
   <g id="patch_483">
    <path d="M 802.62 395.24 
L 802.62 38.52 
" style="fill: none; stroke: #000000; stroke-width: 0.8; stroke-linejoin: miter; stroke-linecap: square"/>
   </g>
   <g id="patch_484">
    <path d="M 1121.47 395.24 
L 1121.47 38.52 
" style="fill: none; stroke: #000000; stroke-width: 0.8; stroke-linejoin: miter; stroke-linecap: square"/>
   </g>
   <g id="patch_485">
    <path d="M 802.62 395.24 
L 1121.47 395.24 
" style="fill: none; stroke: #000000; stroke-width: 0.8; stroke-linejoin: miter; stroke-linecap: square"/>
   </g>
   <g id="patch_486">
    <path d="M 802.62 38.52 
L 1121.47 38.52 
" style="fill: none; stroke: #000000; stroke-width: 0.8; stroke-linejoin: miter; stroke-linecap: square"/>
   </g>
   <g id="legend_3">
    <g id="patch_487">
     <path d="M 1042.67 250.30 
L 1114.47 250.30 
Q 1116.47 250.30 1116.47 248.30 
L 1116.47 45.52 
Q 1116.47 43.52 1114.47 43.52 
L 1042.67 43.52 
Q 1040.67 43.52 1040.67 45.52 
L 1040.67 248.30 
Q 1040.67 250.30 1042.67 250.30 
z
" style="fill: #ffffff; opacity: 0.8; stroke: #cccccc; stroke-linejoin: miter"/>
    </g>
    <g id="text_119">
     <text style="stroke: #000; stroke-width: 0.10; font-size: 10px; font-family: 'DejaVu Sans', sans-serif; text-anchor: start" x="1045.68" y="56.12" transform="rotate(-0 1045.68 56.12)">Gantry Angle</text>
    </g>
    <g id="patch_488">
     <path d="M 1055.03 71.86 
L 1075.03 71.86 
L 1075.03 64.86 
L 1055.03 64.86 
z
" style="fill: #fff5eb; fill-opacity: 0.5; stroke: #000000; stroke-linejoin: miter"/>
    </g>
    <g id="text_120">
     <text style="stroke: #000; stroke-width: 0.10; font-size: 10px; font-family: 'DejaVu Sans', sans-serif; text-anchor: start" x="1083.03" y="71.87" transform="rotate(-0 1083.03 71.87)">0</text>
    </g>
    <g id="patch_489">
     <path d="M 1055.03 87.44 
L 1075.03 87.44 
L 1075.03 80.44 
L 1055.03 80.44 
z
" style="fill: #feead6; fill-opacity: 0.5; stroke: #000000; stroke-linejoin: miter"/>
    </g>
    <g id="text_121">
     <text style="stroke: #000; stroke-width: 0.10; font-size: 10px; font-family: 'DejaVu Sans', sans-serif; text-anchor: start" x="1083.03" y="87.44" transform="rotate(-0 1083.03 87.44)">30</text>
    </g>
    <g id="patch_490">
     <path d="M 1055.03 103.02 
L 1075.03 103.02 
L 1075.03 96.02 
L 1055.03 96.02 
z
" style="fill: #fedcbb; fill-opacity: 0.5; stroke: #000000; stroke-linejoin: miter"/>
    </g>
    <g id="text_122">
     <text style="stroke: #000; stroke-width: 0.10; font-size: 10px; font-family: 'DejaVu Sans', sans-serif; text-anchor: start" x="1083.03" y="103.02" transform="rotate(-0 1083.03 103.02)">60</text>
    </g>
    <g id="patch_491">
     <path d="M 1055.03 118.59 
L 1075.03 118.59 
L 1075.03 111.59 
L 1055.03 111.59 
z
" style="fill: #fdca99; fill-opacity: 0.5; stroke: #000000; stroke-linejoin: miter"/>
    </g>
    <g id="text_123">
     <text style="stroke: #000; stroke-width: 0.10; font-size: 10px; font-family: 'DejaVu Sans', sans-serif; text-anchor: start" x="1083.03" y="118.60" transform="rotate(-0 1083.03 118.60)">90</text>
    </g>
    <g id="patch_492">
     <path d="M 1055.03 134.17 
L 1075.03 134.17 
L 1075.03 127.17 
L 1055.03 127.17 
z
" style="fill: #fdb170; fill-opacity: 0.5; stroke: #000000; stroke-linejoin: miter"/>
    </g>
    <g id="text_124">
     <text style="stroke: #000; stroke-width: 0.10; font-size: 10px; font-family: 'DejaVu Sans', sans-serif; text-anchor: start" x="1083.03" y="134.18" transform="rotate(-0 1083.03 134.18)">120</text>
    </g>
    <g id="patch_493">
     <path d="M 1055.03 149.75 
L 1075.03 149.75 
L 1075.03 142.75 
L 1055.03 142.75 
z
" style="fill: #fd994d; fill-opacity: 0.5; stroke: #000000; stroke-linejoin: miter"/>
    </g>
    <g id="text_125">
     <text style="stroke: #000; stroke-width: 0.10; font-size: 10px; font-family: 'DejaVu Sans', sans-serif; text-anchor: start" x="1083.03" y="149.76" transform="rotate(-0 1083.03 149.76)">150</text>
    </g>
    <g id="patch_494">
     <path d="M 1055.03 165.33 
L 1075.03 165.33 
L 1075.03 158.33 
L 1055.03 158.33 
z
" style="fill: #f9802d; fill-opacity: 0.5; stroke: #000000; stroke-linejoin: miter"/>
    </g>
    <g id="text_126">
     <text style="stroke: #000; stroke-width: 0.10; font-size: 10px; font-family: 'DejaVu Sans', sans-serif; text-anchor: start" x="1083.03" y="165.33" transform="rotate(-0 1083.03 165.33)">180</text>
    </g>
    <g id="patch_495">
     <path d="M 1055.03 180.91 
L 1075.03 180.91 
L 1075.03 173.91 
L 1055.03 173.91 
z
" style="fill: #ef6612; fill-opacity: 0.5; stroke: #000000; stroke-linejoin: miter"/>
    </g>
    <g id="text_127">
     <text style="stroke: #000; stroke-width: 0.10; font-size: 10px; font-family: 'DejaVu Sans', sans-serif; text-anchor: start" x="1083.03" y="180.91" transform="rotate(-0 1083.03 180.91)">210</text>
    </g>
    <g id="patch_496">
     <path d="M 1055.03 196.49 
L 1075.03 196.49 
L 1075.03 189.49 
L 1055.03 189.49 
z
" style="fill: #dd4d04; fill-opacity: 0.5; stroke: #000000; stroke-linejoin: miter"/>
    </g>
    <g id="text_128">
     <text style="stroke: #000; stroke-width: 0.10; font-size: 10px; font-family: 'DejaVu Sans', sans-serif; text-anchor: start" x="1083.03" y="196.49" transform="rotate(-0 1083.03 196.49)">240</text>
    </g>
    <g id="patch_497">
     <path d="M 1055.03 212.06 
L 1075.03 212.06 
L 1075.03 205.06 
L 1055.03 205.06 
z
" style="fill: #bd3e02; fill-opacity: 0.5; stroke: #000000; stroke-linejoin: miter"/>
    </g>
    <g id="text_129">
     <text style="stroke: #000; stroke-width: 0.10; font-size: 10px; font-family: 'DejaVu Sans', sans-serif; text-anchor: start" x="1083.03" y="212.07" transform="rotate(-0 1083.03 212.07)">270</text>
    </g>
    <g id="patch_498">
     <path d="M 1055.03 227.64 
L 1075.03 227.64 
L 1075.03 220.64 
L 1055.03 220.64 
z
" style="fill: #9b3203; fill-opacity: 0.5; stroke: #000000; stroke-linejoin: miter"/>
    </g>
    <g id="text_130">
     <text style="stroke: #000; stroke-width: 0.10; font-size: 10px; font-family: 'DejaVu Sans', sans-serif; text-anchor: start" x="1083.03" y="227.65" transform="rotate(-0 1083.03 227.65)">300</text>
    </g>
    <g id="patch_499">
     <path d="M 1055.03 243.22 
L 1075.03 243.22 
L 1075.03 236.22 
L 1055.03 236.22 
z
" style="fill: #7f2704; fill-opacity: 0.5; stroke: #000000; stroke-linejoin: miter"/>
    </g>
    <g id="text_131">
     <text style="stroke: #000; stroke-width: 0.10; font-size: 10px; font-family: 'DejaVu Sans', sans-serif; text-anchor: start" x="1083.03" y="243.22" transform="rotate(-0 1083.03 243.22)">330</text>
    </g>
   </g>
  </g>
  <g id="axes_6">
   <g id="patch_500">
    <path d="M 802.62 835.08 
L 1121.47 835.08 
L 1121.47 471.96 
L 802.62 471.96 
z
" style="fill: #ffffff"/>
   </g>
   <g id="matplotlib.axis_11">
    <g id="xtick_41">
     <g id="line2d_263">
      <g>
       <use href="#m92da7aff10" x="802.62" y="471.96" style="stroke: #000000; stroke-width: 0.8"/>
      </g>
     </g>
     <g id="text_132">
      <text style="stroke: #000; stroke-width: 0.10; font-size: 10px; font-family: 'DejaVu Sans', sans-serif; text-anchor: middle" x="802.62" y="462.72" transform="rotate(-0 802.62 462.72)">0.0</text>
     </g>
    </g>
    <g id="xtick_42">
     <g id="line2d_264">
      <g>
       <use href="#m92da7aff10" x="845.13" y="471.96" style="stroke: #000000; stroke-width: 0.8"/>
      </g>
     </g>
     <g id="text_133">
      <text style="stroke: #000; stroke-width: 0.10; font-size: 10px; font-family: 'DejaVu Sans', sans-serif; text-anchor: middle" x="845.14" y="462.72" transform="rotate(-0 845.14 462.72)">0.2</text>
     </g>
    </g>
    <g id="xtick_43">
     <g id="line2d_265">
      <g>
       <use href="#m92da7aff10" x="887.65" y="471.96" style="stroke: #000000; stroke-width: 0.8"/>
      </g>
     </g>
     <g id="text_134">
      <text style="stroke: #000; stroke-width: 0.10; font-size: 10px; font-family: 'DejaVu Sans', sans-serif; text-anchor: middle" x="887.65" y="462.72" transform="rotate(-0 887.65 462.72)">0.4</text>
     </g>
    </g>
    <g id="xtick_44">
     <g id="line2d_266">
      <g>
       <use href="#m92da7aff10" x="930.16" y="471.96" style="stroke: #000000; stroke-width: 0.8"/>
      </g>
     </g>
     <g id="text_135">
      <text style="stroke: #000; stroke-width: 0.10; font-size: 10px; font-family: 'DejaVu Sans', sans-serif; text-anchor: middle" x="930.16" y="462.72" transform="rotate(-0 930.16 462.72)">0.6</text>
     </g>
    </g>
    <g id="xtick_45">
     <g id="line2d_267">
      <g>
       <use href="#m92da7aff10" x="972.67" y="471.96" style="stroke: #000000; stroke-width: 0.8"/>
      </g>
     </g>
     <g id="text_136">
      <text style="stroke: #000; stroke-width: 0.10; font-size: 10px; font-family: 'DejaVu Sans', sans-serif; text-anchor: middle" x="972.68" y="462.72" transform="rotate(-0 972.68 462.72)">0.8</text>
     </g>
    </g>
    <g id="xtick_46">
     <g id="line2d_268">
      <g>
       <use href="#m92da7aff10" x="1015.19" y="471.96" style="stroke: #000000; stroke-width: 0.8"/>
      </g>
     </g>
     <g id="text_137">
      <text style="stroke: #000; stroke-width: 0.10; font-size: 10px; font-family: 'DejaVu Sans', sans-serif; text-anchor: middle" x="1015.19" y="462.72" transform="rotate(-0 1015.19 462.72)">1.0</text>
     </g>
    </g>
    <g id="xtick_47">
     <g id="line2d_269">
      <g>
       <use href="#m92da7aff10" x="1057.70" y="471.96" style="stroke: #000000; stroke-width: 0.8"/>
      </g>
     </g>
     <g id="text_138">
      <text style="stroke: #000; stroke-width: 0.10; font-size: 10px; font-family: 'DejaVu Sans', sans-serif; text-anchor: middle" x="1057.70" y="462.72" transform="rotate(-0 1057.70 462.72)">1.2</text>
     </g>
    </g>
    <g id="xtick_48">
     <g id="line2d_270">
      <g>
       <use href="#m92da7aff10" x="1100.21" y="471.96" style="stroke: #000000; stroke-width: 0.8"/>
      </g>
     </g>
     <g id="text_139">
      <text style="stroke: #000; stroke-width: 0.10; font-size: 10px; font-family: 'DejaVu Sans', sans-serif; text-anchor: middle" x="1100.22" y="462.72" transform="rotate(-0 1100.22 462.72)">1.4</text>
     </g>
    </g>
    <g id="text_140">
     <text style="stroke: #000; stroke-width: 0.10; font-size: 10px; font-family: 'DejaVu Sans', sans-serif; text-anchor: middle" x="962.05" y="450.63" transform="rotate(-0 962.05 450.63)">Radius (mm)</text>
    </g>
   </g>
   <g id="matplotlib.axis_12">
    <g id="ytick_43">
     <g id="line2d_271">
      <g>
       <use href="#m5d545ce8f8" x="802.62" y="487.09" style="stroke: #000000; stroke-width: 0.8"/>
      </g>
     </g>
     <g id="text_141">
      <text style="stroke: #000; stroke-width: 0.10; font-size: 10px; font-family: 'DejaVu Sans', sans-serif; text-anchor: end" x="795.62" y="492.37" transform="rotate(-0 795.62 492.37)">0</text>
     </g>
    </g>
    <g id="ytick_44">
     <g id="line2d_272">
      <g>
       <use href="#m5d545ce8f8" x="802.62" y="517.35" style="stroke: #000000; stroke-width: 0.8"/>
      </g>
     </g>
     <g id="text_142">
      <text style="stroke: #000; stroke-width: 0.10; font-size: 10px; font-family: 'DejaVu Sans', sans-serif; text-anchor: end" x="795.62" y="522.63" transform="rotate(-0 795.62 522.63)">30</text>
     </g>
    </g>
    <g id="ytick_45">
     <g id="line2d_273">
      <g>
       <use href="#m5d545ce8f8" x="802.62" y="547.61" style="stroke: #000000; stroke-width: 0.8"/>
      </g>
     </g>
     <g id="text_143">
      <text style="stroke: #000; stroke-width: 0.10; font-size: 10px; font-family: 'DejaVu Sans', sans-serif; text-anchor: end" x="795.62" y="552.89" transform="rotate(-0 795.62 552.89)">60</text>
     </g>
    </g>
    <g id="ytick_46">
     <g id="line2d_274">
      <g>
       <use href="#m5d545ce8f8" x="802.62" y="577.87" style="stroke: #000000; stroke-width: 0.8"/>
      </g>
     </g>
     <g id="text_144">
      <text style="stroke: #000; stroke-width: 0.10; font-size: 10px; font-family: 'DejaVu Sans', sans-serif; text-anchor: end" x="795.62" y="583.15" transform="rotate(-0 795.62 583.15)">90</text>
     </g>
    </g>
    <g id="ytick_47">
     <g id="line2d_275">
      <g>
       <use href="#m5d545ce8f8" x="802.62" y="608.13" style="stroke: #000000; stroke-width: 0.8"/>
      </g>
     </g>
     <g id="text_145">
      <text style="stroke: #000; stroke-width: 0.10; font-size: 10px; font-family: 'DejaVu Sans', sans-serif; text-anchor: end" x="795.62" y="613.41" transform="rotate(-0 795.62 613.41)">120</text>
     </g>
    </g>
    <g id="ytick_48">
     <g id="line2d_276">
      <g>
       <use href="#m5d545ce8f8" x="802.62" y="638.39" style="stroke: #000000; stroke-width: 0.8"/>
      </g>
     </g>
     <g id="text_146">
      <text style="stroke: #000; stroke-width: 0.10; font-size: 10px; font-family: 'DejaVu Sans', sans-serif; text-anchor: end" x="795.62" y="643.67" transform="rotate(-0 795.62 643.67)">150</text>
     </g>
    </g>
    <g id="ytick_49">
     <g id="line2d_277">
      <g>
       <use href="#m5d545ce8f8" x="802.62" y="668.65" style="stroke: #000000; stroke-width: 0.8"/>
      </g>
     </g>
     <g id="text_147">
      <text style="stroke: #000; stroke-width: 0.10; font-size: 10px; font-family: 'DejaVu Sans', sans-serif; text-anchor: end" x="795.62" y="673.93" transform="rotate(-0 795.62 673.93)">180</text>
     </g>
    </g>
    <g id="ytick_50">
     <g id="line2d_278">
      <g>
       <use href="#m5d545ce8f8" x="802.62" y="698.91" style="stroke: #000000; stroke-width: 0.8"/>
      </g>
     </g>
     <g id="text_148">
      <text style="stroke: #000; stroke-width: 0.10; font-size: 10px; font-family: 'DejaVu Sans', sans-serif; text-anchor: end" x="795.62" y="704.19" transform="rotate(-0 795.62 704.19)">210</text>
     </g>
    </g>
    <g id="ytick_51">
     <g id="line2d_279">
      <g>
       <use href="#m5d545ce8f8" x="802.62" y="729.17" style="stroke: #000000; stroke-width: 0.8"/>
      </g>
     </g>
     <g id="text_149">
      <text style="stroke: #000; stroke-width: 0.10; font-size: 10px; font-family: 'DejaVu Sans', sans-serif; text-anchor: end" x="795.62" y="734.45" transform="rotate(-0 795.62 734.45)">240</text>
     </g>
    </g>
    <g id="ytick_52">
     <g id="line2d_280">
      <g>
       <use href="#m5d545ce8f8" x="802.62" y="759.43" style="stroke: #000000; stroke-width: 0.8"/>
      </g>
     </g>
     <g id="text_150">
      <text style="stroke: #000; stroke-width: 0.10; font-size: 10px; font-family: 'DejaVu Sans', sans-serif; text-anchor: end" x="795.62" y="764.71" transform="rotate(-0 795.62 764.71)">270</text>
     </g>
    </g>
    <g id="ytick_53">
     <g id="line2d_281">
      <g>
       <use href="#m5d545ce8f8" x="802.62" y="789.69" style="stroke: #000000; stroke-width: 0.8"/>
      </g>
     </g>
     <g id="text_151">
      <text style="stroke: #000; stroke-width: 0.10; font-size: 10px; font-family: 'DejaVu Sans', sans-serif; text-anchor: end" x="795.62" y="794.97" transform="rotate(-0 795.62 794.97)">300</text>
     </g>
    </g>
    <g id="ytick_54">
     <g id="line2d_282">
      <g>
       <use href="#m5d545ce8f8" x="802.62" y="819.95" style="stroke: #000000; stroke-width: 0.8"/>
      </g>
     </g>
     <g id="text_152">
      <text style="stroke: #000; stroke-width: 0.10; font-size: 10px; font-family: 'DejaVu Sans', sans-serif; text-anchor: end" x="795.62" y="825.23" transform="rotate(-0 795.62 825.23)">330</text>
     </g>
    </g>
    <g id="text_153">
     <text style="stroke: #000; stroke-width: 0.10; font-size: 10.30px; font-family: 'DejaVu Sans', sans-serif; text-anchor: middle" x="770.78" y="653.52" transform="rotate(-90 770.78 653.52)">Gantry Angle</text>
    </g>
   </g>
   <g id="patch_501">
    <path d="M 899.83 474.99 
L 899.83 499.20 
L 934.75 499.20 
L 934.75 474.99 
L 899.83 474.99 
z
" clip-path="url(#p30a4502b94)" style="fill: #faecde; stroke: #2e2e2e; stroke-linejoin: miter"/>
   </g>
   <g id="line2d_283">
    <path d="M 899.83 487.09 
L 858.03 487.09 
" clip-path="url(#p30a4502b94)" style="fill: none; stroke: #2e2e2e"/>
   </g>
   <g id="line2d_284">
    <path d="M 934.75 487.09 
L 982.13 487.09 
" clip-path="url(#p30a4502b94)" style="fill: none; stroke: #2e2e2e"/>
   </g>
   <g id="line2d_285">
    <path d="M 858.03 481.04 
L 858.03 493.14 
" clip-path="url(#p30a4502b94)" style="fill: none; stroke: #2e2e2e; stroke-linecap: square"/>
   </g>
   <g id="line2d_286">
    <path d="M 982.13 481.04 
L 982.13 493.14 
" clip-path="url(#p30a4502b94)" style="fill: none; stroke: #2e2e2e; stroke-linecap: square"/>
   </g>
   <g id="line2d_287">
    <defs>
     <path id="m573439f9e9" d="M 0 3 
C 0.79 3 1.55 2.68 2.12 2.12 
C 2.68 1.55 3 0.79 3 0 
C 3 -0.79 2.68 -1.55 2.12 -2.12 
C 1.55 -2.68 0.79 -3 0 -3 
C -0.79 -3 -1.55 -2.68 -2.12 -2.12 
C -2.68 -1.55 -3 -0.79 -3 0 
C -3 0.79 -2.68 1.55 -2.12 2.12 
C -1.55 2.68 -0.79 3 0 3 
z
" style="stroke: #2e2e2e"/>
    </defs>
    <g clip-path="url(#p30a4502b94)">
     <use href="#m573439f9e9" x="1015.73" y="487.09" style="fill-opacity: 0; stroke: #2e2e2e"/>
    </g>
   </g>
   <g id="patch_502">
    <path d="M 894.59 505.25 
L 894.59 529.46 
L 951.96 529.46 
L 951.96 505.25 
L 894.59 505.25 
z
" clip-path="url(#p30a4502b94)" style="fill: #f7e1cb; stroke: #2e2e2e; stroke-linejoin: miter"/>
   </g>
   <g id="line2d_288">
    <path d="M 894.59 517.35 
L 861.47 517.35 
" clip-path="url(#p30a4502b94)" style="fill: none; stroke: #2e2e2e"/>
   </g>
   <g id="line2d_289">
    <path d="M 951.96 517.35 
L 1022.62 517.35 
" clip-path="url(#p30a4502b94)" style="fill: none; stroke: #2e2e2e"/>
   </g>
   <g id="line2d_290">
    <path d="M 861.47 511.30 
L 861.47 523.40 
" clip-path="url(#p30a4502b94)" style="fill: none; stroke: #2e2e2e; stroke-linecap: square"/>
   </g>
   <g id="line2d_291">
    <path d="M 1022.62 511.30 
L 1022.62 523.40 
" clip-path="url(#p30a4502b94)" style="fill: none; stroke: #2e2e2e; stroke-linecap: square"/>
   </g>
   <g id="line2d_292"/>
   <g id="patch_503">
    <path d="M 899.01 535.51 
L 899.01 559.71 
L 950.16 559.71 
L 950.16 535.51 
L 899.01 535.51 
z
" clip-path="url(#p30a4502b94)" style="fill: #f3d3b3; stroke: #2e2e2e; stroke-linejoin: miter"/>
   </g>
   <g id="line2d_293">
    <path d="M 899.01 547.61 
L 853.77 547.61 
" clip-path="url(#p30a4502b94)" style="fill: none; stroke: #2e2e2e"/>
   </g>
   <g id="line2d_294">
    <path d="M 950.16 547.61 
L 1000.98 547.61 
" clip-path="url(#p30a4502b94)" style="fill: none; stroke: #2e2e2e"/>
   </g>
   <g id="line2d_295">
    <path d="M 853.77 541.56 
L 853.77 553.66 
" clip-path="url(#p30a4502b94)" style="fill: none; stroke: #2e2e2e; stroke-linecap: square"/>
   </g>
   <g id="line2d_296">
    <path d="M 1000.98 541.56 
L 1000.98 553.66 
" clip-path="url(#p30a4502b94)" style="fill: none; stroke: #2e2e2e; stroke-linecap: square"/>
   </g>
   <g id="line2d_297">
    <g clip-path="url(#p30a4502b94)">
     <use href="#m573439f9e9" x="1040.16" y="547.61" style="fill-opacity: 0; stroke: #2e2e2e"/>
    </g>
   </g>
   <g id="patch_504">
    <path d="M 899.01 565.77 
L 899.01 589.97 
L 943.27 589.97 
L 943.27 565.77 
L 899.01 565.77 
z
" clip-path="url(#p30a4502b94)" style="fill: #efc198; stroke: #2e2e2e; stroke-linejoin: miter"/>
   </g>
   <g id="line2d_298">
    <path d="M 899.01 577.87 
L 858.85 577.87 
" clip-path="url(#p30a4502b94)" style="fill: none; stroke: #2e2e2e"/>
   </g>
   <g id="line2d_299">
    <path d="M 943.27 577.87 
L 1006.55 577.87 
" clip-path="url(#p30a4502b94)" style="fill: none; stroke: #2e2e2e"/>
   </g>
   <g id="line2d_300">
    <path d="M 858.85 571.82 
L 858.85 583.92 
" clip-path="url(#p30a4502b94)" style="fill: none; stroke: #2e2e2e; stroke-linecap: square"/>
   </g>
   <g id="line2d_301">
    <path d="M 1006.55 571.82 
L 1006.55 583.92 
" clip-path="url(#p30a4502b94)" style="fill: none; stroke: #2e2e2e; stroke-linecap: square"/>
   </g>
   <g id="line2d_302">
    <g clip-path="url(#p30a4502b94)">
     <use href="#m573439f9e9" x="1034.26" y="577.87" style="fill-opacity: 0; stroke: #2e2e2e"/>
     <use href="#m573439f9e9" x="1051.47" y="577.87" style="fill-opacity: 0; stroke: #2e2e2e"/>
    </g>
   </g>
   <g id="patch_505">
    <path d="M 882.62 596.03 
L 882.62 620.23 
L 938.52 620.23 
L 938.52 596.03 
L 882.62 596.03 
z
" clip-path="url(#p30a4502b94)" style="fill: #eaad7a; stroke: #2e2e2e; stroke-linejoin: miter"/>
   </g>
   <g id="line2d_303">
    <path d="M 882.62 608.13 
L 855.40 608.13 
" clip-path="url(#p30a4502b94)" style="fill: none; stroke: #2e2e2e"/>
   </g>
   <g id="line2d_304">
    <path d="M 938.52 608.13 
L 1000.98 608.13 
" clip-path="url(#p30a4502b94)" style="fill: none; stroke: #2e2e2e"/>
   </g>
   <g id="line2d_305">
    <path d="M 855.40 602.08 
L 855.40 614.18 
" clip-path="url(#p30a4502b94)" style="fill: none; stroke: #2e2e2e; stroke-linecap: square"/>
   </g>
   <g id="line2d_306">
    <path d="M 1000.98 602.08 
L 1000.98 614.18 
" clip-path="url(#p30a4502b94)" style="fill: none; stroke: #2e2e2e; stroke-linecap: square"/>
   </g>
   <g id="line2d_307">
    <g clip-path="url(#p30a4502b94)">
     <use href="#m573439f9e9" x="1053.11" y="608.13" style="fill-opacity: 0; stroke: #2e2e2e"/>
    </g>
   </g>
   <g id="patch_506">
    <path d="M 900.65 626.29 
L 900.65 650.49 
L 948.52 650.49 
L 948.52 626.29 
L 900.65 626.29 
z
" clip-path="url(#p30a4502b94)" style="fill: #e79a60; stroke: #2e2e2e; stroke-linejoin: miter"/>
   </g>
   <g id="line2d_308">
    <path d="M 900.65 638.39 
L 858.03 638.39 
" clip-path="url(#p30a4502b94)" style="fill: none; stroke: #2e2e2e"/>
   </g>
   <g id="line2d_309">
    <path d="M 948.52 638.39 
L 1009.67 638.39 
" clip-path="url(#p30a4502b94)" style="fill: none; stroke: #2e2e2e"/>
   </g>
   <g id="line2d_310">
    <path d="M 858.03 632.34 
L 858.03 644.44 
" clip-path="url(#p30a4502b94)" style="fill: none; stroke: #2e2e2e; stroke-linecap: square"/>
   </g>
   <g id="line2d_311">
    <path d="M 1009.67 632.34 
L 1009.67 644.44 
" clip-path="url(#p30a4502b94)" style="fill: none; stroke: #2e2e2e; stroke-linecap: square"/>
   </g>
   <g id="line2d_312">
    <g clip-path="url(#p30a4502b94)">
     <use href="#m573439f9e9" x="1028.19" y="638.39" style="fill-opacity: 0; stroke: #2e2e2e"/>
    </g>
   </g>
   <g id="patch_507">
    <path d="M 890.81 656.55 
L 890.81 680.75 
L 955.40 680.75 
L 955.40 656.55 
L 890.81 656.55 
z
" clip-path="url(#p30a4502b94)" style="fill: #e08749; stroke: #2e2e2e; stroke-linejoin: miter"/>
   </g>
   <g id="line2d_313">
    <path d="M 890.81 668.65 
L 843.44 668.65 
" clip-path="url(#p30a4502b94)" style="fill: none; stroke: #2e2e2e"/>
   </g>
   <g id="line2d_314">
    <path d="M 955.40 668.65 
L 1005.73 668.65 
" clip-path="url(#p30a4502b94)" style="fill: none; stroke: #2e2e2e"/>
   </g>
   <g id="line2d_315">
    <path d="M 843.44 662.60 
L 843.44 674.70 
" clip-path="url(#p30a4502b94)" style="fill: none; stroke: #2e2e2e; stroke-linecap: square"/>
   </g>
   <g id="line2d_316">
    <path d="M 1005.73 662.60 
L 1005.73 674.70 
" clip-path="url(#p30a4502b94)" style="fill: none; stroke: #2e2e2e; stroke-linecap: square"/>
   </g>
   <g id="line2d_317"/>
   <g id="patch_508">
    <path d="M 897.70 686.81 
L 897.70 711.01 
L 941.96 711.01 
L 941.96 686.81 
L 897.70 686.81 
z
" clip-path="url(#p30a4502b94)" style="fill: #d67232; stroke: #2e2e2e; stroke-linejoin: miter"/>
   </g>
   <g id="line2d_318">
    <path d="M 897.70 698.91 
L 849.34 698.91 
" clip-path="url(#p30a4502b94)" style="fill: none; stroke: #2e2e2e"/>
   </g>
   <g id="line2d_319">
    <path d="M 941.96 698.91 
L 998.85 698.91 
" clip-path="url(#p30a4502b94)" style="fill: none; stroke: #2e2e2e"/>
   </g>
   <g id="line2d_320">
    <path d="M 849.34 692.86 
L 849.34 704.96 
" clip-path="url(#p30a4502b94)" style="fill: none; stroke: #2e2e2e; stroke-linecap: square"/>
   </g>
   <g id="line2d_321">
    <path d="M 998.85 692.86 
L 998.85 704.96 
" clip-path="url(#p30a4502b94)" style="fill: none; stroke: #2e2e2e; stroke-linecap: square"/>
   </g>
   <g id="line2d_322">
    <g clip-path="url(#p30a4502b94)">
     <use href="#m573439f9e9" x="1015.24" y="698.91" style="fill-opacity: 0; stroke: #2e2e2e"/>
    </g>
   </g>
   <g id="patch_509">
    <path d="M 908.85 717.06 
L 908.85 741.27 
L 954.91 741.27 
L 954.91 717.06 
L 908.85 717.06 
z
" clip-path="url(#p30a4502b94)" style="fill: #c85f24; stroke: #2e2e2e; stroke-linejoin: miter"/>
   </g>
   <g id="line2d_323">
    <path d="M 908.85 729.17 
L 873.11 729.17 
" clip-path="url(#p30a4502b94)" style="fill: none; stroke: #2e2e2e"/>
   </g>
   <g id="line2d_324">
    <path d="M 954.91 729.17 
L 1004.42 729.17 
" clip-path="url(#p30a4502b94)" style="fill: none; stroke: #2e2e2e"/>
   </g>
   <g id="line2d_325">
    <path d="M 873.11 723.12 
L 873.11 735.22 
" clip-path="url(#p30a4502b94)" style="fill: none; stroke: #2e2e2e; stroke-linecap: square"/>
   </g>
   <g id="line2d_326">
    <path d="M 1004.42 723.12 
L 1004.42 735.22 
" clip-path="url(#p30a4502b94)" style="fill: none; stroke: #2e2e2e; stroke-linecap: square"/>
   </g>
   <g id="line2d_327">
    <g clip-path="url(#p30a4502b94)">
     <use href="#m573439f9e9" x="1024.75" y="729.17" style="fill-opacity: 0; stroke: #2e2e2e"/>
    </g>
   </g>
   <g id="patch_510">
    <path d="M 887.37 747.32 
L 887.37 771.53 
L 952.78 771.53 
L 952.78 747.32 
L 887.37 747.32 
z
" clip-path="url(#p30a4502b94)" style="fill: #b74e1b; stroke: #2e2e2e; stroke-linejoin: miter"/>
   </g>
   <g id="line2d_328">
    <path d="M 887.37 759.43 
L 851.63 759.43 
" clip-path="url(#p30a4502b94)" style="fill: none; stroke: #2e2e2e"/>
   </g>
   <g id="line2d_329">
    <path d="M 952.78 759.43 
L 991.47 759.43 
" clip-path="url(#p30a4502b94)" style="fill: none; stroke: #2e2e2e"/>
   </g>
   <g id="line2d_330">
    <path d="M 851.63 753.38 
L 851.63 765.48 
" clip-path="url(#p30a4502b94)" style="fill: none; stroke: #2e2e2e; stroke-linecap: square"/>
   </g>
   <g id="line2d_331">
    <path d="M 991.47 753.38 
L 991.47 765.48 
" clip-path="url(#p30a4502b94)" style="fill: none; stroke: #2e2e2e; stroke-linecap: square"/>
   </g>
   <g id="line2d_332"/>
   <g id="patch_511">
    <path d="M 900.65 777.58 
L 900.65 801.79 
L 963.60 801.79 
L 963.60 777.58 
L 900.65 777.58 
z
" clip-path="url(#p30a4502b94)" style="fill: #9c4218; stroke: #2e2e2e; stroke-linejoin: miter"/>
   </g>
   <g id="line2d_333">
    <path d="M 900.65 789.69 
L 856.22 789.69 
" clip-path="url(#p30a4502b94)" style="fill: none; stroke: #2e2e2e"/>
   </g>
   <g id="line2d_334">
    <path d="M 963.60 789.69 
L 1038.03 789.69 
" clip-path="url(#p30a4502b94)" style="fill: none; stroke: #2e2e2e"/>
   </g>
   <g id="line2d_335">
    <path d="M 856.22 783.64 
L 856.22 795.74 
" clip-path="url(#p30a4502b94)" style="fill: none; stroke: #2e2e2e; stroke-linecap: square"/>
   </g>
   <g id="line2d_336">
    <path d="M 1038.03 783.64 
L 1038.03 795.74 
" clip-path="url(#p30a4502b94)" style="fill: none; stroke: #2e2e2e; stroke-linecap: square"/>
   </g>
   <g id="line2d_337"/>
   <g id="patch_512">
    <path d="M 906.72 807.84 
L 906.72 832.05 
L 943.27 832.05 
L 943.27 807.84 
L 906.72 807.84 
z
" clip-path="url(#p30a4502b94)" style="fill: #843716; stroke: #2e2e2e; stroke-linejoin: miter"/>
   </g>
   <g id="line2d_338">
    <path d="M 906.72 819.95 
L 881.31 819.95 
" clip-path="url(#p30a4502b94)" style="fill: none; stroke: #2e2e2e"/>
   </g>
   <g id="line2d_339">
    <path d="M 943.27 819.95 
L 995.90 819.95 
" clip-path="url(#p30a4502b94)" style="fill: none; stroke: #2e2e2e"/>
   </g>
   <g id="line2d_340">
    <path d="M 881.31 813.90 
L 881.31 826.00 
" clip-path="url(#p30a4502b94)" style="fill: none; stroke: #2e2e2e; stroke-linecap: square"/>
   </g>
   <g id="line2d_341">
    <path d="M 995.90 813.90 
L 995.90 826.00 
" clip-path="url(#p30a4502b94)" style="fill: none; stroke: #2e2e2e; stroke-linecap: square"/>
   </g>
   <g id="line2d_342">
    <g clip-path="url(#p30a4502b94)">
     <use href="#m573439f9e9" x="1041.96" y="819.95" style="fill-opacity: 0; stroke: #2e2e2e"/>
     <use href="#m573439f9e9" x="1053.11" y="819.95" style="fill-opacity: 0; stroke: #2e2e2e"/>
    </g>
   </g>
   <g id="line2d_343">
    <path d="M 917.54 474.99 
L 917.54 499.20 
" clip-path="url(#p30a4502b94)" style="fill: none; stroke: #2e2e2e"/>
   </g>
   <g id="line2d_344">
    <path d="M 925.24 505.25 
L 925.24 529.46 
" clip-path="url(#p30a4502b94)" style="fill: none; stroke: #2e2e2e"/>
   </g>
   <g id="line2d_345">
    <path d="M 917.04 535.51 
L 917.04 559.71 
" clip-path="url(#p30a4502b94)" style="fill: none; stroke: #2e2e2e"/>
   </g>
   <g id="line2d_346">
    <path d="M 915.24 565.77 
L 915.24 589.97 
" clip-path="url(#p30a4502b94)" style="fill: none; stroke: #2e2e2e"/>
   </g>
   <g id="line2d_347">
    <path d="M 907.04 596.03 
L 907.04 620.23 
" clip-path="url(#p30a4502b94)" style="fill: none; stroke: #2e2e2e"/>
   </g>
   <g id="line2d_348">
    <path d="M 925.57 626.29 
L 925.57 650.49 
" clip-path="url(#p30a4502b94)" style="fill: none; stroke: #2e2e2e"/>
   </g>
   <g id="line2d_349">
    <path d="M 926.06 656.55 
L 926.06 680.75 
" clip-path="url(#p30a4502b94)" style="fill: none; stroke: #2e2e2e"/>
   </g>
   <g id="line2d_350">
    <path d="M 920 686.81 
L 920 711.01 
" clip-path="url(#p30a4502b94)" style="fill: none; stroke: #2e2e2e"/>
   </g>
   <g id="line2d_351">
    <path d="M 929.01 717.06 
L 929.01 741.27 
" clip-path="url(#p30a4502b94)" style="fill: none; stroke: #2e2e2e"/>
   </g>
   <g id="line2d_352">
    <path d="M 917.54 747.32 
L 917.54 771.53 
" clip-path="url(#p30a4502b94)" style="fill: none; stroke: #2e2e2e"/>
   </g>
   <g id="line2d_353">
    <path d="M 917.54 777.58 
L 917.54 801.79 
" clip-path="url(#p30a4502b94)" style="fill: none; stroke: #2e2e2e"/>
   </g>
   <g id="line2d_354">
    <path d="M 922.62 807.84 
L 922.62 832.05 
" clip-path="url(#p30a4502b94)" style="fill: none; stroke: #2e2e2e"/>
   </g>
   <g id="patch_513">
    <path d="M 802.62 835.08 
L 802.62 471.96 
" style="fill: none; stroke: #000000; stroke-width: 0.8; stroke-linejoin: miter; stroke-linecap: square"/>
   </g>
   <g id="patch_514">
    <path d="M 1121.47 835.08 
L 1121.47 471.96 
" style="fill: none; stroke: #000000; stroke-width: 0.8; stroke-linejoin: miter; stroke-linecap: square"/>
   </g>
   <g id="patch_515">
    <path d="M 802.62 835.08 
L 1121.47 835.08 
" style="fill: none; stroke: #000000; stroke-width: 0.8; stroke-linejoin: miter; stroke-linecap: square"/>
   </g>
   <g id="patch_516">
    <path d="M 802.62 471.96 
L 1121.47 471.96 
" style="fill: none; stroke: #000000; stroke-width: 0.8; stroke-linejoin: miter; stroke-linecap: square"/>
   </g>
  </g>
  <g id="text_154">
   <text style="stroke: #000; stroke-width: 0.10; font-size: 20px; font-family: 'DejaVu Sans', sans-serif; text-anchor: middle" x="566.72" y="17.38" transform="rotate(-0 566.72 17.38)">Linac 1 to 8 - (6 MV) vs (6 MV FFF) vs (18 MV) Radii histogram for all gantry angles</text>
  </g>
  <g id="text_155">
   <text style="stroke: #000; stroke-width: 0.10; font-size: 20px; font-family: 'DejaVu Sans', sans-serif; text-anchor: middle" x="566.72" y="862.30" transform="rotate(-0 566.72 862.30)">Linac 1 to 8 - (6 MV) vs (6 MV FFF) vs (18 MV) Radii boxplot for all gantry angles</text>
  </g>
 </g>
 <defs>
  <clipPath id="pce05e1e68a">
   <rect x="41.80" y="38.52" width="318.85" height="356.72"/>
  </clipPath>
  <clipPath id="pdde371724e">
   <rect x="41.80" y="471.96" width="318.85" height="363.11"/>
  </clipPath>
  <clipPath id="p01abf23111">
   <rect x="422.21" y="38.52" width="318.85" height="356.72"/>
  </clipPath>
  <clipPath id="pe8e8a788a5">
   <rect x="422.21" y="471.96" width="318.85" height="363.11"/>
  </clipPath>
  <clipPath id="p7c38246ff5">
   <rect x="802.62" y="38.52" width="318.85" height="356.72"/>
  </clipPath>
  <clipPath id="p30a4502b94">
   <rect x="802.62" y="471.96" width="318.85" height="363.11"/>
  </clipPath>
 </defs>
</svg>

</body></html>
